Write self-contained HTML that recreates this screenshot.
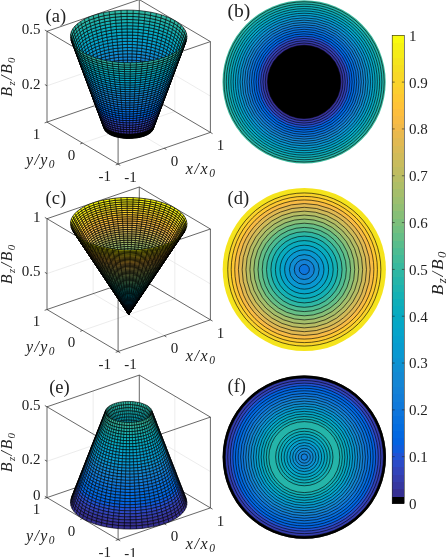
<!DOCTYPE html>
<html><head><meta charset="utf-8"><title>Figure</title>
<style>html,body{margin:0;padding:0;background:#fff}svg{display:block}</style></head>
<body>
<svg width="448" height="557" viewBox="0 0 448 557">
<rect width="448" height="557" fill="#fff"/>
<g>
<line x1="47" y1="85.78" x2="139.3" y2="54.08" stroke="#dfdfdf" stroke-width="0.6" />
<line x1="139.3" y1="54.08" x2="210.4" y2="96.08" stroke="#dfdfdf" stroke-width="0.6" />
<line x1="93.15" y1="106.25" x2="93.15" y2="15.45" stroke="#dfdfdf" stroke-width="0.6" />
<line x1="174.85" y1="111.4" x2="174.85" y2="20.6" stroke="#dfdfdf" stroke-width="0.6" />
<line x1="164.25" y1="148.25" x2="93.15" y2="106.25" stroke="#dfdfdf" stroke-width="0.6" />
<line x1="82.55" y1="143.1" x2="174.85" y2="111.4" stroke="#dfdfdf" stroke-width="0.6" />
<line x1="118.1" y1="164.1" x2="210.4" y2="132.4" stroke="#262626" stroke-width="0.7" />
<line x1="118.1" y1="73.3" x2="210.4" y2="41.6" stroke="#262626" stroke-width="0.7" />
<line x1="118.1" y1="164.1" x2="118.1" y2="73.3" stroke="#262626" stroke-width="0.7" />
<line x1="210.4" y1="132.4" x2="139.3" y2="90.4" stroke="#262626" stroke-width="0.7" />
<line x1="210.4" y1="41.6" x2="139.3" y2="-0.4" stroke="#262626" stroke-width="0.7" />
<line x1="210.4" y1="132.4" x2="210.4" y2="41.6" stroke="#262626" stroke-width="0.7" />
<line x1="139.3" y1="90.4" x2="47" y2="122.1" stroke="#262626" stroke-width="0.7" />
<line x1="139.3" y1="-0.4" x2="47" y2="31.3" stroke="#262626" stroke-width="0.7" />
<line x1="139.3" y1="90.4" x2="139.3" y2="-0.4" stroke="#262626" stroke-width="0.7" />
<line x1="47" y1="122.1" x2="118.1" y2="164.1" stroke="#262626" stroke-width="0.7" />
<line x1="47" y1="31.3" x2="118.1" y2="73.3" stroke="#262626" stroke-width="0.7" />
<line x1="47" y1="122.1" x2="47" y2="31.3" stroke="#262626" stroke-width="0.7" />
<line x1="118.1" y1="164.1" x2="120.25" y2="165.37" stroke="#262626" stroke-width="0.7" />
<line x1="164.25" y1="148.25" x2="166.4" y2="149.52" stroke="#262626" stroke-width="0.7" />
<line x1="210.4" y1="132.4" x2="212.55" y2="133.67" stroke="#262626" stroke-width="0.7" />
<line x1="118.1" y1="164.1" x2="115.74" y2="164.91" stroke="#262626" stroke-width="0.7" />
<line x1="82.55" y1="143.1" x2="80.19" y2="143.91" stroke="#262626" stroke-width="0.7" />
<line x1="47" y1="122.1" x2="44.64" y2="122.91" stroke="#262626" stroke-width="0.7" />
<line x1="47" y1="85.78" x2="44.85" y2="84.51" stroke="#262626" stroke-width="0.7" />
<line x1="47" y1="31.3" x2="44.85" y2="30.03" stroke="#262626" stroke-width="0.7" />
<g stroke="#000" stroke-width="0.65" stroke-opacity="1" stroke-linejoin="round"><path fill="#000000" d="M154 126.8l.4-1.2 0-1.2-.2-1.2-.5-1.2-.7-1.2-1.1-1.1-1.3-1.1-1.5-1-1.8-1-1.9-.8-2.2-.7-2.3-.7-2.4-.5-2.5-.4-2.7-.3-2.6-.2-2.7 0-2.7 0-2.7 .3-2.5 .3-2.5 .4-2.4 .6-2.2 .7-2.1 .8-1.8 .9-1.6 .9-1.4 1.1-1.2 1-.9 1.2-.6 1.2-.4 1.2 0 1.2 .2 1.2 1 2.6-.2-1.1 0-1.2 .3-1.2 .6-1.1 .9-1.1 1.1-1.1 1.4-1 1.5-.9 1.8-.8 2-.8 2.1-.6 2.3-.6 2.4-.4 2.5-.3 2.5-.2 2.6-.1 2.6 0 2.6 .2 2.5 .3 2.4 .4 2.4 .5 2.2 .6 2 .7 1.9 .8 1.7 .9 1.5 1 1.2 1 1 1.1 .8 1.1 .4 1.2 .2 1.1 0 1.2-.3 1.2z"/><path fill="#000000" d="M155 124.2l.4-1.2 0-1.3-.2-1.3-.5-1.2-.8-1.2-1.1-1.2-1.3-1.1-1.6-1.1-1.8-.9-2.1-.9-2.2-.8-2.4-.7-2.5-.5-2.7-.4-2.7-.3-2.8-.2-2.7-.1-2.8 .1-2.8 .2-2.7 .4-2.6 .5-2.4 .6-2.3 .7-2.1 .8-2 .9-1.7 1-1.4 1.1-1.2 1.1-.9 1.2-.7 1.2-.4 1.3 0 1.2 .2 1.3 1 2.6-.2-1.2 0-1.2 .4-1.2 .6-1.2 .9-1.2 1.2-1 1.4-1.1 1.6-.9 1.8-.9 2.1-.8 2.2-.7 2.4-.6 2.5-.4 2.5-.3 2.7-.3 2.7 0 2.7 0 2.6 .2 2.7 .3 2.5 .4 2.4 .5 2.3 .7 2.2 .7 1.9 .8 1.8 1 1.5 1 1.3 1.1 1.1 1.1 .7 1.2 .5 1.2 .2 1.2 0 1.2-.4 1.2z"/><path fill="#363093" d="M156 121.6l.3-1.3 .1-1.3-.2-1.3-.6-1.3-.8-1.2-1.1-1.3-1.4-1.1-1.6-1.1-1.9-1-2.1-.9-2.3-.8-2.5-.7-2.6-.6-2.8-.4-2.8-.4-2.9-.1-2.9-.1-2.9 .1-2.8 .2-2.8 .4-2.7 .5-2.5 .6-2.4 .7-2.2 .9-2 .9-1.8 1.1-1.5 1.1-1.2 1.2-1 1.2-.7 1.3-.3 1.3-.1 1.3 .2 1.3 1 2.6-.2-1.3 0-1.2 .4-1.3 .7-1.2 .9-1.2 1.2-1.1 1.4-1.1 1.7-1 2-.9 2.1-.8 2.3-.7 2.4-.6 2.6-.5 2.7-.4 2.8-.2 2.8-.1 2.7 .1 2.8 .2 2.7 .3 2.7 .4 2.5 .5 2.4 .7 2.2 .8 2.1 .9 1.8 .9 1.6 1.1 1.3 1.1 1.1 1.2 .8 1.2 .5 1.2 .2 1.3 0 1.3-.4 1.2z"/><path fill="#3637a0" d="M156.9 119l.4-1.3 .1-1.4-.3-1.3-.5-1.4-.9-1.3-1.1-1.2-1.5-1.2-1.7-1.1-1.9-1.1-2.2-.9-2.4-.9-2.6-.7-2.7-.6-2.8-.4-2.9-.4-3-.1-3-.1-3 .1-3 .2-2.8 .4-2.8 .5-2.6 .7-2.5 .7-2.3 .9-2.1 1-1.8 1-1.5 1.2-1.3 1.2-1 1.3-.7 1.3-.4 1.3-.1 1.4 .3 1.4 .9 2.6-.2-1.3 .1-1.3 .3-1.3 .7-1.3 1-1.2 1.2-1.2 1.5-1.1 1.8-1.1 2-.9 2.2-.9 2.4-.7 2.5-.6 2.7-.5 2.8-.4 2.8-.2 2.9-.1 2.9 .1 2.9 .1 2.8 .4 2.8 .4 2.6 .6 2.5 .7 2.3 .8 2.1 .9 1.9 1 1.6 1.1 1.4 1.1 1.1 1.3 .8 1.2 .6 1.3 .2 1.3-.1 1.3-.3 1.3z"/><path fill="#353dad" d="M157.9 116.4l.4-1.3 .1-1.4-.3-1.4-.5-1.4-.9-1.4-1.2-1.3-1.5-1.2-1.8-1.2-2-1.1-2.3-.9-2.4-.9-2.7-.7-2.8-.6-2.9-.5-3-.4-3.1-.2-3.1 0-3.1 .1-3.1 .2-3 .4-2.8 .6-2.8 .6-2.5 .8-2.4 .9-2.1 1-1.9 1.1-1.6 1.2-1.3 1.3-1.1 1.3-.7 1.3-.4 1.4-.1 1.4 .3 1.4 1 2.7-.3-1.4 .1-1.4 .4-1.3 .7-1.3 1-1.3 1.3-1.2 1.5-1.2 1.8-1 2.1-1 2.3-.9 2.5-.7 2.6-.7 2.8-.5 2.8-.4 3-.2 3-.1 3 .1 3 .1 2.9 .4 2.8 .4 2.7 .6 2.6 .7 2.4 .9 2.2 .9 1.9 1.1 1.7 1.1 1.5 1.2 1.1 1.2 .9 1.3 .5 1.4 .3 1.3-.1 1.4-.4 1.3z"/><path fill="#3243ba" d="M158.9 113.9l.4-1.5 .1-1.4-.3-1.5-.6-1.4-.9-1.4-1.2-1.3-1.6-1.3-1.8-1.2-2.1-1.1-2.3-1-2.6-.9-2.7-.8-2.9-.6-3-.5-3.2-.4-3.2-.2-3.2 0-3.2 .1-3.1 .2-3.1 .4-3 .6-2.8 .7-2.6 .8-2.5 .9-2.2 1-1.9 1.2-1.7 1.2-1.4 1.3-1 1.4-.8 1.4-.4 1.4-.1 1.5 .3 1.4 1 2.6-.3-1.4 .1-1.4 .4-1.4 .7-1.3 1.1-1.3 1.3-1.3 1.6-1.2 1.9-1.1 2.1-1 2.4-.9 2.5-.8 2.8-.6 2.8-.6 3-.4 3.1-.2 3.1-.1 3.1 0 3.1 .2 3 .4 2.9 .5 2.8 .6 2.7 .7 2.4 .9 2.3 .9 2 1.1 1.8 1.2 1.5 1.2 1.2 1.3 .9 1.4 .5 1.4 .3 1.4-.1 1.4-.4 1.3z"/><path fill="#2c4ac7" d="M159.8 111.3l.5-1.5 0-1.5-.2-1.5-.6-1.5-1-1.4-1.3-1.4-1.5-1.3-1.9-1.3-2.2-1.1-2.4-1-2.6-1-2.8-.8-3-.6-3.2-.5-3.2-.4-3.3-.2-3.3 0-3.3 .1-3.2 .2-3.2 .4-3.1 .6-2.9 .7-2.7 .8-2.5 1-2.3 1.1-2 1.2-1.7 1.2-1.5 1.4-1.1 1.4-.7 1.4-.5 1.5 0 1.5 .2 1.5 1 2.6-.3-1.4 .1-1.5 .4-1.4 .8-1.4 1-1.4 1.4-1.3 1.7-1.2 1.9-1.2 2.2-1 2.5-.9 2.6-.8 2.8-.7 3-.6 3.1-.4 3.1-.2 3.2-.1 3.2 0 3.2 .2 3.2 .4 3 .5 2.9 .6 2.7 .8 2.6 .9 2.3 1 2.1 1.1 1.8 1.2 1.6 1.3 1.2 1.3 .9 1.4 .6 1.4 .3 1.5-.1 1.4-.4 1.5z"/><path fill="#2053d4" d="M160.8 108.7l.4-1.5 .1-1.6-.2-1.5-.7-1.5-1-1.5-1.3-1.5-1.6-1.3-1.9-1.3-2.3-1.2-2.4-1-2.8-1-2.9-.8-3.1-.7-3.2-.5-3.3-.4-3.4-.2-3.4-.1-3.4 .2-3.4 .2-3.3 .5-3.1 .5-3 .8-2.8 .8-2.6 1-2.4 1.1-2 1.2-1.8 1.3-1.5 1.4-1.1 1.5-.8 1.5-.4 1.5-.1 1.6 .2 1.5 1 2.6-.2-1.5 0-1.5 .5-1.5 .7-1.4 1.1-1.4 1.5-1.4 1.7-1.2 2-1.2 2.3-1.1 2.5-1 2.7-.8 2.9-.7 3.1-.6 3.2-.4 3.2-.2 3.3-.1 3.3 0 3.3 .2 3.2 .4 3.2 .5 3 .6 2.8 .8 2.6 1 2.4 1 2.2 1.1 1.9 1.3 1.5 1.3 1.3 1.4 1 1.4 .6 1.5 .2 1.5 0 1.5-.5 1.5z"/><path fill="#0f5cdd" d="M161.8 106.1l.4-1.6 .1-1.6-.3-1.5-.6-1.6-1-1.5-1.4-1.5-1.7-1.4-2-1.3-2.3-1.3-2.5-1.1-2.8-.9-3-.9-3.2-.7-3.3-.5-3.4-.4-3.5-.2-3.5-.1-3.6 .1-3.4 .3-3.4 .5-3.2 .6-3.1 .7-2.9 .9-2.7 1-2.4 1.2-2.1 1.2-1.9 1.4-1.5 1.4-1.2 1.5-.8 1.5-.4 1.6-.1 1.6 .3 1.6 .9 2.6-.2-1.5 .1-1.6 .4-1.5 .8-1.5 1.1-1.5 1.5-1.4 1.8-1.3 2-1.2 2.4-1.1 2.6-1 2.8-.8 3-.8 3.1-.5 3.3-.5 3.4-.2 3.4-.2 3.4 .1 3.4 .2 3.3 .4 3.2 .5 3.1 .7 2.9 .8 2.8 1 2.4 1 2.3 1.2 1.9 1.3 1.6 1.3 1.3 1.5 1 1.5 .7 1.5 .2 1.5-.1 1.6-.4 1.5z"/><path fill="#0363e1" d="M162.7 103.5l.5-1.6 .1-1.6-.3-1.7-.7-1.6-1-1.6-1.4-1.5-1.7-1.4-2.1-1.4-2.3-1.2-2.7-1.2-2.9-1-3-.8-3.3-.7-3.4-.6-3.6-.4-3.5-.2-3.7-.1-3.6 .1-3.5 .3-3.5 .5-3.4 .6-3.1 .8-3 .9-2.8 1-2.5 1.2-2.2 1.3-1.8 1.4-1.6 1.4-1.2 1.6-.8 1.6-.5 1.6-.1 1.6 .3 1.7 1 2.6-.3-1.6 .1-1.6 .4-1.6 .8-1.5 1.2-1.5 1.5-1.4 1.9-1.4 2.1-1.2 2.4-1.2 2.7-1 2.9-.9 3.1-.7 3.2-.6 3.4-.5 3.4-.3 3.6-.1 3.5 .1 3.5 .2 3.4 .4 3.3 .5 3.2 .7 3 .9 2.8 .9 2.5 1.1 2.3 1.3 2 1.3 1.7 1.4 1.4 1.5 1 1.5 .6 1.6 .3 1.5-.1 1.6-.4 1.6z"/><path fill="#0268e1" d="M163.7 100.9l.5-1.6 .1-1.7-.3-1.7-.7-1.7-1.1-1.6-1.4-1.5-1.8-1.5-2.1-1.4-2.4-1.3-2.7-1.2-3-1-3.2-.9-3.3-.7-3.6-.6-3.6-.4-3.7-.2-3.7-.1-3.7 .1-3.7 .3-3.5 .5-3.5 .6-3.3 .8-3 .9-2.9 1.1-2.5 1.2-2.3 1.4-1.9 1.4-1.6 1.5-1.2 1.6-.9 1.6-.5 1.7-.1 1.7 .3 1.6 1 2.7-.3-1.7 .1-1.6 .5-1.6 .8-1.6 1.2-1.6 1.6-1.4 1.8-1.4 2.2-1.3 2.5-1.2 2.8-1 3-.9 3.1-.8 3.4-.6 3.5-.5 3.5-.3 3.6-.1 3.7 .1 3.5 .2 3.6 .4 3.4 .6 3.3 .7 3 .8 2.9 1 2.7 1.2 2.3 1.2 2.1 1.4 1.7 1.4 1.4 1.5 1 1.6 .7 1.6 .3 1.7-.1 1.6-.5 1.6z"/><path fill="#046de0" d="M164.7 98.3l.5-1.7 .1-1.7-.3-1.7-.7-1.7-1.1-1.7-1.5-1.6-1.8-1.5-2.2-1.4-2.5-1.4-2.8-1.2-3-1-3.3-1-3.5-.7-3.6-.6-3.7-.4-3.8-.3-3.8 0-3.8 .1-3.8 .3-3.7 .5-3.5 .6-3.4 .8-3.1 1-2.9 1.1-2.7 1.3-2.3 1.3-2 1.5-1.6 1.6-1.3 1.6-.9 1.7-.5 1.7-.1 1.7 .3 1.7 1 2.6-.3-1.6 .1-1.7 .5-1.7 .9-1.6 1.2-1.6 1.6-1.5 1.9-1.4 2.3-1.4 2.5-1.2 2.9-1.1 3-.9 3.3-.8 3.5-.6 3.5-.5 3.7-.3 3.7-.1 3.7 .1 3.7 .2 3.6 .4 3.6 .6 3.3 .7 3.2 .9 3 1 2.7 1.2 2.4 1.3 2.1 1.4 1.8 1.5 1.4 1.5 1.1 1.6 .7 1.7 .3 1.7-.1 1.7-.5 1.6z"/><path fill="#0871de" d="M165.6 95.8l.6-1.8 .1-1.8-.4-1.7-.7-1.8-1.1-1.7-1.5-1.6-1.9-1.6-2.2-1.5-2.6-1.3-2.9-1.3-3.1-1.1-3.3-.9-3.6-.8-3.7-.6-3.8-.4-3.9-.3-4 0-3.9 .1-3.8 .3-3.8 .5-3.6 .7-3.5 .8-3.2 1-3 1.1-2.7 1.3-2.4 1.4-2 1.5-1.7 1.6-1.3 1.7-.9 1.7-.6 1.8-.1 1.7 .4 1.8 .9 2.6-.3-1.7 .1-1.7 .5-1.7 .9-1.7 1.3-1.6 1.6-1.6 2-1.5 2.3-1.3 2.7-1.3 2.9-1.1 3.1-1 3.4-.8 3.5-.6 3.7-.5 3.8-.3 3.8-.1 3.8 0 3.8 .3 3.7 .4 3.6 .6 3.5 .7 3.3 1 3 1 2.8 1.2 2.5 1.4 2.2 1.4 1.8 1.5 1.5 1.6 1.1 1.7 .7 1.7 .3 1.7-.1 1.7-.5 1.7z"/><path fill="#0d75dc" d="M166.6 93.2l.5-1.8 .1-1.9-.3-1.8-.7-1.8-1.2-1.7-1.5-1.7-2-1.6-2.3-1.5-2.6-1.4-2.9-1.3-3.2-1.1-3.5-1-3.6-.8-3.8-.6-3.9-.4-4-.3-4.1 0-4 .1-4 .3-3.8 .5-3.8 .7-3.5 .8-3.3 1.1-3.1 1.1-2.8 1.3-2.4 1.5-2.1 1.5-1.7 1.7-1.4 1.7-.9 1.8-.5 1.8-.1 1.8 .3 1.8 1 2.6-.4-1.8 .1-1.7 .6-1.8 .9-1.7 1.3-1.7 1.7-1.6 2-1.5 2.4-1.4 2.7-1.3 3-1.1 3.2-1 3.5-.8 3.6-.7 3.8-.5 3.8-.3 3.9-.1 4 0 3.9 .3 3.8 .4 3.7 .6 3.6 .8 3.3 .9 3.1 1.1 2.9 1.3 2.6 1.3 2.2 1.5 1.9 1.6 1.5 1.6 1.1 1.7 .7 1.8 .4 1.7-.1 1.8-.6 1.8z"/><path fill="#1079da" d="M167.6 90.6l.5-1.9 .1-1.8-.3-1.9-.8-1.8-1.2-1.8-1.5-1.8-2-1.6-2.4-1.6-2.7-1.4-3-1.3-3.3-1.1-3.5-1-3.7-.9-3.9-.6-4.1-.4-4.1-.3-4.1-.1-4.1 .2-4.1 .3-4 .5-3.8 .7-3.6 .9-3.4 1-3.2 1.2-2.8 1.4-2.5 1.5-2.2 1.5-1.8 1.7-1.3 1.8-1 1.8-.5 1.8-.1 1.9 .3 1.9 1 2.6-.3-1.8 .1-1.8 .5-1.8 .9-1.8 1.4-1.7 1.7-1.7 2.1-1.5 2.4-1.5 2.8-1.3 3.1-1.1 3.3-1.1 3.5-.8 3.8-.7 3.8-.5 4-.3 4-.1 4.1 0 4 .3 3.9 .4 3.8 .6 3.6 .8 3.5 1 3.2 1.1 2.9 1.3 2.6 1.4 2.3 1.5 2 1.6 1.5 1.7 1.2 1.7 .7 1.8 .3 1.8-.1 1.9-.5 1.8z"/><path fill="#127dd8" d="M168.6 88l.5-1.9 .1-1.9-.3-1.9-.8-1.9-1.2-1.9-1.7-1.7-2-1.7-2.4-1.6-2.8-1.5-3-1.3-3.4-1.2-3.6-1-3.9-.8-4-.7-4.1-.4-4.2-.3-4.2-.1-4.3 .2-4.1 .3-4.1 .5-3.9 .7-3.7 .9-3.5 1.1-3.2 1.2-3 1.4-2.5 1.5-2.2 1.7-1.9 1.7-1.4 1.8-1 1.8-.5 1.9-.1 2 .3 1.9 1 2.6-.3-1.9 .1-1.9 .5-1.8 1-1.8 1.3-1.8 1.8-1.7 2.2-1.5 2.5-1.5 2.8-1.4 3.2-1.2 3.4-1 3.6-.9 3.8-.7 4-.5 4.1-.3 4.1-.2 4.1 .1 4.1 .3 4.1 .4 3.9 .6 3.7 .9 3.5 1 3.3 1.1 3 1.3 2.7 1.4 2.4 1.6 2 1.6 1.5 1.8 1.2 1.8 .8 1.8 .3 1.9-.1 1.8-.5 1.9z"/><path fill="#1481d6" d="M169.5 85.4l.6-1.9 .1-2-.4-1.9-.8-2-1.2-1.9-1.7-1.8-2.1-1.7-2.4-1.6-2.8-1.5-3.2-1.4-3.5-1.2-3.7-1.1-3.9-.8-4.1-.7-4.2-.5-4.3-.2-4.4-.1-4.3 .1-4.3 .4-4.1 .5-4 .8-3.9 .9-3.5 1.1-3.3 1.2-3 1.5-2.7 1.5-2.2 1.7-1.9 1.7-1.4 1.9-1 1.9-.6 1.9-.1 2 .4 1.9 .9 2.7-.3-1.9 .1-2 .5-1.9 1-1.8 1.4-1.8 1.9-1.7 2.2-1.7 2.5-1.5 3-1.4 3.2-1.2 3.5-1.1 3.7-.9 3.9-.7 4.1-.5 4.1-.3 4.3-.2 4.2 .1 4.2 .3 4.1 .4 4 .7 3.9 .8 3.6 1 3.4 1.2 3 1.3 2.8 1.5 2.4 1.6 2 1.7 1.7 1.7 1.2 1.9 .8 1.9 .3 1.9-.1 1.9-.5 1.9z"/><path fill="#1485d4" d="M170.5 82.8l.6-2 .1-2-.4-2-.8-2-1.3-1.9-1.7-1.8-2.1-1.8-2.5-1.7-2.9-1.5-3.3-1.4-3.5-1.2-3.8-1.1-4-.9-4.2-.7-4.3-.5-4.4-.2-4.5-.1-4.4 .1-4.4 .4-4.3 .5-4.1 .8-3.9 .9-3.6 1.2-3.4 1.3-3.1 1.4-2.7 1.6-2.3 1.7-1.9 1.8-1.5 1.9-1 1.9-.6 2-.1 2 .4 2 1 2.6-.4-1.9 .1-2 .6-1.9 1-1.9 1.4-1.9 1.9-1.7 2.2-1.7 2.7-1.5 3-1.5 3.3-1.2 3.5-1.1 3.9-.9 4-.8 4.1-.5 4.3-.4 4.3-.1 4.4 .1 4.3 .2 4.2 .5 4.1 .7 3.9 .8 3.7 1.1 3.5 1.2 3.2 1.4 2.8 1.5 2.4 1.6 2.1 1.7 1.7 1.8 1.2 1.9 .8 2 .4 1.9-.1 2-.6 1.9z"/><path fill="#1485d4" d="M171.5 80.2l.5-2 .2-2-.4-2.1-.8-2-1.3-2-1.8-1.9-2.2-1.8-2.6-1.7-2.9-1.6-3.3-1.4-3.6-1.3-3.9-1.1-4.1-.9-4.3-.7-4.5-.5-4.5-.3-4.5 0-4.6 .1-4.4 .4-4.4 .5-4.2 .8-4 1-3.7 1.1-3.5 1.4-3.1 1.4-2.8 1.7-2.3 1.7-2 1.9-1.5 1.9-1.1 2-.5 2-.2 2.1 .4 2 1 2.6-.4-2 .1-2 .6-2 1-1.9 1.5-1.9 1.9-1.8 2.3-1.7 2.7-1.6 3.1-1.4 3.4-1.3 3.6-1.2 3.9-.9 4.1-.8 4.3-.5 4.4-.4 4.4-.1 4.5 .1 4.4 .2 4.3 .5 4.2 .7 4 .9 3.8 1.1 3.5 1.2 3.3 1.4 2.9 1.5 2.5 1.7 2.1 1.8 1.7 1.8 1.3 1.9 .8 2 .4 2-.1 2-.6 2z"/><path fill="#1389d3" d="M172.4 77.7l.6-2.1 .1-2.1-.3-2.1-.9-2.1-1.3-2-1.8-2-2.2-1.8-2.7-1.8-3-1.6-3.4-1.4-3.7-1.3-4-1.1-4.2-1-4.4-.7-4.5-.5-4.6-.3-4.6 0-4.7 .1-4.6 .4-4.4 .6-4.3 .7-4.1 1-3.8 1.2-3.6 1.4-3.2 1.5-2.8 1.6-2.4 1.8-2 1.9-1.6 2-1 2-.6 2.1-.1 2.1 .3 2.1 1 2.6-.4-2 .2-2.1 .5-2 1.1-2 1.5-1.9 2-1.9 2.3-1.7 2.8-1.7 3.1-1.4 3.5-1.4 3.7-1.1 4-1 4.2-.8 4.4-.5 4.4-.4 4.6-.1 4.5 0 4.5 .3 4.5 .5 4.3 .7 4.1 .9 3.9 1.1 3.6 1.3 3.3 1.4 2.9 1.6 2.6 1.7 2.2 1.8 1.8 1.9 1.3 2 .8 2 .4 2.1-.2 2-.5 2z"/><path fill="#108ed2" d="M173.4 75.1l.6-2.2 .1-2.1-.4-2.1-.8-2.2-1.4-2-1.8-2-2.3-1.9-2.7-1.8-3.1-1.6-3.4-1.5-3.8-1.4-4.1-1.1-4.3-.9-4.5-.8-4.6-.5-4.7-.3-4.8-.1-4.7 .2-4.7 .4-4.6 .6-4.3 .8-4.2 1-3.9 1.2-3.6 1.4-3.3 1.5-2.9 1.7-2.5 1.8-2 2-1.6 2-1.1 2.1-.6 2.1-.1 2.1 .4 2.2 .9 2.6-.3-2.1 .1-2.1 .6-2.1 1-2 1.6-2 2-1.9 2.4-1.8 2.8-1.6 3.2-1.5 3.6-1.4 3.8-1.2 4.1-1 4.3-.7 4.4-.6 4.6-.4 4.7-.1 4.6 0 4.6 .3 4.5 .5 4.4 .7 4.2 1 4 1.1 3.7 1.3 3.4 1.4 3 1.6 2.7 1.8 2.2 1.8 1.8 2 1.3 2 .9 2.1 .3 2.1-.1 2.1-.6 2.1z"/><path fill="#0c93d2" d="M174.4 72.5l.6-2.2 .1-2.2-.4-2.2-.9-2.1-1.4-2.1-1.8-2.1-2.4-1.9-2.7-1.8-3.2-1.7-3.5-1.5-3.9-1.4-4.1-1.2-4.4-.9-4.6-.8-4.7-.5-4.8-.3-4.9-.1-4.8 .2-4.8 .4-4.7 .6-4.5 .8-4.2 1-4 1.3-3.7 1.4-3.4 1.6-2.9 1.7-2.5 1.8-2.1 2-1.6 2.1-1.2 2.1-.6 2.2-.1 2.2 .4 2.2 1 2.6-.4-2.2 .1-2.1 .6-2.1 1.1-2.1 1.6-2 2-2 2.5-1.8 2.9-1.7 3.3-1.5 3.6-1.4 3.9-1.2 4.2-1 4.3-.8 4.6-.6 4.7-.4 4.7-.2 4.8 .1 4.7 .3 4.6 .5 4.5 .8 4.3 .9 4.1 1.1 3.8 1.4 3.4 1.5 3.1 1.6 2.7 1.8 2.3 1.9 1.8 2 1.4 2 .8 2.2 .4 2.1-.1 2.1-.6 2.2z"/><path fill="#0998d1" d="M175.3 69.9l.7-2.2 .1-2.3-.4-2.2-.9-2.2-1.4-2.2-1.9-2-2.4-2-2.8-1.9-3.3-1.7-3.6-1.5-3.9-1.4-4.3-1.2-4.4-1-4.7-.8-4.8-.5-5-.3-4.9-.1-5 .2-4.9 .4-4.7 .6-4.6 .8-4.4 1.1-4 1.2-3.8 1.5-3.4 1.6-3 1.8-2.6 1.9-2.1 2-1.7 2.1-1.1 2.2-.7 2.2-.1 2.2 .4 2.3 1 2.6-.4-2.2 .1-2.2 .6-2.2 1.2-2.1 1.6-2.1 2.1-2 2.5-1.8 2.9-1.7 3.4-1.6 3.7-1.4 4-1.3 4.2-1 4.5-.8 4.7-.6 4.8-.4 4.8-.2 4.9 .1 4.8 .3 4.7 .5 4.6 .8 4.4 .9 4.1 1.2 3.9 1.4 3.5 1.5 3.2 1.7 2.7 1.8 2.4 1.9 1.8 2.1 1.4 2.1 .9 2.1 .4 2.2-.1 2.2-.6 2.2z"/><path fill="#079ccf" d="M176.3 67.3l.7-2.3 .1-2.2-.4-2.3-1-2.3-1.4-2.2-2-2.1-2.4-2-2.9-1.9-3.3-1.8-3.6-1.6-4.1-1.4-4.3-1.2-4.6-1-4.7-.8-5-.5-5-.3-5.1-.1-5 .2-5 .4-4.8 .6-4.7 .9-4.5 1-4.1 1.3-3.9 1.5-3.5 1.6-3 1.8-2.7 2-2.2 2-1.6 2.2-1.2 2.2-.7 2.3-.1 2.3 .4 2.2 1 2.7-.4-2.3 .1-2.2 .7-2.2 1.1-2.2 1.7-2.1 2.1-2 2.6-1.9 3-1.8 3.4-1.6 3.8-1.5 4-1.2 4.4-1.1 4.6-.8 4.7-.6 4.9-.4 5-.2 4.9 .1 5 .3 4.8 .5 4.7 .8 4.4 1 4.3 1.2 3.9 1.4 3.6 1.5 3.3 1.7 2.8 1.9 2.4 2 1.9 2 1.4 2.2 .9 2.2 .4 2.2-.1 2.3-.7 2.2z"/><path fill="#06a0cd" d="M177.3 64.7l.6-2.3 .2-2.3-.4-2.4-1-2.2-1.5-2.3-2-2.2-2.4-2-3-2-3.3-1.7-3.8-1.7-4.1-1.4-4.4-1.2-4.7-1.1-4.9-.8-5-.5-5.1-.3-5.2-.1-5.1 .1-5.1 .5-5 .6-4.7 .9-4.6 1.1-4.2 1.3-4 1.5-3.5 1.7-3.2 1.8-2.6 2-2.3 2.1-1.7 2.2-1.2 2.2-.6 2.4-.2 2.3 .4 2.3 1 2.6-.4-2.2 .1-2.3 .7-2.3 1.2-2.2 1.6-2.2 2.2-2 2.7-2 3-1.8 3.5-1.6 3.9-1.5 4.1-1.3 4.5-1 4.7-.9 4.8-.6 5-.4 5-.2 5.1 .1 5 .3 5 .5 4.7 .8 4.6 1 4.3 1.2 4.1 1.4 3.6 1.6 3.3 1.8 2.9 1.9 2.4 2 2 2.1 1.4 2.2 1 2.3 .4 2.3-.1 2.2-.7 2.3z"/><path fill="#06a4ca" d="M178.2 62.1l.7-2.3 .2-2.4-.5-2.4-.9-2.3-1.5-2.3-2.1-2.2-2.5-2.1-3-2-3.4-1.8-3.9-1.7-4.1-1.4-4.5-1.3-4.8-1-5-.8-5.1-.6-5.2-.4-5.3 0-5.3 .1-5.2 .5-5 .6-4.9 .9-4.6 1.1-4.3 1.4-4 1.5-3.7 1.7-3.2 1.9-2.7 2-2.3 2.1-1.7 2.3-1.2 2.3-.7 2.3-.2 2.4 .5 2.4 .9 2.6-.4-2.3 .2-2.3 .6-2.4 1.2-2.2 1.7-2.2 2.3-2.1 2.6-2 3.2-1.8 3.5-1.7 4-1.5 4.2-1.3 4.6-1.1 4.7-.9 5-.6 5.1-.5 5.1-.1 5.2 .1 5.1 .3 5 .5 4.9 .8 4.7 1.1 4.4 1.2 4.1 1.4 3.8 1.7 3.3 1.7 3 2 2.4 2 2 2.2 1.5 2.3 1 2.2 .4 2.4-.2 2.3-.6 2.3z"/><path fill="#06a7c6" d="M179.2 59.6l.7-2.5 .1-2.4-.4-2.4-1-2.4-1.5-2.3-2.1-2.3-2.6-2.1-3-2-3.5-1.9-3.9-1.7-4.3-1.5-4.6-1.3-4.8-1-5.1-.8-5.2-.6-5.4-.4-5.3 0-5.4 .1-5.3 .4-5.1 .7-5 .9-4.7 1.2-4.4 1.3-4.1 1.6-3.7 1.7-3.3 2-2.8 2-2.3 2.2-1.8 2.3-1.2 2.3-.7 2.4-.1 2.5 .4 2.4 1 2.6-.5-2.4 .2-2.4 .7-2.3 1.2-2.3 1.7-2.3 2.3-2.1 2.7-2 3.2-1.9 3.7-1.7 4-1.5 4.3-1.4 4.6-1.1 4.9-.9 5-.6 5.2-.5 5.3-.1 5.3 0 5.2 .4 5.1 .6 5 .8 4.8 1 4.5 1.3 4.1 1.4 3.9 1.7 3.4 1.8 3 2 2.5 2.1 2.1 2.2 1.5 2.3 .9 2.3 .5 2.4-.2 2.4-.7 2.3z"/><path fill="#07a9c2" d="M180.2 57l.7-2.5 .1-2.5-.4-2.4-1-2.5-1.6-2.3-2.1-2.3-2.6-2.2-3.1-2.1-3.6-1.9-4-1.7-4.3-1.5-4.7-1.3-5-1.1-5.1-.8-5.4-.6-5.4-.4-5.5-.1-5.4 .2-5.4 .4-5.3 .7-5 1-4.8 1.1-4.5 1.4-4.2 1.6-3.8 1.8-3.3 1.9-2.8 2.1-2.4 2.3-1.8 2.3-1.3 2.4-.7 2.4-.1 2.5 .4 2.5 1 2.6-.4-2.4 .1-2.5 .7-2.4 1.2-2.3 1.8-2.3 2.3-2.2 2.8-2 3.3-2 3.7-1.7 4.1-1.6 4.4-1.3 4.7-1.2 5-.9 5.1-.7 5.3-.4 5.4-.1 5.3 0 5.4 .4 5.2 .6 5.1 .8 4.8 1 4.6 1.3 4.3 1.5 3.9 1.7 3.5 1.9 3 2 2.6 2.1 2.1 2.3 1.5 2.3 1 2.4 .4 2.4-.1 2.4-.7 2.5z"/><path fill="#0aacbe" d="M181.2 54.4l.7-2.5 .1-2.5-.4-2.6-1.1-2.4-1.6-2.5-2.1-2.3-2.7-2.2-3.2-2.1-3.6-1.9-4-1.8-4.5-1.5-4.7-1.4-5.1-1.1-5.2-.8-5.5-.6-5.5-.4-5.6-.1-5.6 .2-5.4 .4-5.4 .7-5.1 1-4.9 1.2-4.6 1.4-4.3 1.6-3.8 1.8-3.4 2-2.9 2.1-2.4 2.3-1.9 2.4-1.3 2.4-.7 2.5-.1 2.5 .4 2.6 1 2.6-.4-2.5 .1-2.5 .7-2.4 1.3-2.4 1.8-2.3 2.4-2.3 2.8-2.1 3.3-1.9 3.8-1.8 4.2-1.6 4.5-1.4 4.8-1.1 5-1 5.3-.7 5.4-.4 5.4-.2 5.5 .1 5.4 .4 5.4 .6 5.1 .8 5 1.1 4.7 1.3 4.3 1.5 4 1.7 3.6 1.9 3.1 2.1 2.6 2.2 2.1 2.3 1.6 2.3 1 2.5 .4 2.4-.1 2.5-.7 2.5z"/><path fill="#0faeb9" d="M182.1 51.8l.8-2.5 .1-2.6-.5-2.6-1-2.5-1.6-2.5-2.2-2.4-2.7-2.2-3.3-2.1-3.7-2-4.1-1.8-4.5-1.6-4.9-1.3-5.1-1.2-5.4-.8-5.5-.7-5.6-.3-5.7-.1-5.7 .2-5.6 .4-5.4 .7-5.3 1-5 1.2-4.6 1.5-4.4 1.6-3.9 1.9-3.4 2-3 2.2-2.4 2.3-1.9 2.4-1.3 2.5-.8 2.5-.1 2.6 .5 2.5 .9 2.7-.4-2.6 .1-2.5 .7-2.5 1.3-2.4 1.9-2.4 2.4-2.3 2.9-2.1 3.4-2 3.8-1.8 4.3-1.6 4.6-1.4 4.9-1.2 5.1-1 5.4-.7 5.4-.4 5.6-.2 5.6 .1 5.5 .4 5.5 .6 5.2 .8 5.1 1.1 4.7 1.4 4.5 1.5 4 1.8 3.6 1.9 3.2 2.1 2.7 2.2 2.1 2.3 1.6 2.5 1.1 2.4 .4 2.6-.1 2.5-.7 2.5z"/><path fill="#15b1b4" d="M183.1 49.2l.7-2.6 .2-2.6-.5-2.6-1.1-2.6-1.6-2.5-2.2-2.4-2.8-2.3-3.3-2.2-3.8-2-4.2-1.8-4.6-1.6-4.9-1.4-5.2-1.1-5.5-.9-5.6-.7-5.8-.3-5.8-.1-5.7 .2-5.7 .4-5.6 .8-5.3 .9-5.1 1.3-4.7 1.4-4.4 1.7-4 1.9-3.5 2.1-3 2.2-2.5 2.3-2 2.5-1.3 2.5-.7 2.6-.2 2.6 .5 2.6 1 2.6-.5-2.5 .1-2.6 .8-2.5 1.3-2.5 1.9-2.4 2.4-2.3 3-2.2 3.4-2 3.9-1.9 4.4-1.6 4.6-1.5 5-1.2 5.3-1 5.4-.7 5.6-.4 5.7-.2 5.7 .1 5.6 .3 5.5 .7 5.4 .8 5.1 1.2 4.9 1.3 4.5 1.6 4.1 1.8 3.7 2 3.3 2.1 2.7 2.2 2.2 2.4 1.6 2.5 1 2.5 .5 2.6-.1 2.6-.8 2.5z"/><path fill="#1db3af" d="M184.1 46.6l.7-2.6 .2-2.7-.5-2.6-1.1-2.6-1.7-2.6-2.2-2.5-2.9-2.3-3.3-2.2-3.8-2.1-4.3-1.8-4.7-1.6-5-1.5-5.4-1.1-5.5-.9-5.7-.7-5.9-.3-5.9-.1-5.9 .2-5.7 .4-5.7 .8-5.4 1-5.2 1.2-4.8 1.5-4.5 1.7-4.1 1.9-3.5 2.1-3.1 2.3-2.5 2.4-2 2.5-1.4 2.6-.7 2.6-.2 2.7 .5 2.6 1 2.6-.5-2.6 .2-2.6 .7-2.6 1.3-2.5 2-2.5 2.5-2.3 3-2.2 3.5-2.1 4-1.9 4.4-1.7 4.7-1.4 5.1-1.3 5.3-.9 5.6-.8 5.7-.4 5.7-.2 5.8 .1 5.8 .3 5.6 .7 5.5 .9 5.2 1.1 4.9 1.4 4.6 1.6 4.2 1.8 3.8 2 3.3 2.2 2.8 2.3 2.2 2.4 1.6 2.5 1.1 2.6 .5 2.6-.2 2.6-.7 2.6z"/><path fill="#25b5a9" d="M185 44l.8-2.6 .1-2.8-.4-2.7-1.1-2.6-1.8-2.6-2.3-2.5-2.8-2.4-3.4-2.3-3.9-2-4.4-1.9-4.8-1.7-5.1-1.4-5.4-1.2-5.6-.9-5.9-.7-5.9-.3-6-.1-6 .2-5.9 .4-5.7 .8-5.6 1-5.2 1.3-4.9 1.5-4.6 1.7-4.1 2-3.7 2.1-3.1 2.3-2.6 2.4-1.9 2.6-1.4 2.6-.8 2.7-.1 2.7 .4 2.7 1 2.6-.5-2.6 .2-2.7 .7-2.6 1.4-2.6 2-2.5 2.5-2.4 3.1-2.3 3.5-2.1 4.1-1.9 4.5-1.7 4.8-1.5 5.2-1.2 5.4-1 5.7-.8 5.7-.4 5.9-.2 5.9 .1 5.9 .3 5.7 .7 5.5 .9 5.4 1.1 5 1.5 4.7 1.6 4.3 1.8 3.8 2.1 3.3 2.2 2.9 2.3 2.2 2.5 1.7 2.6 1.1 2.6 .5 2.6-.2 2.7-.7 2.6z"/><path fill="#2eb7a4" d="M186 41.5l.8-2.8 .1-2.7-.5-2.8-1.1-2.7-1.7-2.6-2.4-2.6-2.9-2.4-3.5-2.3-3.9-2.1-4.4-1.9-4.9-1.7-5.2-1.5-5.5-1.2-5.8-.9-5.9-.7-6-.4-6.1-.1-6.1 .2-6 .5-5.8 .8-5.7 1-5.3 1.3-5 1.6-4.7 1.7-4.2 2-3.7 2.2-3.1 2.3-2.7 2.5-2 2.6-1.4 2.6-.8 2.8-.1 2.7 .5 2.8 .9 2.6-.4-2.7 .1-2.7 .8-2.7 1.4-2.6 1.9-2.6 2.6-2.4 3.1-2.3 3.7-2.1 4.1-2 4.6-1.7 4.9-1.5 5.2-1.3 5.6-1 5.7-.8 5.9-.4 6-.2 6 .1 5.9 .3 5.9 .7 5.6 .9 5.4 1.2 5.1 1.4 4.8 1.7 4.4 1.9 3.9 2 3.4 2.3 2.8 2.4 2.3 2.5 1.8 2.6 1.1 2.6 .4 2.7-.1 2.8-.8 2.6z"/>
<path fill="none" d="M148.3 120.5l.8-2.9 .8-3 .8-2.9 .7-2.9 .8-3 .8-2.9 .8-3 .8-2.9 .7-2.9 .8-3 .8-2.9 .8-2.9 .8-3 .7-2.9 .8-3 .8-2.9 .8-2.9 .8-3 .7-2.9 .8-3 .8-2.9 .8-2.9 .8-3 .7-2.9 .8-3 .8-2.9 .8-2.9 .8-3 .7-2.9 .8-2.9 .8-3 .8-2.9 .8-3 .7-2.9M146.6 119.6l.7-3 .8-2.9 .7-3 .7-3 .7-3 .7-2.9 .7-3 .7-3 .7-3 .8-2.9 .7-3 .7-3 .7-2.9 .7-3 .7-3 .7-3 .8-2.9 .7-3 .7-3 .7-3 .7-2.9 .7-3 .7-3 .7-3 .8-2.9 .7-3 .7-3 .7-3 .7-2.9 .7-3 .7-3 .8-3 .7-2.9 .7-3M144.7 118.8l.7-3 .6-3 .7-3 .6-3 .6-3 .7-3 .6-3 .7-3 .6-3.1 .6-3 .7-3 .6-3 .6-3 .7-3 .6-3 .7-3 .6-3 .6-3 .7-3 .6-3 .7-3 .6-3 .6-3 .7-3.1 .6-3 .6-3 .7-3 .6-3 .7-3 .6-3 .6-3 .7-3 .6-3 .7-3M142.7 118.1l.5-3 .6-3.1 .6-3 .5-3.1 .6-3 .5-3 .6-3.1 .5-3 .6-3 .5-3.1 .6-3 .6-3 .5-3.1 .6-3 .5-3 .6-3.1 .5-3 .6-3 .6-3.1 .5-3 .6-3.1 .5-3 .6-3 .5-3.1 .6-3 .6-3 .5-3.1 .6-3 .5-3 .6-3.1 .5-3 .6-3 .5-3.1 .6-3M140.5 117.5l.4-3.1 .5-3.1 .5-3 .4-3.1 .5-3 .5-3.1 .5-3.1 .4-3 .5-3.1 .5-3 .4-3.1 .5-3.1 .5-3 .4-3.1 .5-3 .5-3.1 .4-3.1 .5-3 .5-3.1 .4-3 .5-3.1 .5-3.1 .4-3 .5-3.1 .5-3 .5-3.1 .4-3.1 .5-3 .5-3.1 .4-3 .5-3.1 .5-3.1 .4-3 .5-3.1M138.1 117l.4-3.1 .4-3.1 .4-3.1 .3-3.1 .4-3 .4-3.1 .4-3.1 .3-3.1 .4-3.1 .4-3 .4-3.1 .3-3.1 .4-3.1 .4-3.1 .4-3.1 .3-3 .4-3.1 .4-3.1 .4-3.1 .3-3.1 .4-3 .4-3.1 .4-3.1 .3-3.1 .4-3.1 .4-3 .4-3.1 .3-3.1 .4-3.1 .4-3.1 .4-3 .3-3.1 .4-3.1 .4-3.1M135.7 116.6l.3-3.1 .2-3.1 .3-3.1 .3-3.1 .3-3.1 .3-3.1 .2-3.1 .3-3.1 .3-3.1 .3-3.1 .2-3.1 .3-3.1 .3-3.1 .3-3.1 .3-3.1 .2-3.1 .3-3.1 .3-3.1 .3-3.1 .2-3.1 .3-3.1 .3-3.1 .3-3.1 .3-3.1 .2-3.1 .3-3 .3-3.1 .3-3.1 .3-3.1 .2-3.1 .3-3.1 .3-3.1 .3-3.1 .2-3.1M133.2 116.3l.1-3.1 .2-3.1 .2-3.2 .2-3.1 .2-3.1 .1-3.1 .2-3.1 .2-3.1 .2-3.1 .1-3.1 .2-3.1 .2-3.1 .2-3.1 .2-3.1 .1-3.1 .2-3.1 .2-3.2 .2-3.1 .1-3.1 .2-3.1 .2-3.1 .2-3.1 .2-3.1 .1-3.1 .2-3.1 .2-3.1 .2-3.1 .1-3.1 .2-3.1 .2-3.2 .2-3.1 .2-3.1 .1-3.1 .2-3.1M130.6 116.1l.1-3.1 0-3.1 .1-3.1 .1-3.1 .1-3.2 0-3.1 .1-3.1 .1-3.1 .1-3.1 .1-3.1 0-3.1 .1-3.2 .1-3.1 .1-3.1 0-3.1 .1-3.1 .1-3.1 .1-3.1 0-3.2 .1-3.1 .1-3.1 .1-3.1 0-3.1 .1-3.1 .1-3.1 .1-3.2 0-3.1 .1-3.1 .1-3.1 .1-3.1 0-3.1 .1-3.1 .1-3.1 .1-3.2M128 116.1l0-3.1 0-3.2-.1-3.1 0-3.1 0-3.1-.1-3.1 0-3.1 0-3.2 0-3.1-.1-3.1 0-3.1 0-3.1-.1-3.1 0-3.1 0-3.2 0-3.1-.1-3.1 0-3.1 0-3.1 0-3.1-.1-3.2 0-3.1 0-3.1-.1-3.1 0-3.1 0-3.1 0-3.1-.1-3.2 0-3.1 0-3.1-.1-3.1 0-3.1 0-3.1 0-3.2M125.4 116.2l-.1-3.2-.1-3.1-.2-3.1-.1-3.1-.1-3.1-.2-3.1-.1-3.1-.1-3.1-.2-3.2-.1-3.1-.1-3.1-.1-3.1-.2-3.1-.1-3.1-.1-3.1-.2-3.1-.1-3.2-.1-3.1-.2-3.1-.1-3.1-.1-3.1-.1-3.1-.2-3.1-.1-3.1-.1-3.2-.2-3.1-.1-3.1-.1-3.1-.2-3.1-.1-3.1-.1-3.1-.2-3.1-.1-3.1-.1-3.2M122.9 116.4l-.3-3.1-.2-3.2-.2-3.1-.3-3.1-.2-3.1-.2-3.1-.2-3.1-.3-3.1-.2-3.1-.2-3.1-.3-3.1-.2-3.1-.2-3.1-.3-3.1-.2-3.1-.2-3.1-.3-3.1-.2-3.1-.2-3.1-.3-3.1-.2-3.1-.2-3.1-.3-3.1-.2-3.1-.2-3.1-.3-3.1-.2-3.2-.2-3.1-.2-3.1-.3-3.1-.2-3.1-.2-3.1-.3-3.1-.2-3.1M120.4 116.7l-.3-3.1-.4-3.1-.3-3.1-.3-3.1-.4-3.1-.3-3.1-.3-3.1-.4-3-.3-3.1-.3-3.1-.3-3.1-.4-3.1-.3-3.1-.3-3.1-.4-3.1-.3-3.1-.3-3.1-.4-3.1-.3-3.1-.3-3-.4-3.1-.3-3.1-.3-3.1-.3-3.1-.4-3.1-.3-3.1-.3-3.1-.4-3.1-.3-3.1-.3-3.1-.4-3-.3-3.1-.3-3.1-.3-3.1M118 117.1l-.4-3.1-.5-3-.4-3.1-.4-3.1-.4-3-.5-3.1-.4-3.1-.4-3.1-.4-3-.5-3.1-.4-3.1-.4-3.1-.4-3-.5-3.1-.4-3.1-.4-3.1-.4-3-.5-3.1-.4-3.1-.4-3.1-.4-3-.5-3.1-.4-3.1-.4-3-.4-3.1-.5-3.1-.4-3.1-.4-3-.4-3.1-.5-3.1-.4-3.1-.4-3-.5-3.1-.4-3.1M115.7 117.7l-.5-3.1-.5-3-.5-3.1-.5-3-.6-3.1-.5-3-.5-3.1-.5-3-.5-3.1-.5-3-.6-3.1-.5-3.1-.5-3-.5-3.1-.5-3-.5-3.1-.6-3-.5-3.1-.5-3-.5-3.1-.5-3-.5-3.1-.6-3-.5-3.1-.5-3-.5-3.1-.5-3-.5-3.1-.5-3-.6-3.1-.5-3-.5-3.1-.5-3-.5-3.1M113.6 118.3l-.6-3-.6-3-.6-3.1-.6-3-.6-3-.6-3-.6-3.1-.6-3-.6-3-.6-3-.6-3.1-.6-3-.6-3-.6-3-.6-3.1-.6-3-.6-3-.6-3-.6-3.1-.6-3-.6-3-.6-3-.6-3.1-.6-3-.6-3-.6-3-.6-3.1-.6-3-.6-3-.6-3-.6-3.1-.6-3-.6-3-.6-3M111.6 119.1l-.7-3-.6-3-.7-3-.7-3-.7-3-.7-3-.6-3-.7-3-.7-3-.7-3-.7-3-.6-3-.7-3-.7-3-.7-3-.6-3-.7-3-.7-2.9-.7-3-.7-3-.6-3-.7-3-.7-3-.7-3-.7-3-.6-3-.7-3-.7-3-.7-3-.7-3-.6-3-.7-3-.7-3-.7-3M109.8 119.9l-.7-2.9-.8-3-.7-3-.8-2.9-.7-3-.8-3-.7-2.9-.8-3-.7-2.9-.8-3-.7-3-.8-2.9-.7-3-.8-3-.7-2.9-.8-3-.7-2.9-.8-3-.7-3-.8-2.9-.7-3-.8-2.9-.7-3-.8-3-.7-2.9-.8-3-.7-3-.8-2.9-.7-3-.8-2.9-.7-3-.8-3-.7-2.9-.8-3M108.3 120.8l-.8-2.9-.9-2.9-.8-2.9-.8-3-.8-2.9-.8-2.9-.8-2.9-.8-3-.8-2.9-.9-2.9-.8-2.9-.8-3-.8-2.9-.8-2.9-.8-2.9-.8-3-.9-2.9-.8-2.9-.8-2.9-.8-3-.8-2.9-.8-2.9-.8-2.9-.8-3-.9-2.9-.8-2.9-.8-2.9-.8-3-.8-2.9-.8-2.9-.8-2.9-.8-3-.9-2.9-.8-2.9M106.9 121.8l-.8-2.8-.9-2.9-.9-2.9-.8-2.9-.9-2.9-.9-2.9-.8-2.9-.9-2.9-.9-2.8-.8-2.9-.9-2.9-.9-2.9-.8-2.9-.9-2.9-.9-2.9-.8-2.8-.9-2.9-.9-2.9-.8-2.9-.9-2.9-.9-2.9-.8-2.9-.9-2.8-.9-2.9-.8-2.9-.9-2.9-.9-2.9-.8-2.9-.9-2.9-.9-2.8-.8-2.9-.9-2.9-.9-2.9-.8-2.9M105.8 122.9l-.9-2.9-.9-2.8-.9-2.8-.9-2.9-.9-2.8-1-2.9-.9-2.8-.9-2.9-.9-2.8-.9-2.9-.9-2.8-.9-2.8-.9-2.9-.9-2.8-1-2.9-.9-2.8-.9-2.9-.9-2.8-.9-2.8-.9-2.9-.9-2.8-.9-2.9-.9-2.8-1-2.9-.9-2.8-.9-2.9-.9-2.8-.9-2.8-.9-2.9-.9-2.8-.9-2.9-.9-2.8-1-2.9-.9-2.8M104.9 124l-.9-2.8-.9-2.8-1-2.8-.9-2.8-1-2.8-.9-2.8-1-2.8-.9-2.8-1-2.8-.9-2.8-.9-2.8-1-2.8-.9-2.8-1-2.8-.9-2.8-1-2.8-.9-2.8-1-2.8-.9-2.8-1-2.8-.9-2.8-.9-2.8-1-2.8-.9-2.8-1-2.8-.9-2.8-1-2.8-.9-2.8-1-2.8-.9-2.8-1-2.8-.9-2.8-.9-2.8-1-2.8M104.3 125.1l-.9-2.7-1-2.8-1-2.7-.9-2.8-1-2.8-1-2.7-.9-2.8-1-2.7-1-2.8-.9-2.7-1-2.8-1-2.7-.9-2.8-1-2.7-1-2.8-1-2.8-.9-2.7-1-2.8-1-2.7-.9-2.8-1-2.7-1-2.8-.9-2.7-1-2.8-1-2.8-.9-2.7-1-2.8-1-2.7-1-2.8-.9-2.7-1-2.8-1-2.7-.9-2.8-1-2.8M104 126.3l-1-2.7-1-2.7-.9-2.7-1-2.8-1-2.7-1-2.7-1-2.7-.9-2.7-1-2.7-1-2.7-1-2.7-1-2.7-1-2.7-.9-2.7-1-2.8-1-2.7-1-2.7-1-2.7-.9-2.7-1-2.7-1-2.7-1-2.7-1-2.7-1-2.7-.9-2.7-1-2.8-1-2.7-1-2.7-1-2.7-1-2.7-.9-2.7-1-2.7-1-2.7-1-2.7M104 127.5l-1-2.7-1-2.7-1-2.6-1-2.7-1-2.7-1-2.6-.9-2.7-1-2.6-1-2.7-1-2.7-1-2.6-1-2.7-1-2.7-.9-2.6-1-2.7-1-2.6-1-2.7-1-2.7-1-2.6-.9-2.7-1-2.7-1-2.6-1-2.7-1-2.6-1-2.7-1-2.7-.9-2.6-1-2.7-1-2.7-1-2.6-1-2.7-1-2.6-.9-2.7-1-2.7M104.2 128.6l-1-2.6-1-2.6-1-2.6-.9-2.6-1-2.7-1-2.6-1-2.6-1-2.6-.9-2.6-1-2.6-1-2.7-1-2.6-.9-2.6-1-2.6-1-2.6-1-2.6-.9-2.7-1-2.6-1-2.6-1-2.6-.9-2.6-1-2.6-1-2.6-1-2.7-1-2.6-.9-2.6-1-2.6-1-2.6-1-2.6-.9-2.7-1-2.6-1-2.6-1-2.6-.9-2.6M153.1 129.4l.9-2.6 1-2.6 1-2.6 .9-2.6 1-2.6 1-2.5 .9-2.6 1-2.6 1-2.6 .9-2.6 1-2.6 1-2.6 .9-2.5 1-2.6 1-2.6 1-2.6 .9-2.6 1-2.6 1-2.6 .9-2.5 1-2.6 1-2.6 .9-2.6 1-2.6 1-2.6 .9-2.6 1-2.5 1-2.6 1-2.6 .9-2.6 1-2.6 1-2.6 .9-2.6 1-2.5M153.4 128.2l1-2.6 1-2.6 .9-2.7 1-2.6 1-2.6 1-2.7 1-2.6 .9-2.6 1-2.7 1-2.6 1-2.6 1-2.7 1-2.6 .9-2.6 1-2.7 1-2.6 1-2.6 1-2.7 .9-2.6 1-2.6 1-2.7 1-2.6 1-2.6 1-2.7 .9-2.6 1-2.6 1-2.7 1-2.6 1-2.6 1-2.6 .9-2.7 1-2.6 1-2.6 1-2.7M153.4 127l1-2.6 1-2.7 1-2.7 1-2.7 1-2.6 1-2.7 .9-2.7 1-2.7 1-2.7 1-2.6 1-2.7 1-2.7 1-2.7 .9-2.7 1-2.6 1-2.7 1-2.7 1-2.7 1-2.6 .9-2.7 1-2.7 1-2.7 1-2.7 1-2.6 1-2.7 1-2.7 .9-2.7 1-2.7 1-2.6 1-2.7 1-2.7 1-2.7 .9-2.7 1-2.6M153.2 125.9l1-2.7 1-2.8 1-2.7 .9-2.7 1-2.7 1-2.8 1-2.7 1-2.7 .9-2.7 1-2.8 1-2.7 1-2.7 .9-2.7 1-2.8 1-2.7 1-2.7 .9-2.7 1-2.8 1-2.7 1-2.7 .9-2.7 1-2.8 1-2.7 1-2.7 1-2.8 .9-2.7 1-2.7 1-2.7 1-2.8 .9-2.7 1-2.7 1-2.7 1-2.8 .9-2.7M152.8 124.7l.9-2.7 1-2.8 .9-2.8 1-2.8 1-2.7 .9-2.8 1-2.8 .9-2.7 1-2.8 .9-2.8 1-2.8 1-2.7 .9-2.8 1-2.8 .9-2.7 1-2.8 .9-2.8 1-2.8 1-2.7 .9-2.8 1-2.8 .9-2.7 1-2.8 .9-2.8 1-2.7 1-2.8 .9-2.8 1-2.8 .9-2.7 1-2.8 .9-2.8 1-2.7 1-2.8 .9-2.8M152 123.6l1-2.8 .9-2.8 .9-2.8 .9-2.9 1-2.8 .9-2.8 .9-2.8 .9-2.8 1-2.8 .9-2.9 .9-2.8 1-2.8 .9-2.8 .9-2.8 .9-2.8 1-2.9 .9-2.8 .9-2.8 1-2.8 .9-2.8 .9-2.8 .9-2.8 1-2.9 .9-2.8 .9-2.8 1-2.8 .9-2.8 .9-2.8 .9-2.9 1-2.8 .9-2.8 .9-2.8 .9-2.8 1-2.8M151 122.5l.9-2.8 .9-2.9 .9-2.9 .9-2.8 .9-2.9 .9-2.8 .8-2.9 .9-2.9 .9-2.8 .9-2.9 .9-2.8 .9-2.9 .9-2.8 .9-2.9 .9-2.9 .8-2.8 .9-2.9 .9-2.8 .9-2.9 .9-2.9 .9-2.8 .9-2.9 .9-2.8 .8-2.9 .9-2.9 .9-2.8 .9-2.9 .9-2.8 .9-2.9 .9-2.9 .9-2.8 .9-2.9 .8-2.8 .9-2.9M149.8 121.5l.8-2.9 .9-2.9 .8-2.9 .8-2.9 .9-2.9 .8-2.9 .9-2.9 .8-2.9 .8-2.9 .9-2.9 .8-2.9 .9-2.9 .8-2.9 .8-2.9 .9-2.9 .8-2.9 .8-2.9 .9-2.9 .8-2.9 .9-2.9 .8-2.9 .8-2.9 .9-2.9 .8-2.9 .9-2.9 .8-2.9 .8-2.9 .9-2.9 .8-2.9 .9-2.9 .8-2.9 .8-2.9 .9-2.9 .8-2.9"/></g>
<g stroke="#000" stroke-width="0.65" stroke-opacity="1" stroke-linejoin="round"><path fill="#000000" d="M131.5 126.3l-.2-.1-.3-.2-.3-.1-.3 0-.4-.1-.3-.1-.4 0-.3 0-.4 0-.4 0-.3 0-.4 0-.3 .1-.4 .1-.3 .1-.2 .1-.3 .1-.2 .1-.2 .2-.2 .1-.1 .2-.1 .1 0 .2 0 .2 0 .1 .1 .2 .1 .2 .1 .1 .2 .2 .2 .1 .2 .1 .3 .2 .3 .1 .3 0 .4 .1 .3 .1 .4 0 .3 0 .4 0 .4 0 .3 0 .4 0 .3-.1 .4-.1 .3-.1 .2-.1 .3-.1 .2-.1 .2-.2 .2-.1 .1-.2 .1-.1 0-.2 0-.2 0-.1-.1-.2-.1-.2-.1-.1-.2-.2-.2-.1-2.8 .9 0 0 0 0 0 0 0 0 0 0 0 0 0 0 0 0 0 0 0 0 0 0 0 0 0 0 0 0 0 0 0 0 0 0 0 0 0 0 0 0 0 0 0 0 0 0 0 0 0 0 0 0 0 0 0 0 0 0 0 0 0 0 0 0 0 0 0 0 0 0 0 0 0 0 0 0 0 0 0 0 0 0 0 0 0 0 0 0 0 0 0 0 0 0 0 0 0 0 0 0 0 0 0 0 0 0 0 0 0 0 0 0 0 0 0 0 0 0 0 0z"/><path fill="#000000" d="M134.3 125.3l-.5-.2-.5-.3-.6-.2-.6-.1-.7-.2-.7-.1-.7-.1-.8 0-.7 0-.7 0-.8 0-.7 .1-.7 .2-.6 .1-.6 .2-.6 .2-.5 .3-.4 .2-.4 .3-.3 .3-.3 .3-.2 .3-.1 .4 0 .3 .1 .3 .1 .4 .2 .3 .3 .3 .4 .3 .4 .3 .5 .2 .5 .3 .6 .2 .6 .1 .7 .2 .7 .1 .7 .1 .8 0 .7 0 .7 0 .8 0 .7-.1 .7-.2 .6-.1 .6-.2 .6-.2 .5-.3 .4-.2 .4-.3 .3-.3 .3-.3 .2-.3 .1-.4 0-.3-.1-.3-.1-.4-.2-.3-.3-.3-.4-.3-.4-.3-2.8 1 .2 .1 .2 .2 .1 .1 .1 .2 .1 .2 0 .1 0 .2 0 .2-.1 .1-.1 .2-.2 .1-.2 .2-.2 .1-.3 .1-.2 .1-.3 .1-.4 .1-.3 .1-.4 0-.3 0-.4 0-.4 0-.3 0-.4 0-.3-.1-.4-.1-.3 0-.3-.1-.3-.2-.2-.1-.2-.1-.2-.2-.1-.1-.1-.2-.1-.2 0-.1 0-.2 0-.2 .1-.1 .1-.2 .2-.1 .2-.2 .2-.1 .3-.1 .2-.1 .3-.1 .4-.1 .3-.1 .4 0 .3 0 .4 0 .4 0 .3 0 .4 0 .3 .1 .4 .1 .3 0 .3 .1 .3 .2 .2 .1z"/><path fill="#000000" d="M137.1 124.4l-.7-.4-.8-.4-.9-.3-1-.2-1-.3-1-.1-1.1-.2-1.1 0-1.1 0-1.1 0-1.1 .1-1.1 .1-1 .2-1 .2-.9 .3-.8 .3-.8 .4-.7 .4-.5 .4-.5 .5-.4 .5-.2 .4-.2 .5 0 .5 .1 .5 .2 .5 .3 .5 .4 .5 .6 .4 .6 .4 .7 .4 .8 .4 .9 .3 1 .2 1 .3 1 .1 1.1 .2 1.1 0 1.1 0 1.1 0 1.1-.1 1.1-.1 1-.2 1-.2 .9-.3 .8-.3 .8-.4 .7-.4 .5-.4 .5-.5 .4-.5 .2-.4 .2-.5 0-.5-.1-.5-.2-.5-.3-.5-.4-.5-.6-.4-.6-.4-2.8 .9 .4 .3 .4 .3 .3 .3 .2 .3 .1 .4 .1 .3 0 .3-.1 .4-.2 .3-.3 .3-.3 .3-.4 .3-.4 .2-.5 .3-.6 .2-.6 .2-.6 .1-.7 .2-.7 .1-.8 0-.7 0-.7 0-.8 0-.7-.1-.7-.1-.7-.2-.6-.1-.6-.2-.5-.3-.5-.2-.4-.3-.4-.3-.3-.3-.2-.3-.1-.4-.1-.3 0-.3 .1-.4 .2-.3 .3-.3 .3-.3 .4-.3 .4-.2 .5-.3 .6-.2 .6-.2 .6-.1 .7-.2 .7-.1 .8 0 .7 0 .7 0 .8 0 .7 .1 .7 .1 .7 .2 .6 .1 .6 .2 .5 .3 .5 .2z"/><path fill="#000000" d="M139.9 123.4l-1-.5-1-.5-1.2-.4-1.3-.3-1.3-.3-1.4-.3-1.4-.1-1.5-.1-1.5 0-1.5 0-1.4 .1-1.4 .2-1.4 .3-1.3 .3-1.2 .4-1.2 .4-1 .5-.9 .5-.7 .6-.7 .6-.5 .6-.3 .6-.2 .7 0 .7 .1 .6 .2 .7 .5 .6 .5 .7 .8 .5 .8 .6 1 .5 1 .5 1.2 .4 1.3 .3 1.3 .3 1.4 .3 1.4 .1 1.5 .1 1.5 0 1.5 0 1.4-.1 1.4-.2 1.4-.3 1.3-.3 1.2-.3 1.2-.5 1-.5 .9-.5 .7-.6 .7-.6 .5-.6 .3-.6 .2-.7 0-.7-.1-.6-.2-.7-.5-.6-.5-.7-.8-.5-.8-.6-2.8 1 .6 .4 .6 .4 .4 .5 .3 .5 .2 .5 .1 .5 0 .5-.2 .5-.2 .4-.4 .5-.5 .5-.5 .4-.7 .4-.8 .4-.8 .3-.9 .3-1 .2-1 .2-1.1 .1-1.1 .1-1.1 0-1.1 0-1.1 0-1.1-.2-1-.1-1-.3-1-.2-.9-.3-.8-.4-.7-.4-.6-.4-.6-.4-.4-.5-.3-.5-.2-.5-.1-.5 0-.5 .2-.5 .2-.4 .4-.5 .5-.5 .5-.4 .7-.4 .8-.4 .8-.3 .9-.3 1-.2 1-.2 1.1-.1 1.1-.1 1.1 0 1.1 0 1.1 0 1.1 .2 1 .1 1 .3 1 .2 .9 .3 .8 .4 .7 .4z"/><path fill="#000000" d="M142.7 122.4l-1.2-.6-1.3-.6-1.5-.5-1.6-.4-1.7-.4-1.7-.3-1.8-.2-1.8-.1-1.9 0-1.8 0-1.9 .2-1.7 .2-1.7 .3-1.7 .4-1.5 .5-1.4 .5-1.3 .6-1.1 .7-1 .7-.8 .7-.6 .8-.4 .8-.2 .9-.1 .8 .2 .8 .3 .9 .5 .8 .8 .7 .8 .8 1.1 .7 1.2 .6 1.3 .6 1.5 .5 1.6 .4 1.7 .4 1.7 .3 1.8 .2 1.8 .1 1.9 0 1.8 0 1.9-.2 1.7-.2 1.7-.3 1.7-.4 1.5-.5 1.4-.5 1.3-.6 1.1-.7 1-.7 .8-.7 .6-.8 .4-.8 .2-.9 .1-.8-.2-.8-.3-.9-.5-.8-.8-.7-.8-.8-1.1-.7-2.8 1 .8 .6 .8 .5 .5 .7 .5 .6 .2 .7 .1 .6 0 .7-.2 .7-.3 .6-.5 .6-.7 .6-.7 .6-.9 .5-1 .5-1.2 .5-1.2 .3-1.3 .3-1.4 .3-1.4 .2-1.4 .1-1.5 0-1.5 0-1.5-.1-1.4-.1-1.4-.3-1.3-.3-1.3-.3-1.2-.4-1-.5-1-.5-.8-.6-.8-.5-.5-.7-.5-.6-.2-.7-.1-.6 0-.7 .2-.7 .3-.6 .5-.6 .7-.6 .7-.6 .9-.5 1-.5 1.2-.4 1.2-.4 1.3-.3 1.4-.3 1.4-.2 1.4-.1 1.5 0 1.5 0 1.5 .1 1.4 .1 1.4 .3 1.3 .3 1.3 .3 1.2 .4 1 .5 1 .5z"/><path fill="#000000" d="M145.5 121.5l-1.4-.8-1.6-.7-1.8-.6-1.9-.5-2-.5-2.1-.3-2.2-.3-2.2-.1-2.2 0-2.2 0-2.2 .2-2.1 .3-2.1 .4-1.9 .4-1.9 .6-1.6 .6-1.6 .8-1.3 .8-1.2 .8-.9 .9-.8 1-.5 .9-.3 1 0 1 .2 1 .4 1 .6 1 .9 .9 1 .9 1.3 .8 1.4 .8 1.6 .7 1.8 .6 1.9 .5 2 .5 2.1 .3 2.2 .3 2.2 .1 2.2 0 2.2 0 2.2-.2 2.1-.3 2.1-.4 1.9-.4 1.9-.6 1.6-.6 1.6-.8 1.3-.8 1.2-.8 .9-.9 .8-1 .5-.9 .3-1 0-1-.2-1-.4-1-.6-1-.9-.9-1-.9-1.3-.8-2.8 .9 1.1 .7 .8 .8 .8 .7 .5 .8 .3 .9 .2 .8-.1 .8-.2 .9-.4 .8-.6 .8-.8 .7-1 .7-1.1 .7-1.3 .6-1.4 .5-1.5 .5-1.7 .4-1.7 .3-1.7 .2-1.9 .2-1.8 0-1.9 0-1.8-.1-1.8-.2-1.7-.3-1.7-.4-1.6-.4-1.5-.5-1.3-.6-1.2-.6-1.1-.7-.8-.8-.8-.7-.5-.8-.3-.9-.2-.8 .1-.8 .2-.9 .4-.8 .6-.8 .8-.7 1-.7 1.1-.7 1.3-.6 1.4-.5 1.5-.5 1.7-.4 1.7-.3 1.7-.2 1.9-.2 1.8 0 1.9 0 1.8 .1 1.8 .2 1.7 .3 1.7 .4 1.6 .4 1.5 .5 1.3 .6 1.2 .6z"/><path fill="#000000" d="M148.3 120.5l-1.7-.9-1.9-.8-2-.7-2.2-.6-2.4-.5-2.4-.4-2.5-.3-2.6-.2-2.6 0-2.6 .1-2.5 .2-2.5 .3-2.4 .4-2.3 .6-2.1 .6-2 .8-1.8 .8-1.5 .9-1.4 1-1.1 1.1-.9 1.1-.6 1.1-.3 1.2 0 1.2 .2 1.1 .4 1.2 .8 1.1 1 1.1 1.2 1 1.5 1 1.7 .9 1.9 .8 2 .7 2.2 .6 2.4 .5 2.4 .4 2.5 .3 2.6 .2 2.6 0 2.6-.1 2.5-.2 2.5-.3 2.4-.4 2.3-.6 2.1-.6 2-.8 1.8-.8 1.5-.9 1.4-1 1.1-1.1 .9-1.1 .6-1.1 .3-1.2 0-1.2-.2-1.1-.4-1.2-.8-1.1-1-1.1-1.2-1-1.5-1-2.8 1 1.3 .8 1 .9 .9 .9 .6 1 .4 1 .2 1 0 1-.3 1-.5 .9-.8 1-.9 .9-1.2 .8-1.3 .8-1.6 .8-1.6 .6-1.9 .6-1.9 .4-2.1 .4-2.1 .3-2.2 .2-2.2 0-2.2 0-2.2-.1-2.2-.3-2.1-.3-2-.5-1.9-.5-1.8-.6-1.6-.7-1.4-.8-1.3-.8-1-.9-.9-.9-.6-1-.4-1-.2-1 0-1 .3-1 .5-.9 .8-1 .9-.9 1.2-.8 1.3-.8 1.6-.8 1.6-.6 1.9-.6 1.9-.4 2.1-.4 2.1-.3 2.2-.2 2.2 0 2.2 0 2.2 .1 2.2 .3 2.1 .3 2 .5 1.9 .5 1.8 .6 1.6 .7 1.4 .8z"/>
<path fill="none" d="M128.7 127.2l2.8-.9 2.8-1 2.8-.9 2.8-1 2.8-1 2.8-.9 2.8-1M128.7 127.2l2.6-1 2.5-1.1 2.6-1.1 2.5-1.1 2.6-1.1 2.6-1.1 2.5-1.1M128.7 127.2l2.3-1.2 2.3-1.2 2.3-1.2 2.3-1.2 2.3-1.2 2.3-1.2 2.2-1.2M128.7 127.2l2-1.3 2-1.3 2-1.3 2-1.3 2-1.3 2-1.3 2-1.3M128.7 127.2l1.7-1.3 1.7-1.4 1.6-1.4 1.7-1.4 1.7-1.4 1.7-1.4 1.7-1.4M128.7 127.2l1.3-1.4 1.4-1.5 1.3-1.5 1.4-1.4 1.3-1.5 1.4-1.5 1.3-1.4M128.7 127.2l1-1.5 1-1.5 1-1.5 1-1.6 1-1.5 1-1.5 1-1.5M128.7 127.2l.6-1.5 .7-1.6 .6-1.6 .7-1.5 .6-1.6 .6-1.6 .7-1.5M128.7 127.2l.3-1.5 .2-1.6 .3-1.6 .3-1.6 .3-1.6 .2-1.6 .3-1.6M128.7 127.2l-.1-1.5-.1-1.6-.1-1.6-.1-1.6-.1-1.6-.1-1.6-.1-1.6M128.7 127.2l-.5-1.5-.4-1.6-.5-1.6-.5-1.6-.4-1.6-.5-1.6-.5-1.5M128.7 127.2l-.8-1.5-.9-1.6-.8-1.5-.8-1.6-.9-1.5-.8-1.6-.8-1.5M128.7 127.2l-1.2-1.5-1.2-1.5-1.2-1.5-1.1-1.5-1.2-1.5-1.2-1.5-1.2-1.5M128.7 127.2l-1.5-1.4-1.6-1.4-1.5-1.5-1.5-1.4-1.5-1.5-1.6-1.4-1.5-1.5M128.7 127.2l-1.9-1.3-1.8-1.4-1.9-1.4-1.8-1.3-1.9-1.4-1.8-1.4-1.9-1.3M128.7 127.2l-2.2-1.2-2.1-1.3-2.2-1.3-2.1-1.2-2.2-1.3-2.2-1.3-2.1-1.3M128.7 127.2l-2.4-1.1-2.5-1.2-2.4-1.2-2.5-1.1-2.4-1.2-2.4-1.2-2.5-1.1M128.7 127.2l-2.7-1-2.7-1-2.7-1.1-2.7-1-2.7-1.1-2.7-1-2.7-1.1M128.7 127.2l-2.9-.9-2.9-.9-3-.9-2.9-.9-2.9-.9-2.9-.9-2.9-1M128.7 127.2l-3.1-.7-3.1-.8-3.1-.8-3.1-.7-3.2-.8-3.1-.8-3.1-.8M128.7 127.2l-3.3-.6-3.2-.6-3.3-.6-3.3-.6-3.3-.7-3.2-.6-3.3-.6M128.7 127.2l-3.4-.4-3.4-.5-3.4-.4-3.4-.5-3.4-.5-3.4-.4-3.4-.5M128.7 127.2l-3.5-.3-3.5-.3-3.4-.3-3.5-.3-3.5-.3-3.5-.3-3.5-.3M128.7 127.2l-3.5-.1-3.6-.1-3.5-.2-3.5-.1-3.5-.1-3.6-.2-3.5-.1M128.7 127.2l-3.5 .1-3.6 0-3.5 0-3.5 .1-3.6 0-3.5 0-3.5 .1M128.7 127.2l-3.5 .2-3.5 .2-3.5 .2-3.5 .2-3.5 .2-3.5 .2-3.5 .2M128.7 127.2l-3.4 .4-3.5 .4-3.4 .3-3.5 .4-3.4 .4-3.4 .3-3.5 .4M128.7 127.2l-3.3 .6-3.4 .5-3.3 .5-3.3 .5-3.4 .6-3.3 .5-3.3 .5M128.7 127.2l-3.2 .7-3.2 .7-3.2 .7-3.2 .7-3.1 .6-3.2 .7-3.2 .7M128.7 127.2l-3 .9-3 .8-3 .8-3 .8-3.1 .9-3 .8-3 .8M128.7 127.2l-2.8 1-2.8 1-2.8 .9-2.8 1-2.8 1-2.8 .9-2.8 1M128.7 127.2l-2.6 1.1-2.5 1.1-2.6 1.1-2.5 1.1-2.6 1.1-2.6 1.1-2.5 1.1M128.7 127.2l-2.3 1.3-2.3 1.2-2.3 1.2-2.3 1.2-2.3 1.2-2.3 1.2-2.2 1.2M128.7 127.2l-2 1.4-2 1.3-2 1.3-2 1.3-2 1.3-2 1.3-2 1.3M128.7 127.2l-1.7 1.4-1.7 1.4-1.6 1.4-1.7 1.4-1.7 1.4-1.7 1.4-1.7 1.4M128.7 127.2l-1.3 1.5-1.4 1.5-1.3 1.5-1.4 1.4-1.3 1.5-1.4 1.5-1.3 1.4M128.7 127.2l-1 1.6-1 1.5-1 1.5-1 1.6-1 1.5-1 1.5-1 1.5M128.7 127.2l-.6 1.6-.7 1.6-.6 1.6-.7 1.5-.6 1.6-.6 1.6-.7 1.5M128.7 127.2l-.3 1.6-.2 1.6-.3 1.6-.3 1.6-.3 1.6-.2 1.6-.3 1.6M128.7 127.2l.1 1.6 .1 1.6 .1 1.6 .1 1.6 .1 1.6 .1 1.6 .1 1.6M128.7 127.2l.5 1.6 .4 1.6 .5 1.6 .5 1.6 .4 1.6 .5 1.6 .5 1.5M128.7 127.2l.8 1.6 .9 1.6 .8 1.5 .8 1.6 .9 1.5 .8 1.6 .8 1.5M128.7 127.2l1.2 1.6 1.2 1.5 1.2 1.5 1.1 1.5 1.2 1.5 1.2 1.5 1.2 1.5M128.7 127.2l1.5 1.5 1.6 1.4 1.5 1.5 1.5 1.4 1.5 1.5 1.6 1.4 1.5 1.5M128.7 127.2l1.9 1.4 1.8 1.4 1.9 1.4 1.8 1.3 1.9 1.4 1.8 1.4 1.9 1.3M128.7 127.2l2.2 1.3 2.1 1.3 2.2 1.3 2.1 1.3 2.2 1.2 2.2 1.3 2.1 1.3M128.7 127.2l2.4 1.2 2.5 1.2 2.4 1.2 2.5 1.1 2.4 1.2 2.4 1.2 2.5 1.1M128.7 127.2l2.7 1.1 2.7 1 2.7 1.1 2.7 1 2.7 1.1 2.7 1 2.7 1.1M128.7 127.2l2.9 1 2.9 .9 3 .9 2.9 .9 2.9 .9 2.9 .9 2.9 1M128.7 127.2l3.1 .8 3.1 .8 3.1 .8 3.1 .7 3.2 .8 3.1 .8 3.1 .8M128.7 127.2l3.3 .7 3.2 .6 3.3 .6 3.3 .6 3.3 .7 3.2 .6 3.3 .6M128.7 127.2l3.4 .5 3.4 .5 3.4 .4 3.4 .5 3.4 .5 3.4 .4 3.4 .5M128.7 127.2l3.5 .4 3.5 .3 3.4 .3 3.5 .3 3.5 .3 3.5 .3 3.5 .3M128.7 127.2l3.5 .2 3.6 .1 3.5 .2 3.5 .1 3.5 .1 3.6 .2 3.5 .1M128.7 127.2l3.5 0 3.6 0 3.5 0 3.5-.1 3.6 0 3.5 0 3.5-.1M128.7 127.2l3.5-.1 3.5-.2 3.5-.2 3.5-.2 3.5-.2 3.5-.2 3.5-.2M128.7 127.2l3.4-.3 3.5-.4 3.4-.3 3.5-.4 3.4-.4 3.4-.3 3.5-.4M128.7 127.2l3.3-.5 3.4-.5 3.3-.5 3.3-.5 3.4-.6 3.3-.5 3.3-.5M128.7 127.2l3.2-.6 3.2-.7 3.2-.7 3.2-.7 3.1-.6 3.2-.7 3.2-.7M128.7 127.2l3-.8 3-.8 3-.8 3-.8 3.1-.9 3-.8 3-.8"/></g>
<g stroke="#000" stroke-width="0.65" stroke-opacity="1" stroke-linejoin="round"><path fill="#000000" d="M103.2 126l.5 1.2 .7 1.2 1.1 1.1 1.3 1.1 1.5 1 1.8 .9 1.9 .9 2.2 .7 2.3 .7 2.4 .5 2.5 .4 2.7 .3 2.6 .2 2.7 0 2.7-.1 2.7-.2 2.5-.3 2.5-.5 2.4-.6 2.2-.6 2.1-.8 1.8-.9 1.6-1 1.4-1 1.2-1.1 .9-1.1 .6-1.2-.9 2.6-.6 1.1-.9 1.1-1.1 1.1-1.4 1-1.5 .9-1.8 .8-2 .8-2.1 .6-2.3 .6-2.4 .4-2.5 .3-2.5 .2-2.6 .1-2.6 0-2.6-.2-2.5-.3-2.4-.4-2.4-.5-2.2-.6-2-.7-1.9-.8-1.7-.9-1.5-1-1.2-1-1-1.1-.8-1.1-.4-1.2z"/><path fill="#000000" d="M102.2 123.4l.5 1.2 .8 1.2 1.1 1.2 1.3 1.1 1.6 1.1 1.8 .9 2.1 .9 2.2 .8 2.4 .7 2.5 .5 2.7 .5 2.7 .3 2.8 .1 2.7 .1 2.8-.1 2.8-.2 2.7-.4 2.6-.5 2.4-.5 2.3-.8 2.1-.8 2-.9 1.7-1 1.4-1 1.2-1.2 .9-1.2 .7-1.2-1 2.6-.6 1.2-.9 1.1-1.2 1.1-1.4 1-1.6 1-1.8 .9-2.1 .8-2.2 .6-2.4 .6-2.5 .5-2.5 .3-2.7 .2-2.7 .1-2.7 0-2.6-.2-2.7-.3-2.5-.4-2.4-.5-2.3-.7-2.2-.7-1.9-.9-1.8-.9-1.5-1-1.3-1.1-1.1-1.1-.7-1.2-.5-1.2z"/><path fill="#363093" d="M101.2 120.8l.6 1.3 .8 1.2 1.1 1.2 1.4 1.2 1.6 1.1 1.9 1 2.1 .9 2.3 .8 2.5 .7 2.6 .6 2.8 .4 2.8 .3 2.9 .2 2.9 .1 2.9-.1 2.8-.3 2.8-.3 2.7-.5 2.5-.6 2.4-.8 2.2-.8 2-1 1.8-1 1.5-1.1 1.2-1.2 1-1.2 .7-1.3-1 2.6-.7 1.2-.9 1.2-1.2 1.2-1.4 1-1.7 1-2 .9-2.1 .8-2.3 .8-2.4 .5-2.6 .5-2.7 .4-2.8 .2-2.8 .1-2.7-.1-2.8-.1-2.7-.3-2.7-.5-2.5-.5-2.4-.7-2.2-.8-2.1-.9-1.8-.9-1.6-1.1-1.3-1.1-1.1-1.2-.8-1.2-.5-1.2z"/><path fill="#3637a0" d="M100.3 118.2l.5 1.3 .9 1.3 1.1 1.3 1.5 1.2 1.7 1.1 1.9 1 2.2 1 2.4 .8 2.6 .7 2.7 .6 2.8 .5 2.9 .3 3 .2 3 0 3-.1 3-.2 2.8-.4 2.8-.5 2.6-.6 2.5-.8 2.3-.9 2.1-.9 1.8-1.1 1.5-1.2 1.3-1.2 1-1.3 .7-1.3-.9 2.6-.7 1.3-1 1.2-1.2 1.2-1.5 1.1-1.8 1-2 1-2.2 .8-2.4 .8-2.5 .6-2.7 .5-2.8 .3-2.8 .3-2.9 .1-2.9-.1-2.9-.2-2.8-.3-2.8-.4-2.6-.6-2.5-.7-2.3-.8-2.1-.9-1.9-1-1.6-1.1-1.4-1.2-1.1-1.2-.8-1.2-.6-1.3z"/><path fill="#353dad" d="M99.3 115.5l.5 1.4 .9 1.4 1.2 1.3 1.5 1.2 1.8 1.2 2 1 2.3 1 2.4 .9 2.7 .7 2.8 .6 2.9 .5 3 .4 3.1 .2 3.1 0 3.1-.1 3.1-.2 3-.4 2.8-.6 2.8-.6 2.5-.8 2.4-.9 2.1-1 1.9-1.1 1.6-1.2 1.3-1.3 1.1-1.3 .7-1.4-1 2.6-.7 1.3-1 1.3-1.3 1.2-1.5 1.2-1.8 1.1-2.1 .9-2.3 .9-2.5 .8-2.6 .6-2.8 .5-2.8 .4-3 .2-3 .1-3 0-3-.2-2.9-.3-2.8-.5-2.7-.6-2.6-.7-2.4-.8-2.2-1-1.9-1-1.7-1.1-1.5-1.2-1.1-1.3-.9-1.3-.5-1.3z"/><path fill="#3243ba" d="M98.3 112.9l.6 1.5 .9 1.3 1.2 1.4 1.6 1.3 1.8 1.2 2.1 1.1 2.3 1 2.6 .9 2.7 .7 2.9 .7 3 .5 3.2 .3 3.2 .2 3.2 .1 3.2-.1 3.1-.3 3.1-.4 3-.5 2.8-.7 2.6-.8 2.5-1 2.2-1 1.9-1.1 1.7-1.3 1.4-1.3 1-1.3 .8-1.4-1 2.5-.7 1.4-1.1 1.3-1.3 1.3-1.6 1.2-1.9 1.1-2.1 1-2.4 .9-2.5 .8-2.8 .6-2.8 .6-3 .4-3.1 .2-3.1 .1-3.1 0-3.1-.2-3-.4-2.9-.5-2.8-.6-2.7-.7-2.4-.9-2.3-1-2-1-1.8-1.2-1.5-1.2-1.2-1.3-.9-1.4-.5-1.4z"/><path fill="#2c4ac7" d="M97.3 110.3l.6 1.5 1 1.4 1.3 1.4 1.5 1.3 1.9 1.3 2.2 1.1 2.4 1.1 2.6 .9 2.8 .8 3 .6 3.2 .5 3.2 .4 3.3 .2 3.3 0 3.3-.1 3.2-.2 3.2-.4 3.1-.6 2.9-.7 2.7-.8 2.5-1 2.3-1.1 2-1.2 1.7-1.2 1.5-1.4 1.1-1.4 .7-1.4-.9 2.6-.8 1.4-1 1.3-1.4 1.3-1.7 1.3-1.9 1.1-2.2 1-2.5 1-2.6 .8-2.8 .7-3 .5-3.1 .4-3.1 .3-3.2 .1-3.2-.1-3.2-.2-3.2-.3-3-.5-2.9-.7-2.7-.7-2.6-.9-2.3-1-2.1-1.1-1.8-1.2-1.6-1.3-1.2-1.4-.9-1.3-.6-1.5z"/><path fill="#2053d4" d="M96.3 107.7l.7 1.5 1 1.5 1.3 1.4 1.6 1.4 1.9 1.3 2.3 1.1 2.4 1.1 2.8 1 2.9 .8 3.1 .7 3.2 .5 3.3 .4 3.4 .2 3.4 0 3.4-.1 3.4-.3 3.3-.4 3.1-.6 3-.7 2.8-.8 2.6-1 2.4-1.2 2-1.2 1.8-1.3 1.5-1.4 1.1-1.4 .8-1.5-1 2.6-.7 1.4-1.1 1.4-1.5 1.4-1.7 1.2-2 1.2-2.3 1.1-2.5 1-2.7 .8-2.9 .7-3.1 .6-3.2 .4-3.2 .2-3.3 .1-3.3 0-3.3-.2-3.2-.4-3.2-.5-3-.6-2.8-.8-2.6-.9-2.4-1.1-2.2-1.1-1.9-1.3-1.5-1.3-1.3-1.4-1-1.4-.6-1.5z"/><path fill="#0f5cdd" d="M95.4 105.1l.6 1.5 1 1.6 1.4 1.4 1.7 1.4 2 1.4 2.3 1.2 2.5 1.1 2.8 1 3 .8 3.2 .7 3.3 .5 3.4 .4 3.5 .2 3.5 .1 3.6-.1 3.4-.3 3.4-.4 3.2-.6 3.1-.8 2.9-.9 2.7-1 2.4-1.1 2.1-1.3 1.9-1.3 1.5-1.5 1.2-1.5 .8-1.5-1 2.6-.8 1.5-1.1 1.4-1.5 1.4-1.8 1.3-2 1.2-2.4 1.2-2.6 1-2.8 .8-3 .7-3.1 .6-3.3 .4-3.4 .3-3.4 .1-3.4 0-3.4-.2-3.3-.4-3.2-.5-3.1-.7-2.9-.8-2.8-1-2.4-1.1-2.3-1.1-1.9-1.3-1.6-1.4-1.3-1.4-1-1.5-.7-1.5z"/><path fill="#0363e1" d="M94.4 102.5l.7 1.6 1 1.5 1.4 1.6 1.7 1.4 2.1 1.4 2.3 1.2 2.7 1.1 2.9 1.1 3 .8 3.3 .7 3.4 .6 3.6 .4 3.5 .2 3.7 .1 3.6-.1 3.5-.3 3.5-.5 3.4-.6 3.1-.8 3-.9 2.8-1 2.5-1.2 2.2-1.3 1.8-1.4 1.6-1.5 1.2-1.5 .8-1.6-.9 2.6-.8 1.5-1.2 1.5-1.5 1.5-1.9 1.3-2.1 1.3-2.4 1.1-2.7 1-2.9 .9-3.1 .8-3.2 .6-3.4 .4-3.4 .3-3.6 .1-3.5-.1-3.5-.2-3.4-.4-3.3-.5-3.2-.7-3-.8-2.8-1-2.5-1.1-2.3-1.2-2-1.4-1.7-1.4-1.4-1.4-1-1.6-.6-1.5z"/><path fill="#0268e1" d="M93.4 99.8l.7 1.7 1.1 1.6 1.4 1.6 1.8 1.5 2.1 1.4 2.4 1.2 2.7 1.2 3 1 3.2 .9 3.3 .8 3.6 .6 3.6 .4 3.7 .2 3.7 0 3.7-.1 3.7-.3 3.5-.4 3.5-.7 3.3-.8 3-.9 2.9-1.1 2.5-1.2 2.3-1.3 1.9-1.4 1.6-1.6 1.2-1.5 .9-1.7-1 2.6-.8 1.6-1.2 1.5-1.6 1.5-1.8 1.4-2.2 1.3-2.5 1.2-2.8 1-3 .9-3.1 .8-3.4 .6-3.5 .5-3.5 .3-3.6 .1-3.7-.1-3.5-.2-3.6-.4-3.4-.6-3.3-.7-3-.8-2.9-1.1-2.7-1.1-2.3-1.2-2.1-1.4-1.7-1.4-1.4-1.6-1-1.5-.7-1.6z"/><path fill="#046de0" d="M92.4 97.2l.7 1.7 1.1 1.7 1.5 1.6 1.8 1.5 2.2 1.5 2.5 1.3 2.8 1.2 3 1 3.3 1 3.5 .7 3.6 .6 3.7 .4 3.8 .3 3.8 0 3.8-.1 3.8-.3 3.7-.5 3.5-.6 3.4-.8 3.1-1 2.9-1.1 2.7-1.3 2.3-1.3 2-1.5 1.6-1.6 1.3-1.6 .9-1.7-1 2.6-.9 1.7-1.2 1.5-1.6 1.6-1.9 1.4-2.3 1.3-2.5 1.2-2.9 1.1-3 .9-3.3 .8-3.5 .7-3.5 .4-3.7 .3-3.7 .1-3.7 0-3.7-.2-3.6-.4-3.6-.6-3.3-.8-3.2-.9-3-1-2.7-1.2-2.4-1.2-2.1-1.4-1.8-1.5-1.4-1.6-1.1-1.6-.7-1.7z"/><path fill="#0871de" d="M91.5 94.6l.7 1.8 1.1 1.7 1.5 1.6 1.9 1.6 2.2 1.5 2.6 1.3 2.9 1.2 3.1 1.1 3.3 1 3.6 .8 3.7 .6 3.8 .4 3.9 .2 4 .1 3.9-.1 3.8-.3 3.8-.5 3.6-.7 3.5-.8 3.2-1 3-1.2 2.7-1.2 2.4-1.4 2-1.6 1.7-1.6 1.3-1.6 .9-1.7-.9 2.5-.9 1.7-1.3 1.6-1.6 1.6-2 1.5-2.3 1.3-2.7 1.3-2.9 1.1-3.1 1-3.4 .8-3.5 .6-3.7 .5-3.8 .3-3.8 .1-3.8 0-3.8-.3-3.7-.4-3.6-.6-3.5-.7-3.3-1-3-1-2.8-1.2-2.5-1.3-2.2-1.5-1.8-1.5-1.5-1.6-1.1-1.7-.7-1.7z"/><path fill="#0d75dc" d="M90.5 92l.7 1.8 1.2 1.7 1.5 1.7 2 1.6 2.3 1.6 2.6 1.3 2.9 1.3 3.2 1.1 3.5 1 3.6 .8 3.8 .6 3.9 .5 4 .2 4.1 .1 4-.2 4-.3 3.8-.5 3.8-.7 3.5-.8 3.3-1 3.1-1.2 2.8-1.3 2.4-1.5 2.1-1.5 1.7-1.6 1.4-1.8 .9-1.7-1 2.6-.9 1.7-1.3 1.6-1.7 1.6-2 1.6-2.4 1.4-2.7 1.2-3 1.2-3.2 1-3.5 .8-3.6 .7-3.8 .5-3.8 .3-3.9 .1-4-.1-3.9-.2-3.8-.4-3.7-.6-3.6-.8-3.3-1-3.1-1.1-2.9-1.2-2.6-1.3-2.2-1.5-1.9-1.6-1.5-1.6-1.1-1.7-.7-1.8z"/><path fill="#1079da" d="M89.5 89.4l.8 1.8 1.2 1.8 1.5 1.7 2 1.7 2.4 1.5 2.7 1.5 3 1.3 3.3 1.1 3.5 1 3.7 .8 3.9 .7 4.1 .4 4.1 .3 4.1 0 4.1-.1 4.1-.3 4-.5 3.8-.7 3.6-.9 3.4-1.1 3.2-1.2 2.8-1.3 2.5-1.5 2.2-1.6 1.8-1.6 1.3-1.8 1-1.8-1 2.6-.9 1.7-1.4 1.8-1.7 1.6-2.1 1.5-2.4 1.5-2.8 1.3-3.1 1.2-3.3 1-3.5 .8-3.8 .7-3.8 .5-4 .3-4 .2-4.1-.1-4-.2-3.9-.5-3.8-.6-3.6-.8-3.5-1-3.2-1.1-2.9-1.3-2.6-1.3-2.3-1.6-2-1.6-1.5-1.7-1.2-1.7-.7-1.8z"/><path fill="#127dd8" d="M88.5 86.8l.8 1.9 1.2 1.8 1.7 1.8 2 1.7 2.4 1.5 2.8 1.5 3 1.3 3.4 1.2 3.6 1 3.9 .9 4 .6 4.1 .5 4.2 .3 4.2 0 4.3-.1 4.1-.4 4.1-.5 3.9-.7 3.7-.9 3.5-1.1 3.2-1.2 3-1.4 2.5-1.5 2.2-1.6 1.9-1.7 1.4-1.8 1-1.9-1 2.6-1 1.8-1.3 1.8-1.8 1.6-2.2 1.6-2.5 1.5-2.8 1.3-3.2 1.2-3.4 1.1-3.6 .9-3.8 .7-4 .5-4.1 .3-4.1 .1-4.1 0-4.1-.3-4.1-.4-3.9-.7-3.7-.8-3.5-1-3.3-1.1-3-1.3-2.7-1.5-2.4-1.5-2-1.7-1.5-1.7-1.2-1.8-.8-1.8z"/><path fill="#1481d6" d="M87.6 84.1l.8 2 1.2 1.9 1.7 1.8 2.1 1.7 2.4 1.6 2.8 1.5 3.2 1.4 3.5 1.2 3.7 1.1 3.9 .8 4.1 .7 4.2 .5 4.3 .2 4.4 .1 4.3-.1 4.3-.4 4.1-.5 4-.8 3.9-.9 3.5-1.1 3.3-1.2 3-1.5 2.7-1.5 2.2-1.7 1.9-1.7 1.4-1.9 1-1.9-.9 2.6-1 1.9-1.4 1.8-1.9 1.7-2.2 1.6-2.5 1.5-3 1.4-3.2 1.2-3.5 1.1-3.7 .9-3.9 .7-4.1 .5-4.1 .4-4.3 .1-4.2 0-4.2-.3-4.1-.5-4-.6-3.9-.9-3.6-1-3.4-1.2-3-1.3-2.8-1.5-2.4-1.5-2-1.7-1.7-1.8-1.2-1.8-.8-1.9z"/><path fill="#1485d4" d="M86.6 81.5l.8 2 1.3 1.9 1.7 1.9 2.1 1.8 2.5 1.6 2.9 1.6 3.3 1.4 3.5 1.2 3.8 1.1 4 .9 4.2 .6 4.3 .5 4.4 .3 4.5 .1 4.4-.2 4.4-.3 4.3-.6 4.1-.7 3.9-1 3.6-1.1 3.4-1.3 3.1-1.4 2.7-1.6 2.3-1.7 1.9-1.8 1.5-1.9 1-2-1 2.6-1 1.9-1.4 1.9-1.9 1.7-2.2 1.7-2.7 1.5-3 1.5-3.3 1.2-3.5 1.1-3.9 .9-4 .8-4.1 .5-4.3 .4-4.3 .1-4.4-.1-4.3-.2-4.2-.5-4.1-.7-3.9-.8-3.7-1.1-3.5-1.2-3.2-1.4-2.8-1.5-2.4-1.6-2.1-1.7-1.7-1.8-1.2-1.9-.8-2z"/><path fill="#1485d4" d="M85.6 78.9l.8 2 1.3 2 1.8 1.9 2.2 1.8 2.6 1.7 2.9 1.6 3.3 1.4 3.6 1.3 3.9 1.1 4.1 .9 4.3 .7 4.5 .5 4.5 .3 4.5 0 4.6-.1 4.4-.4 4.4-.5 4.2-.8 4-1 3.7-1.1 3.5-1.3 3.1-1.5 2.8-1.6 2.3-1.8 2-1.8 1.5-2 1.1-2-1 2.6-1 2-1.5 1.9-1.9 1.8-2.3 1.7-2.7 1.6-3.1 1.4-3.4 1.3-3.6 1.1-3.9 1-4.1 .7-4.3 .6-4.4 .3-4.4 .2-4.5-.1-4.4-.3-4.3-.5-4.2-.6-4-.9-3.8-1.1-3.5-1.2-3.3-1.4-2.9-1.6-2.5-1.6-2.1-1.8-1.7-1.9-1.3-1.9-.8-2z"/><path fill="#1389d3" d="M84.6 76.3l.9 2.1 1.3 2 1.8 1.9 2.2 1.9 2.7 1.7 3 1.6 3.4 1.5 3.7 1.3 4 1.1 4.2 .9 4.4 .7 4.5 .6 4.6 .2 4.6 .1 4.7-.1 4.6-.4 4.4-.6 4.3-.8 4.1-1 3.8-1.1 3.6-1.4 3.2-1.5 2.8-1.7 2.4-1.7 2-1.9 1.6-2 1-2-.9 2.5-1.1 2-1.5 2-2 1.8-2.3 1.8-2.8 1.6-3.1 1.5-3.5 1.3-3.7 1.1-4 1-4.2 .8-4.4 .5-4.4 .4-4.6 .1-4.5 0-4.5-.3-4.5-.5-4.3-.7-4.1-.9-3.9-1.1-3.6-1.3-3.3-1.4-2.9-1.6-2.6-1.7-2.2-1.8-1.8-1.9-1.3-2-.8-2z"/><path fill="#108ed2" d="M83.7 73.7l.8 2.1 1.4 2.1 1.8 2 2.3 1.9 2.7 1.7 3.1 1.7 3.4 1.5 3.8 1.3 4.1 1.1 4.3 1 4.5 .7 4.6 .5 4.7 .3 4.8 .1 4.7-.2 4.7-.3 4.6-.6 4.3-.8 4.2-1 3.9-1.2 3.6-1.4 3.3-1.6 2.9-1.7 2.5-1.8 2-1.9 1.6-2 1.1-2.1-1 2.6-1 2-1.6 2-2 1.9-2.4 1.7-2.8 1.7-3.2 1.5-3.6 1.4-3.8 1.1-4.1 1-4.3 .8-4.4 .6-4.6 .4-4.7 .1-4.6-.1-4.6-.2-4.5-.6-4.4-.7-4.2-.9-4-1.1-3.7-1.3-3.4-1.5-3-1.6-2.7-1.7-2.2-1.9-1.8-1.9-1.3-2-.9-2.1z"/><path fill="#0c93d2" d="M82.7 71.1l.9 2.1 1.4 2.1 1.8 2.1 2.4 1.9 2.7 1.8 3.2 1.7 3.5 1.5 3.9 1.4 4.1 1.1 4.4 1 4.6 .8 4.7 .5 4.8 .3 4.9 .1 4.8-.2 4.8-.4 4.7-.6 4.5-.8 4.2-1 4-1.3 3.7-1.4 3.4-1.6 2.9-1.7 2.5-1.9 2.1-1.9 1.6-2.1 1.2-2.1-1 2.6-1.1 2.1-1.6 2-2 1.9-2.5 1.8-2.9 1.7-3.3 1.6-3.6 1.4-3.9 1.2-4.2 1-4.3 .8-4.6 .6-4.7 .3-4.7 .2-4.8-.1-4.7-.3-4.6-.5-4.5-.7-4.3-1-4.1-1.1-3.8-1.3-3.4-1.5-3.1-1.7-2.7-1.7-2.3-1.9-1.8-2-1.4-2.1-.8-2.1z"/><path fill="#0998d1" d="M81.7 68.5l.9 2.2 1.4 2.1 1.9 2.1 2.4 2 2.8 1.8 3.3 1.7 3.6 1.6 3.9 1.4 4.3 1.2 4.4 .9 4.7 .8 4.8 .6 5 .3 4.9 0 5-.1 4.9-.4 4.7-.6 4.6-.9 4.4-1 4-1.3 3.8-1.4 3.4-1.6 3-1.8 2.6-1.9 2.1-2 1.7-2.1 1.1-2.2-.9 2.6-1.2 2.1-1.6 2.1-2.1 1.9-2.5 1.9-2.9 1.7-3.4 1.6-3.7 1.4-4 1.3-4.2 1-4.5 .8-4.7 .6-4.8 .4-4.8 .2-4.9-.1-4.8-.3-4.7-.5-4.6-.8-4.4-1-4.1-1.1-3.9-1.4-3.5-1.5-3.2-1.7-2.7-1.8-2.4-1.9-1.8-2.1-1.4-2.1-.9-2.1z"/><path fill="#079ccf" d="M80.7 65.8l1 2.3 1.4 2.2 2 2.1 2.4 2 2.9 1.9 3.3 1.8 3.6 1.6 4.1 1.4 4.3 1.2 4.6 1 4.7 .8 5 .5 5 .3 5.1 .1 5-.1 5-.4 4.8-.7 4.7-.8 4.5-1.1 4.1-1.3 3.9-1.5 3.5-1.6 3-1.8 2.7-2 2.2-2 1.6-2.2 1.2-2.2-1 2.6-1.1 2.2-1.7 2.1-2.1 2-2.6 1.9-3 1.8-3.4 1.6-3.8 1.4-4 1.3-4.4 1-4.6 .9-4.7 .6-4.9 .4-5 .1-4.9 0-5-.3-4.8-.6-4.7-.8-4.4-.9-4.3-1.2-3.9-1.4-3.6-1.6-3.3-1.7-2.8-1.8-2.4-2-1.9-2.1-1.4-2.1-.9-2.2z"/><path fill="#06a0cd" d="M79.7 63.2l1 2.3 1.5 2.3 2 2.1 2.4 2.1 3 1.9 3.3 1.8 3.8 1.6 4.1 1.5 4.4 1.2 4.7 1 4.9 .8 5 .6 5.1 .3 5.2 .1 5.1-.2 5.1-.4 5-.6 4.7-.9 4.6-1.1 4.2-1.3 4-1.5 3.5-1.7 3.2-1.8 2.6-2 2.3-2.1 1.7-2.2 1.2-2.3-1 2.6-1.2 2.2-1.6 2.2-2.2 2-2.7 2-3 1.8-3.5 1.6-3.9 1.5-4.1 1.3-4.5 1.1-4.7 .8-4.8 .7-5 .4-5 .1-5.1-.1-5-.3-5-.5-4.7-.8-4.6-1-4.3-1.2-4.1-1.4-3.6-1.6-3.3-1.8-2.9-1.9-2.4-2-2-2.1-1.4-2.2-1-2.3z"/><path fill="#06a4ca" d="M78.8 60.6l.9 2.3 1.5 2.3 2.1 2.2 2.5 2.1 3 2 3.4 1.8 3.9 1.7 4.1 1.5 4.5 1.2 4.8 1.1 5 .8 5.1 .6 5.2 .3 5.3 .1 5.3-.2 5.2-.4 5-.7 4.9-.9 4.6-1.1 4.3-1.3 4-1.6 3.7-1.7 3.2-1.9 2.7-2 2.3-2.1 1.7-2.3 1.2-2.3-.9 2.6-1.2 2.3-1.7 2.2-2.3 2.1-2.6 2-3.2 1.8-3.5 1.7-4 1.5-4.2 1.3-4.6 1.1-4.7 .9-5 .6-5.1 .4-5.1 .2-5.2-.1-5.1-.3-5-.6-4.9-.8-4.7-1-4.4-1.2-4.1-1.5-3.8-1.6-3.3-1.8-3-1.9-2.4-2.1-2-2.1-1.5-2.3-1-2.3z"/><path fill="#06a7c6" d="M77.8 58l1 2.4 1.5 2.3 2.1 2.3 2.6 2.1 3 2 3.5 1.9 3.9 1.7 4.3 1.5 4.6 1.2 4.8 1.1 5.1 .8 5.2 .6 5.4 .4 5.3 0 5.4-.1 5.3-.5 5.1-.6 5-.9 4.7-1.2 4.4-1.3 4.1-1.6 3.7-1.8 3.3-1.9 2.8-2 2.3-2.2 1.8-2.3 1.2-2.3-1 2.5-1.2 2.3-1.7 2.3-2.3 2.1-2.7 2-3.2 1.9-3.7 1.7-4 1.6-4.3 1.3-4.6 1.1-4.9 .9-5 .7-5.2 .4-5.3 .2-5.3-.1-5.2-.3-5.1-.6-5-.8-4.8-1.1-4.5-1.2-4.1-1.5-3.9-1.7-3.4-1.8-3-2-2.5-2.1-2.1-2.2-1.5-2.3-.9-2.3z"/><path fill="#07a9c2" d="M76.8 55.4l1 2.4 1.6 2.4 2.1 2.3 2.6 2.2 3.1 2 3.6 1.9 4 1.7 4.3 1.5 4.7 1.4 5 1 5.1 .9 5.4 .6 5.4 .3 5.5 .1 5.4-.2 5.4-.4 5.3-.7 5-.9 4.8-1.2 4.5-1.4 4.2-1.5 3.8-1.8 3.3-2 2.8-2.1 2.4-2.2 1.8-2.3 1.3-2.4-1 2.6-1.2 2.3-1.8 2.3-2.3 2.2-2.8 2-3.3 1.9-3.7 1.8-4.1 1.6-4.4 1.3-4.7 1.2-5 .9-5.1 .6-5.3 .5-5.4 .1-5.3 0-5.4-.4-5.2-.6-5.1-.8-4.8-1.1-4.6-1.2-4.3-1.5-3.9-1.7-3.5-1.9-3-2-2.6-2.1-2.1-2.3-1.5-2.3-1-2.4z"/><path fill="#0aacbe" d="M75.8 52.8l1.1 2.4 1.6 2.5 2.1 2.3 2.7 2.2 3.2 2.1 3.6 1.9 4 1.8 4.5 1.5 4.7 1.4 5.1 1.1 5.2 .8 5.5 .6 5.5 .4 5.6 .1 5.6-.2 5.4-.4 5.4-.7 5.1-1 4.9-1.2 4.6-1.4 4.3-1.6 3.8-1.8 3.4-2 2.9-2.1 2.4-2.3 1.9-2.4 1.3-2.4-1 2.6-1.3 2.4-1.8 2.3-2.4 2.2-2.8 2.1-3.3 2-3.8 1.8-4.2 1.5-4.5 1.4-4.8 1.2-5 .9-5.3 .7-5.4 .4-5.4 .2-5.5-.1-5.4-.3-5.4-.6-5.1-.9-5-1-4.7-1.4-4.3-1.5-4-1.7-3.6-1.9-3.1-2-2.6-2.2-2.1-2.3-1.6-2.4-1-2.4z"/><path fill="#0faeb9" d="M74.9 50.1l1 2.6 1.6 2.4 2.2 2.4 2.7 2.3 3.3 2.1 3.7 2 4.1 1.8 4.5 1.5 4.9 1.4 5.1 1.1 5.4 .9 5.5 .6 5.6 .4 5.7 .1 5.7-.2 5.6-.5 5.4-.7 5.3-.9 5-1.3 4.6-1.4 4.4-1.6 3.9-1.9 3.4-2 3-2.2 2.4-2.3 1.9-2.4 1.3-2.5-.9 2.6-1.3 2.4-1.9 2.4-2.4 2.3-2.9 2.1-3.4 2-3.8 1.8-4.3 1.6-4.6 1.4-4.9 1.2-5.1 1-5.4 .7-5.4 .4-5.6 .2-5.6-.1-5.5-.4-5.5-.6-5.2-.8-5.1-1.1-4.7-1.4-4.5-1.5-4-1.8-3.6-1.9-3.2-2.1-2.7-2.2-2.1-2.3-1.6-2.5-1.1-2.4z"/><path fill="#15b1b4" d="M73.9 47.5l1.1 2.6 1.6 2.5 2.2 2.4 2.8 2.3 3.3 2.2 3.8 2 4.2 1.8 4.6 1.6 4.9 1.4 5.2 1.2 5.5 .9 5.6 .6 5.8 .3 5.8 .1 5.7-.2 5.7-.4 5.6-.7 5.3-1 5.1-1.2 4.7-1.5 4.4-1.7 4-1.9 3.5-2 3-2.2 2.5-2.4 2-2.5 1.3-2.5-1 2.6-1.3 2.5-1.9 2.4-2.4 2.3-3 2.2-3.4 2-3.9 1.9-4.4 1.6-4.6 1.4-5 1.3-5.3 .9-5.4 .7-5.6 .5-5.7 .2-5.7-.1-5.6-.4-5.5-.6-5.4-.9-5.1-1.1-4.9-1.4-4.5-1.5-4.1-1.8-3.7-2-3.3-2.1-2.7-2.3-2.2-2.4-1.6-2.4-1-2.6z"/><path fill="#1db3af" d="M72.9 44.9l1.1 2.6 1.7 2.6 2.2 2.5 2.9 2.3 3.3 2.2 3.8 2 4.3 1.9 4.7 1.6 5 1.4 5.4 1.2 5.5 .9 5.7 .6 5.9 .4 5.9 .1 5.9-.2 5.7-.4 5.7-.8 5.4-1 5.2-1.2 4.8-1.5 4.5-1.7 4.1-1.9 3.5-2.1 3.1-2.3 2.5-2.4 2-2.5 1.4-2.6-1 2.6-1.3 2.5-2 2.5-2.5 2.4-3 2.2-3.5 2-4 1.9-4.4 1.7-4.7 1.5-5.1 1.2-5.3 1-5.6 .7-5.7 .4-5.7 .2-5.8-.1-5.8-.3-5.6-.6-5.5-.9-5.2-1.2-4.9-1.4-4.6-1.6-4.2-1.8-3.8-2-3.3-2.2-2.8-2.3-2.2-2.4-1.6-2.5-1.1-2.6z"/><path fill="#25b5a9" d="M71.9 42.3l1.1 2.7 1.8 2.6 2.3 2.5 2.8 2.4 3.4 2.2 3.9 2.1 4.4 1.9 4.8 1.6 5.1 1.5 5.4 1.1 5.6 1 5.9 .6 5.9 .4 6 .1 6-.2 5.9-.5 5.7-.7 5.6-1 5.2-1.3 4.9-1.5 4.6-1.8 4.1-1.9 3.7-2.2 3.1-2.3 2.6-2.4 1.9-2.5 1.4-2.7-.9 2.6-1.4 2.6-2 2.5-2.5 2.4-3.1 2.3-3.5 2.1-4.1 1.9-4.5 1.7-4.8 1.5-5.2 1.2-5.4 1-5.7 .8-5.7 .4-5.9 .2-5.9-.1-5.9-.4-5.7-.6-5.5-.9-5.4-1.2-5-1.4-4.7-1.6-4.3-1.9-3.8-2-3.3-2.2-2.9-2.3-2.2-2.5-1.7-2.6-1.1-2.6z"/><path fill="#2eb7a4" d="M71 39.7l1.1 2.7 1.7 2.6 2.4 2.6 2.9 2.4 3.4 2.3 4 2.1 4.4 1.9 4.9 1.7 5.2 1.5 5.5 1.2 5.8 .9 5.9 .7 6 .4 6.1 .1 6.1-.2 6-.5 5.8-.8 5.7-1 5.3-1.3 5-1.6 4.7-1.7 4.2-2 3.7-2.2 3.1-2.3 2.7-2.5 2-2.6 1.4-2.6-1 2.5-1.4 2.7-1.9 2.5-2.6 2.4-3.1 2.3-3.7 2.2-4.1 1.9-4.6 1.8-4.9 1.5-5.2 1.3-5.6 1-5.7 .7-5.9 .5-6 .2-6-.1-5.9-.4-5.9-.6-5.6-1-5.4-1.1-5.1-1.5-4.8-1.6-4.4-1.9-3.9-2.1-3.4-2.2-2.8-2.4-2.3-2.5-1.8-2.6-1.1-2.7z"/>
<path fill="none" d="M104.2 128.6l-1-2.6-1-2.6-1-2.6-.9-2.6-1-2.7-1-2.6-1-2.6-1-2.6-.9-2.6-1-2.6-1-2.7-1-2.6-.9-2.6-1-2.6-1-2.6-1-2.6-.9-2.7-1-2.6-1-2.6-1-2.6-.9-2.6-1-2.6-1-2.6-1-2.7-1-2.6-.9-2.6-1-2.6-1-2.6-1-2.6-.9-2.7-1-2.6-1-2.6-1-2.6-.9-2.6M104.6 129.8l-.9-2.6-1-2.6-.9-2.5-1-2.6-1-2.6-.9-2.5-1-2.6-.9-2.6-1-2.6-.9-2.5-1-2.6-1-2.6-.9-2.5-1-2.6-.9-2.6-1-2.5-.9-2.6-1-2.6-1-2.6-.9-2.5-1-2.6-.9-2.6-1-2.5-.9-2.6-1-2.6-1-2.6-.9-2.5-1-2.6-.9-2.6-1-2.5-.9-2.6-1-2.6-1-2.5-.9-2.6M105.4 130.9l-1-2.5-.9-2.6-.9-2.5-.9-2.5-1-2.5-.9-2.6-.9-2.5-.9-2.5-1-2.5-.9-2.6-.9-2.5-1-2.5-.9-2.5-.9-2.6-.9-2.5-1-2.5-.9-2.5-.9-2.6-1-2.5-.9-2.5-.9-2.5-.9-2.6-1-2.5-.9-2.5-.9-2.5-1-2.6-.9-2.5-.9-2.5-.9-2.5-1-2.6-.9-2.5-.9-2.5-.9-2.5-1-2.6M106.4 132l-.9-2.5-.9-2.5-.9-2.5-.9-2.4-.9-2.5-.9-2.5-.8-2.5-.9-2.5-.9-2.5-.9-2.4-.9-2.5-.9-2.5-.9-2.5-.9-2.5-.9-2.5-.8-2.4-.9-2.5-.9-2.5-.9-2.5-.9-2.5-.9-2.4-.9-2.5-.9-2.5-.8-2.5-.9-2.5-.9-2.5-.9-2.4-.9-2.5-.9-2.5-.9-2.5-.9-2.5-.9-2.4-.8-2.5-.9-2.5M107.6 133l-.8-2.4-.9-2.5-.8-2.4-.8-2.4-.9-2.5-.8-2.4-.9-2.5-.8-2.4-.8-2.5-.9-2.4-.8-2.4-.9-2.5-.8-2.4-.8-2.5-.9-2.4-.8-2.4-.8-2.5-.9-2.4-.8-2.5-.9-2.4-.8-2.4-.8-2.5-.9-2.4-.8-2.5-.9-2.4-.8-2.5-.8-2.4-.9-2.4-.8-2.5-.9-2.4-.8-2.5-.8-2.4-.9-2.4-.8-2.5M109.1 134l-.8-2.4-.8-2.4-.8-2.4-.7-2.4-.8-2.4-.8-2.4-.8-2.4-.8-2.4-.7-2.4-.8-2.4-.8-2.4-.8-2.4-.8-2.4-.7-2.4-.8-2.5-.8-2.4-.8-2.4-.8-2.4-.7-2.4-.8-2.4-.8-2.4-.8-2.4-.8-2.4-.7-2.4-.8-2.4-.8-2.4-.8-2.4-.8-2.4-.7-2.4-.8-2.4-.8-2.4-.8-2.4-.8-2.4-.8-2.4M110.8 134.9l-.7-2.4-.8-2.4-.7-2.3-.7-2.4-.7-2.4-.7-2.3-.7-2.4-.7-2.4-.7-2.3-.8-2.4-.7-2.4-.7-2.3-.7-2.4-.7-2.4-.7-2.3-.7-2.4-.8-2.4-.7-2.3-.7-2.4-.7-2.4-.7-2.3-.7-2.4-.7-2.4-.7-2.3-.8-2.4-.7-2.4-.7-2.3-.7-2.4-.7-2.4-.7-2.3-.7-2.4-.8-2.4-.7-2.3-.7-2.4M112.7 135.7l-.7-2.3-.6-2.4-.7-2.3-.6-2.3-.6-2.4-.7-2.3-.6-2.3-.7-2.4-.6-2.3-.6-2.4-.7-2.3-.6-2.3-.6-2.4-.7-2.3-.6-2.3-.7-2.4-.6-2.3-.6-2.3-.7-2.4-.6-2.3-.7-2.3-.6-2.4-.6-2.3-.7-2.3-.6-2.4-.6-2.3-.7-2.3-.6-2.4-.7-2.3-.6-2.3-.6-2.4-.7-2.3-.6-2.3-.7-2.4M114.7 136.4l-.5-2.3-.6-2.3-.6-2.3-.5-2.3-.6-2.3-.5-2.3-.6-2.3-.5-2.3-.6-2.3-.5-2.3-.6-2.4-.6-2.3-.5-2.3-.6-2.3-.5-2.3-.6-2.3-.5-2.3-.6-2.3-.6-2.3-.5-2.3-.6-2.3-.5-2.3-.6-2.3-.5-2.3-.6-2.3-.6-2.3-.5-2.3-.6-2.4-.5-2.3-.6-2.3-.5-2.3-.6-2.3-.5-2.3-.6-2.3M116.9 137l-.4-2.2-.5-2.3-.5-2.3-.4-2.3-.5-2.3-.5-2.3-.5-2.2-.4-2.3-.5-2.3-.5-2.3-.4-2.3-.5-2.2-.5-2.3-.4-2.3-.5-2.3-.5-2.3-.4-2.2-.5-2.3-.5-2.3-.4-2.3-.5-2.3-.5-2.3-.4-2.2-.5-2.3-.5-2.3-.5-2.3-.4-2.3-.5-2.2-.5-2.3-.4-2.3-.5-2.3-.5-2.3-.4-2.2-.5-2.3M119.3 137.5l-.4-2.2-.4-2.3-.4-2.2-.3-2.3-.4-2.3-.4-2.2-.4-2.3-.3-2.2-.4-2.3-.4-2.3-.4-2.2-.3-2.3-.4-2.2-.4-2.3-.4-2.3-.3-2.2-.4-2.3-.4-2.2-.4-2.3-.3-2.3-.4-2.2-.4-2.3-.4-2.3-.3-2.2-.4-2.3-.4-2.2-.4-2.3-.3-2.3-.4-2.2-.4-2.3-.4-2.2-.3-2.3-.4-2.3-.4-2.2M121.7 137.9l-.3-2.2-.2-2.2-.3-2.3-.3-2.2-.3-2.3-.3-2.2-.2-2.3-.3-2.2-.3-2.3-.3-2.2-.2-2.2-.3-2.3-.3-2.2-.3-2.3-.3-2.2-.2-2.3-.3-2.2-.3-2.3-.3-2.2-.2-2.3-.3-2.2-.3-2.2-.3-2.3-.3-2.2-.2-2.3-.3-2.2-.3-2.3-.3-2.2-.3-2.3-.2-2.2-.3-2.2-.3-2.3-.3-2.2-.2-2.3M124.2 138.2l-.1-2.2-.2-2.2-.2-2.3-.2-2.2-.2-2.2-.1-2.3-.2-2.2-.2-2.2-.2-2.3-.1-2.2-.2-2.2-.2-2.3-.2-2.2-.2-2.2-.1-2.3-.2-2.2-.2-2.2-.2-2.3-.1-2.2-.2-2.2-.2-2.3-.2-2.2-.2-2.2-.1-2.3-.2-2.2-.2-2.2-.2-2.3-.1-2.2-.2-2.3-.2-2.2-.2-2.2-.2-2.3-.1-2.2-.2-2.2M126.8 138.4l-.1-2.2 0-2.3-.1-2.2-.1-2.2-.1-2.2 0-2.3-.1-2.2-.1-2.2-.1-2.3-.1-2.2 0-2.2-.1-2.2-.1-2.3-.1-2.2 0-2.2-.1-2.2-.1-2.3-.1-2.2 0-2.2-.1-2.3-.1-2.2-.1-2.2 0-2.2-.1-2.3-.1-2.2-.1-2.2 0-2.2-.1-2.3-.1-2.2-.1-2.2 0-2.3-.1-2.2-.1-2.2-.1-2.2M129.4 138.4l0-2.2 0-2.2 .1-2.2 0-2.3 0-2.2 .1-2.2 0-2.3 0-2.2 0-2.2 .1-2.2 0-2.3 0-2.2 .1-2.2 0-2.2 0-2.3 0-2.2 .1-2.2 0-2.2 0-2.3 0-2.2 .1-2.2 0-2.2 0-2.3 .1-2.2 0-2.2 0-2.2 0-2.3 .1-2.2 0-2.2 0-2.2 .1-2.3 0-2.2 0-2.2 0-2.2M132 138.3l.1-2.2 .1-2.2 .2-2.2 .1-2.3 .1-2.2 .2-2.2 .1-2.3 .1-2.2 .2-2.2 .1-2.2 .1-2.3 .1-2.2 .2-2.2 .1-2.3 .1-2.2 .2-2.2 .1-2.2 .1-2.3 .2-2.2 .1-2.2 .1-2.3 .1-2.2 .2-2.2 .1-2.2 .1-2.3 .2-2.2 .1-2.2 .1-2.3 .2-2.2 .1-2.2 .1-2.3 .2-2.2 .1-2.2 .1-2.2M134.5 138.1l.3-2.2 .2-2.2 .2-2.3 .3-2.2 .2-2.2 .2-2.3 .2-2.2 .3-2.3 .2-2.2 .2-2.2 .3-2.3 .2-2.2 .2-2.2 .3-2.3 .2-2.2 .2-2.3 .3-2.2 .2-2.2 .2-2.3 .3-2.2 .2-2.2 .2-2.3 .3-2.2 .2-2.2 .2-2.3 .3-2.2 .2-2.3 .2-2.2 .2-2.2 .3-2.3 .2-2.2 .2-2.2 .3-2.3 .2-2.2M137 137.8l.3-2.2 .4-2.3 .3-2.2 .3-2.3 .4-2.2 .3-2.3 .3-2.2 .4-2.3 .3-2.2 .3-2.3 .3-2.2 .4-2.3 .3-2.2 .3-2.3 .4-2.2 .3-2.3 .3-2.2 .4-2.3 .3-2.2 .3-2.3 .4-2.2 .3-2.3 .3-2.2 .3-2.3 .4-2.2 .3-2.3 .3-2.2 .4-2.3 .3-2.2 .3-2.3 .4-2.2 .3-2.3 .3-2.2 .3-2.3M139.4 137.4l.4-2.3 .5-2.3 .4-2.2 .4-2.3 .4-2.3 .5-2.2 .4-2.3 .4-2.3 .4-2.2 .5-2.3 .4-2.3 .4-2.2 .4-2.3 .5-2.3 .4-2.2 .4-2.3 .4-2.3 .5-2.2 .4-2.3 .4-2.3 .4-2.2 .5-2.3 .4-2.3 .4-2.2 .4-2.3 .5-2.3 .4-2.2 .4-2.3 .4-2.3 .5-2.2 .4-2.3 .4-2.3 .5-2.2 .4-2.3M141.7 136.8l.5-2.3 .5-2.2 .5-2.3 .5-2.3 .6-2.3 .5-2.3 .5-2.3 .5-2.3 .5-2.3 .5-2.3 .6-2.3 .5-2.2 .5-2.3 .5-2.3 .5-2.3 .5-2.3 .6-2.3 .5-2.3 .5-2.3 .5-2.3 .5-2.2 .5-2.3 .6-2.3 .5-2.3 .5-2.3 .5-2.3 .5-2.3 .5-2.3 .5-2.3 .6-2.3 .5-2.2 .5-2.3 .5-2.3 .5-2.3M143.8 136.2l.6-2.3 .6-2.4 .6-2.3 .6-2.3 .6-2.3 .6-2.3 .6-2.3 .6-2.3 .6-2.4 .6-2.3 .6-2.3 .6-2.3 .6-2.3 .6-2.3 .6-2.4 .6-2.3 .6-2.3 .6-2.3 .6-2.3 .6-2.3 .6-2.3 .6-2.4 .6-2.3 .6-2.3 .6-2.3 .6-2.3 .6-2.3 .6-2.4 .6-2.3 .6-2.3 .6-2.3 .6-2.3 .6-2.3 .6-2.4M145.8 135.4l.7-2.3 .6-2.4 .7-2.3 .7-2.4 .7-2.3 .7-2.4 .6-2.3 .7-2.3 .7-2.4 .7-2.3 .7-2.4 .6-2.3 .7-2.4 .7-2.3 .7-2.4 .6-2.3 .7-2.3 .7-2.4 .7-2.3 .7-2.4 .6-2.3 .7-2.4 .7-2.3 .7-2.4 .7-2.3 .6-2.4 .7-2.3 .7-2.3 .7-2.4 .7-2.3 .6-2.4 .7-2.3 .7-2.4 .7-2.3M147.6 134.6l.7-2.4 .8-2.4 .7-2.4 .8-2.3 .7-2.4 .8-2.4 .7-2.4 .8-2.4 .7-2.3 .8-2.4 .7-2.4 .8-2.4 .7-2.3 .8-2.4 .7-2.4 .8-2.4 .7-2.4 .8-2.3 .7-2.4 .8-2.4 .7-2.4 .8-2.4 .7-2.3 .8-2.4 .7-2.4 .8-2.4 .7-2.4 .8-2.3 .7-2.4 .8-2.4 .7-2.4 .8-2.3 .7-2.4 .8-2.4M149.1 133.7l.8-2.5 .9-2.4 .8-2.4 .8-2.4 .8-2.4 .8-2.4 .8-2.5 .8-2.4 .8-2.4 .9-2.4 .8-2.4 .8-2.4 .8-2.4 .8-2.5 .8-2.4 .8-2.4 .9-2.4 .8-2.4 .8-2.4 .8-2.5 .8-2.4 .8-2.4 .8-2.4 .8-2.4 .9-2.4 .8-2.5 .8-2.4 .8-2.4 .8-2.4 .8-2.4 .8-2.4 .8-2.4 .9-2.5 .8-2.4M150.5 132.7l.8-2.5 .9-2.4 .9-2.5 .8-2.5 .9-2.4 .9-2.5 .8-2.4 .9-2.5 .9-2.4 .8-2.5 .9-2.4 .9-2.5 .8-2.5 .9-2.4 .9-2.5 .8-2.4 .9-2.5 .9-2.4 .8-2.5 .9-2.4 .9-2.5 .8-2.5 .9-2.4 .9-2.5 .8-2.4 .9-2.5 .9-2.4 .8-2.5 .9-2.4 .9-2.5 .8-2.4 .9-2.5 .9-2.5 .8-2.4M151.6 131.6l.9-2.5 .9-2.5 .9-2.5 .9-2.5 .9-2.5 1-2.5 .9-2.5 .9-2.5 .9-2.5 .9-2.5 .9-2.5 .9-2.5 .9-2.5 .9-2.4 1-2.5 .9-2.5 .9-2.5 .9-2.5 .9-2.5 .9-2.5 .9-2.5 .9-2.5 .9-2.5 1-2.5 .9-2.5 .9-2.5 .9-2.5 .9-2.5 .9-2.5 .9-2.5 .9-2.5 .9-2.5 1-2.5 .9-2.5M152.5 130.5l.9-2.5 .9-2.6 1-2.5 .9-2.6 1-2.5 .9-2.5 1-2.6 .9-2.5 1-2.6 .9-2.5 .9-2.5 1-2.6 .9-2.5 1-2.6 .9-2.5 1-2.5 .9-2.6 1-2.5 .9-2.6 1-2.5 .9-2.5 .9-2.6 1-2.5 .9-2.6 1-2.5 .9-2.6 1-2.5 .9-2.5 1-2.6 .9-2.5 1-2.6 .9-2.5 .9-2.5 1-2.6M153.1 129.4l.9-2.6 1-2.6 1-2.6 .9-2.6 1-2.6 1-2.5 .9-2.6 1-2.6 1-2.6 .9-2.6 1-2.6 1-2.6 .9-2.5 1-2.6 1-2.6 1-2.6 .9-2.6 1-2.6 1-2.6 .9-2.5 1-2.6 1-2.6 .9-2.6 1-2.6 1-2.6 .9-2.6 1-2.5 1-2.6 1-2.6 .9-2.6 1-2.6 1-2.6 .9-2.6 1-2.5"/></g>
</g>
<g font-family="Liberation Serif, serif" fill="#222">
<text x="40.4" y="88.58" font-size="15" text-anchor="end" >0.2</text>
<text x="40.4" y="34.1" font-size="15" text-anchor="end" >0.5</text>
<text x="130.5" y="182" font-size="15" text-anchor="middle" >-1</text>
<text x="174.5" y="165.75" font-size="15" text-anchor="middle" >0</text>
<text x="220.5" y="150.2" font-size="15" text-anchor="middle" >1</text>
<text x="104.7" y="181.2" font-size="15" text-anchor="middle" >-1</text>
<text x="71.55" y="160" font-size="15" text-anchor="middle" >0</text>
<text x="36.4" y="138.8" font-size="15" text-anchor="middle" >1</text>
</g>
<g font-family="Liberation Serif, serif" fill="#222" font-style="italic" letter-spacing="1.3">
<text x="185.8" y="173.6" font-size="16" letter-spacing="1.6">x/x<tspan font-size="11.5" dy="3">0</tspan></text>
<text x="26" y="165" font-size="16" letter-spacing="1.4">y/y<tspan font-size="11.5" dy="3">0</tspan></text>
<text transform="translate(12.4,96.8) rotate(-90)" font-size="16" letter-spacing="1.4">B<tspan font-size="11" dy="3">z</tspan><tspan dy="-3">/B</tspan><tspan font-size="11" dy="3">0</tspan></text>
</g>
<text x="45.6" y="21.5" font-family="Liberation Serif, serif" font-size="18.5" fill="#222">(a)</text>
<g>
<line x1="47" y1="273.6" x2="139.3" y2="241.9" stroke="#dfdfdf" stroke-width="0.6" />
<line x1="139.3" y1="241.9" x2="210.4" y2="283.9" stroke="#dfdfdf" stroke-width="0.6" />
<line x1="93.15" y1="293.65" x2="93.15" y2="202.85" stroke="#dfdfdf" stroke-width="0.6" />
<line x1="174.85" y1="298.8" x2="174.85" y2="208" stroke="#dfdfdf" stroke-width="0.6" />
<line x1="164.25" y1="335.65" x2="93.15" y2="293.65" stroke="#dfdfdf" stroke-width="0.6" />
<line x1="82.55" y1="330.5" x2="174.85" y2="298.8" stroke="#dfdfdf" stroke-width="0.6" />
<line x1="118.1" y1="351.5" x2="210.4" y2="319.8" stroke="#262626" stroke-width="0.7" />
<line x1="118.1" y1="260.7" x2="210.4" y2="229" stroke="#262626" stroke-width="0.7" />
<line x1="118.1" y1="351.5" x2="118.1" y2="260.7" stroke="#262626" stroke-width="0.7" />
<line x1="210.4" y1="319.8" x2="139.3" y2="277.8" stroke="#262626" stroke-width="0.7" />
<line x1="210.4" y1="229" x2="139.3" y2="187" stroke="#262626" stroke-width="0.7" />
<line x1="210.4" y1="319.8" x2="210.4" y2="229" stroke="#262626" stroke-width="0.7" />
<line x1="139.3" y1="277.8" x2="47" y2="309.5" stroke="#262626" stroke-width="0.7" />
<line x1="139.3" y1="187" x2="47" y2="218.7" stroke="#262626" stroke-width="0.7" />
<line x1="139.3" y1="277.8" x2="139.3" y2="187" stroke="#262626" stroke-width="0.7" />
<line x1="47" y1="309.5" x2="118.1" y2="351.5" stroke="#262626" stroke-width="0.7" />
<line x1="47" y1="218.7" x2="118.1" y2="260.7" stroke="#262626" stroke-width="0.7" />
<line x1="47" y1="309.5" x2="47" y2="218.7" stroke="#262626" stroke-width="0.7" />
<line x1="118.1" y1="351.5" x2="120.25" y2="352.77" stroke="#262626" stroke-width="0.7" />
<line x1="164.25" y1="335.65" x2="166.4" y2="336.92" stroke="#262626" stroke-width="0.7" />
<line x1="210.4" y1="319.8" x2="212.55" y2="321.07" stroke="#262626" stroke-width="0.7" />
<line x1="118.1" y1="351.5" x2="115.74" y2="352.31" stroke="#262626" stroke-width="0.7" />
<line x1="82.55" y1="330.5" x2="80.19" y2="331.31" stroke="#262626" stroke-width="0.7" />
<line x1="47" y1="309.5" x2="44.64" y2="310.31" stroke="#262626" stroke-width="0.7" />
<line x1="47" y1="273.6" x2="44.85" y2="272.33" stroke="#262626" stroke-width="0.7" />
<line x1="47" y1="218.7" x2="44.85" y2="217.43" stroke="#262626" stroke-width="0.7" />
<g stroke="#000" stroke-width="0.72" stroke-opacity="1" stroke-linejoin="round"><path fill="#0871de" d="M129.7 313.1l0 0 .1-.1 0 0-.1-.1 0 0 0-.1 0 0-.1 0-.1-.1 0 0-.1-.1-.1 0-.1 0-.1 0-.1-.1-.1 0-.1 0-.1 0-.1 0-.1 0-.2 0-.1 .1-.1 0 0 0-.1 0-.1 .1-.1 0 0 .1-.1 0 0 .1 0 0-.1 .1 0 0 .1 .1 0 0 0 .1 1 1.4 0 0 0 0 0 0 0 0 0 0 0 0 0 0 0 0 0 0 0 0 0 0 0 0 0 0 0 0 0 0 0 0 0 0 0 0 0 0 0 0 0 0 0 0 0 0 0 0 0 0 0 0 0 0 0 0 0 0 0 0 0 0 0 0 0 0 0 0 0 0 0 0z"/><path fill="#0d75dc" d="M130.7 311.6l.1-.1 0-.1 0-.1 0-.1 0-.1-.1-.1-.1-.1-.1 0-.1-.1-.2-.1-.1-.1-.2 0-.2-.1-.2 0-.2-.1-.2 0-.2 0-.3 0-.2 0-.2 0-.2 0-.2 .1-.2 0-.2 .1-.2 0-.1 .1-.1 .1-.2 .1-.1 .1 0 .1-.1 .1 0 .1 0 .1 0 .1 0 .1 .1 .1 1 1.5 0-.1 0 0-.1-.1 0 0 .1-.1 0 0 0-.1 .1 0 0-.1 .1 0 .1-.1 .1 0 0 0 .1 0 .1-.1 .2 0 .1 0 .1 0 .1 0 .1 0 .1 0 .1 .1 .1 0 .1 0 .1 0 .1 .1 0 0 .1 .1 .1 0 0 0 0 .1 0 0 .1 .1 0 0-.1 .1 0 0z"/><path fill="#0d75dc" d="M131.7 310.1l.1-.1 .1-.2 0-.1-.1-.2 0-.1-.1-.2-.1-.1-.2-.1-.2-.2-.2-.1-.2-.1-.3-.1-.3-.1-.3 0-.3-.1-.3 0-.4 0-.3 0-.3 0-.3 0-.4 0-.3 .1-.3 .1-.2 .1-.3 0-.2 .2-.2 .1-.2 .1-.1 .1-.1 .2-.1 .1-.1 .2 0 .1 .1 .2 0 .1 .1 .2 1 1.5-.1-.1 0-.1 0-.1 0-.1 0-.1 .1-.1 0-.1 .1-.1 .2-.1 .1-.1 .1-.1 .2 0 .2-.1 .2 0 .2-.1 .2 0 .2 0 .2 0 .3 0 .2 0 .2 0 .2 .1 .2 0 .2 .1 .2 0 .1 .1 .2 .1 .1 .1 .1 0 .1 .1 .1 .1 0 .1 0 .1 0 .1 0 .1-.1 .1z"/><path fill="#1079da" d="M132.8 308.6l.1-.2 0-.2 0-.2 0-.2-.1-.2-.1-.2-.2-.2-.2-.1-.2-.2-.3-.2-.4-.1-.3-.1-.4-.1-.4-.1-.4-.1-.4 0-.5-.1-.4 0-.5 0-.4 .1-.4 0-.4 .1-.4 .1-.4 .1-.3 .1-.3 .2-.3 .2-.2 .1-.2 .2-.2 .2-.1 .2 0 .2 0 .2 0 .2 .1 .2 .1 .2 1 1.5-.1-.2 0-.1-.1-.2 0-.1 .1-.2 .1-.1 .1-.2 .1-.1 .2-.1 .2-.1 .2-.2 .3 0 .2-.1 .3-.1 .3-.1 .4 0 .3 0 .3 0 .3 0 .4 0 .3 0 .3 .1 .3 0 .3 .1 .3 .1 .2 .1 .2 .1 .2 .2 .2 .1 .1 .1 .1 .2 0 .1 .1 .2 0 .1-.1 .2-.1 .1z"/><path fill="#127dd8" d="M133.8 307.1l.1-.2 .1-.3 0-.2-.1-.3-.1-.2-.1-.3-.2-.2-.3-.2-.3-.2-.4-.2-.4-.2-.4-.2-.5-.1-.5-.1-.5-.1-.5-.1-.6 0-.5 0-.6 0-.5 .1-.6 0-.5 .1-.5 .1-.4 .2-.5 .1-.3 .2-.4 .2-.3 .2-.2 .3-.2 .2-.1 .2-.1 .3 0 .2 .1 .3 .1 .2 .1 .3 1 1.5-.1-.2-.1-.2 0-.2 0-.2 0-.2 .1-.2 .2-.2 .2-.2 .2-.1 .3-.2 .3-.2 .3-.1 .4-.1 .4-.1 .4-.1 .4 0 .4-.1 .5 0 .4 0 .5 .1 .4 0 .4 .1 .4 .1 .4 .1 .3 .1 .4 .1 .3 .2 .2 .2 .2 .1 .2 .2 .1 .2 .1 .2 0 .2 0 .2 0 .2-.1 .2z"/><path fill="#1481d6" d="M134.8 305.6l.2-.3 0-.3 .1-.3-.1-.3-.1-.3-.2-.3-.3-.3-.3-.2-.4-.3-.4-.2-.5-.2-.5-.2-.6-.2-.6-.1-.6-.1-.7-.1-.6 0-.7 0-.6 0-.7 0-.6 .1-.6 .1-.6 .2-.6 .2-.5 .1-.4 .3-.4 .2-.4 .3-.3 .2-.2 .3-.2 .3 0 .3-.1 .3 .1 .3 .1 .3 .2 .3 1 1.5-.1-.3-.1-.2-.1-.3 0-.2 .1-.3 .1-.2 .2-.2 .2-.3 .3-.2 .4-.2 .3-.2 .5-.1 .4-.2 .5-.1 .5-.1 .6 0 .5-.1 .6 0 .5 0 .6 0 .5 .1 .5 .1 .5 .1 .5 .1 .4 .2 .4 .2 .4 .2 .3 .2 .3 .2 .2 .2 .1 .3 .1 .2 .1 .3 0 .2-.1 .3-.1 .2z"/><path fill="#1485d4" d="M135.8 304.1l.2-.4 .1-.3 0-.4-.1-.3-.1-.4-.2-.3-.3-.3-.4-.3-.4-.3-.5-.3-.6-.2-.6-.3-.7-.1-.7-.2-.7-.1-.8-.1-.7 0-.8-.1-.8 .1-.7 0-.8 .1-.7 .2-.7 .1-.6 .2-.6 .2-.5 .3-.5 .3-.4 .3-.4 .3-.2 .3-.2 .4-.1 .3 0 .4 .1 .3 .1 .3 .2 .4 1 1.5-.2-.3-.1-.3-.1-.3 .1-.3 0-.3 .2-.3 .2-.3 .3-.2 .4-.3 .4-.2 .4-.3 .5-.1 .6-.2 .6-.2 .6-.1 .6-.1 .7 0 .6 0 .7 0 .6 0 .7 .1 .6 .1 .6 .1 .6 .2 .5 .2 .5 .2 .4 .2 .4 .3 .3 .2 .3 .3 .2 .3 .1 .3 .1 .3-.1 .3 0 .3-.2 .3z"/><path fill="#1389d3" d="M136.8 302.6l.2-.4 .1-.4 .1-.4-.1-.4-.2-.4-.2-.4-.4-.4-.4-.3-.5-.4-.6-.3-.6-.2-.7-.3-.8-.2-.8-.2-.8-.1-.9-.1-.9-.1-.8 0-.9 0-.9 .1-.8 .1-.9 .2-.7 .2-.8 .2-.6 .2-.7 .3-.5 .4-.5 .3-.3 .4-.3 .3-.2 .4-.1 .4-.1 .4 .1 .4 .2 .4 .2 .4 1 1.5-.2-.4-.1-.3-.1-.3 0-.4 .1-.3 .2-.4 .2-.3 .4-.3 .4-.3 .5-.3 .5-.3 .6-.2 .6-.2 .7-.1 .7-.2 .8-.1 .7 0 .8-.1 .8 .1 .7 0 .8 .1 .7 .1 .7 .2 .7 .1 .6 .3 .6 .2 .5 .3 .4 .3 .4 .3 .3 .3 .2 .3 .1 .4 .1 .3 0 .4-.1 .3-.2 .4z"/><path fill="#108ed2" d="M137.8 301l.3-.4 .1-.4 0-.5-.1-.4-.1-.5-.3-.4-.4-.4-.5-.4-.5-.4-.7-.3-.7-.4-.8-.2-.9-.3-.9-.2-.9-.1-1-.1-1-.1-1 0-1 0-.9 .1-1 .1-.9 .2-.9 .2-.8 .3-.8 .2-.7 .4-.6 .3-.5 .4-.4 .4-.3 .4-.3 .5-.1 .4 0 .5 .1 .4 .1 .5 .3 .4 1 1.5-.2-.4-.2-.4-.1-.4 .1-.4 .1-.4 .2-.4 .3-.3 .3-.4 .5-.3 .5-.4 .7-.3 .6-.2 .8-.2 .7-.2 .9-.2 .8-.1 .9-.1 .9 0 .8 0 .9 .1 .9 .1 .8 .1 .8 .2 .8 .2 .7 .3 .6 .2 .6 .3 .5 .4 .4 .3 .4 .4 .2 .4 .2 .4 .1 .4-.1 .4-.1 .4-.2 .4z"/><path fill="#0c93d2" d="M138.9 299.5l.2-.4 .2-.5 0-.5-.1-.5-.2-.5-.3-.5-.4-.5-.6-.4-.6-.4-.7-.4-.8-.4-.9-.3-1-.2-1-.3-1-.1-1.1-.2-1.1 0-1.1 0-1.1 0-1.1 .1-1.1 .1-1 .2-1 .2-.9 .3-.8 .3-.8 .4-.6 .4-.6 .4-.5 .5-.4 .4-.2 .5-.2 .5 0 .5 .1 .5 .2 .5 .3 .5 1 1.5-.3-.4-.1-.5-.1-.4 0-.5 .1-.4 .3-.5 .3-.4 .4-.4 .5-.4 .6-.3 .7-.4 .8-.2 .8-.3 .9-.2 .9-.2 1-.1 .9-.1 1 0 1 0 1 .1 1 .1 .9 .1 .9 .2 .9 .3 .8 .2 .7 .4 .7 .3 .5 .4 .5 .4 .4 .4 .3 .4 .1 .5 .1 .4 0 .5-.1 .4-.3 .4z"/><path fill="#0998d1" d="M139.9 298l.3-.5 .1-.6 0-.5-.1-.6-.2-.5-.3-.5-.5-.5-.6-.5-.7-.5-.8-.4-.8-.4-1-.3-1.1-.3-1.1-.3-1.1-.1-1.2-.2-1.2-.1-1.2 0-1.2 .1-1.2 .1-1.2 .1-1.1 .2-1.1 .3-1 .3-.9 .3-.9 .4-.7 .5-.6 .4-.6 .5-.4 .6-.3 .5-.1 .5 0 .6 .1 .5 .2 .6 .3 .5 1 1.5-.3-.5-.2-.5-.1-.5 0-.5 .2-.5 .2-.5 .4-.4 .5-.5 .6-.4 .6-.4 .8-.4 .8-.3 .9-.3 1-.2 1-.2 1.1-.1 1.1-.1 1.1 0 1.1 0 1.1 0 1.1 .2 1 .1 1 .3 1 .2 .9 .3 .8 .4 .7 .4 .6 .4 .6 .4 .4 .5 .3 .5 .2 .5 .1 .5 0 .5-.2 .5-.2 .4z"/><path fill="#079ccf" d="M140.9 296.5l.3-.6 .2-.6 0-.6-.1-.6-.2-.6-.4-.5-.5-.6-.7-.5-.7-.5-.9-.5-1-.4-1-.4-1.2-.3-1.2-.2-1.2-.3-1.3-.1-1.3-.1-1.4 0-1.3 0-1.3 .1-1.3 .2-1.2 .2-1.2 .3-1.1 .4-1 .3-.9 .5-.8 .5-.7 .5-.6 .5-.4 .6-.3 .5-.2 .6 0 .6 .1 .6 .2 .6 .4 .6 1 1.5-.3-.5-.2-.6-.1-.5 0-.6 .1-.5 .3-.5 .4-.6 .6-.5 .6-.4 .7-.5 .9-.4 .9-.3 1-.3 1.1-.3 1.1-.2 1.2-.1 1.2-.1 1.2-.1 1.2 0 1.2 .1 1.2 .2 1.1 .1 1.1 .3 1.1 .3 1 .3 .8 .4 .8 .4 .7 .5 .6 .5 .5 .5 .3 .5 .2 .5 .1 .6 0 .5-.1 .6-.3 .5z"/><path fill="#06a0cd" d="M141.9 295l.3-.6 .2-.7 .1-.6-.2-.7-.2-.6-.4-.6-.6-.6-.7-.6-.8-.6-.9-.5-1.1-.4-1.1-.4-1.3-.4-1.3-.2-1.3-.3-1.4-.1-1.4-.1-1.5 0-1.4 0-1.4 .1-1.4 .2-1.4 .3-1.2 .3-1.2 .3-1.1 .4-1 .5-.9 .5-.7 .6-.6 .6-.5 .6-.3 .6-.2 .7-.1 .6 .2 .7 .2 .6 .4 .6 1 1.5-.4-.6-.2-.6-.1-.6 0-.6 .2-.6 .3-.5 .4-.6 .6-.5 .7-.5 .8-.5 .9-.5 1-.3 1.1-.4 1.2-.3 1.2-.2 1.3-.2 1.3-.1 1.3 0 1.4 0 1.3 .1 1.3 .1 1.2 .3 1.2 .2 1.2 .3 1 .4 1 .4 .9 .5 .7 .5 .7 .5 .5 .6 .4 .5 .2 .6 .1 .6 0 .6-.2 .6-.3 .6z"/><path fill="#06a4ca" d="M142.9 293.5l.4-.7 .2-.7 0-.7-.1-.7-.3-.7-.4-.6-.6-.7-.8-.6-.9-.6-1-.5-1.1-.5-1.2-.5-1.3-.3-1.5-.3-1.4-.3-1.5-.1-1.6-.1-1.5-.1-1.6 .1-1.5 .1-1.5 .2-1.4 .3-1.4 .3-1.2 .4-1.2 .4-1.1 .5-.9 .6-.8 .6-.7 .6-.5 .7-.4 .7-.2 .7 0 .7 .1 .7 .3 .6 .4 .7 1 1.5-.4-.6-.2-.6-.2-.7 .1-.6 .2-.7 .3-.6 .5-.6 .6-.6 .7-.6 .9-.5 1-.5 1.1-.4 1.2-.3 1.2-.3 1.4-.3 1.4-.2 1.4-.1 1.4 0 1.5 0 1.4 .1 1.4 .1 1.3 .3 1.3 .2 1.3 .4 1.1 .4 1.1 .4 .9 .5 .8 .6 .7 .6 .6 .6 .4 .6 .2 .6 .2 .7-.1 .6-.2 .7-.3 .6z"/><path fill="#06a7c6" d="M143.9 292l.4-.7 .2-.8 .1-.7-.2-.8-.3-.7-.4-.8-.7-.7-.8-.6-.9-.6-1.1-.6-1.2-.5-1.3-.5-1.4-.4-1.5-.3-1.6-.3-1.6-.2-1.7-.1-1.6 0-1.7 .1-1.6 .1-1.6 .2-1.6 .3-1.4 .3-1.4 .5-1.3 .4-1.1 .6-1 .6-.9 .6-.7 .7-.5 .7-.4 .7-.2 .8-.1 .7 .2 .8 .3 .7 .4 .7 1 1.5-.4-.7-.3-.6-.1-.7 0-.7 .2-.7 .4-.7 .5-.7 .7-.6 .8-.6 .9-.6 1.1-.5 1.2-.4 1.2-.4 1.4-.3 1.4-.3 1.5-.2 1.5-.1 1.6-.1 1.5 .1 1.6 .1 1.5 .1 1.4 .3 1.5 .3 1.3 .3 1.2 .5 1.1 .5 1 .5 .9 .6 .8 .6 .6 .7 .4 .6 .3 .7 .1 .7 0 .7-.2 .7-.4 .7z"/><path fill="#07a9c2" d="M145 290.5l.4-.8 .2-.8 0-.8-.1-.8-.3-.8-.5-.8-.7-.7-.9-.7-1-.7-1.1-.6-1.3-.5-1.4-.5-1.5-.5-1.6-.3-1.7-.3-1.7-.2-1.8-.1-1.8 0-1.7 0-1.8 .2-1.7 .2-1.6 .3-1.6 .4-1.4 .4-1.4 .5-1.2 .6-1.1 .7-.9 .6-.8 .8-.6 .7-.4 .8-.2 .8 0 .8 .1 .8 .3 .8 .5 .7 1 1.5-.4-.7-.3-.7-.2-.8 .1-.7 .2-.8 .4-.7 .5-.7 .7-.7 .9-.6 1-.6 1.1-.6 1.3-.4 1.4-.5 1.4-.3 1.6-.3 1.6-.2 1.6-.1 1.7-.1 1.6 0 1.7 .1 1.6 .2 1.6 .3 1.5 .3 1.4 .4 1.3 .5 1.2 .5 1.1 .6 .9 .6 .8 .6 .7 .7 .4 .8 .3 .7 .2 .8-.1 .7-.2 .8-.4 .7z"/><path fill="#0aacbe" d="M146 289l.4-.9 .3-.8 0-.9-.2-.8-.3-.9-.5-.8-.8-.8-.9-.7-1-.7-1.3-.7-1.3-.6-1.5-.5-1.6-.4-1.7-.4-1.8-.3-1.9-.2-1.8-.1-1.9 0-1.9 0-1.8 .2-1.8 .2-1.8 .3-1.6 .4-1.6 .5-1.4 .5-1.3 .7-1.2 .6-.9 .7-.8 .8-.7 .8-.4 .8-.3 .9 0 .8 .2 .9 .3 .8 .5 .8 1 1.5-.5-.7-.3-.8-.1-.8 0-.8 .2-.8 .4-.8 .6-.7 .8-.8 .9-.6 1.1-.7 1.2-.6 1.4-.5 1.4-.4 1.6-.4 1.6-.3 1.7-.2 1.8-.2 1.7 0 1.8 0 1.8 .1 1.7 .2 1.7 .3 1.6 .3 1.5 .5 1.4 .5 1.3 .5 1.1 .6 1 .7 .9 .7 .7 .7 .5 .8 .3 .8 .1 .8 0 .8-.2 .8-.4 .8z"/><path fill="#0faeb9" d="M147 287.4l.5-.8 .2-.9 .1-.9-.2-.9-.4-.9-.5-.9-.8-.8-1-.8-1.1-.8-1.3-.6-1.4-.7-1.6-.5-1.7-.5-1.8-.4-1.9-.3-2-.2-1.9-.1-2-.1-2 .1-2 .1-1.9 .3-1.8 .3-1.8 .5-1.6 .5-1.5 .5-1.4 .7-1.2 .7-1.1 .8-.8 .8-.7 .8-.5 .9-.2 .9-.1 .9 .2 .9 .4 .9 .5 .8 1 1.5-.5-.8-.3-.8-.2-.9 0-.8 .3-.9 .4-.8 .7-.8 .8-.8 .9-.7 1.2-.6 1.3-.7 1.4-.5 1.6-.5 1.6-.4 1.8-.3 1.8-.2 1.8-.2 1.9 0 1.9 0 1.8 .1 1.9 .2 1.8 .3 1.7 .4 1.6 .4 1.5 .5 1.3 .6 1.3 .7 1 .7 .9 .7 .8 .8 .5 .8 .3 .9 .2 .8 0 .9-.3 .8-.4 .9z"/><path fill="#15b1b4" d="M148 285.9l.5-.9 .3-.9 0-1-.2-.9-.3-1-.6-.9-.9-.9-1-.8-1.2-.8-1.3-.7-1.6-.7-1.6-.6-1.8-.5-1.9-.4-2-.3-2.1-.2-2.1-.2-2.1 0-2.1 .1-2 .1-2.1 .3-1.9 .3-1.8 .5-1.8 .5-1.6 .6-1.4 .7-1.3 .8-1.1 .8-.9 .8-.7 .9-.5 1-.3 .9 0 .9 .2 1 .3 .9 .6 .9 1 1.5-.5-.8-.4-.9-.2-.9 .1-.9 .2-.9 .5-.9 .7-.8 .8-.8 1.1-.8 1.2-.7 1.4-.7 1.5-.5 1.6-.5 1.8-.5 1.8-.3 1.9-.3 2-.1 2-.1 2 .1 1.9 .1 2 .2 1.9 .3 1.8 .4 1.7 .5 1.6 .5 1.4 .7 1.3 .6 1.1 .8 1 .8 .8 .8 .5 .9 .4 .9 .2 .9-.1 .9-.2 .9-.5 .8z"/><path fill="#1db3af" d="M149 284.4l.5-.9 .3-1 .1-1-.2-1-.4-1-.6-1-.9-.9-1.1-.9-1.2-.8-1.5-.8-1.6-.7-1.7-.6-1.9-.5-2-.5-2.1-.3-2.2-.3-2.2-.1-2.2 0-2.2 0-2.2 .2-2.1 .3-2.1 .4-1.9 .4-1.8 .6-1.7 .6-1.5 .8-1.4 .8-1.1 .8-1 .9-.7 .9-.5 1-.3 1-.1 1 .2 1 .4 1 .6 1 1 1.4-.6-.9-.3-.9-.2-1 0-.9 .3-.9 .5-1 .7-.9 .9-.8 1.1-.8 1.3-.8 1.4-.7 1.6-.6 1.8-.5 1.8-.5 1.9-.3 2.1-.3 2-.1 2.1-.1 2.1 0 2.1 .2 2.1 .2 2 .3 1.9 .4 1.8 .5 1.6 .6 1.6 .7 1.3 .7 1.2 .8 1 .8 .9 .9 .6 .9 .3 1 .2 .9 0 1-.3 .9-.5 .9z"/><path fill="#25b5a9" d="M150 282.9l.6-1 .3-1.1 0-1-.2-1.1-.4-1-.6-1-.9-1-1.2-.9-1.3-.9-1.5-.8-1.7-.7-1.8-.7-2-.5-2.1-.5-2.2-.3-2.3-.3-2.3-.1-2.3-.1-2.3 .1-2.3 .2-2.3 .3-2.1 .4-2.1 .5-1.9 .6-1.7 .6-1.6 .8-1.5 .8-1.2 .9-1 1-.7 1-.6 1-.3 1 0 1.1 .2 1 .4 1 .6 1.1 1 1.5-.6-1-.4-1-.2-1 .1-1 .3-1 .5-1 .7-.9 1-.9 1.1-.8 1.4-.8 1.5-.8 1.7-.6 1.8-.6 1.9-.4 2.1-.4 2.1-.3 2.2-.2 2.2 0 2.2 0 2.2 .1 2.2 .3 2.1 .3 2 .5 1.9 .5 1.7 .6 1.6 .7 1.5 .8 1.2 .8 1.1 .9 .9 .9 .6 1 .4 1 .2 1-.1 1-.3 1-.5 .9z"/><path fill="#2eb7a4" d="M151.1 281.4l.5-1.1 .3-1.1 .1-1.1-.2-1.1-.5-1-.6-1.1-1-1-1.2-1-1.3-.9-1.6-.9-1.8-.7-1.9-.7-2.1-.6-2.2-.5-2.3-.3-2.4-.3-2.4-.2-2.5 0-2.4 .1-2.4 .2-2.3 .3-2.3 .4-2.1 .5-2 .6-1.9 .7-1.6 .8-1.5 .9-1.3 .9-1 1-.9 1.1-.5 1-.3 1.1-.1 1.1 .2 1.1 .5 1.1 .6 1.1 1 1.5-.6-1.1-.4-1-.2-1 0-1.1 .3-1 .6-1 .7-1 1-1 1.2-.9 1.5-.8 1.6-.8 1.7-.6 1.9-.6 2.1-.5 2.1-.4 2.3-.3 2.3-.2 2.3-.1 2.3 .1 2.3 .1 2.3 .3 2.2 .3 2.1 .5 2 .5 1.8 .7 1.7 .7 1.5 .8 1.3 .9 1.2 .9 .9 1 .6 1 .4 1 .2 1.1 0 1-.3 1.1-.6 1z"/><path fill="#38b99e" d="M152.1 279.9l.6-1.1 .3-1.2 .1-1.1-.3-1.2-.4-1.1-.8-1.1-.9-1.1-1.3-1-1.4-.9-1.7-.9-1.8-.8-2-.7-2.2-.6-2.3-.6-2.4-.3-2.5-.3-2.5-.2-2.6 0-2.5 .1-2.5 .2-2.5 .3-2.3 .4-2.3 .6-2.1 .6-1.9 .7-1.8 .9-1.5 .9-1.3 1-1.1 1-.9 1.1-.6 1.1-.3 1.1-.1 1.2 .3 1.1 .4 1.2 .8 1.1 .9 1.5-.6-1.1-.5-1.1-.2-1.1 .1-1.1 .3-1.1 .5-1 .9-1.1 1-1 1.3-.9 1.5-.9 1.6-.8 1.9-.7 2-.6 2.1-.5 2.3-.4 2.3-.3 2.4-.2 2.4-.1 2.5 0 2.4 .2 2.4 .3 2.3 .3 2.2 .5 2.1 .6 1.9 .7 1.8 .7 1.6 .9 1.3 .9 1.2 1 1 1 .6 1.1 .5 1 .2 1.1-.1 1.1-.3 1.1-.5 1.1z"/><path fill="#42bb98" d="M153.1 278.4l.6-1.2 .3-1.2 .1-1.2-.2-1.2-.5-1.2-.8-1.1-1-1.1-1.3-1.1-1.5-1-1.7-.9-1.9-.8-2.1-.8-2.3-.6-2.4-.5-2.5-.5-2.6-.2-2.7-.2-2.6-.1-2.7 .1-2.6 .2-2.5 .4-2.5 .4-2.3 .6-2.2 .7-2 .7-1.9 .9-1.6 1-1.4 1-1.1 1.1-.9 1.1-.6 1.1-.3 1.2-.1 1.2 .2 1.2 .5 1.2 .8 1.2 1 1.5-.8-1.1-.4-1.2-.3-1.1 .1-1.2 .3-1.1 .6-1.1 .9-1.1 1.1-1 1.3-1 1.5-.9 1.8-.9 1.9-.7 2.1-.6 2.3-.6 2.3-.4 2.5-.3 2.5-.2 2.5-.1 2.6 0 2.5 .2 2.5 .3 2.4 .3 2.3 .6 2.2 .6 2 .7 1.8 .8 1.7 .9 1.4 .9 1.3 1 .9 1.1 .8 1.1 .4 1.1 .3 1.2-.1 1.1-.3 1.2-.6 1.1z"/><path fill="#4dbc92" d="M154.1 276.9l.6-1.2 .4-1.3 .1-1.2-.3-1.3-.5-1.2-.8-1.2-1-1.2-1.3-1.1-1.6-1-1.8-1-2-.9-2.2-.7-2.4-.7-2.5-.5-2.6-.5-2.7-.3-2.8-.1-2.7-.1-2.8 .1-2.7 .2-2.7 .4-2.5 .4-2.5 .6-2.3 .7-2.1 .8-1.9 .9-1.7 1-1.4 1.1-1.2 1.1-.9 1.2-.6 1.2-.4 1.2-.1 1.3 .3 1.2 .5 1.3 .8 1.2 1 1.5-.8-1.2-.5-1.2-.2-1.2 .1-1.2 .3-1.2 .6-1.1 .9-1.1 1.1-1.1 1.4-1 1.6-1 1.9-.9 2-.7 2.2-.7 2.3-.6 2.5-.4 2.5-.4 2.6-.2 2.7-.1 2.6 .1 2.7 .2 2.6 .2 2.5 .5 2.4 .5 2.3 .6 2.1 .8 1.9 .8 1.7 .9 1.5 1 1.3 1.1 1 1.1 .8 1.1 .5 1.2 .2 1.2-.1 1.2-.3 1.2-.6 1.2z"/><path fill="#59bd8c" d="M155.1 275.4l.7-1.3 .4-1.3 0-1.3-.2-1.3-.5-1.3-.9-1.2-1.1-1.2-1.3-1.2-1.7-1.1-1.9-1-2.1-.9-2.2-.8-2.5-.7-2.6-.5-2.7-.5-2.8-.3-2.9-.2-2.9 0-2.8 .1-2.9 .2-2.7 .4-2.7 .5-2.5 .6-2.4 .7-2.2 .8-2 1-1.7 1-1.5 1.1-1.3 1.2-.9 1.2-.7 1.3-.4 1.3 0 1.3 .2 1.3 .5 1.2 .9 1.3 1 1.5-.8-1.2-.5-1.3-.3-1.2 .1-1.3 .4-1.2 .6-1.2 .9-1.2 1.2-1.1 1.4-1.1 1.7-1 1.9-.9 2.1-.8 2.3-.7 2.5-.6 2.5-.4 2.7-.4 2.7-.2 2.8-.1 2.7 .1 2.8 .1 2.7 .3 2.6 .5 2.5 .5 2.4 .7 2.2 .7 2 .9 1.8 1 1.6 1 1.3 1.1 1 1.2 .8 1.2 .5 1.2 .3 1.3-.1 1.2-.4 1.3-.6 1.2z"/><path fill="#65be86" d="M156.1 273.8l.7-1.3 .4-1.3 .1-1.4-.3-1.3-.5-1.3-.9-1.3-1.1-1.3-1.4-1.2-1.7-1.1-2-1-2.2-1-2.3-.8-2.6-.7-2.7-.6-2.8-.5-2.9-.3-3-.2-3 0-3 .1-2.9 .2-2.9 .4-2.8 .5-2.6 .6-2.5 .8-2.2 .8-2.1 1-1.8 1.1-1.6 1.1-1.2 1.2-1 1.3-.7 1.3-.4 1.4-.1 1.3 .3 1.4 .5 1.3 .9 1.3 1 1.5-.9-1.3-.5-1.2-.2-1.3 0-1.3 .4-1.3 .7-1.3 .9-1.2 1.3-1.2 1.5-1.1 1.7-1 2-1 2.2-.8 2.4-.7 2.5-.6 2.7-.5 2.7-.4 2.9-.2 2.8-.1 2.9 0 2.9 .2 2.8 .3 2.7 .5 2.6 .5 2.5 .7 2.2 .8 2.1 .9 1.9 1 1.7 1.1 1.3 1.2 1.1 1.2 .9 1.2 .5 1.3 .2 1.3 0 1.3-.4 1.3-.7 1.3z"/><path fill="#71bf80" d="M157.2 272.3l.7-1.3 .4-1.4 0-1.4-.2-1.4-.6-1.4-.9-1.3-1.2-1.3-1.4-1.3-1.8-1.1-2-1.1-2.3-1-2.4-.9-2.7-.7-2.8-.6-2.9-.5-3.1-.3-3-.2-3.1-.1-3.1 .1-3.1 .3-3 .4-2.8 .5-2.7 .6-2.6 .8-2.4 .9-2.1 1-1.9 1.2-1.6 1.1-1.3 1.3-1.1 1.3-.7 1.4-.4 1.4 0 1.4 .2 1.4 .6 1.3 .9 1.4 1 1.5-.9-1.3-.5-1.3-.3-1.4 .1-1.3 .4-1.4 .7-1.3 1-1.3 1.2-1.2 1.6-1.1 1.8-1.1 2.1-1 2.2-.8 2.5-.8 2.6-.6 2.8-.5 2.9-.4 2.9-.2 3-.1 3 0 3 .2 2.9 .3 2.8 .5 2.7 .6 2.6 .7 2.3 .8 2.2 1 2 1 1.7 1.1 1.4 1.2 1.1 1.3 .9 1.3 .5 1.3 .3 1.3-.1 1.4-.4 1.3-.7 1.3z"/><path fill="#7cbf7b" d="M158.2 270.8l.7-1.4 .4-1.4 .1-1.5-.3-1.4-.5-1.5-1-1.4-1.2-1.3-1.5-1.3-1.9-1.2-2.1-1.1-2.3-1-2.5-.9-2.8-.8-2.9-.6-3-.5-3.2-.3-3.1-.2-3.3-.1-3.2 .1-3.1 .3-3.1 .4-3 .5-2.8 .7-2.6 .8-2.5 .9-2.2 1.1-1.9 1.1-1.7 1.3-1.4 1.3-1.1 1.3-.7 1.4-.4 1.5-.1 1.4 .3 1.5 .5 1.4 1 1.4 1 1.5-.9-1.4-.6-1.3-.2-1.4 0-1.4 .4-1.4 .7-1.4 1.1-1.3 1.3-1.3 1.6-1.1 1.9-1.2 2.1-1 2.4-.9 2.6-.8 2.7-.6 2.8-.5 3-.4 3.1-.3 3.1-.1 3.1 .1 3 .2 3.1 .3 2.9 .5 2.8 .6 2.7 .7 2.4 .9 2.3 1 2 1.1 1.8 1.1 1.4 1.3 1.2 1.3 .9 1.3 .6 1.4 .2 1.4 0 1.4-.4 1.4-.7 1.3z"/><path fill="#7cbf7b" d="M159.2 269.3l.8-1.4 .4-1.5 .1-1.5-.3-1.5-.6-1.5-1-1.5-1.2-1.4-1.6-1.3-1.9-1.2-2.2-1.2-2.4-1-2.7-.9-2.8-.8-3-.7-3.1-.5-3.3-.4-3.3-.2-3.3 0-3.3 .1-3.3 .2-3.2 .5-3 .5-3 .7-2.7 .9-2.5 .9-2.3 1.1-2 1.2-1.8 1.3-1.4 1.3-1.1 1.4-.8 1.5-.4 1.5-.1 1.5 .3 1.5 .6 1.5 1 1.4 1 1.5-1-1.4-.5-1.4-.3-1.5 .1-1.4 .4-1.5 .7-1.4 1.1-1.3 1.4-1.3 1.7-1.3 1.9-1.1 2.2-1.1 2.5-.9 2.6-.8 2.8-.7 3-.5 3.1-.4 3.1-.3 3.2-.1 3.3 .1 3.1 .2 3.2 .3 3 .5 2.9 .6 2.8 .8 2.5 .9 2.3 1 2.1 1.1 1.9 1.2 1.5 1.3 1.2 1.3 1 1.4 .5 1.5 .3 1.4-.1 1.5-.4 1.4-.7 1.4z"/><path fill="#87bf77" d="M160.2 267.8l.8-1.5 .4-1.5 .1-1.6-.3-1.5-.6-1.6-1-1.5-1.3-1.4-1.6-1.4-2-1.3-2.2-1.2-2.5-1-2.8-1-2.9-.8-3.1-.7-3.2-.5-3.4-.4-3.4-.2-3.4-.1-3.4 .2-3.4 .2-3.3 .5-3.2 .5-3 .8-2.8 .8-2.6 1-2.4 1.2-2.1 1.2-1.8 1.3-1.5 1.4-1.1 1.4-.8 1.6-.4 1.5-.1 1.5 .3 1.6 .6 1.5 1 1.5 1 1.5-1-1.4-.6-1.5-.3-1.5 .1-1.5 .4-1.5 .8-1.5 1.1-1.4 1.4-1.3 1.8-1.3 2-1.2 2.3-1.1 2.5-.9 2.7-.9 3-.7 3-.5 3.2-.5 3.3-.2 3.3-.1 3.3 0 3.3 .2 3.3 .4 3.1 .5 3 .7 2.8 .8 2.7 .9 2.4 1 2.2 1.2 1.9 1.2 1.6 1.3 1.2 1.4 1 1.5 .6 1.5 .3 1.5-.1 1.5-.4 1.5-.8 1.4z"/><path fill="#92bf73" d="M161.2 266.3l.8-1.6 .5-1.6 .1-1.6-.3-1.6-.7-1.5-1-1.6-1.3-1.5-1.7-1.4-2-1.3-2.4-1.2-2.5-1.1-2.9-1-3-.9-3.2-.7-3.3-.5-3.5-.4-3.5-.2-3.6-.1-3.5 .1-3.5 .3-3.4 .5-3.2 .6-3.2 .7-2.9 .9-2.7 1-2.4 1.2-2.2 1.3-1.8 1.3-1.5 1.5-1.2 1.5-.8 1.5-.5 1.6-.1 1.6 .3 1.6 .7 1.6 1 1.5 1 1.5-1-1.5-.6-1.5-.3-1.6 .1-1.5 .4-1.5 .8-1.6 1.1-1.4 1.5-1.4 1.8-1.3 2.1-1.2 2.4-1.2 2.6-1 2.8-.8 3-.8 3.2-.5 3.3-.5 3.4-.2 3.4-.2 3.4 .1 3.4 .2 3.4 .4 3.2 .5 3.1 .7 2.9 .8 2.8 1 2.5 1 2.2 1.2 2 1.3 1.6 1.4 1.3 1.4 1 1.5 .6 1.6 .3 1.5-.1 1.6-.4 1.5-.8 1.5z"/><path fill="#9cbf6f" d="M162.2 264.8l.9-1.6 .5-1.7 0-1.6-.3-1.7-.6-1.6-1.1-1.6-1.4-1.5-1.7-1.5-2.1-1.3-2.4-1.3-2.6-1.2-3-1-3.1-.8-3.3-.8-3.4-.5-3.6-.4-3.6-.3-3.7 0-3.6 .1-3.6 .3-3.5 .4-3.4 .7-3.2 .7-3 1-2.8 1-2.5 1.2-2.2 1.3-1.9 1.4-1.6 1.5-1.2 1.6-.9 1.6-.5 1.6 0 1.7 .3 1.6 .6 1.6 1.1 1.6 1 1.5-1-1.5-.7-1.6-.3-1.6 .1-1.6 .5-1.6 .8-1.5 1.2-1.5 1.5-1.5 1.8-1.3 2.2-1.3 2.4-1.2 2.7-1 2.9-.9 3.2-.7 3.2-.6 3.4-.5 3.5-.3 3.5-.1 3.6 .1 3.5 .2 3.5 .4 3.3 .5 3.2 .7 3 .9 2.9 1 2.5 1.1 2.4 1.2 2 1.3 1.7 1.4 1.3 1.5 1 1.6 .7 1.5 .3 1.6-.1 1.6-.5 1.6-.8 1.6z"/><path fill="#a5be6b" d="M163.2 263.3l.9-1.7 .5-1.7 .1-1.7-.3-1.7-.7-1.7-1.1-1.6-1.4-1.6-1.8-1.5-2.2-1.4-2.4-1.3-2.8-1.2-3-1-3.2-.9-3.4-.8-3.5-.5-3.7-.4-3.7-.3-3.8 0-3.8 .1-3.7 .3-3.6 .4-3.5 .7-3.3 .8-3.1 .9-2.8 1.1-2.6 1.3-2.3 1.3-2 1.4-1.6 1.6-1.2 1.6-.9 1.6-.5 1.7-.1 1.7 .3 1.7 .7 1.7 1.1 1.6 1 1.5-1.1-1.6-.6-1.6-.3-1.6 0-1.7 .5-1.6 .9-1.6 1.2-1.6 1.6-1.5 1.9-1.4 2.2-1.3 2.5-1.2 2.8-1 3-1 3.2-.7 3.4-.7 3.5-.4 3.6-.3 3.6-.1 3.7 0 3.6 .3 3.6 .4 3.4 .5 3.3 .8 3.1 .8 3 1 2.6 1.2 2.4 1.3 2.1 1.3 1.7 1.5 1.4 1.5 1.1 1.6 .6 1.6 .3 1.7 0 1.6-.5 1.7-.9 1.6z"/><path fill="#aebe67" d="M164.3 261.8l.9-1.7 .5-1.8 .1-1.7-.4-1.8-.7-1.7-1.1-1.7-1.5-1.6-1.8-1.6-2.2-1.4-2.6-1.4-2.8-1.2-3.1-1.1-3.3-.9-3.5-.7-3.6-.6-3.8-.5-3.9-.2-3.8-.1-3.9 .2-3.8 .3-3.7 .4-3.6 .7-3.4 .8-3.2 1-3 1.1-2.6 1.3-2.4 1.4-2 1.5-1.7 1.5-1.3 1.7-.9 1.7-.5 1.7-.1 1.8 .4 1.7 .7 1.7 1.1 1.7 1 1.5-1.1-1.6-.7-1.7-.3-1.7 .1-1.7 .5-1.7 .9-1.6 1.2-1.6 1.6-1.6 2-1.4 2.3-1.3 2.6-1.3 2.8-1.1 3.1-.9 3.3-.8 3.5-.7 3.6-.4 3.7-.3 3.8-.1 3.8 0 3.7 .3 3.7 .4 3.5 .5 3.4 .8 3.2 .9 3 1 2.8 1.2 2.4 1.3 2.2 1.4 1.8 1.5 1.4 1.6 1.1 1.6 .7 1.7 .3 1.7-.1 1.7-.5 1.7-.9 1.7z"/><path fill="#b7bd64" d="M165.3 260.2l.9-1.7 .5-1.8 .1-1.8-.3-1.8-.7-1.8-1.2-1.7-1.5-1.7-1.9-1.6-2.3-1.5-2.6-1.3-2.9-1.3-3.2-1.1-3.4-1-3.6-.7-3.7-.7-3.9-.4-4-.2-4-.1-3.9 .1-4 .3-3.8 .5-3.7 .7-3.5 .9-3.3 1-3 1.1-2.7 1.3-2.5 1.5-2 1.5-1.8 1.6-1.3 1.7-.9 1.7-.5 1.8-.1 1.8 .3 1.8 .7 1.8 1.2 1.7 1 1.5-1.1-1.7-.7-1.7-.4-1.7 .1-1.8 .5-1.7 .9-1.7 1.3-1.7 1.7-1.5 2-1.5 2.4-1.4 2.6-1.3 3-1.1 3.2-1 3.4-.8 3.6-.7 3.7-.4 3.8-.3 3.9-.2 3.8 .1 3.9 .2 3.8 .5 3.6 .6 3.5 .7 3.3 .9 3.1 1.1 2.8 1.2 2.6 1.4 2.2 1.4 1.8 1.6 1.5 1.6 1.1 1.7 .7 1.7 .4 1.8-.1 1.7-.5 1.8-.9 1.7z"/><path fill="#c0bc60" d="M166.3 258.7l.9-1.8 .6-1.8 .1-1.9-.4-1.8-.7-1.8-1.2-1.8-1.6-1.7-1.9-1.7-2.4-1.5-2.6-1.4-3-1.3-3.3-1.1-3.5-1-3.7-.8-3.8-.7-4-.4-4.1-.3-4.1 0-4.1 .1-4 .3-4 .5-3.7 .7-3.6 .9-3.4 1-3.1 1.2-2.8 1.4-2.5 1.4-2.2 1.6-1.7 1.7-1.4 1.7-.9 1.8-.6 1.8-.1 1.9 .4 1.8 .7 1.9 1.2 1.7 1 1.5-1.2-1.7-.7-1.8-.3-1.8 .1-1.8 .5-1.8 .9-1.7 1.3-1.7 1.8-1.6 2-1.5 2.5-1.5 2.7-1.3 3-1.1 3.3-1 3.5-.9 3.7-.7 3.8-.5 4-.3 3.9-.1 4 .1 4 .2 3.9 .4 3.7 .7 3.6 .7 3.4 1 3.2 1.1 2.9 1.3 2.6 1.3 2.3 1.5 1.9 1.6 1.5 1.7 1.2 1.7 .7 1.8 .3 1.8-.1 1.8-.5 1.8-.9 1.7z"/><path fill="#c8bc5d" d="M167.3 257.2l1-1.8 .5-1.9 .1-1.9-.3-1.9-.8-1.9-1.2-1.8-1.6-1.8-2-1.7-2.4-1.5-2.8-1.5-3-1.3-3.4-1.2-3.6-1-3.8-.8-3.9-.7-4.1-.4-4.2-.3-4.2-.1-4.2 .2-4.2 .3-4 .5-3.9 .7-3.7 .9-3.5 1.1-3.2 1.2-2.9 1.4-2.5 1.5-2.2 1.6-1.8 1.7-1.4 1.8-1 1.9-.5 1.8-.1 1.9 .3 1.9 .8 1.9 1.2 1.8 1 1.5-1.2-1.7-.7-1.9-.4-1.8 .1-1.9 .6-1.8 .9-1.8 1.4-1.7 1.7-1.7 2.2-1.6 2.5-1.4 2.8-1.4 3.1-1.2 3.4-1 3.6-.9 3.7-.7 4-.5 4-.3 4.1-.1 4.1 0 4.1 .3 4 .4 3.8 .7 3.7 .8 3.5 1 3.3 1.1 3 1.3 2.6 1.4 2.4 1.5 1.9 1.7 1.6 1.7 1.2 1.8 .7 1.8 .4 1.8-.1 1.9-.6 1.8-.9 1.8z"/><path fill="#d1bb59" d="M168.3 255.7l1-1.9 .6-1.9 .1-2-.4-1.9-.8-1.9-1.2-1.9-1.6-1.8-2.1-1.8-2.5-1.6-2.8-1.5-3.1-1.3-3.5-1.2-3.7-1.1-3.9-.8-4-.7-4.2-.5-4.3-.2-4.4-.1-4.3 .1-4.2 .4-4.2 .5-4 .8-3.7 .9-3.6 1.1-3.3 1.2-3 1.4-2.6 1.6-2.2 1.6-1.9 1.8-1.4 1.8-1 1.9-.6 2-.1 1.9 .4 2 .8 1.9 1.2 1.9 1 1.4-1.2-1.8-.8-1.9-.3-1.9 .1-1.9 .5-1.8 1-1.9 1.4-1.8 1.8-1.7 2.2-1.6 2.5-1.5 2.9-1.4 3.2-1.2 3.5-1.1 3.7-.9 3.9-.7 4-.5 4.2-.3 4.2-.2 4.2 .1 4.2 .3 4.1 .4 3.9 .7 3.8 .8 3.6 1 3.4 1.2 3 1.3 2.8 1.5 2.4 1.5 2 1.7 1.6 1.8 1.2 1.8 .8 1.9 .3 1.9-.1 1.9-.5 1.9-1 1.8z"/><path fill="#d9ba56" d="M169.3 254.2l1.1-1.9 .5-2 .2-2-.4-2-.8-2-1.3-1.9-1.7-1.9-2.1-1.8-2.5-1.6-2.9-1.5-3.2-1.4-3.6-1.3-3.8-1-4-.9-4.1-.7-4.4-.5-4.4-.2-4.4-.1-4.4 .1-4.4 .4-4.2 .5-4.1 .8-3.9 .9-3.7 1.1-3.3 1.3-3.1 1.5-2.7 1.6-2.3 1.6-1.9 1.9-1.4 1.8-1.1 2-.5 2-.2 2 .4 2 .8 1.9 1.3 2 1 1.5-1.2-1.9-.8-1.9-.4-2 .1-1.9 .6-2 1-1.9 1.4-1.8 1.9-1.8 2.2-1.6 2.6-1.6 3-1.4 3.3-1.2 3.6-1.1 3.7-.9 4-.8 4.2-.5 4.2-.4 4.3-.1 4.4 .1 4.3 .2 4.2 .5 4 .7 3.9 .8 3.7 1.1 3.5 1.2 3.1 1.3 2.8 1.5 2.5 1.6 2.1 1.8 1.6 1.8 1.2 1.9 .8 1.9 .4 1.9-.1 2-.6 1.9-1 1.9z"/><path fill="#e1b952" d="M170.4 252.7l1-2 .6-2 .1-2.1-.4-2-.8-2.1-1.3-1.9-1.7-1.9-2.2-1.9-2.6-1.7-3-1.5-3.3-1.4-3.6-1.3-3.9-1.1-4.1-.9-4.2-.7-4.5-.5-4.5-.3-4.5 0-4.5 .1-4.5 .4-4.4 .5-4.2 .8-4 1-3.7 1.1-3.5 1.3-3.1 1.5-2.7 1.6-2.4 1.8-2 1.8-1.5 1.9-1 2-.6 2.1-.1 2 .4 2.1 .8 2 1.3 2 1 1.5-1.3-2-.8-1.9-.4-2 .2-2 .5-2 1.1-2 1.4-1.8 1.9-1.9 2.3-1.6 2.7-1.6 3.1-1.5 3.3-1.3 3.7-1.1 3.9-.9 4.1-.8 4.2-.5 4.4-.4 4.4-.1 4.4 .1 4.4 .2 4.4 .5 4.1 .7 4 .9 3.8 1 3.6 1.3 3.2 1.4 2.9 1.5 2.5 1.6 2.1 1.8 1.7 1.9 1.3 1.9 .8 2 .4 2-.2 2-.5 2-1.1 1.9z"/><path fill="#e9b94e" d="M171.4 251.2l1.1-2.1 .6-2.1 .1-2.1-.4-2.1-.9-2-1.3-2-1.8-2-2.2-1.8-2.7-1.8-3-1.6-3.4-1.5-3.7-1.3-3.9-1.1-4.3-.9-4.3-.7-4.6-.5-4.6-.3-4.6-.1-4.7 .2-4.6 .3-4.4 .6-4.3 .8-4.1 1-3.8 1.2-3.6 1.3-3.2 1.5-2.8 1.7-2.4 1.8-2 1.9-1.6 2-1.1 2-.6 2.1-.1 2.1 .4 2.1 .9 2 1.3 2.1 1 1.5-1.3-2-.8-2-.4-2.1 .1-2 .6-2.1 1-2 1.5-1.9 2-1.8 2.4-1.8 2.7-1.6 3.1-1.5 3.5-1.3 3.7-1.1 4-1 4.2-.8 4.4-.5 4.5-.4 4.5-.1 4.5 0 4.5 .3 4.5 .5 4.2 .7 4.1 .9 3.9 1.1 3.6 1.3 3.3 1.4 3 1.5 2.6 1.7 2.2 1.9 1.7 1.9 1.3 1.9 .8 2.1 .4 2-.1 2.1-.6 2-1 2z"/><path fill="#f1b94a" d="M172.4 249.7l1.1-2.1 .6-2.2 .1-2.1-.4-2.2-.8-2.1-1.4-2.1-1.8-1.9-2.3-1.9-2.7-1.8-3.1-1.7-3.5-1.5-3.8-1.3-4-1.1-4.3-1-4.5-.7-4.7-.5-4.7-.3-4.8-.1-4.7 .1-4.7 .4-4.6 .6-4.4 .8-4.2 1-3.9 1.2-3.6 1.4-3.3 1.6-2.9 1.7-2.5 1.8-2 1.9-1.6 2.1-1.1 2.1-.6 2.1-.1 2.1 .4 2.2 .8 2.1 1.4 2.1 1 1.5-1.3-2.1-.9-2-.4-2.1 .1-2.1 .6-2.1 1.1-2 1.6-2 2-1.9 2.4-1.8 2.8-1.7 3.2-1.5 3.6-1.3 3.8-1.2 4.1-1 4.3-.8 4.4-.6 4.6-.3 4.7-.2 4.6 .1 4.6 .3 4.6 .5 4.3 .7 4.3 .9 3.9 1.1 3.7 1.3 3.4 1.5 3 1.6 2.7 1.8 2.2 1.8 1.8 2 1.3 2 .9 2 .4 2.1-.1 2.1-.6 2.1-1.1 2.1z"/><path fill="#f8bb44" d="M173.4 248.1l1.1-2.1 .7-2.2 .1-2.2-.4-2.2-.9-2.1-1.4-2.2-1.9-2-2.3-1.9-2.8-1.9-3.2-1.7-3.5-1.5-3.9-1.3-4.1-1.2-4.4-1-4.6-.7-4.8-.6-4.8-.3-4.9 0-4.9 .1-4.8 .4-4.6 .6-4.5 .8-4.3 1.1-4 1.2-3.7 1.4-3.4 1.6-3 1.8-2.5 1.8-2.1 2-1.6 2.1-1.1 2.1-.7 2.2-.1 2.2 .4 2.2 .9 2.2 1.4 2.1 1 1.5-1.4-2.1-.8-2.1-.4-2.2 .1-2.1 .6-2.1 1.1-2.1 1.6-2.1 2-1.9 2.5-1.8 2.9-1.7 3.3-1.6 3.6-1.4 3.9-1.2 4.2-1 4.4-.8 4.6-.6 4.7-.4 4.7-.1 4.8 .1 4.7 .3 4.7 .5 4.5 .7 4.3 1 4 1.1 3.8 1.3 3.5 1.5 3.1 1.7 2.7 1.8 2.3 1.9 1.8 1.9 1.4 2.1 .8 2.1 .4 2.2-.1 2.1-.6 2.2-1.1 2.1z"/><path fill="#fdbe3d" d="M174.4 246.6l1.2-2.1 .6-2.3 .1-2.2-.4-2.3-.9-2.2-1.4-2.2-1.9-2.1-2.4-1.9-2.8-1.9-3.3-1.7-3.6-1.6-4-1.4-4.2-1.2-4.5-1-4.7-.7-4.9-.6-4.9-.3-5-.1-5 .2-4.9 .4-4.8 .6-4.6 .9-4.4 1-4.1 1.3-3.8 1.4-3.4 1.6-3 1.8-2.6 1.9-2.2 2.1-1.6 2.1-1.2 2.2-.6 2.2-.1 2.3 .4 2.2 .9 2.2 1.4 2.2 1 1.5-1.4-2.1-.9-2.2-.4-2.2 .1-2.2 .7-2.2 1.1-2.1 1.6-2.1 2.1-2 2.5-1.8 3-1.8 3.4-1.6 3.7-1.4 4-1.2 4.3-1.1 4.5-.8 4.6-.6 4.8-.4 4.9-.1 4.9 0 4.8 .3 4.8 .6 4.6 .7 4.4 1 4.1 1.2 3.9 1.3 3.5 1.5 3.2 1.7 2.8 1.9 2.3 1.9 1.9 2 1.4 2.2 .9 2.1 .4 2.2-.1 2.2-.7 2.2-1.1 2.1z"/><path fill="#ffc337" d="M175.4 245.1l1.2-2.2 .7-2.3 .1-2.3-.4-2.3-.9-2.3-1.5-2.2-2-2.1-2.4-2-2.9-1.9-3.3-1.8-3.7-1.6-4.1-1.4-4.3-1.2-4.6-1.1-4.8-.7-5-.6-5.1-.3-5.1-.1-5.1 .2-5 .4-4.9 .6-4.7 .9-4.4 1.1-4.2 1.2-3.9 1.5-3.5 1.7-3.1 1.8-2.7 2-2.1 2-1.7 2.2-1.2 2.2-.7 2.3-.1 2.3 .4 2.3 .9 2.3 1.5 2.2 1 1.5-1.4-2.2-.9-2.2-.4-2.2 .1-2.3 .6-2.2 1.2-2.2 1.6-2.1 2.2-2.1 2.6-1.9 3-1.8 3.4-1.6 3.8-1.4 4.1-1.3 4.4-1 4.6-.9 4.8-.6 4.9-.4 5-.2 5 .1 4.9 .3 4.9 .6 4.7 .7 4.5 1 4.2 1.2 4 1.4 3.6 1.6 3.3 1.7 2.8 1.9 2.4 1.9 1.9 2.1 1.4 2.2 .9 2.2 .4 2.3-.1 2.2-.6 2.3-1.2 2.1z"/><path fill="#fec832" d="M176.5 243.6l1.2-2.3 .6-2.3 .2-2.4-.5-2.3-.9-2.3-1.5-2.3-2-2.2-2.5-2-3-2-3.4-1.8-3.7-1.6-4.2-1.5-4.4-1.2-4.7-1-5-.8-5-.6-5.2-.3-5.2-.1-5.2 .1-5.1 .5-5 .6-4.8 .9-4.6 1.1-4.3 1.3-3.9 1.5-3.6 1.7-3.2 1.9-2.7 2-2.2 2.1-1.8 2.2-1.2 2.3-.6 2.3-.2 2.4 .5 2.3 .9 2.3 1.5 2.3 1 1.5-1.5-2.2-.9-2.3-.4-2.3 .1-2.3 .7-2.3 1.2-2.2 1.7-2.2 2.1-2 2.7-2 3.1-1.8 3.5-1.7 3.9-1.5 4.2-1.2 4.4-1.1 4.7-.9 4.9-.6 5-.4 5.1-.2 5.1 .1 5.1 .3 5 .6 4.8 .7 4.6 1.1 4.3 1.2 4.1 1.4 3.7 1.6 3.3 1.8 2.9 1.9 2.4 2 2 2.1 1.5 2.2 .9 2.3 .4 2.3-.1 2.3-.7 2.3-1.2 2.2z"/><path fill="#fcce2e" d="M177.5 242.1l1.2-2.3 .7-2.4 .1-2.4-.4-2.4-1-2.4-1.5-2.3-2.1-2.2-2.5-2.1-3-2-3.5-1.9-3.9-1.6-4.2-1.5-4.5-1.3-4.8-1-5.1-.9-5.1-.5-5.3-.4-5.3-.1-5.3 .2-5.3 .4-5.1 .7-4.9 .9-4.6 1.1-4.4 1.4-4.1 1.5-3.6 1.8-3.3 1.9-2.7 2-2.3 2.2-1.8 2.2-1.2 2.3-.7 2.4-.1 2.4 .4 2.4 1 2.4 1.5 2.3 1 1.5-1.5-2.3-.9-2.3-.5-2.3 .2-2.4 .6-2.3 1.2-2.3 1.8-2.2 2.2-2.1 2.7-2 3.2-1.9 3.6-1.7 3.9-1.5 4.3-1.3 4.6-1.1 4.8-.9 5-.6 5.1-.5 5.2-.1 5.2 .1 5.2 .3 5 .6 5 .8 4.7 1 4.4 1.2 4.2 1.5 3.7 1.6 3.4 1.8 3 2 2.5 2 2 2.2 1.5 2.3 .9 2.3 .5 2.3-.2 2.4-.6 2.3-1.2 2.3z"/><path fill="#fad32a" d="M178.5 240.6l1.2-2.4 .7-2.4 .2-2.5-.5-2.4-1-2.4-1.5-2.4-2.1-2.3-2.6-2.1-3.1-2.1-3.5-1.8-4-1.7-4.3-1.6-4.6-1.3-4.9-1-5.2-.9-5.2-.6-5.4-.3-5.5-.1-5.4 .2-5.3 .4-5.2 .7-5 .9-4.8 1.2-4.5 1.3-4.1 1.6-3.7 1.8-3.3 1.9-2.9 2.1-2.3 2.2-1.8 2.3-1.2 2.4-.7 2.4-.2 2.5 .5 2.4 1 2.4 1.5 2.4 1 1.5-1.5-2.3-1-2.4-.4-2.4 .1-2.4 .7-2.4 1.2-2.3 1.8-2.2 2.3-2.2 2.7-2 3.3-1.9 3.6-1.8 4.1-1.5 4.4-1.4 4.6-1.1 4.9-.9 5.1-.7 5.3-.4 5.3-.2 5.3 .1 5.3 .4 5.1 .5 5.1 .9 4.8 1 4.5 1.3 4.2 1.5 3.9 1.6 3.5 1.9 3 2 2.5 2.1 2.1 2.2 1.5 2.3 1 2.4 .4 2.4-.1 2.4-.7 2.4-1.2 2.3z"/><path fill="#f7d826" d="M179.5 239.1l1.3-2.4 .7-2.5 .1-2.5-.4-2.5-1-2.5-1.6-2.4-2.1-2.3-2.7-2.2-3.1-2.1-3.7-1.9-4-1.8-4.4-1.5-4.7-1.3-5-1.1-5.3-.9-5.3-.6-5.5-.3-5.6-.1-5.5 .2-5.5 .4-5.3 .7-5.1 .9-4.9 1.2-4.5 1.4-4.2 1.6-3.8 1.8-3.4 2-2.9 2.1-2.4 2.3-1.8 2.3-1.3 2.5-.7 2.4-.1 2.5 .4 2.5 1 2.5 1.6 2.4 1 1.5-1.5-2.4-1-2.4-.5-2.4 .2-2.5 .7-2.4 1.2-2.4 1.8-2.3 2.3-2.2 2.9-2.1 3.3-1.9 3.7-1.8 4.1-1.6 4.5-1.3 4.8-1.2 5-.9 5.2-.7 5.3-.4 5.4-.2 5.5 .1 5.4 .3 5.2 .6 5.2 .9 4.9 1 4.6 1.3 4.3 1.6 4 1.7 3.5 1.8 3.1 2.1 2.6 2.1 2.1 2.3 1.5 2.4 1 2.4 .5 2.4-.2 2.5-.7 2.4-1.2 2.4z"/><path fill="#f5de21" d="M180.5 237.6l1.3-2.5 .8-2.5 .1-2.6-.5-2.5-1-2.6-1.6-2.4-2.2-2.4-2.7-2.2-3.2-2.1-3.7-2-4.1-1.8-4.5-1.5-4.8-1.4-5.1-1.1-5.4-.9-5.5-.6-5.6-.4-5.6 0-5.7 .1-5.5 .5-5.4 .7-5.2 1-5 1.2-4.7 1.4-4.3 1.6-3.8 1.9-3.5 2-2.9 2.1-2.4 2.3-1.9 2.4-1.3 2.5-.8 2.5-.1 2.6 .5 2.5 1 2.6 1.6 2.4 1 1.5-1.6-2.4-1-2.5-.4-2.5 .1-2.5 .7-2.4 1.3-2.5 1.8-2.3 2.4-2.3 2.9-2.1 3.4-2 3.8-1.8 4.2-1.6 4.5-1.4 4.9-1.2 5.1-.9 5.3-.7 5.5-.4 5.5-.2 5.6 .1 5.5 .3 5.3 .6 5.3 .9 5 1.1 4.7 1.3 4.4 1.5 4 1.8 3.7 1.9 3.1 2.1 2.7 2.2 2.1 2.3 1.6 2.4 1 2.5 .4 2.5-.1 2.5-.7 2.5-1.3 2.4z"/><path fill="#f5e41d" d="M181.5 236.1l1.4-2.6 .7-2.5 .2-2.7-.5-2.5-1.1-2.6-1.6-2.5-2.2-2.4-2.8-2.3-3.3-2.2-3.7-2-4.2-1.8-4.6-1.6-4.9-1.4-5.2-1.1-5.5-.9-5.6-.6-5.7-.4-5.7-.1-5.8 .2-5.7 .5-5.5 .7-5.3 1-5.1 1.2-4.7 1.4-4.4 1.7-3.9 1.9-3.5 2.1-3.1 2.2-2.4 2.3-1.9 2.4-1.4 2.6-.7 2.6-.2 2.6 .5 2.6 1.1 2.5 1.6 2.5 1 1.5-1.6-2.4-1-2.6-.5-2.5 .1-2.6 .8-2.5 1.3-2.5 1.9-2.4 2.4-2.3 2.9-2.1 3.5-2 3.8-1.9 4.3-1.6 4.7-1.4 5-1.2 5.2-1 5.4-.7 5.5-.5 5.7-.1 5.6 0 5.6 .4 5.5 .6 5.4 .9 5.1 1.1 4.8 1.4 4.5 1.5 4.1 1.8 3.7 2 3.2 2.1 2.7 2.2 2.2 2.4 1.6 2.4 1 2.6 .5 2.5-.1 2.6-.8 2.5-1.3 2.5z"/><path fill="#f5eb18" d="M182.6 234.5l1.3-2.5 .8-2.7 .1-2.6-.5-2.7-1-2.6-1.7-2.5-2.3-2.5-2.8-2.3-3.3-2.2-3.9-2.1-4.2-1.8-4.7-1.6-5-1.4-5.3-1.2-5.6-.9-5.7-.6-5.8-.4-5.9-.1-5.8 .2-5.8 .5-5.6 .7-5.5 1-5.1 1.2-4.9 1.5-4.4 1.7-4.1 1.9-3.5 2.1-3.1 2.3-2.5 2.4-2 2.5-1.3 2.5-.8 2.7-.1 2.6 .5 2.7 1 2.6 1.7 2.5 1 1.5-1.6-2.5-1.1-2.5-.5-2.6 .2-2.6 .7-2.6 1.4-2.6 1.9-2.4 2.4-2.3 3.1-2.2 3.5-2.1 3.9-1.9 4.4-1.7 4.7-1.4 5.1-1.2 5.3-1 5.5-.7 5.7-.5 5.8-.2 5.7 .1 5.7 .4 5.6 .6 5.5 .9 5.2 1.1 4.9 1.4 4.6 1.6 4.2 1.8 3.7 2 3.3 2.2 2.8 2.3 2.2 2.4 1.6 2.5 1.1 2.6 .5 2.5-.2 2.7-.7 2.5-1.4 2.6z"/><path fill="#f6f313" d="M183.6 233l1.4-2.6 .7-2.7 .2-2.7-.5-2.7-1.1-2.6-1.7-2.6-2.3-2.5-2.9-2.4-3.4-2.3-3.9-2-4.3-1.9-4.8-1.7-5.1-1.4-5.4-1.2-5.7-.9-5.8-.7-5.9-.3-6-.1-6 .2-5.9 .4-5.7 .8-5.5 1-5.3 1.3-4.9 1.5-4.5 1.7-4.2 2-3.6 2.1-3.1 2.3-2.6 2.4-2 2.6-1.4 2.6-.7 2.7-.2 2.7 .5 2.7 1.1 2.6 1.7 2.6 1 1.5-1.7-2.5-1-2.6-.5-2.7 .1-2.6 .8-2.7 1.3-2.5 2-2.5 2.5-2.4 3.1-2.3 3.5-2.1 4.1-1.9 4.4-1.7 4.9-1.5 5.1-1.2 5.5-1 5.6-.7 5.8-.5 5.8-.2 5.9 .1 5.8 .4 5.7 .6 5.6 .9 5.3 1.2 5 1.4 4.7 1.6 4.2 1.8 3.9 2.1 3.3 2.2 2.8 2.3 2.3 2.5 1.7 2.5 1 2.6 .5 2.7-.1 2.6-.8 2.7-1.3 2.5z"/><path fill="#f9fb0e" d="M184.6 231.5l1.4-2.6 .8-2.8 .1-2.7-.5-2.8-1.1-2.7-1.7-2.6-2.4-2.6-2.9-2.4-3.5-2.3-3.9-2.1-4.4-1.9-4.9-1.7-5.2-1.5-5.5-1.2-5.8-.9-5.9-.7-6-.4-6.1-.1-6.1 .2-6 .5-5.8 .8-5.7 1-5.3 1.3-5 1.5-4.7 1.8-4.2 2-3.7 2.2-3.1 2.3-2.7 2.5-2 2.6-1.4 2.6-.8 2.8-.1 2.7 .5 2.8 1.1 2.7 1.7 2.6 1 1.5-1.7-2.6-1.1-2.6-.5-2.7 .2-2.7 .7-2.7 1.4-2.6 2-2.6 2.6-2.4 3.1-2.3 3.6-2.1 4.2-2 4.5-1.7 4.9-1.5 5.3-1.3 5.5-1 5.7-.8 5.9-.4 6-.2 6 .1 5.9 .3 5.8 .7 5.7 .9 5.4 1.2 5.1 1.4 4.8 1.7 4.3 1.9 3.9 2 3.4 2.3 2.9 2.4 2.3 2.5 1.7 2.6 1.1 2.6 .5 2.7-.2 2.7-.7 2.7-1.4 2.6z"/>
<path fill="none" d="M128.7 314.6l.8-1.9 .9-1.9 .8-2 .9-1.9 .8-1.9 .8-2 .9-1.9 .8-2 .9-1.9 .8-1.9 .8-2 .9-1.9 .8-2 .8-1.9 .9-1.9 .8-2 .9-1.9 .8-2 .8-1.9 .9-1.9 .8-2 .9-1.9 .8-1.9 .8-2 .9-1.9 .8-2 .9-1.9 .8-1.9 .8-2 .9-1.9 .8-2 .9-1.9 .8-1.9 .8-2 .9-1.9 .8-2 .8-1.9 .9-1.9 .8-2 .9-1.9 .8-2 .8-1.9 .9-1.9 .8-2 .9-1.9 .8-1.9 .8-2 .9-1.9 .8-2 .9-1.9 .8-1.9 .8-2 .9-1.9 .8-2 .8-1.9M128.7 314.6l.8-1.9 .7-2 .8-2 .8-2 .7-1.9 .8-2 .8-2 .7-2 .8-1.9 .8-2 .7-2 .8-2 .8-2 .7-1.9 .8-2 .8-2 .7-2 .8-1.9 .8-2 .7-2 .8-2 .8-2 .7-1.9 .8-2 .8-2 .7-2 .8-1.9 .8-2 .7-2 .8-2 .8-2 .7-1.9 .8-2 .8-2 .7-2 .8-1.9 .8-2 .7-2 .8-2 .8-1.9 .7-2 .8-2 .8-2 .7-2 .8-1.9 .8-2 .7-2 .8-2 .8-1.9 .7-2 .8-2 .8-2 .7-2 .8-1.9 .8-2M128.7 314.6l.7-2 .7-2 .7-2 .6-2 .7-2 .7-2 .7-2 .7-2 .7-2.1 .7-2 .7-2 .6-2 .7-2 .7-2 .7-2 .7-2 .7-2.1 .7-2 .6-2 .7-2 .7-2 .7-2 .7-2 .7-2 .7-2.1 .6-2 .7-2 .7-2 .7-2 .7-2 .7-2 .7-2 .7-2.1 .6-2 .7-2 .7-2 .7-2 .7-2 .7-2 .7-2 .6-2 .7-2.1 .7-2 .7-2 .7-2 .7-2 .7-2 .6-2 .7-2 .7-2.1 .7-2 .7-2 .7-2 .7-2 .7-2M128.7 314.6l.6-2 .6-2 .6-2.1 .6-2 .6-2.1 .6-2 .6-2.1 .6-2 .6-2 .6-2.1 .6-2 .6-2.1 .6-2 .6-2.1 .6-2 .6-2 .6-2.1 .6-2 .6-2.1 .6-2 .6-2.1 .6-2 .6-2 .6-2.1 .6-2 .6-2.1 .6-2 .6-2.1 .6-2 .5-2 .6-2.1 .6-2 .6-2.1 .6-2 .6-2.1 .6-2 .6-2 .6-2.1 .6-2 .6-2.1 .6-2 .6-2.1 .6-2 .6-2 .6-2.1 .6-2 .6-2.1 .6-2 .6-2.1 .6-2 .6-2 .6-2.1 .6-2 .6-2.1 .6-2M128.7 314.6l.5-2 .5-2.1 .5-2.1 .5-2 .5-2.1 .5-2.1 .5-2 .5-2.1 .5-2.1 .5-2 .5-2.1 .5-2.1 .5-2.1 .6-2 .5-2.1 .5-2.1 .5-2 .5-2.1 .5-2.1 .5-2 .5-2.1 .5-2.1 .5-2 .5-2.1 .5-2.1 .5-2.1 .5-2 .5-2.1 .5-2.1 .5-2 .5-2.1 .5-2.1 .5-2 .5-2.1 .5-2.1 .5-2.1 .5-2 .5-2.1 .5-2.1 .5-2 .5-2.1 .6-2.1 .5-2 .5-2.1 .5-2.1 .5-2 .5-2.1 .5-2.1 .5-2.1 .5-2 .5-2.1 .5-2.1 .5-2 .5-2.1 .5-2.1M128.7 314.6l.4-2 .4-2.1 .4-2.1 .4-2.1 .4-2.1 .4-2.1 .4-2.1 .4-2.1 .4-2.1 .4-2.1 .4-2.1 .4-2 .4-2.1 .4-2.1 .5-2.1 .4-2.1 .4-2.1 .4-2.1 .4-2.1 .4-2.1 .4-2.1 .4-2.1 .4-2.1 .4-2 .4-2.1 .4-2.1 .4-2.1 .4-2.1 .4-2.1 .4-2.1 .4-2.1 .4-2.1 .4-2.1 .4-2.1 .4-2 .4-2.1 .4-2.1 .4-2.1 .4-2.1 .4-2.1 .4-2.1 .4-2.1 .5-2.1 .4-2.1 .4-2.1 .4-2.1 .4-2 .4-2.1 .4-2.1 .4-2.1 .4-2.1 .4-2.1 .4-2.1 .4-2.1 .4-2.1M128.7 314.6l.3-2.1 .3-2.1 .3-2.1 .3-2.1 .3-2.1 .3-2.1 .3-2.1 .3-2.1 .3-2.1 .3-2.1 .3-2.1 .3-2.2 .3-2.1 .3-2.1 .3-2.1 .3-2.1 .3-2.1 .3-2.1 .3-2.1 .3-2.1 .3-2.1 .3-2.1 .3-2.1 .3-2.2 .3-2.1 .3-2.1 .3-2.1 .3-2.1 .3-2.1 .3-2.1 .3-2.1 .3-2.1 .3-2.1 .3-2.1 .3-2.1 .3-2.2 .3-2.1 .3-2.1 .3-2.1 .3-2.1 .3-2.1 .3-2.1 .3-2.1 .3-2.1 .3-2.1 .3-2.1 .2-2.1 .3-2.2 .3-2.1 .3-2.1 .3-2.1 .3-2.1 .3-2.1 .3-2.1 .3-2.1M128.7 314.6l.2-2.1 .2-2.1 .2-2.1 .2-2.1 .2-2.2 .1-2.1 .2-2.1 .2-2.1 .2-2.1 .2-2.2 .2-2.1 .2-2.1 .2-2.1 .2-2.1 .2-2.2 .2-2.1 .1-2.1 .2-2.1 .2-2.1 .2-2.2 .2-2.1 .2-2.1 .2-2.1 .2-2.1 .2-2.2 .2-2.1 .2-2.1 .1-2.1 .2-2.1 .2-2.2 .2-2.1 .2-2.1 .2-2.1 .2-2.1 .2-2.2 .2-2.1 .2-2.1 .2-2.1 .2-2.2 .1-2.1 .2-2.1 .2-2.1 .2-2.1 .2-2.2 .2-2.1 .2-2.1 .2-2.1 .2-2.1 .2-2.2 .2-2.1 .1-2.1 .2-2.1 .2-2.1 .2-2.2 .2-2.1M128.7 314.6l.1-2.1 .1-2.1 0-2.1 .1-2.2 .1-2.1 .1-2.1 .1-2.1 0-2.2 .1-2.1 .1-2.1 .1-2.2 .1-2.1 .1-2.1 0-2.1 .1-2.2 .1-2.1 .1-2.1 .1-2.1 0-2.2 .1-2.1 .1-2.1 .1-2.2 .1-2.1 0-2.1 .1-2.1 .1-2.2 .1-2.1 .1-2.1 .1-2.1 0-2.2 .1-2.1 .1-2.1 .1-2.2 .1-2.1 0-2.1 .1-2.1 .1-2.2 .1-2.1 .1-2.1 0-2.1 .1-2.2 .1-2.1 .1-2.1 .1-2.2 .1-2.1 0-2.1 .1-2.1 .1-2.2 .1-2.1 .1-2.1 0-2.2 .1-2.1 .1-2.1 .1-2.1 .1-2.2M128.7 314.6l0-2.1-.1-2.1 0-2.1 0-2.2 0-2.1-.1-2.1 0-2.2 0-2.1-.1-2.1 0-2.1 0-2.2-.1-2.1 0-2.1 0-2.2 0-2.1-.1-2.1 0-2.1 0-2.2-.1-2.1 0-2.1 0-2.2-.1-2.1 0-2.1 0-2.2 0-2.1-.1-2.1 0-2.1 0-2.2-.1-2.1 0-2.1 0-2.2-.1-2.1 0-2.1 0-2.1 0-2.2-.1-2.1 0-2.1 0-2.2-.1-2.1 0-2.1 0-2.1 0-2.2-.1-2.1 0-2.1 0-2.2-.1-2.1 0-2.1 0-2.2-.1-2.1 0-2.1 0-2.1 0-2.2-.1-2.1 0-2.1 0-2.2M128.7 314.6l-.1-2.1-.2-2.1-.1-2.1-.2-2.2-.1-2.1-.1-2.1-.2-2.1-.1-2.2-.2-2.1-.1-2.1-.1-2.1-.2-2.2-.1-2.1-.2-2.1-.1-2.1-.1-2.2-.2-2.1-.1-2.1-.2-2.1-.1-2.2-.1-2.1-.2-2.1-.1-2.1-.2-2.2-.1-2.1-.1-2.1-.2-2.1-.1-2.2-.2-2.1-.1-2.1-.1-2.1-.2-2.2-.1-2.1-.2-2.1-.1-2.1-.1-2.2-.2-2.1-.1-2.1-.2-2.2-.1-2.1-.1-2.1-.2-2.1-.1-2.2-.2-2.1-.1-2.1-.2-2.1-.1-2.2-.1-2.1-.2-2.1-.1-2.1-.2-2.2-.1-2.1-.1-2.1-.2-2.1-.1-2.2M128.7 314.6l-.2-2.1-.3-2.1-.2-2.1-.3-2.1-.2-2.1-.3-2.2-.2-2.1-.3-2.1-.2-2.1-.3-2.1-.2-2.1-.3-2.2-.2-2.1-.3-2.1-.2-2.1-.3-2.1-.2-2.1-.3-2.2-.2-2.1-.3-2.1-.2-2.1-.3-2.1-.2-2.1-.3-2.2-.2-2.1-.3-2.1-.2-2.1-.3-2.1-.2-2.1-.3-2.2-.2-2.1-.3-2.1-.2-2.1-.3-2.1-.2-2.1-.3-2.2-.2-2.1-.3-2.1-.2-2.1-.3-2.1-.2-2.1-.3-2.2-.2-2.1-.3-2.1-.2-2.1-.3-2.1-.2-2.1-.3-2.2-.2-2.1-.3-2.1-.2-2.1-.3-2.1-.2-2.1-.3-2.2-.2-2.1M128.7 314.6l-.4-2.1-.3-2.1-.4-2.1-.3-2.1-.4-2.1-.3-2.1-.4-2.1-.3-2.1-.4-2.1-.4-2.1-.3-2.1-.4-2.1-.3-2.1-.4-2.1-.3-2.1-.4-2.1-.3-2.1-.4-2.1-.4-2.1-.3-2.1-.4-2.1-.3-2.1-.4-2.1-.3-2.1-.4-2.1-.3-2.1-.4-2.1-.4-2.1-.3-2.1-.4-2.1-.3-2.1-.4-2.1-.3-2.2-.4-2.1-.3-2.1-.4-2.1-.4-2.1-.3-2.1-.4-2.1-.3-2.1-.4-2.1-.3-2.1-.4-2.1-.3-2.1-.4-2.1-.4-2.1-.3-2.1-.4-2.1-.3-2.1-.4-2.1-.3-2.1-.4-2.1-.3-2.1-.4-2.1-.3-2.1M128.7 314.6l-.5-2-.4-2.1-.5-2.1-.4-2.1-.5-2.1-.4-2.1-.5-2-.5-2.1-.4-2.1-.5-2.1-.4-2.1-.5-2.1-.5-2-.4-2.1-.5-2.1-.4-2.1-.5-2.1-.4-2.1-.5-2.1-.5-2-.4-2.1-.5-2.1-.4-2.1-.5-2.1-.4-2.1-.5-2-.5-2.1-.4-2.1-.5-2.1-.4-2.1-.5-2.1-.4-2-.5-2.1-.5-2.1-.4-2.1-.5-2.1-.4-2.1-.5-2.1-.5-2-.4-2.1-.5-2.1-.4-2.1-.5-2.1-.4-2.1-.5-2-.5-2.1-.4-2.1-.5-2.1-.4-2.1-.5-2.1-.4-2-.5-2.1-.5-2.1-.4-2.1-.5-2.1M128.7 314.6l-.6-2-.5-2.1-.6-2-.5-2.1-.6-2.1-.5-2-.6-2.1-.5-2-.6-2.1-.6-2.1-.5-2-.6-2.1-.5-2-.6-2.1-.5-2.1-.6-2-.5-2.1-.6-2-.5-2.1-.6-2.1-.6-2-.5-2.1-.6-2-.5-2.1-.6-2.1-.5-2-.6-2.1-.5-2.1-.6-2-.6-2.1-.5-2-.6-2.1-.5-2.1-.6-2-.5-2.1-.6-2-.5-2.1-.6-2.1-.5-2-.6-2.1-.6-2-.5-2.1-.6-2.1-.5-2-.6-2.1-.5-2-.6-2.1-.5-2.1-.6-2-.6-2.1-.5-2-.6-2.1-.5-2.1-.6-2-.5-2.1M128.7 314.6l-.6-2-.7-2-.6-2-.7-2.1-.6-2-.7-2-.6-2.1-.7-2-.6-2-.7-2.1-.6-2-.7-2-.6-2.1-.6-2-.7-2-.6-2.1-.7-2-.6-2-.7-2.1-.6-2-.7-2-.6-2.1-.7-2-.6-2-.7-2.1-.6-2-.7-2-.6-2.1-.6-2-.7-2-.6-2.1-.7-2-.6-2-.7-2.1-.6-2-.7-2-.6-2.1-.7-2-.6-2-.7-2.1-.6-2-.6-2-.7-2.1-.6-2-.7-2-.6-2.1-.7-2-.6-2-.7-2.1-.6-2-.7-2-.6-2.1-.7-2-.6-2-.6-2.1M128.7 314.6l-.7-2-.8-2-.7-2-.7-2-.8-2-.7-2-.7-2-.7-2-.8-2-.7-2-.7-2-.8-2-.7-2-.7-2-.8-2-.7-2-.7-2-.7-2-.8-2-.7-2-.7-2-.8-2-.7-2-.7-2-.8-2-.7-2-.7-2-.8-2-.7-2-.7-2-.7-2-.8-2-.7-2-.7-2-.8-2-.7-2-.7-2-.8-2-.7-2-.7-2-.8-2-.7-2-.7-2-.7-2-.8-2-.7-2-.7-2-.8-2-.7-2-.7-2-.8-2-.7-2-.7-2-.7-2-.8-2M128.7 314.6l-.8-1.9-.8-2-.8-1.9-.8-2-.8-2-.8-1.9-.8-2-.9-2-.8-1.9-.8-2-.8-2-.8-1.9-.8-2-.8-2-.8-1.9-.8-2-.8-1.9-.8-2-.8-2-.8-1.9-.8-2-.8-2-.9-1.9-.8-2-.8-2-.8-1.9-.8-2-.8-2-.8-1.9-.8-2-.8-1.9-.8-2-.8-2-.8-1.9-.8-2-.8-2-.8-1.9-.9-2-.8-2-.8-1.9-.8-2-.8-2-.8-1.9-.8-2-.8-2-.8-1.9-.8-2-.8-1.9-.8-2-.8-2-.8-1.9-.8-2-.9-2-.8-1.9-.8-2M128.7 314.6l-.9-1.9-.8-1.9-.9-1.9-.9-1.9-.9-2-.8-1.9-.9-1.9-.9-1.9-.9-2-.8-1.9-.9-1.9-.9-1.9-.9-2-.8-1.9-.9-1.9-.9-1.9-.9-2-.8-1.9-.9-1.9-.9-1.9-.9-2-.8-1.9-.9-1.9-.9-1.9-.9-2-.8-1.9-.9-1.9-.9-1.9-.8-2-.9-1.9-.9-1.9-.9-1.9-.8-2-.9-1.9-.9-1.9-.9-1.9-.8-2-.9-1.9-.9-1.9-.9-1.9-.8-2-.9-1.9-.9-1.9-.9-1.9-.8-2-.9-1.9-.9-1.9-.9-1.9-.8-2-.9-1.9-.9-1.9-.8-1.9-.9-2-.9-1.9-.9-1.9M128.7 314.6l-.9-1.8-1-1.9-.9-1.9-.9-1.9-1-1.9-.9-1.8-.9-1.9-1-1.9-.9-1.9-.9-1.9-.9-1.9-1-1.8-.9-1.9-.9-1.9-1-1.9-.9-1.9-.9-1.9-1-1.8-.9-1.9-.9-1.9-1-1.9-.9-1.9-.9-1.8-1-1.9-.9-1.9-.9-1.9-1-1.9-.9-1.9-.9-1.8-1-1.9-.9-1.9-.9-1.9-.9-1.9-1-1.9-.9-1.8-.9-1.9-1-1.9-.9-1.9-.9-1.9-1-1.9-.9-1.8-.9-1.9-1-1.9-.9-1.9-.9-1.9-1-1.8-.9-1.9-.9-1.9-1-1.9-.9-1.9-.9-1.9-1-1.8-.9-1.9-.9-1.9-.9-1.9M128.7 314.6l-1-1.8-1-1.8-.9-1.9-1-1.8-1-1.8-1-1.9-1-1.8-.9-1.8-1-1.9-1-1.8-1-1.9-1-1.8-.9-1.8-1-1.9-1-1.8-1-1.8-.9-1.9-1-1.8-1-1.9-1-1.8-1-1.8-.9-1.9-1-1.8-1-1.8-1-1.9-1-1.8-.9-1.9-1-1.8-1-1.8-1-1.9-1-1.8-.9-1.8-1-1.9-1-1.8-1-1.9-1-1.8-.9-1.8-1-1.9-1-1.8-1-1.8-1-1.9-.9-1.8-1-1.9-1-1.8-1-1.8-.9-1.9-1-1.8-1-1.8-1-1.9-1-1.8-.9-1.9-1-1.8-1-1.8-1-1.9-1-1.8M128.7 314.6l-1-1.7-1-1.8-1-1.8-1.1-1.8-1-1.8-1-1.8-1-1.8-1-1.8-1-1.8-1.1-1.8-1-1.7-1-1.8-1-1.8-1-1.8-1-1.8-1.1-1.8-1-1.8-1-1.8-1-1.8-1-1.8-1-1.7-1.1-1.8-1-1.8-1-1.8-1-1.8-1-1.8-1-1.8-1.1-1.8-1-1.8-1-1.8-1-1.8-1-1.7-1-1.8-1-1.8-1.1-1.8-1-1.8-1-1.8-1-1.8-1-1.8-1-1.8-1.1-1.8-1-1.7-1-1.8-1-1.8-1-1.8-1-1.8-1.1-1.8-1-1.8-1-1.8-1-1.8-1-1.8-1-1.8-1.1-1.7-1-1.8-1-1.8M128.7 314.6l-1-1.7-1.1-1.7-1-1.8-1.1-1.7-1-1.8-1.1-1.7-1-1.7-1-1.8-1.1-1.7-1-1.8-1.1-1.7-1-1.8-1-1.7-1.1-1.7-1-1.8-1.1-1.7-1-1.8-1.1-1.7-1-1.7-1-1.8-1.1-1.7-1-1.8-1.1-1.7-1-1.8-1-1.7-1.1-1.7-1-1.8-1.1-1.7-1-1.8-1.1-1.7-1-1.7-1-1.8-1.1-1.7-1-1.8-1.1-1.7-1-1.8-1-1.7-1.1-1.7-1-1.8-1.1-1.7-1-1.8-1.1-1.7-1-1.7-1-1.8-1.1-1.7-1-1.8-1.1-1.7-1-1.8-1-1.7-1.1-1.7-1-1.8-1.1-1.7-1-1.8-1.1-1.7-1-1.8M128.7 314.6l-1.1-1.6-1-1.7-1.1-1.7-1-1.7-1.1-1.7-1-1.7-1.1-1.7-1-1.7-1.1-1.7-1.1-1.7-1-1.7-1.1-1.7-1-1.6-1.1-1.7-1-1.7-1.1-1.7-1.1-1.7-1-1.7-1.1-1.7-1-1.7-1.1-1.7-1-1.7-1.1-1.7-1-1.7-1.1-1.7-1.1-1.6-1-1.7-1.1-1.7-1-1.7-1.1-1.7-1-1.7-1.1-1.7-1.1-1.7-1-1.7-1.1-1.7-1-1.7-1.1-1.7-1-1.7-1.1-1.6-1-1.7-1.1-1.7-1.1-1.7-1-1.7-1.1-1.7-1-1.7-1.1-1.7-1-1.7-1.1-1.7-1-1.7-1.1-1.7-1.1-1.7-1-1.6-1.1-1.7-1-1.7-1.1-1.7M128.7 314.6l-1.1-1.6-1-1.6-1.1-1.7-1-1.6-1.1-1.7-1.1-1.6-1-1.6-1.1-1.7-1-1.6-1.1-1.7-1-1.6-1.1-1.7-1.1-1.6-1-1.6-1.1-1.7-1-1.6-1.1-1.7-1.1-1.6-1-1.7-1.1-1.6-1-1.6-1.1-1.7-1.1-1.6-1-1.7-1.1-1.6-1-1.6-1.1-1.7-1-1.6-1.1-1.7-1.1-1.6-1-1.7-1.1-1.6-1-1.6-1.1-1.7-1.1-1.6-1-1.7-1.1-1.6-1-1.7-1.1-1.6-1.1-1.6-1-1.7-1.1-1.6-1-1.7-1.1-1.6-1-1.6-1.1-1.7-1.1-1.6-1-1.7-1.1-1.6-1-1.7-1.1-1.6-1.1-1.6-1-1.7-1.1-1.6-1-1.7M128.7 314.6l-1-1.5-1.1-1.6-1-1.6-1.1-1.6-1-1.6-1.1-1.6-1-1.6-1.1-1.6-1-1.6-1.1-1.6-1-1.6-1.1-1.6-1-1.5-1.1-1.6-1-1.6-1.1-1.6-1-1.6-1.1-1.6-1-1.6-1.1-1.6-1-1.6-1.1-1.6-1-1.6-1.1-1.6-1-1.6-1.1-1.5-1-1.6-1.1-1.6-1-1.6-1.1-1.6-1-1.6-1.1-1.6-1-1.6-1.1-1.6-1-1.6-1.1-1.6-1-1.6-1.1-1.6-1-1.5-1.1-1.6-1-1.6-1.1-1.6-1-1.6-1.1-1.6-1-1.6-1.1-1.6-1-1.6-1.1-1.6-1-1.6-1.1-1.6-1-1.6-1.1-1.5-1-1.6-1.1-1.6-1-1.6M128.7 314.6l-1-1.5-1.1-1.5-1-1.6-1-1.5-1-1.6-1.1-1.5-1-1.6-1-1.5-1.1-1.5-1-1.6-1-1.5-1.1-1.6-1-1.5-1-1.6-1-1.5-1.1-1.5-1-1.6-1-1.5-1.1-1.6-1-1.5-1-1.6-1-1.5-1.1-1.5-1-1.6-1-1.5-1.1-1.6-1-1.5-1-1.6-1.1-1.5-1-1.5-1-1.6-1-1.5-1.1-1.6-1-1.5-1-1.6-1.1-1.5-1-1.5-1-1.6-1-1.5-1.1-1.6-1-1.5-1-1.6-1.1-1.5-1-1.5-1-1.6-1.1-1.5-1-1.6-1-1.5-1-1.6-1.1-1.5-1-1.5-1-1.6-1.1-1.5-1-1.6-1-1.5M128.7 314.6l-1-1.4-1-1.5-1-1.5-1-1.5-1-1.5-1-1.5-1-1.5-1-1.5-1-1.5-1-1.5-1-1.5-1-1.5-1-1.5-1-1.5-1-1.5-1-1.5-1-1.5-1-1.5-1-1.5-1-1.4-1-1.5-1-1.5-.9-1.5-1-1.5-1-1.5-1-1.5-1-1.5-1-1.5-1-1.5-1-1.5-1-1.5-1-1.5-1-1.5-1-1.5-1-1.5-1-1.5-1-1.5-1-1.5-1-1.4-1-1.5-1-1.5-1-1.5-1-1.5-1-1.5-1-1.5-1-1.5-1-1.5-1-1.5-1-1.5-1-1.5-1-1.5-1-1.5-1-1.5-1-1.5-1-1.5M128.7 314.6l1-1.5 1-1.5 1-1.5 1.1-1.5 1-1.5 1-1.5 1-1.5 1-1.5 1-1.6 1.1-1.5 1-1.5 1-1.5 1-1.5 1-1.5 1-1.5 1.1-1.5 1-1.5 1-1.6 1-1.5 1-1.5 1-1.5 1.1-1.5 1-1.5 1-1.5 1-1.5 1-1.5 1-1.6 1.1-1.5 1-1.5 1-1.5 1-1.5 1-1.5 1-1.5 1-1.5 1.1-1.5 1-1.6 1-1.5 1-1.5 1-1.5 1-1.5 1.1-1.5 1-1.5 1-1.5 1-1.6 1-1.5 1-1.5 1.1-1.5 1-1.5 1-1.5 1-1.5 1-1.5 1-1.5 1.1-1.6 1-1.5 1-1.5M128.7 314.6l1-1.5 1.1-1.6 1-1.5 1.1-1.6 1-1.5 1.1-1.6 1-1.6 1-1.5 1.1-1.6 1-1.5 1.1-1.6 1-1.6 1-1.5 1.1-1.6 1-1.5 1.1-1.6 1-1.6 1.1-1.5 1-1.6 1-1.5 1.1-1.6 1-1.6 1.1-1.5 1-1.6 1-1.5 1.1-1.6 1-1.6 1.1-1.5 1-1.6 1.1-1.5 1-1.6 1-1.6 1.1-1.5 1-1.6 1.1-1.5 1-1.6 1-1.6 1.1-1.5 1-1.6 1.1-1.5 1-1.6 1.1-1.6 1-1.5 1-1.6 1.1-1.5 1-1.6 1.1-1.6 1-1.5 1-1.6 1.1-1.5 1-1.6 1.1-1.6 1-1.5 1.1-1.6 1-1.5M128.7 314.6l1.1-1.6 1-1.6 1.1-1.6 1-1.6 1.1-1.6 1-1.6 1.1-1.6 1-1.6 1.1-1.6 1.1-1.6 1-1.7 1.1-1.6 1-1.6 1.1-1.6 1-1.6 1.1-1.6 1.1-1.6 1-1.6 1.1-1.6 1-1.6 1.1-1.7 1-1.6 1.1-1.6 1-1.6 1.1-1.6 1.1-1.6 1-1.6 1.1-1.6 1-1.6 1.1-1.6 1-1.6 1.1-1.7 1.1-1.6 1-1.6 1.1-1.6 1-1.6 1.1-1.6 1-1.6 1.1-1.6 1-1.6 1.1-1.6 1.1-1.7 1-1.6 1.1-1.6 1-1.6 1.1-1.6 1-1.6 1.1-1.6 1-1.6 1.1-1.6 1.1-1.6 1-1.6 1.1-1.7 1-1.6 1.1-1.6M128.7 314.6l1.1-1.6 1-1.7 1.1-1.6 1-1.7 1.1-1.6 1.1-1.7 1-1.7 1.1-1.6 1-1.7 1.1-1.6 1-1.7 1.1-1.7 1.1-1.6 1-1.7 1.1-1.6 1-1.7 1.1-1.7 1.1-1.6 1-1.7 1.1-1.6 1-1.7 1.1-1.7 1.1-1.6 1-1.7 1.1-1.6 1-1.7 1.1-1.7 1-1.6 1.1-1.7 1.1-1.6 1-1.7 1.1-1.7 1-1.6 1.1-1.7 1.1-1.6 1-1.7 1.1-1.7 1-1.6 1.1-1.7 1.1-1.6 1-1.7 1.1-1.7 1-1.6 1.1-1.7 1-1.6 1.1-1.7 1.1-1.7 1-1.6 1.1-1.7 1-1.6 1.1-1.7 1.1-1.7 1-1.6 1.1-1.7 1-1.6M128.7 314.6l1-1.7 1.1-1.7 1-1.7 1.1-1.7 1-1.7 1.1-1.7 1-1.7 1.1-1.7 1-1.7 1.1-1.7 1-1.8 1.1-1.7 1-1.7 1.1-1.7 1-1.7 1.1-1.7 1-1.7 1.1-1.7 1-1.7 1.1-1.7 1-1.8 1.1-1.7 1-1.7 1.1-1.7 1-1.7 1.1-1.7 1-1.7 1.1-1.7 1-1.7 1.1-1.7 1-1.7 1.1-1.8 1-1.7 1.1-1.7 1-1.7 1.1-1.7 1-1.7 1.1-1.7 1-1.7 1.1-1.7 1-1.7 1.1-1.8 1-1.7 1.1-1.7 1-1.7 1.1-1.7 1-1.7 1.1-1.7 1-1.7 1.1-1.7 1-1.7 1.1-1.7 1-1.8 1.1-1.7 1-1.7M128.7 314.6l1-1.7 1.1-1.8 1-1.7 1-1.8 1-1.7 1.1-1.8 1-1.8 1-1.7 1.1-1.8 1-1.7 1-1.8 1.1-1.8 1-1.7 1-1.8 1-1.7 1.1-1.8 1-1.8 1-1.7 1.1-1.8 1-1.7 1-1.8 1-1.7 1.1-1.8 1-1.8 1-1.7 1.1-1.8 1-1.7 1-1.8 1.1-1.8 1-1.7 1-1.8 1-1.7 1.1-1.8 1-1.8 1-1.7 1.1-1.8 1-1.7 1-1.8 1-1.7 1.1-1.8 1-1.8 1-1.7 1.1-1.8 1-1.7 1-1.8 1.1-1.8 1-1.7 1-1.8 1-1.7 1.1-1.8 1-1.8 1-1.7 1.1-1.8 1-1.7 1-1.8M128.7 314.6l1-1.8 1-1.8 1-1.8 1-1.8 1-1.8 1-1.8 1-1.8 1-1.8 1-1.8 1-1.8 1-1.8 1-1.8 1-1.8 1-1.8 1-1.9 1-1.8 1-1.8 1-1.8 1-1.8 1-1.8 1-1.8 1-1.8 .9-1.8 1-1.8 1-1.8 1-1.8 1-1.8 1-1.8 1-1.9 1-1.8 1-1.8 1-1.8 1-1.8 1-1.8 1-1.8 1-1.8 1-1.8 1-1.8 1-1.8 1-1.8 1-1.8 1-1.8 1-1.9 1-1.8 1-1.8 1-1.8 1-1.8 1-1.8 1-1.8 1-1.8 1-1.8 1-1.8 1-1.8 1-1.8 1-1.8M128.7 314.6l1-1.8 .9-1.9 1-1.8 .9-1.9 1-1.8 .9-1.9 1-1.8 .9-1.9 1-1.8 1-1.9 .9-1.8 1-1.9 .9-1.8 1-1.9 .9-1.9 1-1.8 .9-1.9 1-1.8 .9-1.9 1-1.8 1-1.9 .9-1.8 1-1.9 .9-1.8 1-1.9 .9-1.8 1-1.9 .9-1.8 1-1.9 1-1.9 .9-1.8 1-1.9 .9-1.8 1-1.9 .9-1.8 1-1.9 .9-1.8 1-1.9 1-1.8 .9-1.9 1-1.8 .9-1.9 1-1.8 .9-1.9 1-1.9 .9-1.8 1-1.9 .9-1.8 1-1.9 1-1.8 .9-1.9 1-1.8 .9-1.9 1-1.8 .9-1.9M128.7 314.6l.9-1.8 .9-1.9 .9-1.9 .9-1.9 .9-1.9 .9-1.9 .9-1.9 .9-1.9 .9-1.9 .9-1.9 .9-1.9 .9-1.9 .9-1.9 .9-1.9 .9-1.9 .9-1.9 .9-1.9 .9-1.9 .9-1.9 .9-1.9 .9-1.9 .9-1.9 .9-1.9 .9-1.9 1-1.9 .9-1.9 .9-1.9 .9-1.9 .9-1.9 .9-1.9 .9-1.9 .9-1.9 .9-1.9 .9-1.9 .9-1.9 .9-1.9 .9-1.9 .9-1.9 .9-1.9 .9-1.9 .9-1.9 .9-1.8 .9-1.9 .9-1.9 .9-1.9 .9-1.9 .9-1.9 .9-1.9 .9-1.9 .9-1.9 .9-1.9 .9-1.9 .9-1.9 .9-1.9 .9-1.9"/></g>
<g stroke="#000" stroke-width="0.72" stroke-opacity="1" stroke-linejoin="round"><path fill="#0871de" d="M127.7 313.2l0 0 .1 0 .1 .1 0 0 .1 .1 .1 0 .1 0 .1 0 .1 .1 .1 0 .1 0 .1 0 .1 0 .1 0 .2 0 .1-.1 .1 0 0 0 .1-.1 .1 0 .1 0 0-.1 .1 0 0-.1-1 1.5 0 0 0 0 0 0 0 0 0 0 0 0 0 0 0 0 0 0 0 0 0 0 0 0 0 0 0 0 0 0 0 0 0 0 0 0 0 0 0 0 0 0 0 0 0 0 0 0z"/><path fill="#0d75dc" d="M126.7 311.7l.1 .1 .1 0 .1 .1 .2 .1 .1 .1 .2 0 .2 .1 .2 0 .2 .1 .2 0 .2 0 .3 0 .2 0 .2 0 .2 0 .2-.1 .2 0 .2-.1 .2-.1 .1 0 .1-.1 .2-.1 .1-.1 0-.1-1 1.5 0 .1-.1 0 0 .1-.1 0-.1 0-.1 .1 0 0-.1 0-.1 .1-.2 0-.1 0-.1 0-.1 0-.1 0-.1 0-.1-.1-.1 0-.1 0-.1 0-.1-.1 0 0-.1-.1-.1 0 0 0z"/><path fill="#0d75dc" d="M125.7 310.2l.1 .1 .2 .1 .2 .2 .2 .1 .2 .1 .3 .1 .3 .1 .3 0 .3 .1 .3 0 .4 0 .3 0 .3 0 .3 0 .4 0 .3-.1 .3-.1 .2-.1 .3-.1 .2-.1 .2-.1 .2-.1 .1-.1 .1-.2-1 1.5 0 .1-.1 .1-.2 .1-.1 .1-.1 0-.2 .1-.2 .1-.2 0-.2 .1-.2 0-.2 0-.2 0-.3 0-.2 0-.2 0-.2-.1-.2 0-.2-.1-.2 0-.1-.1-.2-.1-.1-.1-.1 0-.1-.1z"/><path fill="#1079da" d="M124.7 308.7l.2 .2 .2 .1 .2 .2 .3 .2 .4 .1 .3 .1 .4 .1 .4 .1 .4 .1 .4 0 .5 .1 .4 0 .5-.1 .4 0 .4 0 .4-.1 .4-.1 .4-.1 .3-.2 .3-.1 .3-.2 .2-.1 .2-.2 .2-.2-1.1 1.5-.1 .2-.1 .1-.2 .1-.2 .1-.2 .1-.3 .1-.2 .1-.3 .1-.3 .1-.4 0-.3 0-.3 0-.3 0-.4 0-.3 0-.3-.1-.3 0-.3-.1-.3-.1-.2-.1-.2-.1-.2-.2-.2-.1-.1-.1z"/><path fill="#127dd8" d="M123.7 307.2l.2 .2 .3 .2 .3 .2 .4 .2 .4 .2 .4 .2 .5 .1 .5 .1 .5 .1 .5 0 .6 .1 .5 0 .6 0 .5-.1 .6 0 .5-.1 .5-.2 .4-.1 .5-.2 .3-.1 .4-.2 .3-.2 .2-.3 .2-.2-1 1.5-.2 .2-.2 .2-.2 .1-.3 .2-.3 .1-.3 .2-.4 .1-.4 .1-.4 .1-.4 0-.4 0-.5 .1-.4 0-.5-.1-.4 0-.4-.1-.4-.1-.4-.1-.3-.1-.4-.1-.3-.2-.2-.2-.2-.1-.2-.2z"/><path fill="#1481d6" d="M122.7 305.7l.3 .3 .3 .2 .4 .3 .4 .2 .5 .2 .5 .2 .6 .2 .6 .1 .6 .1 .7 .1 .6 0 .7 0 .6 0 .7-.1 .6 0 .6-.2 .6-.1 .6-.2 .5-.2 .4-.2 .4-.2 .4-.3 .3-.2 .2-.3-1 1.5-.2 .2-.2 .3-.3 .2-.4 .2-.3 .1-.5 .2-.4 .1-.5 .2-.5 .1-.6 0-.5 .1-.6 0-.5 0-.6-.1-.5 0-.5-.1-.5-.1-.5-.1-.4-.2-.4-.2-.4-.2-.3-.2-.3-.2-.2-.2z"/><path fill="#1485d4" d="M121.7 304.2l.3 .3 .4 .3 .4 .3 .5 .3 .6 .2 .6 .2 .7 .2 .7 .2 .7 .1 .8 .1 .7 0 .8 0 .8 0 .7 0 .8-.1 .7-.2 .7-.1 .6-.2 .6-.3 .5-.2 .5-.3 .4-.3 .4-.3 .2-.3-1 1.5-.2 .3-.3 .2-.4 .3-.4 .2-.4 .2-.5 .2-.6 .2-.6 .1-.6 .2-.6 0-.7 .1-.6 0-.7 0-.6 0-.7-.1-.6-.1-.6-.1-.6-.2-.5-.2-.5-.2-.4-.2-.4-.3-.3-.2-.3-.3z"/><path fill="#1389d3" d="M120.7 302.7l.4 .4 .4 .3 .5 .3 .6 .4 .6 .2 .7 .3 .8 .2 .8 .2 .8 .1 .9 .1 .9 .1 .8 0 .9-.1 .9 0 .8-.1 .9-.2 .7-.2 .8-.2 .6-.3 .7-.2 .5-.4 .5-.3 .3-.4 .3-.3-1 1.5-.2 .3-.4 .3-.4 .3-.5 .3-.5 .2-.6 .3-.6 .2-.7 .1-.7 .2-.8 .1-.7 0-.8 0-.8 0-.7 0-.8-.1-.7-.1-.7-.2-.7-.2-.6-.2-.6-.2-.5-.3-.4-.3-.4-.3-.3-.3z"/><path fill="#108ed2" d="M119.7 301.2l.4 .4 .5 .4 .5 .4 .7 .3 .7 .3 .8 .3 .9 .3 .9 .2 .9 .1 1 .1 1 .1 1 0 1 0 .9-.1 1-.1 .9-.2 .9-.2 .8-.3 .8-.3 .7-.3 .6-.3 .5-.4 .4-.4 .3-.5-1 1.6-.3 .3-.3 .4-.5 .3-.5 .4-.7 .2-.6 .3-.8 .2-.7 .2-.9 .2-.8 .1-.9 0-.9 .1-.8 0-.9-.1-.9-.1-.8-.1-.8-.2-.8-.2-.7-.3-.6-.2-.6-.4-.5-.3-.4-.3-.4-.4z"/><path fill="#0c93d2" d="M118.7 299.7l.4 .5 .6 .4 .6 .4 .7 .4 .8 .4 .9 .3 1 .2 1 .2 1 .2 1.1 .1 1.1 .1 1.1 0 1.1 0 1.1-.1 1.1-.1 1-.2 1-.3 .9-.2 .8-.4 .8-.3 .6-.4 .6-.4 .5-.5 .4-.5-1.1 1.5-.3 .5-.4 .4-.5 .4-.6 .3-.7 .3-.8 .3-.8 .3-.9 .2-.9 .2-1 .1-.9 .1-1 0-1 0-1-.1-1-.1-.9-.1-.9-.2-.9-.3-.8-.3-.7-.3-.7-.3-.5-.4-.5-.4-.4-.4z"/><path fill="#0998d1" d="M117.7 298.2l.5 .5 .6 .5 .7 .5 .8 .4 .8 .4 1 .3 1.1 .3 1.1 .2 1.1 .2 1.2 .2 1.2 0 1.2 .1 1.2-.1 1.2-.1 1.2-.1 1.1-.2 1.1-.3 1-.3 .9-.4 .9-.4 .7-.4 .6-.5 .6-.5 .4-.5-1 1.5-.4 .5-.5 .5-.6 .4-.6 .4-.8 .3-.8 .4-.9 .2-1 .3-1 .2-1.1 .1-1.1 .1-1.1 0-1.1 0-1.1-.1-1.1-.1-1-.2-1-.2-1-.2-.9-.3-.8-.4-.7-.4-.6-.4-.6-.4-.4-.5z"/><path fill="#079ccf" d="M116.7 296.7l.5 .6 .7 .5 .7 .5 .9 .5 1 .4 1 .3 1.2 .4 1.2 .2 1.2 .2 1.3 .2 1.3 .1 1.4 0 1.3-.1 1.3-.1 1.3-.1 1.2-.3 1.2-.2 1.1-.4 1-.4 .9-.4 .8-.5 .7-.5 .6-.5 .4-.6-1 1.5-.4 .5-.6 .5-.6 .5-.7 .4-.9 .4-.9 .4-1 .3-1.1 .3-1.1 .2-1.2 .1-1.2 .1-1.2 .1-1.2-.1-1.2 0-1.2-.2-1.1-.2-1.1-.2-1.1-.3-1-.3-.8-.4-.8-.4-.7-.5-.6-.5-.5-.5z"/><path fill="#06a0cd" d="M115.7 295.2l.6 .6 .7 .6 .8 .5 .9 .5 1.1 .5 1.1 .4 1.3 .3 1.3 .3 1.3 .2 1.4 .2 1.4 .1 1.5 0 1.4 0 1.4-.2 1.4-.1 1.4-.3 1.2-.3 1.2-.3 1.1-.5 1-.4 .9-.5 .7-.6 .6-.6 .5-.6-1 1.5-.4 .6-.6 .5-.7 .5-.8 .5-.9 .4-1 .4-1.1 .4-1.2 .2-1.2 .3-1.3 .1-1.3 .1-1.3 .1-1.4 0-1.3-.1-1.3-.2-1.2-.2-1.2-.2-1.2-.4-1-.3-1-.4-.9-.5-.7-.5-.7-.5-.5-.6z"/><path fill="#06a4ca" d="M114.7 293.7l.6 .7 .8 .6 .9 .6 1 .5 1.1 .5 1.2 .4 1.3 .4 1.5 .3 1.4 .2 1.5 .2 1.6 .1 1.5 0 1.6 0 1.5-.1 1.5-.2 1.4-.3 1.4-.3 1.2-.4 1.2-.5 1.1-.5 .9-.5 .8-.6 .7-.7 .5-.6-1 1.5-.5 .6-.6 .6-.7 .6-.9 .5-1 .4-1.1 .5-1.2 .3-1.2 .3-1.4 .3-1.4 .1-1.4 .2-1.4 0-1.5 0-1.4-.1-1.4-.2-1.3-.2-1.3-.3-1.3-.3-1.1-.4-1.1-.5-.9-.5-.8-.5-.7-.6-.6-.6z"/><path fill="#06a7c6" d="M113.7 292.2l.7 .7 .8 .7 .9 .6 1.1 .6 1.2 .5 1.3 .5 1.4 .4 1.5 .3 1.6 .2 1.6 .2 1.7 .1 1.6 .1 1.7-.1 1.6-.1 1.6-.2 1.6-.3 1.4-.4 1.4-.4 1.3-.5 1.1-.5 1-.6 .9-.6 .7-.7 .5-.7-1 1.5-.5 .6-.7 .7-.8 .6-.9 .5-1.1 .5-1.2 .5-1.2 .4-1.4 .3-1.4 .3-1.5 .2-1.5 .1-1.6 0-1.5 0-1.6-.1-1.5-.2-1.4-.2-1.5-.3-1.3-.4-1.2-.4-1.1-.5-1-.5-.9-.6-.8-.6-.6-.7z"/><path fill="#07a9c2" d="M112.7 290.7l.7 .8 .9 .7 1 .6 1.1 .7 1.3 .5 1.4 .5 1.5 .4 1.6 .4 1.7 .3 1.7 .1 1.8 .2 1.8 0 1.7-.1 1.8-.1 1.7-.2 1.6-.3 1.6-.4 1.4-.5 1.4-.5 1.2-.5 1.1-.7 .9-.7 .8-.7 .6-.7-1.1 1.5-.5 .7-.7 .7-.9 .6-1 .6-1.1 .5-1.3 .5-1.4 .4-1.4 .4-1.6 .3-1.6 .2-1.6 .1-1.7 .1-1.6-.1-1.7-.1-1.6-.2-1.6-.2-1.5-.3-1.4-.4-1.3-.5-1.2-.5-1.1-.6-.9-.6-.8-.7-.7-.7z"/><path fill="#0aacbe" d="M111.7 289.2l.8 .8 .9 .8 1 .7 1.3 .6 1.3 .6 1.5 .5 1.6 .5 1.7 .4 1.8 .3 1.9 .2 1.8 .1 1.9 0 1.9 0 1.8-.2 1.8-.2 1.8-.3 1.6-.4 1.6-.5 1.4-.6 1.3-.6 1.2-.7 .9-.7 .8-.7 .7-.8-1 1.5-.6 .7-.8 .7-.9 .7-1.1 .7-1.2 .5-1.4 .5-1.4 .5-1.6 .4-1.6 .3-1.7 .2-1.8 .1-1.7 .1-1.8 0-1.8-.2-1.7-.1-1.7-.3-1.6-.4-1.5-.4-1.4-.5-1.3-.5-1.1-.7-1-.6-.9-.7-.7-.8z"/><path fill="#0faeb9" d="M110.7 287.7l.8 .9 1 .8 1.1 .7 1.3 .7 1.4 .6 1.6 .6 1.7 .5 1.8 .4 1.9 .3 2 .2 1.9 .1 2 0 2 0 2-.2 1.9-.2 1.8-.4 1.8-.4 1.6-.5 1.5-.6 1.4-.6 1.2-.7 1.1-.8 .8-.8 .7-.9-1 1.6-.7 .8-.8 .7-.9 .7-1.2 .7-1.3 .6-1.4 .6-1.6 .5-1.6 .4-1.8 .3-1.8 .2-1.8 .2-1.9 0-1.9 0-1.8-.1-1.9-.2-1.8-.3-1.7-.4-1.6-.5-1.5-.5-1.3-.6-1.3-.6-1-.7-.9-.8-.8-.8z"/><path fill="#15b1b4" d="M109.7 286.2l.9 .9 1 .9 1.2 .8 1.3 .7 1.6 .6 1.6 .6 1.8 .5 1.9 .5 2 .3 2.1 .2 2.1 .1 2.1 .1 2.1-.1 2-.2 2.1-.2 1.9-.4 1.8-.4 1.8-.6 1.6-.6 1.4-.7 1.3-.7 1.1-.8 .9-.9 .7-.9-1 1.5-.7 .9-.8 .8-1.1 .8-1.2 .7-1.4 .6-1.5 .6-1.6 .5-1.8 .4-1.8 .4-1.9 .2-2 .2-2 0-2 0-1.9-.1-2-.2-1.9-.3-1.8-.4-1.7-.5-1.6-.6-1.4-.6-1.3-.7-1.1-.7-1-.8-.8-.9z"/><path fill="#1db3af" d="M108.7 284.8l.9 .9 1.1 .9 1.2 .8 1.5 .8 1.6 .7 1.7 .6 1.9 .5 2 .4 2.1 .4 2.2 .2 2.2 .2 2.2 0 2.2-.1 2.2-.1 2.1-.3 2.1-.4 1.9-.5 1.8-.5 1.7-.7 1.5-.7 1.4-.8 1.1-.8 1-.9 .7-1-1 1.5-.7 .9-.9 .9-1.1 .8-1.3 .7-1.4 .7-1.6 .6-1.8 .6-1.8 .4-1.9 .4-2.1 .2-2 .2-2.1 .1-2.1-.1-2.1-.1-2.1-.2-2-.3-1.9-.5-1.8-.5-1.6-.6-1.6-.6-1.3-.7-1.2-.8-1-.9-.9-.9z"/><path fill="#25b5a9" d="M107.7 283.3l.9 .9 1.2 1 1.3 .8 1.5 .8 1.7 .8 1.8 .6 2 .6 2.1 .4 2.2 .4 2.3 .2 2.3 .2 2.3 0 2.3 0 2.3-.2 2.3-.3 2.1-.4 2.1-.5 1.9-.6 1.7-.7 1.6-.7 1.5-.9 1.2-.9 1-.9 .7-1-1 1.5-.7 1-1 .9-1.1 .8-1.4 .8-1.5 .7-1.7 .7-1.8 .5-1.9 .5-2.1 .4-2.1 .3-2.2 .1-2.2 .1-2.2 0-2.2-.2-2.2-.2-2.1-.4-2-.4-1.9-.5-1.7-.6-1.6-.7-1.5-.8-1.2-.8-1.1-.9-.9-.9z"/><path fill="#2eb7a4" d="M106.7 281.8l1 1 1.2 1 1.3 .9 1.6 .8 1.8 .8 1.9 .7 2.1 .5 2.2 .5 2.3 .4 2.4 .3 2.4 .1 2.5 .1 2.4-.1 2.4-.2 2.3-.3 2.3-.4 2.1-.6 2-.6 1.9-.7 1.6-.8 1.5-.8 1.3-1 1-1 .9-1-1.1 1.5-.7 1-1 .9-1.2 .9-1.5 .9-1.6 .7-1.7 .7-1.9 .6-2.1 .5-2.1 .4-2.3 .3-2.3 .2-2.3 0-2.3 0-2.3-.2-2.3-.2-2.2-.4-2.1-.4-2-.6-1.8-.6-1.7-.8-1.5-.8-1.3-.8-1.2-1-.9-.9z"/><path fill="#38b99e" d="M105.8 280.3l.9 1 1.3 1.1 1.4 .9 1.7 .9 1.8 .8 2 .7 2.2 .6 2.3 .5 2.4 .4 2.5 .3 2.5 .1 2.6 .1 2.5-.1 2.5-.2 2.5-.3 2.3-.5 2.3-.5 2.1-.6 1.9-.8 1.8-.8 1.5-.9 1.3-1 1.1-1 .9-1.1-1 1.5-.9 1-1 1-1.3 1-1.5 .8-1.6 .8-1.9 .7-2 .6-2.1 .6-2.3 .4-2.3 .3-2.4 .2-2.4 .1-2.5-.1-2.4-.1-2.4-.3-2.3-.4-2.2-.5-2.1-.5-1.9-.7-1.8-.8-1.6-.8-1.3-.9-1.2-1-1-1z"/><path fill="#42bb98" d="M104.8 278.8l1 1.1 1.3 1 1.5 1 1.7 1 1.9 .8 2.1 .7 2.3 .7 2.4 .5 2.5 .4 2.6 .3 2.7 .2 2.6 0 2.7-.1 2.6-.2 2.5-.3 2.5-.5 2.3-.5 2.2-.7 2-.8 1.9-.8 1.6-1 1.4-1 1.1-1.1 .9-1.1-1 1.5-.9 1.1-1.1 1-1.3 1-1.5 .9-1.8 .8-1.9 .8-2.1 .6-2.3 .5-2.3 .5-2.5 .3-2.5 .2-2.5 .1-2.6-.1-2.5-.1-2.5-.3-2.4-.4-2.3-.5-2.2-.6-2-.7-1.8-.8-1.7-.9-1.4-.9-1.3-1.1-.9-1z"/><path fill="#4dbc92" d="M103.8 277.3l1 1.1 1.3 1.1 1.6 1.1 1.8 .9 2 .9 2.2 .8 2.4 .6 2.5 .6 2.6 .4 2.7 .3 2.8 .2 2.7 0 2.8-.1 2.7-.2 2.7-.3 2.5-.5 2.5-.6 2.3-.7 2.1-.8 1.9-.9 1.7-1 1.4-1 1.2-1.2 .9-1.1-1 1.5-.9 1.1-1.1 1.1-1.4 1-1.6 1-1.9 .8-2 .8-2.2 .7-2.3 .5-2.5 .5-2.5 .3-2.6 .2-2.7 .1-2.6 0-2.7-.2-2.6-.3-2.5-.4-2.4-.5-2.3-.7-2.1-.7-1.9-.8-1.7-1-1.5-1-1.3-1-1-1.1z"/><path fill="#59bd8c" d="M102.8 275.8l1.1 1.2 1.3 1.1 1.7 1.1 1.9 1 2.1 .9 2.2 .8 2.5 .7 2.6 .6 2.7 .4 2.8 .3 2.9 .2 2.9 .1 2.8-.1 2.9-.3 2.7-.3 2.7-.5 2.5-.6 2.4-.7 2.2-.9 2-.9 1.7-1 1.5-1.2 1.3-1.1 .9-1.2-1 1.5-.9 1.1-1.2 1.2-1.4 1-1.7 1-1.9 .9-2.1 .8-2.3 .7-2.5 .6-2.5 .5-2.7 .3-2.7 .2-2.8 .1-2.7 0-2.8-.2-2.7-.3-2.6-.4-2.5-.6-2.4-.6-2.2-.8-2-.9-1.8-.9-1.6-1.1-1.3-1.1-1-1.1z"/><path fill="#65be86" d="M101.8 274.3l1.1 1.2 1.4 1.2 1.7 1.2 2 1 2.2 .9 2.3 .9 2.6 .7 2.7 .6 2.8 .4 2.9 .4 3 .1 3 .1 3-.1 2.9-.2 2.9-.4 2.8-.5 2.6-.7 2.5-.7 2.2-.9 2.1-1 1.8-1 1.6-1.2 1.2-1.2 1-1.3-1 1.6-.9 1.2-1.3 1.1-1.5 1.2-1.7 1-2 .9-2.2 .9-2.4 .7-2.5 .6-2.7 .5-2.7 .3-2.9 .3-2.8 .1-2.9-.1-2.9-.2-2.8-.3-2.7-.4-2.6-.6-2.5-.7-2.2-.8-2.1-.9-1.9-1-1.7-1.1-1.3-1.1-1.1-1.2z"/><path fill="#71bf80" d="M100.8 272.8l1.2 1.3 1.4 1.2 1.8 1.2 2 1.1 2.3 .9 2.4 .9 2.7 .7 2.8 .7 2.9 .4 3.1 .4 3 .2 3.1 0 3.1-.1 3.1-.2 3-.4 2.8-.5 2.7-.7 2.6-.8 2.4-.9 2.1-1 1.9-1.1 1.6-1.2 1.3-1.3 1.1-1.3-1.1 1.5-1 1.3-1.2 1.2-1.6 1.2-1.8 1-2.1 1-2.2 .9-2.5 .7-2.6 .7-2.8 .5-2.9 .4-2.9 .2-3 .1-3-.1-3-.1-2.9-.4-2.8-.4-2.7-.6-2.6-.7-2.3-.9-2.2-.9-2-1-1.7-1.2-1.4-1.2-1.1-1.2z"/><path fill="#7cbf7b" d="M99.8 271.3l1.2 1.3 1.5 1.3 1.9 1.2 2.1 1.1 2.3 1.1 2.5 .8 2.8 .8 2.9 .6 3 .5 3.2 .4 3.1 .2 3.3 0 3.2-.1 3.1-.2 3.1-.4 3-.6 2.8-.6 2.6-.9 2.5-.9 2.2-1 1.9-1.2 1.7-1.2 1.4-1.3 1.1-1.4-1 1.5-1.1 1.3-1.3 1.3-1.6 1.2-1.9 1.1-2.1 1-2.4 .9-2.6 .8-2.7 .7-2.8 .5-3 .4-3.1 .2-3.1 .1-3.1 0-3-.2-3.1-.4-2.9-.4-2.8-.7-2.7-.7-2.4-.9-2.3-.9-2-1.1-1.8-1.2-1.4-1.2-1.2-1.3z"/><path fill="#7cbf7b" d="M98.8 269.8l1.2 1.4 1.6 1.3 1.9 1.3 2.2 1.1 2.4 1.1 2.7 .9 2.8 .8 3 .6 3.1 .5 3.3 .4 3.3 .2 3.3 .1 3.3-.1 3.3-.3 3.2-.4 3-.6 3-.7 2.7-.8 2.5-1 2.3-1.1 2-1.2 1.8-1.2 1.4-1.4 1.1-1.4-1 1.5-1.1 1.4-1.4 1.3-1.7 1.2-1.9 1.2-2.2 1-2.5 .9-2.6 .9-2.8 .6-3 .6-3.1 .4-3.1 .2-3.2 .1-3.3 0-3.1-.2-3.2-.4-3-.5-2.9-.6-2.8-.8-2.5-.8-2.3-1.1-2.1-1.1-1.9-1.2-1.5-1.3-1.2-1.3z"/><path fill="#87bf77" d="M97.8 268.3l1.3 1.4 1.6 1.4 2 1.3 2.2 1.2 2.5 1.1 2.8 .9 2.9 .8 3.1 .7 3.2 .6 3.4 .3 3.4 .2 3.4 .1 3.4-.1 3.4-.3 3.3-.4 3.2-.6 3-.7 2.8-.9 2.6-1 2.4-1.1 2.1-1.2 1.8-1.3 1.5-1.4 1.1-1.5-1 1.5-1.1 1.4-1.4 1.4-1.8 1.2-2 1.2-2.3 1.1-2.5 1-2.7 .8-3 .7-3 .6-3.2 .4-3.3 .3-3.3 .1-3.3-.1-3.3-.2-3.3-.4-3.1-.5-3-.6-2.8-.8-2.7-.9-2.4-1.1-2.2-1.1-1.9-1.3-1.6-1.3-1.2-1.4z"/><path fill="#92bf73" d="M96.8 266.8l1.3 1.5 1.7 1.4 2 1.3 2.4 1.3 2.5 1.1 2.9 1 3 .8 3.2 .7 3.3 .6 3.5 .3 3.5 .3 3.6 0 3.5-.1 3.5-.3 3.4-.4 3.2-.6 3.2-.8 2.9-.9 2.7-1 2.4-1.1 2.2-1.3 1.8-1.4 1.5-1.4 1.2-1.5-1 1.5-1.1 1.5-1.5 1.4-1.8 1.3-2.1 1.2-2.4 1.1-2.6 1-2.8 .9-3 .7-3.2 .6-3.3 .4-3.4 .3-3.4 .1-3.4-.1-3.4-.2-3.4-.3-3.2-.6-3.1-.7-2.9-.8-2.8-.9-2.5-1.1-2.2-1.2-2-1.3-1.6-1.4-1.3-1.4z"/><path fill="#9cbf6f" d="M95.8 265.3l1.4 1.6 1.7 1.4 2.1 1.4 2.4 1.2 2.6 1.2 3 1 3.1 .9 3.3 .7 3.4 .6 3.6 .4 3.6 .2 3.7 .1 3.6-.2 3.6-.3 3.5-.4 3.4-.6 3.2-.8 3-.9 2.8-1.1 2.5-1.2 2.2-1.3 1.9-1.4 1.6-1.5 1.2-1.5-1 1.5-1.2 1.5-1.5 1.4-1.8 1.4-2.2 1.3-2.4 1.1-2.7 1-2.9 .9-3.2 .8-3.2 .6-3.4 .4-3.5 .3-3.5 .1-3.6 0-3.5-.3-3.5-.3-3.3-.6-3.2-.7-3-.8-2.9-1-2.5-1.1-2.4-1.3-2-1.3-1.7-1.4-1.3-1.5z"/><path fill="#a5be6b" d="M94.8 263.8l1.4 1.6 1.8 1.5 2.2 1.4 2.4 1.3 2.8 1.2 3 1 3.2 1 3.4 .7 3.5 .6 3.7 .4 3.7 .2 3.8 .1 3.8-.1 3.7-.3 3.6-.5 3.5-.6 3.3-.8 3.1-1 2.8-1.1 2.6-1.2 2.3-1.4 2-1.4 1.6-1.5 1.2-1.6-1 1.5-1.2 1.5-1.6 1.5-1.9 1.4-2.2 1.3-2.5 1.2-2.8 1.1-3 .9-3.2 .8-3.4 .6-3.5 .4-3.6 .3-3.6 .2-3.7-.1-3.6-.2-3.6-.4-3.4-.6-3.3-.7-3.1-.9-3-1-2.6-1.2-2.4-1.2-2.1-1.4-1.7-1.4-1.4-1.6z"/><path fill="#aebe67" d="M93.8 262.3l1.5 1.7 1.8 1.5 2.2 1.5 2.6 1.3 2.8 1.2 3.1 1.1 3.3 .9 3.5 .8 3.6 .6 3.8 .4 3.9 .2 3.8 .1 3.9-.1 3.8-.3 3.7-.5 3.6-.7 3.4-.8 3.2-1 3-1.1 2.6-1.3 2.4-1.3 2-1.5 1.7-1.6 1.3-1.6-1.1 1.5-1.2 1.6-1.6 1.5-2 1.4-2.3 1.4-2.6 1.2-2.8 1.1-3.1 1-3.3 .8-3.5 .6-3.6 .5-3.7 .3-3.8 .1-3.8-.1-3.7-.2-3.7-.4-3.5-.6-3.4-.7-3.2-1-3-1-2.8-1.2-2.4-1.3-2.2-1.4-1.8-1.5-1.4-1.6z"/><path fill="#b7bd64" d="M92.8 260.8l1.5 1.7 1.9 1.6 2.3 1.5 2.6 1.4 2.9 1.2 3.2 1.1 3.4 1 3.6 .8 3.7 .6 3.9 .4 4 .3 4 0 3.9-.1 4-.3 3.8-.5 3.7-.7 3.5-.8 3.3-1 3-1.2 2.7-1.3 2.5-1.4 2-1.5 1.8-1.7 1.3-1.7-1 1.6-1.3 1.6-1.7 1.6-2 1.5-2.4 1.3-2.6 1.3-3 1.1-3.2 1-3.4 .8-3.6 .7-3.7 .5-3.8 .3-3.9 .1-3.8-.1-3.9-.2-3.8-.4-3.6-.6-3.5-.8-3.3-.9-3.1-1.1-2.8-1.2-2.6-1.3-2.2-1.5-1.8-1.5-1.5-1.7z"/><path fill="#c0bc60" d="M91.8 259.3l1.6 1.8 1.9 1.6 2.4 1.5 2.6 1.4 3 1.3 3.3 1.2 3.5 1 3.7 .8 3.8 .6 4 .4 4.1 .3 4.1 .1 4.1-.2 4-.3 4-.5 3.7-.7 3.6-.9 3.4-1 3.1-1.2 2.8-1.3 2.5-1.5 2.2-1.6 1.7-1.6 1.4-1.8-1 1.5-1.3 1.7-1.8 1.7-2 1.5-2.5 1.4-2.7 1.3-3 1.2-3.3 1-3.5 .8-3.7 .7-3.8 .5-4 .3-3.9 .1-4 0-4-.3-3.9-.4-3.7-.6-3.6-.8-3.4-1-3.2-1.1-2.9-1.2-2.6-1.4-2.3-1.5-1.9-1.6-1.5-1.7z"/><path fill="#c8bc5d" d="M90.8 257.8l1.6 1.8 2 1.7 2.4 1.6 2.8 1.4 3 1.3 3.4 1.2 3.6 1 3.8 .9 3.9 .6 4.1 .5 4.2 .2 4.2 .1 4.2-.1 4.2-.4 4-.5 3.9-.7 3.7-.9 3.5-1.1 3.2-1.2 2.9-1.4 2.5-1.5 2.2-1.6 1.8-1.7 1.4-1.8-1 1.5-1.4 1.8-1.7 1.6-2.2 1.6-2.5 1.5-2.8 1.3-3.1 1.2-3.4 1-3.6 .9-3.7 .7-4 .5-4 .3-4.1 .2-4.1-.1-4.1-.3-4-.4-3.8-.6-3.7-.8-3.5-1-3.3-1.2-3-1.3-2.6-1.4-2.4-1.5-1.9-1.6-1.6-1.8z"/><path fill="#d1bb59" d="M89.8 256.4l1.6 1.8 2.1 1.7 2.5 1.6 2.8 1.5 3.1 1.4 3.5 1.2 3.7 1 3.9 .8 4 .7 4.2 .5 4.3 .3 4.4 0 4.3-.1 4.2-.4 4.2-.5 4-.7 3.7-1 3.6-1 3.3-1.3 3-1.4 2.6-1.5 2.2-1.7 1.9-1.8 1.4-1.8-1 1.5-1.4 1.8-1.8 1.7-2.2 1.6-2.5 1.5-2.9 1.4-3.2 1.2-3.5 1.1-3.7 .9-3.9 .7-4 .5-4.2 .4-4.2 .1-4.2-.1-4.2-.2-4.1-.5-3.9-.6-3.8-.9-3.6-1-3.4-1.2-3-1.3-2.8-1.4-2.4-1.6-2-1.7-1.6-1.8z"/><path fill="#d9ba56" d="M88.8 254.9l1.7 1.8 2.1 1.8 2.5 1.6 2.9 1.6 3.2 1.4 3.6 1.2 3.8 1.1 4 .8 4.1 .7 4.4 .5 4.4 .3 4.4 0 4.4-.1 4.4-.3 4.2-.6 4.1-.8 3.9-.9 3.7-1.1 3.3-1.3 3.1-1.4 2.7-1.6 2.3-1.7 1.9-1.8 1.4-1.9-1 1.5-1.4 1.8-1.9 1.8-2.2 1.7-2.6 1.5-3 1.4-3.3 1.3-3.6 1-3.7 1-4 .7-4.2 .5-4.2 .4-4.3 .1-4.4 0-4.3-.3-4.2-.5-4-.7-3.9-.8-3.7-1-3.5-1.2-3.1-1.4-2.8-1.5-2.5-1.6-2.1-1.7-1.6-1.8z"/><path fill="#e1b952" d="M87.8 253.4l1.7 1.9 2.2 1.8 2.6 1.7 3 1.5 3.3 1.5 3.6 1.2 3.9 1.1 4.1 .9 4.2 .7 4.5 .5 4.5 .3 4.5 .1 4.5-.2 4.5-.3 4.4-.6 4.2-.8 4-.9 3.7-1.2 3.5-1.3 3.1-1.5 2.7-1.6 2.4-1.7 2-1.9 1.5-1.9-1.1 1.5-1.4 1.9-1.9 1.8-2.3 1.7-2.7 1.6-3.1 1.4-3.3 1.3-3.7 1.1-3.9 .9-4.1 .8-4.2 .6-4.4 .3-4.4 .1-4.4 0-4.4-.3-4.4-.5-4.1-.7-4-.8-3.8-1.1-3.6-1.2-3.2-1.4-2.9-1.6-2.5-1.6-2.1-1.8-1.7-1.8z"/><path fill="#e9b94e" d="M86.8 251.9l1.8 1.9 2.2 1.9 2.7 1.7 3 1.6 3.4 1.5 3.7 1.3 3.9 1.1 4.3 .9 4.3 .7 4.6 .5 4.6 .3 4.6 .1 4.7-.1 4.6-.4 4.4-.6 4.3-.8 4.1-1 3.8-1.2 3.6-1.3 3.2-1.5 2.8-1.7 2.4-1.8 2-1.9 1.6-1.9-1 1.5-1.5 1.9-2 1.9-2.4 1.7-2.7 1.6-3.1 1.5-3.5 1.3-3.7 1.2-4 .9-4.2 .8-4.4 .6-4.5 .3-4.5 .2-4.5-.1-4.5-.3-4.5-.5-4.2-.7-4.1-.9-3.9-1.1-3.6-1.2-3.3-1.5-3-1.5-2.6-1.7-2.2-1.8-1.7-1.9z"/><path fill="#f1b94a" d="M85.8 250.4l1.8 2 2.3 1.9 2.7 1.8 3.1 1.6 3.5 1.5 3.8 1.3 4 1.2 4.3 .9 4.5 .7 4.7 .6 4.7 .3 4.8 0 4.7-.1 4.7-.4 4.6-.6 4.4-.8 4.2-1 3.9-1.2 3.6-1.4 3.3-1.6 2.9-1.7 2.5-1.8 2-1.9 1.6-2-1 1.5-1.6 1.9-2 1.9-2.4 1.8-2.8 1.7-3.2 1.5-3.6 1.3-3.8 1.2-4.1 1-4.3 .8-4.4 .6-4.6 .4-4.7 .1-4.6-.1-4.6-.3-4.6-.5-4.3-.7-4.3-.9-3.9-1.1-3.7-1.3-3.4-1.5-3-1.6-2.7-1.7-2.2-1.9-1.8-1.9z"/><path fill="#f8bb44" d="M84.8 248.9l1.9 2 2.3 2 2.8 1.8 3.2 1.7 3.5 1.5 3.9 1.4 4.1 1.1 4.4 1 4.6 .7 4.8 .6 4.8 .3 4.9 .1 4.9-.2 4.8-.4 4.6-.6 4.5-.8 4.3-1.1 4-1.2 3.7-1.4 3.4-1.6 3-1.7 2.5-1.9 2.1-2 1.6-2.1-1 1.6-1.6 2-2 1.9-2.5 1.8-2.9 1.7-3.3 1.6-3.6 1.4-3.9 1.2-4.2 1-4.4 .8-4.6 .6-4.7 .4-4.7 .1-4.8 0-4.7-.3-4.7-.6-4.5-.7-4.3-.9-4-1.2-3.8-1.3-3.5-1.5-3.1-1.6-2.7-1.8-2.3-1.9-1.8-2z"/><path fill="#fdbe3d" d="M83.8 247.4l1.9 2.1 2.4 2 2.8 1.8 3.3 1.8 3.6 1.5 4 1.4 4.2 1.2 4.5 1 4.7 .7 4.9 .6 4.9 .3 5 .1 5-.2 4.9-.4 4.8-.6 4.6-.8 4.4-1.1 4.1-1.3 3.8-1.4 3.4-1.6 3-1.8 2.6-1.9 2.2-2 1.6-2.2-1 1.5-1.6 2.1-2.1 2-2.5 1.9-3 1.7-3.4 1.6-3.7 1.4-4 1.2-4.3 1.1-4.5 .8-4.6 .6-4.8 .4-4.9 .2-4.9-.1-4.8-.3-4.8-.6-4.6-.7-4.4-1-4.1-1.1-3.9-1.4-3.5-1.5-3.2-1.7-2.8-1.8-2.3-2-1.9-2z"/><path fill="#ffc337" d="M82.8 245.9l2 2.1 2.4 2.1 2.9 1.9 3.3 1.7 3.7 1.6 4.1 1.4 4.3 1.3 4.6 1 4.8 .8 5 .5 5.1 .3 5.1 .1 5.1-.2 5-.4 4.9-.6 4.7-.9 4.4-1 4.2-1.3 3.9-1.5 3.5-1.7 3.1-1.8 2.7-1.9 2.1-2.1 1.7-2.2-1 1.5-1.6 2.2-2.2 2-2.6 1.9-3 1.8-3.4 1.6-3.8 1.4-4.1 1.3-4.4 1.1-4.6 .8-4.8 .6-4.9 .4-5 .2-5-.1-4.9-.3-4.9-.6-4.7-.7-4.5-1-4.2-1.2-4-1.4-3.6-1.5-3.3-1.8-2.8-1.8-2.4-2-1.9-2.1z"/><path fill="#fec832" d="M81.8 244.4l2 2.2 2.5 2.1 3 1.9 3.4 1.8 3.7 1.6 4.2 1.5 4.4 1.2 4.7 1.1 5 .8 5 .5 5.2 .4 5.2 0 5.2-.1 5.1-.4 5-.7 4.8-.9 4.6-1.1 4.3-1.3 3.9-1.5 3.6-1.7 3.2-1.9 2.7-2 2.2-2.1 1.8-2.2-1.1 1.5-1.7 2.2-2.1 2.1-2.7 1.9-3.1 1.8-3.5 1.7-3.9 1.5-4.2 1.3-4.4 1-4.7 .9-4.9 .6-5 .4-5.1 .2-5.1-.1-5.1-.3-5-.5-4.8-.8-4.6-1-4.3-1.3-4.1-1.4-3.7-1.6-3.3-1.7-2.9-1.9-2.4-2.1-2-2.1z"/><path fill="#fcce2e" d="M80.8 242.9l2.1 2.2 2.5 2.1 3 2 3.5 1.9 3.9 1.6 4.2 1.5 4.5 1.3 4.8 1 5.1 .9 5.1 .5 5.3 .4 5.3 .1 5.3-.2 5.3-.4 5.1-.7 4.9-.9 4.6-1.1 4.4-1.4 4.1-1.5 3.6-1.7 3.3-1.9 2.7-2.1 2.3-2.1 1.8-2.3-1 1.5-1.8 2.2-2.2 2.1-2.7 2-3.2 1.9-3.6 1.7-3.9 1.5-4.3 1.3-4.6 1.1-4.8 .9-5 .7-5.1 .4-5.2 .1-5.2 0-5.2-.4-5-.5-5-.8-4.7-1.1-4.4-1.2-4.2-1.5-3.7-1.6-3.4-1.8-3-1.9-2.5-2.1-2-2.2z"/><path fill="#fad32a" d="M79.8 241.4l2.1 2.3 2.6 2.1 3.1 2.1 3.5 1.9 4 1.7 4.3 1.5 4.6 1.3 4.9 1 5.2 .9 5.2 .6 5.4 .3 5.5 .1 5.4-.2 5.3-.4 5.2-.7 5-.9 4.8-1.2 4.5-1.3 4.1-1.6 3.7-1.8 3.3-1.9 2.9-2.1 2.3-2.2 1.8-2.3-1 1.5-1.8 2.3-2.3 2.1-2.7 2.1-3.3 1.9-3.6 1.7-4.1 1.5-4.4 1.4-4.6 1.1-4.9 .9-5.1 .7-5.3 .4-5.3 .2-5.3-.1-5.3-.4-5.1-.5-5.1-.9-4.8-1-4.5-1.3-4.2-1.5-3.9-1.6-3.5-1.9-3-2-2.5-2.1-2.1-2.2z"/><path fill="#f7d826" d="M78.8 239.9l2.1 2.3 2.7 2.2 3.1 2.1 3.7 1.9 4 1.8 4.4 1.5 4.7 1.3 5 1.1 5.3 .9 5.3 .6 5.5 .3 5.6 .1 5.5-.2 5.5-.4 5.3-.7 5.1-.9 4.9-1.2 4.5-1.4 4.2-1.6 3.8-1.8 3.4-2 2.9-2.1 2.4-2.3 1.8-2.3-1 1.5-1.8 2.3-2.3 2.2-2.9 2.1-3.3 1.9-3.7 1.8-4.1 1.6-4.5 1.3-4.8 1.2-5 .9-5.2 .7-5.3 .4-5.4 .2-5.5-.1-5.4-.3-5.2-.6-5.2-.9-4.9-1-4.6-1.3-4.3-1.5-4-1.7-3.5-1.9-3.1-2.1-2.6-2.1-2.1-2.3z"/><path fill="#f5de21" d="M77.8 238.4l2.2 2.4 2.7 2.2 3.2 2.2 3.7 1.9 4.1 1.8 4.5 1.5 4.8 1.4 5.1 1.1 5.4 .9 5.5 .6 5.6 .4 5.6 0 5.7-.1 5.5-.5 5.4-.7 5.2-.9 5-1.2 4.7-1.5 4.3-1.6 3.8-1.9 3.5-2 2.9-2.1 2.4-2.3 1.9-2.4-1 1.5-1.8 2.3-2.4 2.3-2.9 2.1-3.4 2-3.8 1.8-4.2 1.6-4.5 1.4-4.9 1.2-5.1 .9-5.3 .7-5.5 .4-5.5 .2-5.6-.1-5.5-.3-5.3-.6-5.3-.9-5-1.1-4.7-1.3-4.4-1.5-4-1.8-3.7-1.9-3.1-2.1-2.7-2.2-2.1-2.3z"/><path fill="#f5e41d" d="M76.8 236.9l2.2 2.4 2.8 2.3 3.3 2.2 3.7 2 4.2 1.8 4.6 1.6 4.9 1.4 5.2 1.1 5.5 .9 5.6 .6 5.7 .4 5.7 .1 5.8-.2 5.7-.5 5.5-.7 5.3-1 5.1-1.2 4.7-1.4 4.4-1.7 3.9-1.9 3.5-2 3.1-2.3 2.4-2.3 1.9-2.4-1 1.5-1.9 2.4-2.4 2.3-2.9 2.1-3.5 2-3.8 1.9-4.3 1.6-4.7 1.5-5 1.2-5.2 .9-5.4 .7-5.5 .5-5.7 .1-5.6 0-5.6-.4-5.5-.6-5.4-.9-5.1-1.1-4.8-1.4-4.5-1.5-4.1-1.8-3.7-1.9-3.2-2.2-2.7-2.2-2.2-2.4z"/><path fill="#f5eb18" d="M75.8 235.4l2.3 2.5 2.8 2.3 3.3 2.2 3.9 2.1 4.2 1.8 4.7 1.6 5 1.4 5.3 1.2 5.6 .9 5.7 .6 5.8 .4 5.9 .1 5.8-.2 5.8-.4 5.6-.8 5.5-1 5.1-1.2 4.9-1.5 4.4-1.7 4.1-1.9 3.5-2.1 3.1-2.3 2.5-2.4 2-2.5-1.1 1.6-1.9 2.4-2.4 2.3-3.1 2.3-3.5 2-3.9 1.9-4.4 1.7-4.7 1.4-5.1 1.2-5.3 1-5.5 .7-5.7 .5-5.8 .2-5.7-.1-5.7-.4-5.6-.6-5.5-.9-5.2-1.1-4.9-1.4-4.6-1.6-4.2-1.8-3.7-2-3.3-2.2-2.8-2.3-2.2-2.4z"/><path fill="#f6f313" d="M74.8 233.9l2.3 2.5 2.9 2.4 3.4 2.3 3.9 2 4.3 1.9 4.8 1.7 5.1 1.4 5.4 1.2 5.7 .9 5.8 .7 5.9 .3 6 .1 6-.2 5.9-.4 5.7-.8 5.5-1 5.3-1.3 4.9-1.5 4.5-1.7 4.2-2 3.6-2.1 3.1-2.3 2.6-2.4 2-2.6-1 1.5-2 2.5-2.5 2.4-3.1 2.3-3.5 2.1-4.1 1.9-4.4 1.7-4.9 1.5-5.1 1.2-5.5 1-5.6 .8-5.8 .4-5.8 .2-5.9-.1-5.8-.4-5.7-.6-5.6-.9-5.3-1.2-5-1.4-4.7-1.6-4.2-1.8-3.9-2.1-3.3-2.2-2.8-2.3-2.3-2.5z"/><path fill="#f9fb0e" d="M73.8 232.4l2.4 2.6 2.9 2.4 3.4 2.3 4 2.1 4.4 1.9 4.9 1.7 5.2 1.5 5.5 1.2 5.8 .9 5.9 .7 6 .4 6.1 .1 6.1-.2 6-.5 5.8-.8 5.7-1 5.3-1.3 5-1.6 4.7-1.7 4.2-2 3.7-2.2 3.1-2.3 2.7-2.5 2-2.6-1 1.5-2 2.6-2.6 2.4-3.1 2.3-3.6 2.1-4.2 2-4.5 1.7-4.9 1.5-5.3 1.3-5.5 1-5.7 .8-5.9 .4-6 .2-6-.1-5.9-.3-5.8-.7-5.7-.9-5.4-1.2-5.1-1.4-4.8-1.7-4.3-1.9-3.9-2-3.4-2.3-2.9-2.4-2.3-2.5z"/>
<path fill="none" d="M128.7 314.6l-1-1.4-1-1.5-1-1.5-1-1.5-1-1.5-1-1.5-1-1.5-1-1.5-1-1.5-1-1.5-1-1.5-1-1.5-1-1.5-1-1.5-1-1.5-1-1.5-1-1.5-1-1.5-1-1.5-1-1.4-1-1.5-1-1.5-.9-1.5-1-1.5-1-1.5-1-1.5-1-1.5-1-1.5-1-1.5-1-1.5-1-1.5-1-1.5-1-1.5-1-1.5-1-1.5-1-1.5-1-1.5-1-1.5-1-1.4-1-1.5-1-1.5-1-1.5-1-1.5-1-1.5-1-1.5-1-1.5-1-1.5-1-1.5-1-1.5-1-1.5-1-1.5-1-1.5-1-1.5-1-1.5-1-1.5M128.7 314.6l-1-1.4-.9-1.4-1-1.5-.9-1.4-1-1.5-.9-1.4-1-1.5-.9-1.4-1-1.5-1-1.4-.9-1.5-1-1.4-.9-1.5-1-1.4-.9-1.5-1-1.4-.9-1.5-1-1.4-.9-1.5-1-1.4-1-1.5-.9-1.4-1-1.5-.9-1.4-1-1.5-.9-1.4-1-1.5-.9-1.4-1-1.5-1-1.4-.9-1.5-1-1.4-.9-1.4-1-1.5-.9-1.4-1-1.5-.9-1.4-1-1.5-1-1.4-.9-1.5-1-1.4-.9-1.5-1-1.4-.9-1.5-1-1.4-.9-1.5-1-1.4-.9-1.5-1-1.4-1-1.5-.9-1.4-1-1.5-.9-1.4-1-1.5-.9-1.4M128.7 314.6l-.9-1.4-.9-1.4-.9-1.4-.9-1.4-.9-1.4-.9-1.4-.9-1.4-.9-1.4-.9-1.4-.9-1.4-.9-1.4-.9-1.4-.9-1.4-.9-1.4-.9-1.4-.9-1.4-.9-1.4-.9-1.4-.9-1.4-.9-1.4-.9-1.4-.9-1.4-.9-1.4-.9-1.5-1-1.4-.9-1.4-.9-1.4-.9-1.4-.9-1.4-.9-1.4-.9-1.4-.9-1.4-.9-1.4-.9-1.4-.9-1.4-.9-1.4-.9-1.4-.9-1.4-.9-1.4-.9-1.4-.9-1.4-.9-1.4-.9-1.4-.9-1.4-.9-1.4-.9-1.4-.9-1.4-.9-1.5-.9-1.4-.9-1.4-.9-1.4-.9-1.4-.9-1.4-.9-1.4-.9-1.4M128.7 314.6l-.8-1.3-.9-1.4-.8-1.3-.9-1.4-.8-1.4-.8-1.3-.9-1.4-.8-1.4-.9-1.3-.8-1.4-.8-1.3-.9-1.4-.8-1.4-.8-1.3-.9-1.4-.8-1.4-.9-1.3-.8-1.4-.8-1.3-.9-1.4-.8-1.4-.9-1.3-.8-1.4-.8-1.4-.9-1.3-.8-1.4-.9-1.3-.8-1.4-.8-1.4-.9-1.3-.8-1.4-.9-1.4-.8-1.3-.8-1.4-.9-1.3-.8-1.4-.8-1.4-.9-1.3-.8-1.4-.9-1.4-.8-1.3-.8-1.4-.9-1.3-.8-1.4-.9-1.4-.8-1.3-.8-1.4-.9-1.4-.8-1.3-.9-1.4-.8-1.3-.8-1.4-.9-1.4-.8-1.3-.9-1.4M128.7 314.6l-.8-1.3-.7-1.3-.8-1.3-.8-1.3-.7-1.4-.8-1.3-.8-1.3-.7-1.3-.8-1.4-.8-1.3-.7-1.3-.8-1.3-.8-1.4-.7-1.3-.8-1.3-.8-1.3-.7-1.4-.8-1.3-.8-1.3-.7-1.3-.8-1.4-.8-1.3-.7-1.3-.8-1.3-.8-1.4-.7-1.3-.8-1.3-.8-1.3-.7-1.4-.8-1.3-.8-1.3-.7-1.3-.8-1.4-.8-1.3-.7-1.3-.8-1.3-.8-1.4-.7-1.3-.8-1.3-.8-1.3-.7-1.4-.8-1.3-.8-1.3-.7-1.3-.8-1.3-.8-1.4-.7-1.3-.8-1.3-.8-1.3-.7-1.4-.8-1.3-.8-1.3-.7-1.3-.8-1.4-.8-1.3M128.7 314.6l-.7-1.2-.7-1.3-.7-1.3-.6-1.3-.7-1.3-.7-1.3-.7-1.3-.7-1.3-.7-1.3-.7-1.2-.7-1.3-.6-1.3-.7-1.3-.7-1.3-.7-1.3-.7-1.3-.7-1.3-.7-1.3-.6-1.3-.7-1.2-.7-1.3-.7-1.3-.7-1.3-.7-1.3-.7-1.3-.6-1.3-.7-1.3-.7-1.3-.7-1.2-.7-1.3-.7-1.3-.7-1.3-.7-1.3-.6-1.3-.7-1.3-.7-1.3-.7-1.3-.7-1.3-.7-1.2-.7-1.3-.6-1.3-.7-1.3-.7-1.3-.7-1.3-.7-1.3-.7-1.3-.7-1.3-.6-1.3-.7-1.2-.7-1.3-.7-1.3-.7-1.3-.7-1.3-.7-1.3-.7-1.3M128.7 314.6l-.6-1.2-.6-1.3-.6-1.2-.6-1.3-.6-1.2-.6-1.3-.6-1.3-.6-1.2-.6-1.3-.6-1.2-.6-1.3-.6-1.3-.6-1.2-.6-1.3-.6-1.2-.6-1.3-.6-1.3-.6-1.2-.6-1.3-.6-1.2-.6-1.3-.6-1.2-.6-1.3-.6-1.3-.6-1.2-.6-1.3-.6-1.2-.6-1.3-.6-1.3-.5-1.2-.6-1.3-.6-1.2-.6-1.3-.6-1.3-.6-1.2-.6-1.3-.6-1.2-.6-1.3-.6-1.2-.6-1.3-.6-1.3-.6-1.2-.6-1.3-.6-1.2-.6-1.3-.6-1.3-.6-1.2-.6-1.3-.6-1.2-.6-1.3-.6-1.3-.6-1.2-.6-1.3-.6-1.2-.6-1.3M128.7 314.6l-.5-1.2-.5-1.2-.5-1.2-.5-1.3-.5-1.2-.5-1.2-.5-1.3-.5-1.2-.5-1.2-.5-1.3-.5-1.2-.5-1.2-.5-1.3-.6-1.2-.5-1.2-.5-1.3-.5-1.2-.5-1.2-.5-1.3-.5-1.2-.5-1.2-.5-1.3-.5-1.2-.5-1.2-.5-1.3-.5-1.2-.5-1.2-.5-1.3-.5-1.2-.5-1.2-.5-1.3-.5-1.2-.5-1.2-.5-1.2-.5-1.3-.5-1.2-.5-1.2-.5-1.3-.5-1.2-.5-1.2-.5-1.3-.6-1.2-.5-1.2-.5-1.3-.5-1.2-.5-1.2-.5-1.3-.5-1.2-.5-1.2-.5-1.3-.5-1.2-.5-1.2-.5-1.3-.5-1.2-.5-1.2M128.7 314.6l-.4-1.2-.4-1.2-.4-1.2-.4-1.2-.4-1.2-.4-1.2-.4-1.2-.4-1.2-.4-1.2-.4-1.3-.4-1.2-.4-1.2-.4-1.2-.4-1.2-.5-1.2-.4-1.2-.4-1.2-.4-1.2-.4-1.2-.4-1.3-.4-1.2-.4-1.2-.4-1.2-.4-1.2-.4-1.2-.4-1.2-.4-1.2-.4-1.2-.4-1.3-.4-1.2-.4-1.2-.4-1.2-.4-1.2-.4-1.2-.4-1.2-.4-1.2-.4-1.2-.4-1.2-.4-1.3-.4-1.2-.4-1.2-.4-1.2-.5-1.2-.4-1.2-.4-1.2-.4-1.2-.4-1.2-.4-1.3-.4-1.2-.4-1.2-.4-1.2-.4-1.2-.4-1.2-.4-1.2-.4-1.2M128.7 314.6l-.3-1.1-.3-1.2-.3-1.2-.3-1.2-.3-1.2-.3-1.2-.3-1.2-.3-1.2-.3-1.2-.3-1.2-.3-1.2-.3-1.2-.3-1.2-.3-1.2-.3-1.2-.3-1.1-.3-1.2-.3-1.2-.3-1.2-.3-1.2-.3-1.2-.3-1.2-.3-1.2-.3-1.2-.3-1.2-.3-1.2-.3-1.2-.3-1.2-.3-1.2-.3-1.2-.3-1.1-.3-1.2-.3-1.2-.3-1.2-.3-1.2-.3-1.2-.3-1.2-.3-1.2-.3-1.2-.3-1.2-.3-1.2-.3-1.2-.3-1.2-.3-1.2-.3-1.2-.3-1.1-.2-1.2-.3-1.2-.3-1.2-.3-1.2-.3-1.2-.3-1.2-.3-1.2-.3-1.2-.3-1.2M128.7 314.6l-.2-1.1-.2-1.2-.2-1.2-.2-1.2-.2-1.2-.1-1.1-.2-1.2-.2-1.2-.2-1.2-.2-1.2-.2-1.1-.2-1.2-.2-1.2-.2-1.2-.2-1.2-.2-1.2-.1-1.1-.2-1.2-.2-1.2-.2-1.2-.2-1.2-.2-1.1-.2-1.2-.2-1.2-.2-1.2-.2-1.2-.2-1.1-.1-1.2-.2-1.2-.2-1.2-.2-1.2-.2-1.2-.2-1.1-.2-1.2-.2-1.2-.2-1.2-.2-1.2-.2-1.1-.2-1.2-.1-1.2-.2-1.2-.2-1.2-.2-1.1-.2-1.2-.2-1.2-.2-1.2-.2-1.2-.2-1.2-.2-1.1-.2-1.2-.1-1.2-.2-1.2-.2-1.2-.2-1.1-.2-1.2M128.7 314.6l-.1-1.1-.1-1.2 0-1.2-.1-1.1-.1-1.2-.1-1.2-.1-1.2 0-1.1-.1-1.2-.1-1.2-.1-1.2-.1-1.1-.1-1.2 0-1.2-.1-1.2-.1-1.1-.1-1.2-.1-1.2 0-1.2-.1-1.1-.1-1.2-.1-1.2-.1-1.2 0-1.1-.1-1.2-.1-1.2-.1-1.2-.1-1.1-.1-1.2 0-1.2-.1-1.2-.1-1.1-.1-1.2-.1-1.2 0-1.2-.1-1.1-.1-1.2-.1-1.2-.1-1.1 0-1.2-.1-1.2-.1-1.2-.1-1.1-.1-1.2-.1-1.2 0-1.2-.1-1.1-.1-1.2-.1-1.2-.1-1.2 0-1.1-.1-1.2-.1-1.2-.1-1.2-.1-1.1M128.7 314.6l0-1.1 .1-1.2 0-1.2 0-1.1 0-1.2 .1-1.2 0-1.2 0-1.1 .1-1.2 0-1.2 0-1.1 .1-1.2 0-1.2 0-1.2 0-1.1 .1-1.2 0-1.2 0-1.2 .1-1.1 0-1.2 0-1.2 .1-1.1 0-1.2 0-1.2 0-1.2 .1-1.1 0-1.2 0-1.2 .1-1.2 0-1.1 0-1.2 .1-1.2 0-1.1 0-1.2 0-1.2 .1-1.2 0-1.1 0-1.2 .1-1.2 0-1.2 0-1.1 0-1.2 .1-1.2 0-1.1 0-1.2 .1-1.2 0-1.2 0-1.1 .1-1.2 0-1.2 0-1.2 0-1.1 .1-1.2 0-1.2 0-1.1M128.7 314.6l.1-1.1 .2-1.2 .1-1.2 .2-1.2 .1-1.1 .1-1.2 .2-1.2 .1-1.2 .2-1.1 .1-1.2 .1-1.2 .2-1.2 .1-1.1 .2-1.2 .1-1.2 .1-1.2 .2-1.1 .1-1.2 .2-1.2 .1-1.2 .1-1.1 .2-1.2 .1-1.2 .2-1.2 .1-1.2 .1-1.1 .2-1.2 .1-1.2 .2-1.2 .1-1.1 .1-1.2 .2-1.2 .1-1.2 .2-1.1 .1-1.2 .1-1.2 .2-1.2 .1-1.1 .2-1.2 .1-1.2 .1-1.2 .2-1.1 .1-1.2 .2-1.2 .1-1.2 .2-1.2 .1-1.1 .1-1.2 .2-1.2 .1-1.2 .2-1.1 .1-1.2 .1-1.2 .2-1.2 .1-1.1M128.7 314.6l.2-1.1 .3-1.2 .2-1.2 .3-1.2 .2-1.2 .3-1.2 .2-1.1 .3-1.2 .2-1.2 .3-1.2 .2-1.2 .3-1.2 .2-1.2 .3-1.1 .2-1.2 .3-1.2 .2-1.2 .3-1.2 .2-1.2 .3-1.1 .2-1.2 .3-1.2 .2-1.2 .3-1.2 .2-1.2 .3-1.2 .2-1.1 .3-1.2 .2-1.2 .3-1.2 .2-1.2 .3-1.2 .2-1.2 .3-1.1 .2-1.2 .3-1.2 .2-1.2 .3-1.2 .2-1.2 .3-1.1 .2-1.2 .3-1.2 .2-1.2 .3-1.2 .2-1.2 .3-1.2 .2-1.1 .3-1.2 .2-1.2 .3-1.2 .2-1.2 .3-1.2 .2-1.1 .3-1.2 .2-1.2M128.7 314.6l.4-1.1 .3-1.2 .4-1.2 .3-1.2 .4-1.2 .3-1.2 .4-1.2 .3-1.2 .4-1.2 .4-1.2 .3-1.2 .4-1.2 .3-1.2 .4-1.2 .3-1.2 .4-1.2 .3-1.2 .4-1.2 .4-1.2 .3-1.2 .4-1.2 .3-1.2 .4-1.2 .3-1.2 .4-1.2 .3-1.2 .4-1.2 .4-1.2 .3-1.2 .4-1.2 .3-1.2 .4-1.2 .3-1.2 .4-1.2 .3-1.2 .4-1.2 .4-1.2 .3-1.2 .4-1.2 .3-1.2 .4-1.2 .3-1.2 .4-1.2 .3-1.2 .4-1.2 .4-1.2 .3-1.2 .4-1.2 .3-1.2 .4-1.2 .3-1.2 .4-1.2 .3-1.2 .4-1.2 .3-1.2M128.7 314.6l.5-1.2 .4-1.2 .5-1.2 .4-1.2 .5-1.2 .4-1.3 .5-1.2 .5-1.2 .4-1.2 .5-1.2 .4-1.2 .5-1.3 .5-1.2 .4-1.2 .5-1.2 .4-1.2 .5-1.2 .4-1.3 .5-1.2 .5-1.2 .4-1.2 .5-1.2 .4-1.3 .5-1.2 .4-1.2 .5-1.2 .5-1.2 .4-1.2 .5-1.3 .4-1.2 .5-1.2 .4-1.2 .5-1.2 .5-1.2 .4-1.3 .5-1.2 .4-1.2 .5-1.2 .5-1.2 .4-1.3 .5-1.2 .4-1.2 .5-1.2 .4-1.2 .5-1.2 .5-1.3 .4-1.2 .5-1.2 .4-1.2 .5-1.2 .4-1.2 .5-1.3 .5-1.2 .4-1.2 .5-1.2M128.7 314.6l.6-1.2 .5-1.2 .6-1.3 .5-1.2 .6-1.3 .5-1.2 .6-1.2 .5-1.3 .6-1.2 .6-1.3 .5-1.2 .6-1.2 .5-1.3 .6-1.2 .5-1.3 .6-1.2 .5-1.2 .6-1.3 .5-1.2 .6-1.3 .6-1.2 .5-1.3 .6-1.2 .5-1.2 .6-1.3 .5-1.2 .6-1.3 .5-1.2 .6-1.2 .6-1.3 .5-1.2 .6-1.3 .5-1.2 .6-1.2 .5-1.3 .6-1.2 .5-1.3 .6-1.2 .5-1.3 .6-1.2 .6-1.2 .5-1.3 .6-1.2 .5-1.3 .6-1.2 .5-1.2 .6-1.3 .5-1.2 .6-1.3 .6-1.2 .5-1.2 .6-1.3 .5-1.2 .6-1.3 .5-1.2M128.7 314.6l.6-1.2 .7-1.3 .6-1.3 .7-1.2 .6-1.3 .7-1.3 .6-1.2 .7-1.3 .6-1.3 .7-1.2 .6-1.3 .7-1.3 .6-1.2 .6-1.3 .7-1.3 .6-1.3 .7-1.2 .6-1.3 .7-1.3 .6-1.2 .7-1.3 .6-1.3 .7-1.2 .6-1.3 .7-1.3 .6-1.2 .7-1.3 .6-1.3 .6-1.3 .7-1.2 .6-1.3 .7-1.3 .6-1.2 .7-1.3 .6-1.3 .7-1.2 .6-1.3 .7-1.3 .6-1.2 .7-1.3 .6-1.3 .6-1.3 .7-1.2 .6-1.3 .7-1.3 .6-1.2 .7-1.3 .6-1.3 .7-1.2 .6-1.3 .7-1.3 .6-1.2 .7-1.3 .6-1.3 .6-1.3M128.7 314.6l.7-1.3 .8-1.3 .7-1.3 .7-1.3 .8-1.3 .7-1.3 .7-1.3 .7-1.3 .8-1.3 .7-1.3 .7-1.3 .8-1.3 .7-1.3 .7-1.3 .8-1.3 .7-1.3 .7-1.3 .7-1.3 .8-1.3 .7-1.3 .7-1.3 .8-1.3 .7-1.3 .7-1.3 .8-1.3 .7-1.3 .7-1.3 .8-1.3 .7-1.3 .7-1.3 .7-1.3 .8-1.3 .7-1.3 .7-1.3 .8-1.3 .7-1.3 .7-1.3 .8-1.3 .7-1.3 .7-1.3 .8-1.3 .7-1.3 .7-1.3 .7-1.3 .8-1.3 .7-1.3 .7-1.3 .8-1.3 .7-1.3 .7-1.3 .8-1.3 .7-1.3 .7-1.3 .7-1.3 .8-1.3M128.7 314.6l.8-1.3 .8-1.3 .8-1.4 .8-1.3 .8-1.3 .8-1.4 .8-1.3 .9-1.3 .8-1.4 .8-1.3 .8-1.4 .8-1.3 .8-1.3 .8-1.4 .8-1.3 .8-1.3 .8-1.4 .8-1.3 .8-1.4 .8-1.3 .8-1.3 .8-1.4 .9-1.3 .8-1.3 .8-1.4 .8-1.3 .8-1.4 .8-1.3 .8-1.3 .8-1.4 .8-1.3 .8-1.3 .8-1.4 .8-1.3 .8-1.4 .8-1.3 .8-1.3 .9-1.4 .8-1.3 .8-1.3 .8-1.4 .8-1.3 .8-1.4 .8-1.3 .8-1.3 .8-1.4 .8-1.3 .8-1.3 .8-1.4 .8-1.3 .8-1.4 .8-1.3 .9-1.3 .8-1.4 .8-1.3M128.7 314.6l.9-1.3 .8-1.4 .9-1.4 .9-1.4 .9-1.3 .8-1.4 .9-1.4 .9-1.4 .9-1.3 .8-1.4 .9-1.4 .9-1.4 .9-1.3 .8-1.4 .9-1.4 .9-1.4 .9-1.4 .8-1.3 .9-1.4 .9-1.4 .9-1.4 .8-1.3 .9-1.4 .9-1.4 .9-1.4 .8-1.3 .9-1.4 .9-1.4 .8-1.4 .9-1.4 .9-1.3 .9-1.4 .8-1.4 .9-1.4 .9-1.3 .9-1.4 .8-1.4 .9-1.4 .9-1.3 .9-1.4 .8-1.4 .9-1.4 .9-1.4 .9-1.3 .8-1.4 .9-1.4 .9-1.4 .9-1.3 .8-1.4 .9-1.4 .9-1.4 .8-1.3 .9-1.4 .9-1.4 .9-1.4M128.7 314.6l.9-1.4 1-1.4 .9-1.4 .9-1.4 1-1.4 .9-1.5 .9-1.4 1-1.4 .9-1.4 .9-1.4 .9-1.5 1-1.4 .9-1.4 .9-1.4 1-1.4 .9-1.5 .9-1.4 1-1.4 .9-1.4 .9-1.4 1-1.5 .9-1.4 .9-1.4 1-1.4 .9-1.4 .9-1.5 1-1.4 .9-1.4 .9-1.4 1-1.4 .9-1.4 .9-1.5 .9-1.4 1-1.4 .9-1.4 .9-1.4 1-1.5 .9-1.4 .9-1.4 1-1.4 .9-1.4 .9-1.5 1-1.4 .9-1.4 .9-1.4 1-1.4 .9-1.5 .9-1.4 1-1.4 .9-1.4 .9-1.4 1-1.5 .9-1.4 .9-1.4 .9-1.4M128.7 314.6l1-1.4 1-1.5 .9-1.4 1-1.5 1-1.5 1-1.4 1-1.5 .9-1.5 1-1.4 1-1.5 1-1.5 1-1.4 .9-1.5 1-1.5 1-1.4 1-1.5 .9-1.4 1-1.5 1-1.5 1-1.4 1-1.5 .9-1.5 1-1.4 1-1.5 1-1.5 1-1.4 .9-1.5 1-1.5 1-1.4 1-1.5 1-1.4 .9-1.5 1-1.5 1-1.4 1-1.5 1-1.5 .9-1.4 1-1.5 1-1.5 1-1.4 1-1.5 .9-1.5 1-1.4 1-1.5 1-1.4 .9-1.5 1-1.5 1-1.4 1-1.5 1-1.5 .9-1.4 1-1.5 1-1.5 1-1.4 1-1.5M128.7 314.6l1-1.5 1-1.5 1-1.5 1.1-1.5 1-1.5 1-1.5 1-1.5 1-1.5 1-1.6 1.1-1.5 1-1.5 1-1.5 1-1.5 1-1.5 1-1.5 1.1-1.5 1-1.5 1-1.6 1-1.5 1-1.5 1-1.5 1.1-1.5 1-1.5 1-1.5 1-1.5 1-1.5 1-1.6 1.1-1.5 1-1.5 1-1.5 1-1.5 1-1.5 1-1.5 1-1.5 1.1-1.5 1-1.6 1-1.5 1-1.5 1-1.5 1-1.5 1.1-1.5 1-1.5 1-1.5 1-1.6 1-1.5 1-1.5 1.1-1.5 1-1.5 1-1.5 1-1.5 1-1.5 1-1.5 1.1-1.6 1-1.5 1-1.5"/></g>
</g>
<g font-family="Liberation Serif, serif" fill="#222">
<text x="40.4" y="276.4" font-size="15" text-anchor="end" >0.5</text>
<text x="40.4" y="221.5" font-size="15" text-anchor="end" >1</text>
<text x="130.5" y="369.4" font-size="15" text-anchor="middle" >-1</text>
<text x="174.5" y="353.15" font-size="15" text-anchor="middle" >0</text>
<text x="220.5" y="337.6" font-size="15" text-anchor="middle" >1</text>
<text x="104.7" y="368.6" font-size="15" text-anchor="middle" >-1</text>
<text x="71.55" y="347.4" font-size="15" text-anchor="middle" >0</text>
<text x="36.4" y="326.2" font-size="15" text-anchor="middle" >1</text>
</g>
<g font-family="Liberation Serif, serif" fill="#222" font-style="italic" letter-spacing="1.3">
<text x="185.8" y="361" font-size="16" letter-spacing="1.6">x/x<tspan font-size="11.5" dy="3">0</tspan></text>
<text x="26" y="352.4" font-size="16" letter-spacing="1.4">y/y<tspan font-size="11.5" dy="3">0</tspan></text>
<text transform="translate(12.4,284.2) rotate(-90)" font-size="16" letter-spacing="1.4">B<tspan font-size="11" dy="3">z</tspan><tspan dy="-3">/B</tspan><tspan font-size="11" dy="3">0</tspan></text>
</g>
<text x="45.6" y="204.4" font-family="Liberation Serif, serif" font-size="18.5" fill="#222">(c)</text>
<g>
<line x1="47" y1="461.28" x2="139.3" y2="429.58" stroke="#dfdfdf" stroke-width="0.6" />
<line x1="139.3" y1="429.58" x2="210.4" y2="471.58" stroke="#dfdfdf" stroke-width="0.6" />
<line x1="93.15" y1="481.75" x2="93.15" y2="390.95" stroke="#dfdfdf" stroke-width="0.6" />
<line x1="174.85" y1="486.9" x2="174.85" y2="396.1" stroke="#dfdfdf" stroke-width="0.6" />
<line x1="164.25" y1="523.75" x2="93.15" y2="481.75" stroke="#dfdfdf" stroke-width="0.6" />
<line x1="82.55" y1="518.6" x2="174.85" y2="486.9" stroke="#dfdfdf" stroke-width="0.6" />
<line x1="118.1" y1="539.6" x2="210.4" y2="507.9" stroke="#262626" stroke-width="0.7" />
<line x1="118.1" y1="448.8" x2="210.4" y2="417.1" stroke="#262626" stroke-width="0.7" />
<line x1="118.1" y1="539.6" x2="118.1" y2="448.8" stroke="#262626" stroke-width="0.7" />
<line x1="210.4" y1="507.9" x2="139.3" y2="465.9" stroke="#262626" stroke-width="0.7" />
<line x1="210.4" y1="417.1" x2="139.3" y2="375.1" stroke="#262626" stroke-width="0.7" />
<line x1="210.4" y1="507.9" x2="210.4" y2="417.1" stroke="#262626" stroke-width="0.7" />
<line x1="139.3" y1="465.9" x2="47" y2="497.6" stroke="#262626" stroke-width="0.7" />
<line x1="139.3" y1="375.1" x2="47" y2="406.8" stroke="#262626" stroke-width="0.7" />
<line x1="139.3" y1="465.9" x2="139.3" y2="375.1" stroke="#262626" stroke-width="0.7" />
<line x1="47" y1="497.6" x2="118.1" y2="539.6" stroke="#262626" stroke-width="0.7" />
<line x1="47" y1="406.8" x2="118.1" y2="448.8" stroke="#262626" stroke-width="0.7" />
<line x1="47" y1="497.6" x2="47" y2="406.8" stroke="#262626" stroke-width="0.7" />
<line x1="118.1" y1="539.6" x2="120.25" y2="540.87" stroke="#262626" stroke-width="0.7" />
<line x1="164.25" y1="523.75" x2="166.4" y2="525.02" stroke="#262626" stroke-width="0.7" />
<line x1="210.4" y1="507.9" x2="212.55" y2="509.17" stroke="#262626" stroke-width="0.7" />
<line x1="118.1" y1="539.6" x2="115.74" y2="540.41" stroke="#262626" stroke-width="0.7" />
<line x1="82.55" y1="518.6" x2="80.19" y2="519.41" stroke="#262626" stroke-width="0.7" />
<line x1="47" y1="497.6" x2="44.64" y2="498.41" stroke="#262626" stroke-width="0.7" />
<line x1="47" y1="497.6" x2="44.85" y2="496.33" stroke="#262626" stroke-width="0.7" />
<line x1="47" y1="461.28" x2="44.85" y2="460.01" stroke="#262626" stroke-width="0.7" />
<line x1="47" y1="406.8" x2="44.85" y2="405.53" stroke="#262626" stroke-width="0.7" />
<g stroke="#000" stroke-width="0.62" stroke-opacity="1" stroke-linejoin="round"><path fill="#127dd8" d="M129.8 460.4l.1-.1 0-.1 0 0-.1-.1 0 0 0-.1-.1 0-.1-.1-.1 0 0 0-.1-.1-.1 0-.2 0-.1 0-.1-.1-.1 0-.1 0-.2 0-.1 0-.1 .1-.1 0-.1 0-.1 0-.1 .1-.1 0-.1 .1 0 0-.1 .1 0 0 0 .1-.1 0 0 .1 0 0 .1 .1 1.1 2.4 0 0 0 0 0 0 0 0 0 0 0 0 0 0 0 0 0 0 0 0 0 0 0 0 0 0 0 0 0 0 0 0 0 0 0 0 0 0 0 0 0 0 0 0 0 0 0 0 0 0 0 0 0 0 0 0 0 0 0 0 0 0 0 0 0 0 0 0z"/><path fill="#127dd8" d="M131 457.9l0-.1 0-.1 0-.1 0-.1-.1-.1-.1-.1-.1-.1-.2-.1-.1-.1-.2-.1-.2 0-.2-.1-.2-.1-.2 0-.3 0-.2 0-.3 0-.2 0-.2 0-.3 0-.2 .1-.2 0-.2 .1-.2 0-.2 .1-.1 .1-.1 .1-.2 .1 0 .1-.1 .1 0 .1 0 .1 0 .1 0 .2 1.2 2.4-.1-.1 0 0 0-.1 .1 0 0-.1 0 0 .1-.1 0 0 .1-.1 .1 0 .1-.1 .1 0 .1 0 .1 0 .1-.1 .1 0 .2 0 .1 0 .1 0 .1 .1 .1 0 .2 0 .1 0 .1 .1 0 0 .1 0 .1 .1 .1 0 0 .1 0 0 .1 .1 0 0 0 .1-.1 .1z"/><path fill="#1481d6" d="M132.1 455.5l.1-.2 0-.2 0-.1-.1-.2-.1-.1-.1-.2-.2-.1-.2-.2-.3-.1-.2-.1-.3-.1-.3-.1-.4-.1-.3 0-.4-.1-.3 0-.4 0-.4 0-.3 0-.4 .1-.3 0-.3 .1-.3 .1-.3 .1-.3 .1-.2 .2-.2 .1-.1 .2-.2 .1 0 .2-.1 .1 0 .2 0 .2 .1 .1 1.1 2.5 0-.2 0-.1 0-.1 0-.1 .1-.1 0-.1 .2-.1 .1-.1 .1-.1 .2-.1 .2 0 .2-.1 .2 0 .2-.1 .3 0 .2 0 .2 0 .3 0 .2 0 .3 0 .2 0 .2 .1 .2 .1 .2 0 .2 .1 .1 .1 .2 .1 .1 .1 .1 .1 .1 .1 0 .1 0 .1 0 .1 0 .1z"/><path fill="#1485d4" d="M133.3 453l0-.2 .1-.2-.1-.2-.1-.2-.1-.3-.2-.2-.2-.2-.3-.1-.3-.2-.4-.2-.4-.1-.4-.1-.4-.1-.5-.1-.5 0-.4-.1-.5 0-.5 0-.5 .1-.5 0-.4 .1-.4 .1-.4 .1-.4 .2-.3 .1-.3 .2-.3 .2-.2 .2-.2 .2-.1 .2 0 .2-.1 .3 .1 .2 .1 .2 1.1 2.4-.1-.1 0-.2 0-.2 .1-.1 0-.2 .2-.1 .1-.2 .2-.1 .2-.2 .3-.1 .3-.1 .3-.1 .3-.1 .3 0 .4-.1 .3 0 .4 0 .4 0 .3 0 .4 .1 .3 0 .4 .1 .3 .1 .3 .1 .2 .1 .3 .1 .2 .2 .2 .1 .1 .2 .1 .1 .1 .2 0 .1 0 .2-.1 .2z"/><path fill="#1389d3" d="M134.4 450.6l.1-.3 0-.3 0-.2-.1-.3-.2-.3-.2-.2-.3-.3-.4-.2-.4-.2-.4-.2-.5-.2-.5-.1-.6-.1-.6-.1-.5-.1-.7 0-.6 0-.6 0-.6 0-.6 .1-.5 .1-.6 .1-.5 .2-.4 .2-.4 .2-.4 .2-.3 .2-.3 .3-.2 .2-.1 .3-.1 .3 0 .2 0 .3 .1 .3 1.2 2.4-.1-.2-.1-.2 .1-.3 0-.2 .1-.2 .2-.2 .2-.2 .3-.2 .3-.2 .3-.1 .4-.2 .4-.1 .4-.1 .4-.1 .5 0 .5-.1 .5 0 .5 0 .4 .1 .5 0 .5 .1 .4 .1 .4 .1 .4 .1 .4 .2 .3 .2 .3 .1 .2 .2 .2 .2 .1 .3 .1 .2 .1 .2-.1 .2 0 .2z"/><path fill="#108ed2" d="M135.6 448.1l.1-.3 0-.3-.1-.3-.1-.4-.2-.3-.3-.3-.3-.3-.5-.3-.4-.2-.6-.2-.6-.2-.6-.2-.6-.2-.7-.1-.7-.1-.8 0-.7 0-.7 0-.7 .1-.7 .1-.7 .1-.7 .1-.6 .2-.5 .2-.5 .3-.5 .2-.3 .3-.4 .3-.2 .3-.2 .3-.1 .4 0 .3 .1 .3 .1 .4 1.1 2.4-.1-.3 0-.3 0-.2 .1-.3 .1-.3 .2-.2 .3-.3 .3-.2 .4-.2 .4-.2 .4-.2 .5-.2 .6-.1 .5-.1 .6-.1 .6 0 .6 0 .6 0 .7 0 .5 .1 .6 .1 .6 .1 .5 .1 .5 .2 .4 .2 .4 .2 .4 .2 .3 .3 .2 .2 .2 .3 .1 .3 0 .2 0 .3-.1 .3z"/><path fill="#0c93d2" d="M136.7 445.7l.1-.4 .1-.4-.1-.4-.2-.3-.2-.4-.3-.4-.5-.3-.4-.3-.6-.3-.6-.3-.7-.2-.7-.2-.8-.2-.8-.1-.8-.1-.9-.1-.8 0-.9 0-.8 .1-.8 .1-.8 .2-.8 .1-.7 .3-.6 .2-.6 .3-.5 .3-.5 .3-.3 .4-.3 .3-.2 .4-.1 .4-.1 .4 .1 .4 .2 .3 1.1 2.5-.1-.4-.1-.3 0-.3 .1-.4 .2-.3 .2-.3 .4-.3 .3-.3 .5-.2 .5-.3 .5-.2 .6-.2 .7-.1 .7-.1 .7-.1 .7-.1 .7 0 .7 0 .8 0 .7 .1 .7 .1 .6 .2 .6 .2 .6 .2 .6 .2 .4 .2 .5 .3 .3 .3 .3 .3 .2 .3 .1 .4 .1 .3 0 .3-.1 .3z"/><path fill="#0998d1" d="M137.9 443.3l.1-.5 0-.4-.1-.5-.1-.4-.3-.4-.4-.4-.5-.4-.5-.4-.7-.3-.7-.3-.7-.3-.9-.2-.8-.2-1-.2-.9-.1-1 0-1-.1-.9 .1-1 .1-.9 .1-.9 .1-.9 .3-.8 .2-.7 .3-.7 .3-.6 .3-.5 .4-.4 .4-.3 .4-.3 .5-.1 .4 0 .4 .1 .5 .1 .4 1.2 2.4-.2-.3-.1-.4 .1-.4 .1-.4 .2-.4 .3-.3 .3-.4 .5-.3 .5-.3 .6-.3 .6-.2 .7-.3 .8-.1 .8-.2 .8-.1 .8-.1 .9 0 .8 0 .9 .1 .8 .1 .8 .1 .8 .2 .7 .2 .7 .2 .6 .3 .6 .3 .4 .3 .5 .3 .3 .4 .2 .4 .2 .3 .1 .4-.1 .4-.1 .4z"/><path fill="#079ccf" d="M139 440.8l.2-.5 0-.5-.1-.5-.2-.5-.3-.4-.4-.5-.6-.4-.6-.4-.7-.4-.8-.4-.9-.3-.9-.2-1-.2-1-.2-1.1-.1-1.1-.1-1.1 0-1.1 0-1.1 .1-1 .1-1 .2-1 .3-.9 .2-.8 .4-.8 .3-.7 .4-.5 .4-.5 .5-.4 .4-.2 .5-.2 .5 0 .5 .1 .5 .2 .5 1.1 2.4-.1-.4-.1-.5 0-.4 .1-.4 .3-.5 .3-.4 .4-.4 .5-.4 .6-.3 .7-.3 .7-.3 .8-.2 .9-.3 .9-.1 .9-.1 1-.1 .9-.1 1 .1 1 0 .9 .1 1 .2 .8 .2 .9 .2 .7 .3 .7 .3 .7 .3 .5 .4 .5 .4 .4 .4 .3 .4 .1 .4 .1 .5 0 .4-.1 .5z"/><path fill="#06a0cd" d="M140.2 438.4l.1-.6 0-.5-.1-.6-.2-.5-.3-.5-.5-.6-.6-.4-.7-.5-.8-.4-.8-.4-1-.3-1.1-.3-1.1-.3-1.1-.2-1.2-.1-1.2-.1-1.2 0-1.2 .1-1.2 0-1.2 .2-1.1 .2-1.1 .3-1 .3-.9 .3-.9 .4-.7 .5-.6 .4-.6 .5-.4 .5-.3 .6-.1 .5 0 .6 .1 .5 .2 .6 1.1 2.4-.2-.5-.1-.5 0-.5 .2-.5 .2-.5 .4-.4 .5-.5 .5-.4 .7-.4 .8-.3 .8-.4 .9-.2 1-.3 1-.2 1-.1 1.1-.1 1.1 0 1.1 0 1.1 .1 1.1 .1 1 .2 1 .2 .9 .2 .9 .3 .8 .4 .7 .4 .6 .4 .6 .4 .4 .5 .3 .4 .2 .5 .1 .5 0 .5-.2 .5z"/><path fill="#06a4ca" d="M141.3 435.9l.2-.6 0-.6-.1-.6-.2-.6-.4-.6-.5-.5-.7-.6-.7-.5-.9-.4-1-.4-1.1-.4-1.1-.3-1.2-.3-1.3-.2-1.3-.2-1.3 0-1.4-.1-1.3 .1-1.3 .1-1.3 .2-1.2 .2-1.2 .3-1.1 .3-1 .4-1 .4-.8 .5-.7 .5-.5 .6-.5 .5-.3 .6-.2 .6 0 .6 .1 .6 .2 .6 1.2 2.5-.2-.6-.1-.5 0-.6 .1-.5 .3-.6 .4-.5 .6-.5 .6-.4 .7-.5 .9-.4 .9-.3 1-.3 1.1-.3 1.1-.2 1.2-.2 1.2 0 1.2-.1 1.2 0 1.2 .1 1.2 .1 1.1 .2 1.1 .3 1.1 .3 1 .3 .8 .4 .8 .4 .7 .5 .6 .4 .5 .6 .3 .5 .2 .5 .1 .6 0 .5-.1 .6z"/><path fill="#06a4ca" d="M142.5 433.5l.1-.7 .1-.6-.1-.7-.3-.6-.4-.7-.6-.6-.7-.6-.8-.5-1-.5-1-.5-1.2-.4-1.3-.3-1.3-.3-1.4-.3-1.4-.1-1.4-.1-1.5 0-1.5 0-1.4 .1-1.4 .2-1.3 .3-1.3 .3-1.2 .3-1.1 .5-1 .5-.9 .5-.8 .5-.6 .6-.5 .6-.4 .7-.1 .6-.1 .7 .1 .7 .3 .6 1.1 2.4-.2-.6-.1-.6 0-.6 .2-.6 .3-.6 .5-.5 .5-.6 .7-.5 .8-.5 1-.4 1-.4 1.1-.3 1.2-.3 1.2-.2 1.3-.2 1.3-.1 1.3-.1 1.4 .1 1.3 0 1.3 .2 1.3 .2 1.2 .3 1.1 .3 1.1 .4 1 .4 .9 .4 .7 .5 .7 .6 .5 .5 .4 .6 .2 .6 .1 .6 0 .6-.2 .6z"/><path fill="#06a7c6" d="M143.6 431l.2-.7 0-.7-.1-.7-.3-.7-.4-.7-.6-.6-.8-.7-.9-.6-1-.5-1.2-.5-1.2-.5-1.4-.3-1.4-.4-1.5-.2-1.6-.2-1.5-.1-1.6 0-1.6 .1-1.6 .1-1.5 .2-1.4 .2-1.4 .4-1.3 .4-1.2 .4-1.1 .6-1 .5-.8 .6-.7 .7-.5 .7-.4 .6-.2 .8 0 .7 .1 .7 .3 .7 1.1 2.4-.3-.6-.1-.7 .1-.7 .1-.6 .4-.7 .5-.6 .6-.6 .8-.5 .9-.5 1-.5 1.1-.5 1.2-.3 1.3-.3 1.3-.3 1.4-.2 1.4-.1 1.5 0 1.5 0 1.4 .1 1.4 .1 1.4 .3 1.3 .3 1.3 .3 1.2 .4 1 .5 1 .5 .8 .5 .7 .6 .6 .6 .4 .7 .3 .6 .1 .7-.1 .6-.1 .7z"/><path fill="#07a9c2" d="M144.7 428.6l.3-.8 0-.7-.1-.8-.3-.8-.5-.7-.7-.7-.8-.7-1-.6-1.1-.6-1.2-.6-1.4-.4-1.4-.4-1.6-.4-1.6-.2-1.7-.2-1.7-.1-1.7-.1-1.7 .1-1.6 .1-1.7 .2-1.5 .3-1.5 .4-1.5 .4-1.3 .5-1.1 .6-1.1 .6-.8 .6-.8 .7-.5 .8-.4 .7-.3 .8 0 .7 .1 .8 .3 .8 1.2 2.4-.3-.7-.1-.7 0-.7 .2-.8 .4-.6 .5-.7 .7-.7 .8-.6 1-.5 1.1-.6 1.2-.4 1.3-.4 1.4-.4 1.4-.2 1.5-.2 1.6-.1 1.6-.1 1.6 0 1.5 .1 1.6 .2 1.5 .2 1.4 .4 1.4 .3 1.2 .5 1.2 .5 1 .5 .9 .6 .8 .7 .6 .6 .4 .7 .3 .7 .1 .7 0 .7-.2 .7z"/><path fill="#0aacbe" d="M145.9 426.2l.2-.9 .1-.8-.2-.8-.3-.8-.5-.8-.7-.8-.9-.7-1.1-.7-1.1-.6-1.4-.6-1.4-.5-1.6-.4-1.6-.4-1.8-.3-1.7-.2-1.9-.1-1.8 0-1.8 0-1.8 .2-1.8 .2-1.7 .3-1.6 .4-1.5 .5-1.4 .5-1.2 .6-1.1 .6-1 .7-.8 .8-.6 .8-.4 .8-.2 .8-.1 .8 .2 .8 .3 .8 1.1 2.5-.3-.8-.1-.8 0-.7 .3-.8 .4-.7 .5-.8 .8-.7 .8-.6 1.1-.6 1.1-.6 1.3-.5 1.5-.4 1.5-.4 1.5-.3 1.7-.2 1.6-.1 1.7-.1 1.7 .1 1.7 .1 1.7 .2 1.6 .2 1.6 .4 1.4 .4 1.4 .4 1.2 .6 1.1 .6 1 .6 .8 .7 .7 .7 .5 .7 .3 .8 .1 .8 0 .7-.3 .8z"/><path fill="#0faeb9" d="M147 423.7l.3-.9 0-.8-.1-.9-.4-.9-.5-.8-.8-.8-.9-.8-1.1-.8-1.3-.6-1.4-.6-1.6-.6-1.6-.4-1.8-.4-1.8-.3-1.9-.2-2-.2-1.9 0-2 .1-1.9 .1-1.9 .3-1.8 .3-1.7 .4-1.6 .5-1.5 .6-1.3 .6-1.2 .7-1 .7-.8 .8-.7 .9-.4 .8-.3 .9 0 .9 .1 .9 .4 .8 1.1 2.4-.3-.8-.2-.8 .1-.8 .2-.8 .4-.8 .6-.8 .8-.8 1-.7 1.1-.6 1.2-.6 1.4-.5 1.5-.5 1.6-.4 1.7-.3 1.8-.2 1.8-.2 1.8 0 1.8 0 1.9 .1 1.7 .2 1.8 .3 1.6 .4 1.6 .4 1.4 .5 1.4 .6 1.1 .6 1.1 .7 .9 .7 .7 .8 .5 .8 .3 .8 .2 .8-.1 .8-.2 .9z"/><path fill="#15b1b4" d="M148.2 421.3l.2-1 .1-.9-.2-.9-.3-.9-.6-.9-.8-.9-1-.8-1.2-.8-1.4-.7-1.5-.7-1.6-.6-1.8-.4-1.9-.5-1.9-.3-2-.2-2.1-.1-2.1-.1-2 .1-2.1 .2-1.9 .2-2 .4-1.8 .4-1.7 .5-1.6 .6-1.4 .7-1.2 .8-1.1 .7-.9 .9-.7 .9-.5 .9-.2 .9-.1 .9 .2 1 .3 .9 1.2 2.4-.4-.8-.1-.9 0-.9 .3-.9 .4-.8 .7-.9 .8-.8 1-.7 1.2-.7 1.3-.6 1.5-.6 1.6-.5 1.7-.4 1.8-.3 1.9-.3 1.9-.1 2-.1 1.9 0 2 .2 1.9 .2 1.8 .3 1.8 .4 1.6 .4 1.6 .6 1.4 .6 1.3 .6 1.1 .8 .9 .8 .8 .8 .5 .8 .4 .9 .1 .9 0 .8-.3 .9z"/><path fill="#1db3af" d="M149.3 418.8l.3-.9 .1-1-.2-1-.4-1-.6-1-.9-.9-1-.8-1.3-.9-1.4-.7-1.6-.7-1.8-.6-1.8-.6-2-.4-2.1-.3-2.1-.3-2.2-.1-2.2 0-2.2 0-2.1 .2-2.1 .3-2.1 .4-1.9 .4-1.8 .6-1.7 .6-1.5 .7-1.3 .8-1.1 .8-1 .9-.7 1-.5 .9-.3 1-.1 1 .2 1 .4 1 1.1 2.4-.3-.9-.2-1 .1-.9 .2-.9 .5-.9 .7-.9 .9-.9 1.1-.7 1.2-.8 1.4-.7 1.6-.6 1.7-.5 1.8-.4 2-.4 1.9-.2 2.1-.2 2-.1 2.1 .1 2.1 .1 2 .2 1.9 .3 1.9 .5 1.8 .4 1.6 .6 1.5 .7 1.4 .7 1.2 .8 1 .8 .8 .9 .6 .9 .3 .9 .2 .9-.1 .9-.2 1z"/><path fill="#25b5a9" d="M150.5 416.4l.3-1 0-1.1-.2-1-.4-1.1-.6-1-.9-.9-1.1-1-1.4-.8-1.5-.8-1.7-.8-1.8-.6-2-.6-2.1-.4-2.2-.4-2.2-.2-2.3-.2-2.3 0-2.3 .1-2.3 .2-2.2 .2-2.2 .4-2 .5-1.9 .6-1.8 .7-1.6 .7-1.4 .9-1.2 .9-1 .9-.7 1-.6 1-.3 1 0 1.1 .2 1 .4 1 1.1 2.5-.4-1-.2-1 .1-1 .3-1 .5-.9 .7-1 1-.9 1.1-.8 1.3-.8 1.5-.7 1.7-.6 1.8-.6 1.9-.4 2.1-.4 2.1-.3 2.1-.2 2.2 0 2.2 0 2.2 .1 2.1 .3 2.1 .3 2 .4 1.8 .6 1.8 .6 1.6 .7 1.4 .7 1.3 .9 1 .8 .9 .9 .6 1 .4 1 .2 1-.1 1-.3 .9z"/><path fill="#2eb7a4" d="M151.6 414l.3-1.1 .1-1.1-.2-1.1-.5-1.1-.6-1.1-1-1-1.2-1-1.3-.9-1.6-.8-1.8-.8-1.9-.7-2.1-.6-2.2-.4-2.3-.4-2.4-.3-2.4-.1-2.5-.1-2.4 .1-2.4 .2-2.3 .3-2.3 .4-2.1 .5-2 .7-1.9 .7-1.6 .8-1.5 .8-1.3 1-1 .9-.9 1.1-.5 1-.3 1.1-.1 1.1 .2 1.1 .5 1.1 1.1 2.4-.4-1-.2-1 0-1.1 .3-1 .6-1 .7-1 1-.9 1.2-.9 1.4-.9 1.6-.7 1.8-.7 1.9-.6 2-.5 2.2-.4 2.2-.2 2.3-.2 2.3-.1 2.3 0 2.3 .2 2.2 .2 2.2 .4 2.1 .4 2 .6 1.8 .6 1.7 .8 1.5 .8 1.4 .8 1.1 1 .9 .9 .6 1 .4 1.1 .2 1 0 1.1-.3 1z"/>
<path fill="none" d="M128.7 462.8l.9-2.9 .9-2.8 1-2.9 .9-2.8 .9-2.9 .9-2.9 1-2.8 .9-2.9 .9-2.8 .9-2.9 1-2.9 .9-2.8 .9-2.9 .9-2.8 .9-2.9 1-2.9 .9-2.8 .9-2.9 .9-2.8 1-2.9M128.7 462.8l.8-2.9 .9-2.9 .8-2.9 .9-2.9 .8-2.9 .9-2.9 .8-2.9 .8-2.9 .9-2.9 .8-2.9 .9-2.9 .8-2.9 .9-2.9 .8-2.9 .9-2.9 .8-2.9 .8-2.9 .9-2.9 .8-2.9 .9-2.9M128.7 462.8l.8-2.9 .7-3 .8-2.9 .7-3 .8-2.9 .7-2.9 .8-3 .7-2.9 .8-3 .8-2.9 .7-2.9 .8-3 .7-2.9 .8-3 .7-2.9 .8-2.9 .7-3 .8-2.9 .7-3 .8-2.9M128.7 462.8l.7-3 .6-2.9 .7-3 .6-3 .7-3 .6-2.9 .7-3 .7-3 .6-3 .7-2.9 .6-3 .7-3 .7-3 .6-2.9 .7-3 .6-3 .7-3 .6-2.9 .7-3 .7-3M128.7 462.8l.6-3 .5-3 .6-3 .5-3 .6-3 .5-3 .6-3 .5-3 .6-3 .5-3 .6-3 .5-3 .6-3 .6-3 .5-3 .6-3 .5-3 .6-3.1 .5-3 .6-3M128.7 462.8l.4-3 .5-3.1 .4-3 .5-3 .4-3 .5-3.1 .4-3 .5-3 .4-3 .4-3.1 .5-3 .4-3 .5-3.1 .4-3 .5-3 .4-3 .4-3.1 .5-3 .4-3 .5-3M128.7 462.8l.3-3 .4-3.1 .3-3 .3-3.1 .3-3 .4-3.1 .3-3 .3-3.1 .4-3 .3-3.1 .3-3 .3-3.1 .4-3 .3-3 .3-3.1 .4-3 .3-3.1 .3-3 .3-3.1 .4-3M128.7 462.8l.2-3.1 .2-3 .2-3.1 .2-3 .3-3.1 .2-3.1 .2-3 .2-3.1 .2-3 .2-3.1 .2-3.1 .2-3 .2-3.1 .2-3 .3-3.1 .2-3 .2-3.1 .2-3.1 .2-3 .2-3.1M128.7 462.8l.1-3.1 .1-3 .1-3.1 .1-3.1 0-3 .1-3.1 .1-3.1 .1-3 .1-3.1 .1-3.1 .1-3 .1-3.1 .1-3.1 0-3 .1-3.1 .1-3.1 .1-3 .1-3.1 .1-3.1 .1-3M128.7 462.8l0-3.1-.1-3 0-3.1 0-3.1-.1-3 0-3.1 0-3.1-.1-3.1 0-3 0-3.1-.1-3.1 0-3 0-3.1-.1-3.1 0-3 0-3.1-.1-3.1 0-3 0-3.1-.1-3.1M128.7 462.8l-.2-3.1-.1-3-.2-3.1-.1-3.1-.2-3-.1-3.1-.2-3.1-.1-3-.2-3.1-.1-3-.2-3.1-.2-3.1-.1-3-.2-3.1-.1-3.1-.2-3-.1-3.1-.2-3.1-.1-3-.2-3.1M128.7 462.8l-.3-3.1-.2-3-.3-3.1-.3-3-.3-3.1-.2-3-.3-3.1-.3-3-.3-3.1-.2-3.1-.3-3-.3-3.1-.3-3-.2-3.1-.3-3-.3-3.1-.3-3-.2-3.1-.3-3-.3-3.1M128.7 462.8l-.4-3-.4-3.1-.4-3-.4-3.1-.4-3-.3-3-.4-3.1-.4-3-.4-3.1-.4-3-.4-3-.4-3.1-.4-3-.4-3.1-.4-3-.4-3-.3-3.1-.4-3-.4-3.1-.4-3M128.7 462.8l-.5-3-.5-3-.5-3.1-.5-3-.5-3-.5-3-.5-3-.5-3.1-.5-3-.5-3-.5-3-.5-3-.5-3.1-.5-3-.6-3-.5-3-.5-3-.5-3-.5-3.1-.5-3M128.7 462.8l-.6-3-.6-3-.6-3-.6-3-.7-3-.6-3-.6-3-.6-2.9-.6-3-.6-3-.6-3-.6-3-.6-3-.6-3-.7-3-.6-3-.6-3-.6-3-.6-3-.6-3M128.7 462.8l-.7-3-.7-2.9-.7-3-.7-3-.8-2.9-.7-3-.7-2.9-.7-3-.7-3-.7-2.9-.7-3-.7-3-.7-2.9-.8-3-.7-2.9-.7-3-.7-3-.7-2.9-.7-3-.7-2.9M128.7 462.8l-.8-2.9-.8-3-.8-2.9-.8-2.9-.8-2.9-.8-3-.8-2.9-.8-2.9-.8-2.9-.8-3-.8-2.9-.8-2.9-.8-3-.9-2.9-.8-2.9-.8-2.9-.8-3-.8-2.9-.8-2.9-.8-2.9M128.7 462.8l-.9-2.9-.9-2.9-.9-2.9-.8-2.9-.9-2.8-.9-2.9-.9-2.9-.9-2.9-.9-2.9-.9-2.9-.9-2.9-.8-2.8-.9-2.9-.9-2.9-.9-2.9-.9-2.9-.9-2.9-.9-2.9-.9-2.9-.8-2.8M128.7 462.8l-1-2.8-.9-2.9-1-2.8-.9-2.9-1-2.8-1-2.9-.9-2.8-1-2.9-1-2.8-.9-2.8-1-2.9-.9-2.8-1-2.9-1-2.8-.9-2.9-1-2.8-.9-2.8-1-2.9-1-2.8-.9-2.9M128.7 462.8l-1-2.8-1-2.8-1.1-2.8-1-2.8-1-2.8-1-2.8-1.1-2.8-1-2.8-1-2.8-1-2.8-1.1-2.8-1-2.8-1-2.8-1-2.8-1.1-2.8-1-2.8-1-2.8-1-2.8-1.1-2.7-1-2.8M128.7 462.8l-1.1-2.7-1.1-2.8-1-2.7-1.1-2.8-1.1-2.7-1.1-2.8-1-2.7-1.1-2.8-1.1-2.7-1.1-2.8-1-2.7-1.1-2.8-1.1-2.7-1.1-2.8-1.1-2.7-1-2.8-1.1-2.7-1.1-2.8-1.1-2.7-1-2.8M128.7 462.8l-1.1-2.7-1.1-2.7-1.2-2.7-1.1-2.7-1.1-2.7-1.1-2.7-1.1-2.7-1.1-2.7-1.2-2.7-1.1-2.7-1.1-2.7-1.1-2.7-1.1-2.6-1.1-2.7-1.2-2.7-1.1-2.7-1.1-2.7-1.1-2.7-1.1-2.7-1.2-2.7M128.7 462.8l-1.1-2.6-1.2-2.7-1.1-2.6-1.2-2.7-1.1-2.6-1.2-2.7-1.1-2.6-1.2-2.6-1.1-2.7-1.2-2.6-1.1-2.7-1.2-2.6-1.1-2.7-1.1-2.6-1.2-2.6-1.1-2.7-1.2-2.6-1.1-2.7-1.2-2.6-1.1-2.7M128.7 462.8l-1.2-2.6-1.1-2.6-1.2-2.6-1.1-2.6-1.2-2.5-1.2-2.6-1.1-2.6-1.2-2.6-1.2-2.6-1.1-2.6-1.2-2.6-1.1-2.6-1.2-2.5-1.2-2.6-1.1-2.6-1.2-2.6-1.1-2.6-1.2-2.6-1.2-2.6-1.1-2.6M128.7 462.8l-1.2-2.5-1.1-2.6-1.2-2.5-1.2-2.5-1.1-2.6-1.2-2.5-1.2-2.5-1.1-2.6-1.2-2.5-1.1-2.5-1.2-2.6-1.2-2.5-1.1-2.5-1.2-2.6-1.2-2.5-1.1-2.5-1.2-2.6-1.2-2.5-1.1-2.5-1.2-2.6M128.7 462.8l-1.2-2.5-1.1-2.5-1.2-2.4-1.1-2.5-1.2-2.5-1.1-2.5-1.2-2.4-1.1-2.5-1.2-2.5-1.1-2.5-1.2-2.5-1.2-2.4-1.1-2.5-1.2-2.5-1.1-2.5-1.2-2.4-1.1-2.5-1.2-2.5-1.1-2.5-1.2-2.5M128.7 462.8l-1.1-2.4-1.2-2.4-1.1-2.5-1.1-2.4-1.2-2.4-1.1-2.4-1.1-2.5-1.2-2.4-1.1-2.4-1.1-2.4-1.2-2.5-1.1-2.4-1.1-2.4-1.2-2.4-1.1-2.5-1.1-2.4-1.2-2.4-1.1-2.4-1.1-2.5-1.1-2.4M128.7 462.8l1.1-2.4 1.2-2.5 1.1-2.4 1.2-2.5 1.1-2.4 1.2-2.5 1.1-2.4 1.2-2.4 1.1-2.5 1.2-2.4 1.1-2.5 1.2-2.4 1.1-2.5 1.1-2.4 1.2-2.4 1.1-2.5 1.2-2.4 1.1-2.5 1.2-2.4 1.1-2.4M128.7 462.8l1.2-2.5 1.1-2.5 1.2-2.5 1.1-2.5 1.2-2.5 1.2-2.5 1.1-2.5 1.2-2.5 1.2-2.5 1.1-2.5 1.2-2.5 1.1-2.5 1.2-2.5 1.2-2.5 1.1-2.5 1.2-2.5 1.1-2.5 1.2-2.4 1.2-2.5 1.1-2.5M128.7 462.8l1.2-2.6 1.1-2.5 1.2-2.6 1.2-2.5 1.1-2.6 1.2-2.5 1.2-2.6 1.1-2.5 1.2-2.6 1.1-2.5 1.2-2.6 1.2-2.5 1.1-2.6 1.2-2.5 1.2-2.6 1.1-2.5 1.2-2.6 1.2-2.5 1.1-2.6 1.2-2.5M128.7 462.8l1.2-2.6 1.1-2.6 1.2-2.6 1.1-2.6 1.2-2.6 1.1-2.6 1.2-2.7 1.1-2.6 1.2-2.6 1.1-2.6 1.2-2.6 1.2-2.6 1.1-2.6 1.2-2.6 1.1-2.6 1.2-2.6 1.1-2.6 1.2-2.6 1.1-2.6 1.2-2.6M128.7 462.8l1.1-2.7 1.2-2.6 1.1-2.7 1.1-2.6 1.2-2.7 1.1-2.7 1.1-2.6 1.2-2.7 1.1-2.7 1.1-2.6 1.2-2.7 1.1-2.6 1.1-2.7 1.2-2.7 1.1-2.6 1.1-2.7 1.2-2.6 1.1-2.7 1.1-2.7 1.1-2.6M128.7 462.8l1.1-2.7 1.1-2.7 1.1-2.7 1.1-2.8 1.1-2.7 1.1-2.7 1.1-2.7 1.1-2.7 1.1-2.7 1.1-2.7 1.1-2.8 1.1-2.7 1.1-2.7 1.1-2.7 1.1-2.7 1.1-2.7 1.1-2.7 1.1-2.8 1.1-2.7 1.1-2.7M128.7 462.8l1.1-2.8 1-2.7 1.1-2.8 1-2.8 1.1-2.7 1-2.8 1.1-2.8 1-2.7 1.1-2.8 1-2.8 1.1-2.7 1-2.8 1.1-2.7 1-2.8 1.1-2.8 1-2.7 1.1-2.8 1-2.8 1.1-2.7 1-2.8M128.7 462.8l1-2.8 1-2.8 1-2.8 1-2.9 1-2.8 1-2.8 .9-2.8 1-2.8 1-2.8 1-2.8 1-2.9 1-2.8 1-2.8 1-2.8 1-2.8 1-2.8 1-2.8 1-2.8 1-2.9 .9-2.8"/></g>
<g stroke="#000" stroke-width="0.62" stroke-opacity="1" stroke-linejoin="round"><path fill="#38b99e" d="M104.8 412.5l-.3 1.1-.1 1.1 .2 1.2 .5 1.1 .7 1.1 1 1.1 1.2 1 1.4 1 1.7 .8 1.9 .8 2 .7 2.1 .6 2.3 .6 2.4 .3 2.5 .3 2.5 .2 2.6 0 2.5-.1 2.5-.2 2.5-.3 2.3-.4 2.2-.6 2.1-.6 2-.7 1.7-.9 1.6-.9 1.3-.9 1.1-1.1 .8-1.1 .6-1.1 .3-1.1 .1-1.2-.2-1.1-1-2.5 .2 1.1-.1 1.1-.3 1.1-.5 1-.9 1.1-1 .9-1.3 1-1.5 .8-1.6 .8-1.9 .8-2 .6-2.1 .5-2.3 .4-2.3 .3-2.4 .2-2.4 .1-2.5-.1-2.4-.1-2.4-.3-2.3-.4-2.2-.4-2.1-.6-1.9-.7-1.8-.8-1.6-.8-1.3-.9-1.2-1-1-1-.6-1.1-.5-1.1-.2-1.1 .1-1.1 .3-1.1z"/><path fill="#2eb7a4" d="M103.8 415l-.3 1.2-.1 1.1 .2 1.2 .5 1.2 .8 1.2 1 1.1 1.3 1 1.5 1 1.7 .9 1.9 .9 2.1 .7 2.3 .6 2.4 .6 2.5 .4 2.5 .3 2.7 .1 2.6 .1 2.6-.1 2.7-.2 2.5-.4 2.4-.4 2.4-.6 2.1-.6 2-.8 1.9-.9 1.6-.9 1.4-1 1.1-1.1 .9-1.1 .6-1.2 .3-1.2 .1-1.2-.2-1.2-1-2.5 .2 1.1-.1 1.2-.3 1.1-.6 1.1-.8 1.1-1.1 1.1-1.3 .9-1.6 .9-1.7 .9-2 .7-2.1 .6-2.2 .6-2.3 .4-2.5 .3-2.5 .2-2.5 .1-2.6 0-2.5-.2-2.5-.3-2.4-.3-2.3-.6-2.1-.6-2-.7-1.9-.8-1.7-.8-1.4-1-1.2-1-1-1.1-.7-1.1-.5-1.1-.2-1.2 .1-1.1 .3-1.1z"/><path fill="#25b5a9" d="M102.8 417.5l-.3 1.2-.1 1.2 .2 1.3 .5 1.2 .8 1.2 1.1 1.2 1.3 1.1 1.6 1 1.8 .9 2 .9 2.1 .8 2.4 .6 2.5 .6 2.6 .4 2.7 .3 2.7 .2 2.7 0 2.8-.1 2.7-.2 2.6-.3 2.6-.5 2.4-.6 2.2-.7 2.1-.8 1.9-.9 1.7-1 1.4-1 1.2-1.1 .9-1.2 .7-1.2 .3-1.2 .1-1.3-.2-1.2-1-2.6 .2 1.2-.1 1.2-.3 1.2-.6 1.2-.9 1.1-1.1 1.1-1.4 1-1.6 .9-1.9 .9-2 .8-2.1 .6-2.4 .6-2.4 .4-2.5 .4-2.7 .2-2.6 .1-2.6-.1-2.7-.1-2.5-.3-2.5-.4-2.4-.6-2.3-.6-2.1-.7-1.9-.9-1.7-.9-1.5-1-1.3-1-1-1.1-.8-1.2-.5-1.2-.2-1.2 .1-1.1 .3-1.2z"/><path fill="#1db3af" d="M101.9 420l-.4 1.3-.1 1.3 .2 1.2 .6 1.3 .8 1.2 1.1 1.2 1.4 1.2 1.6 1.1 1.8 .9 2.1 .9 2.3 .8 2.4 .7 2.6 .6 2.7 .4 2.8 .3 2.8 .2 2.9 .1 2.8-.1 2.8-.3 2.8-.3 2.6-.5 2.5-.6 2.4-.7 2.1-.9 2-.9 1.7-1 1.5-1.1 1.2-1.2 1-1.2 .6-1.2 .4-1.3 .1-1.3-.2-1.3-1-2.5 .2 1.2-.1 1.3-.3 1.2-.7 1.2-.9 1.2-1.2 1.1-1.4 1-1.7 1-1.9 .9-2.1 .8-2.2 .7-2.4 .6-2.6 .5-2.6 .3-2.7 .2-2.8 .1-2.7 0-2.7-.2-2.7-.3-2.6-.4-2.5-.6-2.4-.6-2.1-.8-2-.9-1.8-.9-1.6-1-1.3-1.1-1.1-1.2-.8-1.2-.5-1.2-.2-1.3 .1-1.2 .3-1.2z"/><path fill="#15b1b4" d="M100.9 422.5l-.4 1.3-.1 1.4 .3 1.3 .5 1.3 .8 1.3 1.2 1.2 1.4 1.2 1.7 1.1 1.9 1 2.2 1 2.3 .8 2.5 .7 2.7 .6 2.8 .4 2.9 .4 2.9 .2 3 0 2.9-.1 3-.2 2.8-.4 2.7-.5 2.6-.6 2.5-.8 2.2-.8 2.1-1 1.7-1.1 1.6-1.1 1.3-1.2 .9-1.3 .7-1.2 .4-1.4 .1-1.3-.3-1.3-.9-2.6 .2 1.3-.1 1.3-.4 1.3-.6 1.2-1 1.2-1.2 1.2-1.5 1.1-1.7 1-2 .9-2.1 .9-2.4 .7-2.5 .6-2.6 .5-2.8 .3-2.8 .3-2.8 .1-2.9-.1-2.8-.2-2.8-.3-2.7-.4-2.6-.6-2.4-.7-2.3-.8-2.1-.9-1.8-.9-1.6-1.1-1.4-1.2-1.1-1.2-.8-1.2-.6-1.3-.2-1.2 .1-1.3 .4-1.3z"/><path fill="#0faeb9" d="M99.9 425l-.4 1.4-.1 1.4 .3 1.3 .5 1.4 .9 1.3 1.2 1.3 1.5 1.2 1.7 1.2 2 1 2.2 1 2.5 .9 2.6 .7 2.7 .6 2.9 .5 3 .3 3.1 .2 3 0 3.1-.1 3-.2 2.9-.4 2.9-.5 2.7-.6 2.5-.8 2.3-.9 2.1-1 1.9-1.1 1.6-1.2 1.3-1.2 1-1.3 .7-1.4 .4-1.3 .1-1.4-.3-1.4-1-2.5 .3 1.3-.1 1.3-.4 1.4-.7 1.2-.9 1.3-1.3 1.2-1.6 1.1-1.7 1.1-2.1 1-2.2 .8-2.5 .8-2.6 .6-2.7 .5-2.8 .4-3 .2-2.9 .1-3 0-2.9-.2-2.9-.4-2.8-.4-2.7-.6-2.5-.7-2.3-.8-2.2-1-1.9-1-1.7-1.1-1.4-1.2-1.2-1.2-.8-1.3-.5-1.3-.3-1.3 .1-1.4 .4-1.3z"/><path fill="#0aacbe" d="M98.9 427.5l-.4 1.4-.1 1.5 .3 1.4 .6 1.4 .9 1.4 1.2 1.3 1.5 1.3 1.8 1.2 2.1 1 2.3 1 2.5 .9 2.7 .8 2.9 .6 3 .5 3 .3 3.2 .2 3.1 .1 3.2-.1 3.1-.3 3.1-.4 2.9-.5 2.8-.7 2.6-.8 2.4-.9 2.2-1 1.9-1.2 1.6-1.2 1.4-1.3 1.1-1.3 .7-1.4 .4-1.4 .1-1.4-.3-1.5-1-2.5 .3 1.4-.1 1.4-.4 1.3-.7 1.4-1 1.3-1.3 1.2-1.6 1.2-1.9 1.1-2.1 1-2.3 .9-2.5 .8-2.7 .6-2.9 .5-2.9 .4-3 .2-3.1 .1-3 0-3.1-.2-3-.3-2.9-.5-2.7-.6-2.6-.7-2.5-.9-2.2-1-2-1-1.7-1.2-1.5-1.2-1.2-1.3-.9-1.3-.5-1.4-.3-1.3 .1-1.4 .4-1.4z"/><path fill="#07a9c2" d="M97.9 430l-.4 1.5-.1 1.5 .3 1.4 .6 1.5 .9 1.4 1.3 1.4 1.6 1.3 1.8 1.2 2.1 1.2 2.4 1 2.6 .9 2.8 .8 3 .6 3.1 .5 3.2 .4 3.2 .2 3.3 0 3.2-.1 3.3-.2 3.1-.4 3-.6 2.9-.7 2.7-.8 2.5-1 2.2-1 2-1.2 1.7-1.3 1.4-1.3 1.1-1.4 .8-1.4 .4-1.5 .1-1.5-.3-1.4-1-2.6 .3 1.5-.1 1.4-.4 1.4-.7 1.4-1.1 1.3-1.4 1.3-1.6 1.2-1.9 1.2-2.2 1-2.4 .9-2.6 .8-2.8 .7-2.9 .5-3.1 .4-3.1 .3-3.2 .1-3.1-.1-3.2-.2-3-.3-3-.5-2.9-.6-2.7-.8-2.5-.9-2.3-1-2.1-1-1.8-1.2-1.5-1.3-1.2-1.3-.9-1.4-.6-1.4-.3-1.4 .1-1.5 .4-1.4z"/><path fill="#06a7c6" d="M96.9 432.5l-.4 1.5-.1 1.6 .3 1.5 .6 1.5 1 1.5 1.3 1.4 1.6 1.3 1.9 1.3 2.2 1.2 2.5 1 2.7 1 2.8 .8 3.1 .6 3.2 .5 3.3 .4 3.3 .2 3.4 .1 3.4-.1 3.3-.3 3.2-.4 3.2-.6 2.9-.7 2.8-.9 2.6-.9 2.3-1.1 2-1.2 1.8-1.3 1.5-1.4 1.1-1.4 .8-1.5 .4-1.5 .1-1.6-.3-1.5-1-2.5 .3 1.4-.1 1.5-.4 1.5-.8 1.4-1.1 1.4-1.4 1.3-1.7 1.3-2 1.2-2.2 1-2.5 1-2.7 .8-2.9 .7-3 .6-3.1 .4-3.3 .2-3.2 .1-3.3 0-3.2-.2-3.2-.4-3.1-.5-3-.6-2.8-.8-2.6-.9-2.4-1-2.1-1.2-1.8-1.2-1.6-1.3-1.3-1.4-.9-1.4-.6-1.5-.3-1.4 .1-1.5 .4-1.5z"/><path fill="#06a4ca" d="M96 435l-.5 1.6-.1 1.6 .3 1.5 .6 1.6 1 1.5 1.4 1.5 1.6 1.3 2 1.4 2.3 1.2 2.5 1 2.8 1 3 .8 3.1 .7 3.3 .6 3.4 .4 3.5 .2 3.4 0 3.5-.1 3.4-.3 3.4-.4 3.2-.6 3-.7 2.9-.9 2.7-1 2.4-1.2 2.1-1.2 1.8-1.3 1.5-1.4 1.1-1.5 .8-1.5 .5-1.6 .1-1.6-.3-1.6-1-2.5 .3 1.5-.1 1.6-.4 1.5-.8 1.5-1.1 1.4-1.5 1.4-1.8 1.3-2 1.2-2.3 1.1-2.6 .9-2.8 .9-2.9 .7-3.2 .6-3.2 .4-3.3 .3-3.4 .1-3.4-.1-3.3-.2-3.3-.4-3.2-.5-3.1-.6-2.8-.8-2.7-1-2.5-1-2.2-1.2-1.9-1.3-1.6-1.3-1.3-1.4-1-1.5-.6-1.5-.3-1.5 .1-1.6 .4-1.5z"/><path fill="#06a0cd" d="M95 437.5l-.5 1.6-.1 1.7 .3 1.6 .7 1.6 1 1.5 1.4 1.5 1.7 1.5 2 1.3 2.4 1.3 2.6 1.1 2.8 1 3.1 .8 3.2 .7 3.4 .6 3.5 .4 3.6 .2 3.6 .1 3.5-.1 3.6-.3 3.4-.5 3.3-.6 3.2-.7 2.9-1 2.7-1 2.5-1.2 2.2-1.2 1.9-1.4 1.5-1.5 1.2-1.5 .8-1.6 .5-1.6 .1-1.6-.3-1.6-1-2.6 .3 1.6-.1 1.6-.5 1.6-.8 1.5-1.1 1.5-1.5 1.4-1.8 1.3-2.1 1.2-2.4 1.2-2.7 1-2.9 .9-3 .7-3.2 .6-3.4 .4-3.4 .3-3.5 .1-3.4 0-3.5-.2-3.4-.4-3.3-.6-3.1-.7-3-.8-2.8-1-2.5-1-2.3-1.2-2-1.4-1.6-1.3-1.4-1.5-1-1.5-.6-1.6-.3-1.5 .1-1.6 .5-1.6z"/><path fill="#079ccf" d="M94 440.1l-.5 1.6-.1 1.7 .3 1.6 .7 1.7 1.1 1.6 1.4 1.5 1.7 1.5 2.1 1.4 2.5 1.3 2.6 1.1 3 1 3.1 .9 3.4 .8 3.4 .5 3.6 .4 3.7 .3 3.7 0 3.7-.1 3.6-.3 3.5-.5 3.5-.6 3.2-.8 3-.9 2.8-1.1 2.6-1.2 2.2-1.3 1.9-1.4 1.6-1.5 1.3-1.6 .8-1.6 .5-1.6 .1-1.7-.3-1.7-1-2.5 .3 1.6-.1 1.6-.5 1.6-.8 1.6-1.2 1.5-1.5 1.5-1.9 1.4-2.2 1.2-2.5 1.2-2.7 1-2.9 1-3.2 .7-3.3 .6-3.4 .5-3.6 .3-3.5 .1-3.6-.1-3.6-.2-3.5-.4-3.4-.6-3.2-.7-3.1-.8-2.8-1-2.6-1.1-2.4-1.3-2-1.3-1.7-1.5-1.4-1.5-1-1.5-.7-1.6-.3-1.6 .1-1.7 .5-1.6z"/><path fill="#079ccf" d="M93 442.6l-.5 1.7-.1 1.7 .3 1.7 .7 1.7 1.1 1.6 1.5 1.6 1.8 1.5 2.2 1.4 2.4 1.4 2.8 1.2 3 1 3.2 .9 3.5 .8 3.6 .6 3.7 .4 3.7 .2 3.8 .1 3.8-.2 3.7-.3 3.7-.4 3.5-.7 3.3-.8 3.1-.9 2.9-1.1 2.6-1.3 2.3-1.3 2-1.5 1.6-1.5 1.3-1.6 .9-1.7 .5-1.7 .1-1.7-.3-1.7-1-2.6 .3 1.7-.1 1.7-.5 1.6-.8 1.6-1.3 1.6-1.6 1.5-1.9 1.4-2.2 1.3-2.6 1.2-2.8 1.1-3 .9-3.2 .8-3.5 .6-3.5 .5-3.6 .3-3.7 .1-3.7 0-3.7-.3-3.6-.4-3.4-.5-3.4-.8-3.1-.9-3-1-2.6-1.1-2.5-1.3-2.1-1.4-1.7-1.5-1.4-1.5-1.1-1.6-.7-1.7-.3-1.6 .1-1.7 .5-1.6z"/><path fill="#0998d1" d="M92 445.1l-.5 1.7-.1 1.8 .3 1.7 .8 1.8 1.1 1.7 1.5 1.6 1.8 1.6 2.3 1.4 2.5 1.4 2.8 1.2 3.1 1.1 3.4 .9 3.5 .8 3.7 .6 3.8 .4 3.8 .2 3.9 .1 3.9-.1 3.9-.3 3.7-.5 3.6-.7 3.4-.8 3.3-1 2.9-1.1 2.7-1.3 2.4-1.4 2-1.5 1.7-1.6 1.3-1.6 .9-1.7 .5-1.8 .1-1.7-.3-1.8-1-2.5 .3 1.7-.1 1.7-.5 1.7-.9 1.7-1.3 1.6-1.6 1.5-2 1.5-2.3 1.3-2.6 1.3-2.9 1.1-3.1 .9-3.3 .8-3.5 .7-3.7 .4-3.7 .3-3.8 .2-3.8-.1-3.7-.2-3.7-.4-3.6-.6-3.5-.8-3.2-.9-3-1-2.8-1.2-2.4-1.4-2.2-1.4-1.8-1.5-1.5-1.6-1.1-1.6-.7-1.7-.3-1.7 .1-1.7 .5-1.7z"/><path fill="#0c93d2" d="M91 447.6l-.5 1.8-.1 1.8 .4 1.8 .7 1.8 1.1 1.7 1.6 1.7 1.9 1.6 2.3 1.5 2.6 1.4 2.9 1.2 3.2 1.1 3.4 1 3.6 .8 3.8 .6 3.9 .4 4 .3 4 .1 4-.2 3.9-.3 3.8-.5 3.7-.7 3.6-.8 3.3-1 3-1.2 2.8-1.3 2.4-1.4 2.1-1.6 1.7-1.6 1.3-1.7 1-1.7 .5-1.8 .1-1.9-.4-1.8-.9-2.5 .3 1.8-.1 1.7-.5 1.8-.9 1.7-1.3 1.6-1.7 1.6-2 1.5-2.4 1.4-2.7 1.3-2.9 1.1-3.3 1-3.4 .8-3.6 .7-3.7 .5-3.9 .3-3.9 .1-3.9-.1-3.8-.2-3.8-.4-3.7-.6-3.5-.8-3.4-.9-3.1-1.1-2.8-1.2-2.5-1.4-2.3-1.4-1.8-1.6-1.5-1.6-1.1-1.7-.8-1.8-.3-1.7 .1-1.8 .5-1.7z"/><path fill="#108ed2" d="M90.1 450.1l-.6 1.8-.1 1.9 .4 1.8 .7 1.9 1.2 1.7 1.6 1.8 1.9 1.6 2.4 1.5 2.7 1.5 2.9 1.3 3.3 1.1 3.5 1 3.7 .8 3.9 .6 4 .5 4.1 .2 4.1 .1 4.1-.1 4-.4 4-.5 3.8-.7 3.6-.8 3.4-1.1 3.1-1.2 2.8-1.3 2.5-1.5 2.2-1.6 1.7-1.6 1.4-1.8 .9-1.8 .6-1.8 .1-1.9-.4-1.8-1-2.6 .4 1.8-.1 1.9-.5 1.8-1 1.7-1.3 1.7-1.7 1.6-2.1 1.6-2.4 1.4-2.8 1.3-3 1.2-3.3 1-3.6 .8-3.7 .7-3.8 .5-3.9 .3-4 .2-4-.1-4-.3-3.9-.4-3.8-.6-3.6-.8-3.4-1-3.2-1.1-2.9-1.2-2.6-1.4-2.3-1.5-1.9-1.6-1.6-1.7-1.1-1.7-.7-1.8-.4-1.8 .1-1.8 .5-1.8z"/><path fill="#1389d3" d="M89.1 452.6l-.6 1.9-.1 1.9 .4 1.9 .8 1.9 1.2 1.8 1.6 1.8 2 1.6 2.4 1.6 2.7 1.5 3.1 1.3 3.3 1.2 3.6 1 3.9 .8 3.9 .7 4.1 .4 4.2 .3 4.2 0 4.2-.1 4.2-.3 4-.6 3.9-.7 3.7-.9 3.5-1 3.2-1.3 2.9-1.3 2.5-1.5 2.2-1.6 1.8-1.8 1.4-1.7 1-1.9 .6-1.9 .1-1.9-.4-1.9-1-2.5 .4 1.8-.1 1.9-.6 1.8-.9 1.8-1.4 1.8-1.7 1.6-2.2 1.6-2.5 1.5-2.8 1.3-3.1 1.2-3.4 1.1-3.6 .8-3.8 .7-4 .5-4 .4-4.1 .1-4.1-.1-4.1-.2-4-.5-3.9-.6-3.7-.8-3.5-1-3.3-1.1-2.9-1.3-2.7-1.5-2.4-1.5-1.9-1.6-1.6-1.8-1.2-1.7-.7-1.9-.4-1.8 .1-1.9 .6-1.8z"/><path fill="#1485d4" d="M88.1 455.1l-.6 1.9-.1 2 .4 1.9 .8 2 1.2 1.8 1.7 1.8 2 1.8 2.5 1.6 2.8 1.5 3.2 1.3 3.4 1.2 3.7 1.1 3.9 .8 4.1 .7 4.2 .4 4.2 .3 4.4 .1 4.3-.2 4.2-.3 4.2-.5 3.9-.8 3.8-.9 3.6-1.1 3.3-1.2 2.9-1.4 2.7-1.6 2.2-1.6 1.9-1.8 1.4-1.8 1-1.9 .6-1.9 .1-2-.4-1.9-1-2.6 .4 1.9-.1 1.9-.6 1.9-1 1.9-1.4 1.7-1.8 1.8-2.2 1.6-2.5 1.5-2.9 1.3-3.2 1.3-3.5 1-3.7 .9-3.9 .7-4 .6-4.2 .3-4.2 .1-4.2 0-4.2-.3-4.1-.4-3.9-.7-3.9-.8-3.6-1-3.3-1.2-3.1-1.3-2.7-1.5-2.4-1.6-2-1.6-1.6-1.8-1.2-1.8-.8-1.9-.4-1.9 .1-1.9 .6-1.9z"/><path fill="#1481d6" d="M87.1 457.6l-.6 2-.1 2 .4 2 .8 2 1.3 1.9 1.7 1.8 2.1 1.8 2.5 1.6 2.9 1.6 3.2 1.4 3.5 1.2 3.8 1 4 .9 4.2 .7 4.3 .5 4.4 .3 4.4 0 4.4-.1 4.3-.4 4.3-.5 4.1-.8 3.9-.9 3.6-1.1 3.4-1.3 3-1.4 2.7-1.6 2.3-1.7 1.9-1.8 1.5-1.9 1-1.9 .6-2 .1-2-.4-2-1-2.5 .4 1.9-.1 2-.6 1.9-1 1.9-1.4 1.8-1.9 1.8-2.2 1.6-2.7 1.6-2.9 1.4-3.3 1.2-3.6 1.1-3.8 .9-3.9 .8-4.2 .5-4.2 .3-4.3 .2-4.4-.1-4.2-.3-4.2-.4-4.1-.7-3.9-.8-3.7-1.1-3.4-1.2-3.2-1.3-2.8-1.5-2.5-1.6-2-1.8-1.7-1.8-1.2-1.8-.8-2-.4-1.9 .1-2 .6-1.9z"/><path fill="#127dd8" d="M86.1 460.1l-.5 2-.2 2.1 .4 2 .8 2 1.3 2 1.8 1.9 2.1 1.8 2.6 1.7 3 1.6 3.3 1.4 3.6 1.3 3.8 1 4.1 .9 4.3 .7 4.4 .5 4.5 .3 4.5 .1 4.5-.2 4.5-.3 4.3-.6 4.2-.8 4-.9 3.7-1.2 3.4-1.3 3.2-1.5 2.7-1.6 2.4-1.7 1.9-1.8 1.5-2 1.1-1.9 .5-2.1 .2-2-.4-2.1-1-2.5 .4 2-.1 2-.6 2-1 1.9-1.5 1.9-1.9 1.8-2.3 1.7-2.7 1.6-3 1.4-3.4 1.3-3.6 1.1-3.9 .9-4.1 .8-4.3 .5-4.3 .4-4.4 .1-4.4 0-4.4-.3-4.3-.5-4.2-.7-4-.9-3.8-1-3.5-1.2-3.2-1.4-2.9-1.6-2.5-1.6-2.1-1.8-1.7-1.8-1.3-1.9-.8-2-.4-2 .1-2 .6-2z"/><path fill="#1079da" d="M85.2 462.6l-.6 2.1-.2 2.1 .4 2.1 .9 2 1.3 2.1 1.8 1.9 2.2 1.8 2.6 1.8 3 1.6 3.4 1.4 3.7 1.3 3.9 1.1 4.2 .9 4.4 .8 4.5 .5 4.6 .3 4.6 0 4.7-.1 4.5-.4 4.5-.6 4.2-.8 4.1-.9 3.8-1.2 3.5-1.4 3.2-1.5 2.8-1.6 2.4-1.8 2-1.9 1.6-1.9 1-2.1 .6-2 .2-2.1-.4-2.1-1-2.6 .4 2.1-.2 2-.5 2.1-1.1 1.9-1.5 2-1.9 1.8-2.4 1.7-2.7 1.6-3.2 1.5-3.4 1.3-3.7 1.2-4 .9-4.2 .8-4.3 .6-4.5 .3-4.5 .2-4.5-.1-4.5-.3-4.4-.5-4.3-.7-4.1-.9-3.8-1-3.6-1.3-3.3-1.4-3-1.6-2.6-1.7-2.1-1.8-1.8-1.9-1.3-2-.8-2-.4-2 .2-2.1 .5-2z"/><path fill="#0d75dc" d="M84.2 465.1l-.6 2.2-.2 2.1 .4 2.1 .9 2.1 1.4 2.1 1.8 2 2.2 1.9 2.7 1.7 3.1 1.7 3.5 1.5 3.7 1.3 4.1 1.1 4.3 1 4.4 .7 4.6 .5 4.7 .3 4.8 .1 4.7-.2 4.7-.4 4.5-.5 4.4-.9 4.1-1 3.9-1.2 3.6-1.3 3.3-1.6 2.9-1.7 2.4-1.8 2.1-1.9 1.5-2 1.1-2.1 .6-2.1 .2-2.1-.4-2.2-1-2.5 .4 2.1-.2 2.1-.6 2-1 2.1-1.6 1.9-2 1.9-2.4 1.8-2.8 1.6-3.2 1.5-3.5 1.4-3.8 1.2-4.1 .9-4.2 .8-4.5 .6-4.5 .4-4.7 .1-4.6 0-4.6-.3-4.5-.5-4.4-.8-4.2-.9-3.9-1.1-3.7-1.3-3.4-1.4-3-1.6-2.6-1.8-2.2-1.8-1.8-1.9-1.3-2.1-.9-2-.4-2.1 .2-2.1 .6-2.1z"/><path fill="#0871de" d="M83.2 467.6l-.6 2.2-.2 2.2 .4 2.2 .9 2.1 1.4 2.1 1.9 2.1 2.3 1.9 2.7 1.8 3.2 1.7 3.5 1.5 3.9 1.3 4.1 1.2 4.4 1 4.5 .7 4.8 .5 4.8 .3 4.8 .1 4.8-.1 4.8-.4 4.6-.6 4.5-.8 4.3-1.1 3.9-1.2 3.7-1.4 3.3-1.6 3-1.7 2.5-1.9 2.1-1.9 1.6-2.1 1.1-2.1 .6-2.2 .2-2.2-.4-2.1-1-2.6 .4 2.2-.2 2.1-.6 2.1-1.1 2.1-1.5 2-2.1 1.9-2.4 1.8-2.9 1.7-3.3 1.6-3.6 1.3-3.9 1.2-4.1 1-4.4 .9-4.5 .5-4.7 .4-4.7 .2-4.8-.1-4.7-.3-4.6-.5-4.4-.7-4.3-1-4.1-1.1-3.7-1.3-3.5-1.5-3.1-1.7-2.7-1.7-2.2-1.9-1.8-2-1.4-2.1-.9-2.1-.4-2.1 .2-2.1 .6-2.2z"/><path fill="#046de0" d="M82.2 470.2l-.6 2.2-.2 2.2 .4 2.2 1 2.2 1.4 2.2 1.9 2.1 2.3 1.9 2.9 1.9 3.2 1.7 3.6 1.5 3.9 1.4 4.2 1.2 4.5 1 4.7 .7 4.8 .6 4.9 .3 4.9 .1 5-.2 4.8-.4 4.8-.6 4.5-.8 4.4-1.1 4-1.2 3.8-1.5 3.4-1.6 3-1.8 2.6-1.9 2.1-2 1.6-2.1 1.2-2.1 .6-2.2 .2-2.3-.4-2.2-1-2.5 .4 2.1-.2 2.2-.6 2.2-1.1 2.1-1.6 2.1-2.1 1.9-2.5 1.9-3 1.7-3.3 1.6-3.7 1.4-3.9 1.2-4.3 1.1-4.5 .8-4.6 .6-4.8 .4-4.8 .1-4.8-.1-4.8-.3-4.8-.5-4.5-.7-4.4-1-4.1-1.2-3.9-1.3-3.5-1.5-3.2-1.7-2.7-1.8-2.3-1.9-1.9-2.1-1.4-2.1-.9-2.1-.4-2.2 .2-2.2 .6-2.2z"/><path fill="#046de0" d="M81.2 472.7l-.6 2.2-.1 2.3 .4 2.3 .9 2.2 1.4 2.2 2 2.1 2.4 2 2.9 1.9 3.2 1.8 3.7 1.6 4 1.4 4.3 1.2 4.6 1 4.8 .8 4.9 .5 5 .3 5.1 .1 5-.2 5-.4 4.8-.6 4.7-.8 4.4-1.1 4.2-1.3 3.8-1.5 3.5-1.6 3-1.8 2.7-1.9 2.1-2.1 1.7-2.1 1.2-2.2 .6-2.3 .1-2.3-.4-2.3-.9-2.5 .4 2.2-.2 2.3-.6 2.2-1.2 2.1-1.6 2.1-2.1 2-2.6 1.9-3 1.8-3.4 1.6-3.8 1.5-4 1.2-4.4 1.1-4.5 .8-4.8 .6-4.8 .4-5 .2-4.9-.1-4.9-.3-4.8-.6-4.7-.7-4.5-1-4.2-1.2-3.9-1.4-3.6-1.5-3.2-1.7-2.9-1.9-2.3-1.9-1.9-2.1-1.4-2.2-1-2.2-.4-2.2 .2-2.2 .6-2.2z"/><path fill="#0268e1" d="M80.2 475.2l-.6 2.3-.1 2.3 .4 2.3 .9 2.3 1.5 2.3 2 2.1 2.4 2.1 3 1.9 3.3 1.8 3.8 1.6 4.1 1.4 4.4 1.3 4.6 1 4.9 .8 5 .5 5.1 .4 5.2 0 5.1-.1 5.1-.4 4.9-.7 4.8-.8 4.5-1.1 4.3-1.3 3.9-1.5 3.5-1.7 3.2-1.9 2.6-1.9 2.3-2.1 1.7-2.2 1.2-2.3 .6-2.3 .1-2.3-.4-2.3-1-2.6 .4 2.3-.1 2.3-.6 2.3-1.2 2.2-1.7 2.1-2.1 2.1-2.7 1.9-3 1.8-3.5 1.6-3.8 1.5-4.2 1.3-4.4 1.1-4.7 .8-4.8 .6-5 .4-5 .2-5.1-.1-5-.3-4.9-.5-4.8-.8-4.6-1-4.3-1.2-4-1.4-3.7-1.6-3.2-1.8-2.9-1.9-2.4-2-2-2.1-1.4-2.2-.9-2.2-.4-2.3 .1-2.3 .6-2.2z"/><path fill="#0363e1" d="M79.3 477.7l-.7 2.3-.1 2.4 .4 2.4 .9 2.3 1.5 2.3 2.1 2.2 2.5 2.1 3 2 3.4 1.8 3.8 1.6 4.2 1.5 4.5 1.3 4.8 1 4.9 .8 5.1 .6 5.3 .3 5.2 .1 5.3-.2 5.1-.4 5.1-.6 4.8-.9 4.6-1.2 4.4-1.3 4-1.5 3.6-1.7 3.2-1.9 2.7-2 2.3-2.2 1.7-2.2 1.2-2.3 .7-2.3 .1-2.4-.4-2.4-1-2.5 .4 2.3-.1 2.3-.6 2.3-1.2 2.3-1.7 2.2-2.3 2.1-2.6 1.9-3.2 1.9-3.5 1.7-3.9 1.5-4.3 1.3-4.5 1.1-4.8 .8-4.9 .7-5.1 .4-5.1 .1-5.2 0-5.1-.4-5-.5-4.9-.8-4.6-1-4.4-1.3-4.1-1.4-3.8-1.6-3.3-1.8-3-1.9-2.4-2.1-2-2.1-1.5-2.3-.9-2.3-.4-2.3 .1-2.3 .6-2.3z"/><path fill="#0f5cdd" d="M78.3 480.2l-.7 2.4-.1 2.4 .4 2.4 1 2.4 1.5 2.3 2.1 2.3 2.5 2.1 3.1 2 3.5 1.9 3.9 1.7 4.2 1.5 4.6 1.2 4.9 1.1 5 .8 5.3 .6 5.3 .4 5.3 0 5.4-.1 5.3-.5 5.1-.6 5-.9 4.7-1.2 4.4-1.3 4.1-1.6 3.6-1.7 3.3-1.9 2.8-2.1 2.3-2.2 1.8-2.3 1.2-2.3 .7-2.4 .1-2.4-.4-2.4-1-2.6 .4 2.4-.1 2.4-.7 2.3-1.2 2.3-1.7 2.2-2.3 2.2-2.7 2-3.2 1.9-3.6 1.7-4 1.5-4.4 1.3-4.6 1.2-4.8 .9-5.1 .6-5.1 .4-5.3 .2-5.2-.1-5.3-.3-5.1-.6-4.9-.8-4.8-1-4.5-1.3-4.2-1.5-3.8-1.6-3.4-1.8-3-2-2.5-2.1-2.1-2.2-1.5-2.3-.9-2.3-.4-2.4 .1-2.4 .7-2.3z"/><path fill="#2053d4" d="M77.3 482.7l-.7 2.4-.1 2.5 .4 2.5 1 2.4 1.6 2.4 2.1 2.3 2.6 2.2 3.1 2 3.6 1.9 3.9 1.7 4.4 1.5 4.6 1.3 5 1.1 5.2 .9 5.3 .6 5.4 .3 5.5 .1 5.4-.2 5.4-.4 5.2-.7 5.1-.9 4.8-1.2 4.5-1.4 4.1-1.6 3.8-1.7 3.3-2 2.9-2.1 2.3-2.2 1.8-2.3 1.3-2.4 .7-2.5 .1-2.4-.4-2.5-1-2.5 .4 2.4-.1 2.4-.7 2.4-1.2 2.3-1.8 2.3-2.3 2.2-2.8 2.1-3.3 1.9-3.6 1.7-4.1 1.6-4.4 1.3-4.7 1.2-5 .9-5.1 .6-5.3 .5-5.4 .1-5.3 0-5.3-.4-5.3-.6-5-.8-4.9-1.1-4.6-1.2-4.2-1.5-3.9-1.7-3.5-1.9-3.1-2-2.5-2.1-2.1-2.3-1.5-2.3-1-2.4-.4-2.4 .1-2.4 .7-2.4z"/><path fill="#2c4ac7" d="M76.3 485.2l-.7 2.5-.1 2.5 .4 2.5 1 2.5 1.6 2.4 2.2 2.4 2.6 2.2 3.2 2.1 3.6 1.9 4.1 1.7 4.4 1.6 4.8 1.3 5 1.1 5.3 .9 5.4 .6 5.5 .3 5.6 .1 5.6-.1 5.4-.5 5.4-.7 5.1-.9 4.9-1.2 4.6-1.4 4.2-1.6 3.9-1.9 3.4-1.9 2.9-2.2 2.3-2.2 1.9-2.4 1.3-2.4 .7-2.5 .1-2.6-.4-2.5-1-2.5 .4 2.5-.1 2.4-.7 2.5-1.3 2.4-1.8 2.3-2.3 2.2-2.9 2.1-3.3 2-3.8 1.7-4.1 1.6-4.5 1.4-4.8 1.2-5.1 .9-5.2 .7-5.4 .4-5.4 .2-5.5-.1-5.4-.3-5.3-.6-5.2-.9-5-1.1-4.6-1.3-4.4-1.5-3.9-1.7-3.6-1.9-3.1-2-2.6-2.2-2.1-2.3-1.6-2.4-1-2.4-.4-2.5 .1-2.5 .7-2.4z"/><path fill="#3243ba" d="M75.3 487.7l-.7 2.6-.1 2.5 .4 2.6 1.1 2.5 1.6 2.5 2.2 2.3 2.7 2.3 3.2 2.1 3.7 2 4.1 1.8 4.6 1.6 4.8 1.3 5.1 1.1 5.4 .9 5.5 .6 5.6 .4 5.7 .1 5.7-.2 5.6-.5 5.4-.7 5.3-.9 4.9-1.2 4.7-1.5 4.3-1.6 3.9-1.9 3.5-2 2.9-2.2 2.5-2.3 1.9-2.4 1.3-2.5 .7-2.5 .1-2.6-.4-2.5-1-2.6 .4 2.5-.1 2.6-.7 2.5-1.3 2.4-1.9 2.4-2.3 2.2-2.9 2.2-3.4 1.9-3.9 1.9-4.2 1.6-4.6 1.4-4.9 1.2-5.1 .9-5.4 .7-5.4 .5-5.6 .1-5.6-.1-5.5-.3-5.4-.6-5.3-.9-5-1.1-4.8-1.3-4.4-1.6-4.1-1.7-3.6-1.9-3.2-2.1-2.6-2.2-2.2-2.4-1.6-2.4-1-2.5-.4-2.5 .1-2.5 .7-2.5z"/><path fill="#353dad" d="M74.3 490.2l-.7 2.6-.1 2.6 .4 2.6 1.1 2.6 1.6 2.5 2.3 2.4 2.7 2.3 3.3 2.2 3.8 2 4.2 1.8 4.6 1.6 4.9 1.4 5.2 1.1 5.5 .9 5.6 .7 5.8 .3 5.8 .1 5.7-.2 5.7-.4 5.5-.7 5.4-1 5.1-1.3 4.7-1.4 4.4-1.7 4-1.9 3.5-2 3-2.3 2.5-2.3 1.9-2.5 1.4-2.5 .7-2.6 .1-2.6-.4-2.6-1-2.5 .4 2.5-.1 2.6-.7 2.5-1.3 2.5-1.9 2.4-2.5 2.3-2.9 2.2-3.5 2-3.9 1.9-4.3 1.6-4.7 1.5-4.9 1.2-5.3 .9-5.4 .7-5.6 .5-5.7 .2-5.7-.1-5.6-.4-5.5-.6-5.4-.9-5.1-1.1-4.8-1.3-4.6-1.6-4.1-1.8-3.7-2-3.2-2.1-2.7-2.3-2.2-2.3-1.6-2.5-1.1-2.5-.4-2.6 .1-2.5 .7-2.6z"/><path fill="#3637a0" d="M73.4 492.7l-.8 2.7-.1 2.6 .4 2.7 1.1 2.6 1.7 2.6 2.3 2.4 2.8 2.4 3.3 2.2 3.9 2 4.2 1.8 4.7 1.7 5 1.4 5.4 1.2 5.5 .9 5.8 .6 5.8 .4 5.9 .1 5.8-.2 5.8-.5 5.7-.7 5.4-1 5.2-1.3 4.8-1.5 4.5-1.7 4-1.9 3.6-2.1 3.1-2.2 2.5-2.4 2-2.5 1.3-2.6 .8-2.6 .1-2.7-.4-2.7-1-2.5 .4 2.6-.1 2.6-.7 2.6-1.4 2.5-1.9 2.5-2.5 2.3-3 2.3-3.5 2-4 1.9-4.4 1.7-4.7 1.4-5.1 1.3-5.4 1-5.5 .7-5.7 .4-5.7 .2-5.8-.1-5.8-.3-5.6-.7-5.5-.9-5.2-1.1-4.9-1.4-4.6-1.6-4.2-1.8-3.8-2-3.3-2.2-2.7-2.3-2.3-2.4-1.6-2.5-1.1-2.6-.4-2.6 .1-2.6 .7-2.6z"/><path fill="#363093" d="M72.4 495.2l-.8 2.7-.1 2.7 .4 2.7 1.2 2.7 1.7 2.6 2.3 2.5 2.8 2.4 3.4 2.2 3.9 2.1 4.4 1.9 4.8 1.6 5.1 1.5 5.4 1.2 5.6 .9 5.9 .6 5.9 .4 6 .1 6-.2 5.9-.5 5.7-.7 5.5-1 5.3-1.3 4.9-1.5 4.6-1.7 4.1-2 3.6-2.1 3.2-2.3 2.5-2.5 2-2.5 1.4-2.6 .8-2.7 .1-2.7-.4-2.7-1-2.6 .4 2.7-.1 2.7-.8 2.6-1.3 2.6-2 2.5-2.5 2.4-3.1 2.2-3.6 2.1-4 1.9-4.5 1.7-4.8 1.5-5.2 1.3-5.4 1-5.7 .7-5.8 .5-5.8 .2-5.9-.1-5.8-.4-5.8-.6-5.5-.9-5.4-1.2-5-1.4-4.7-1.7-4.2-1.8-3.9-2-3.3-2.2-2.8-2.4-2.3-2.4-1.7-2.6-1.1-2.6-.4-2.7 .1-2.6 .8-2.7z"/><path fill="#363093" d="M71.4 497.7l-.8 2.8-.1 2.7 .5 2.8 1.1 2.7 1.7 2.6 2.4 2.6 2.9 2.4 3.4 2.3 4 2.1 4.4 1.9 4.9 1.7 5.2 1.5 5.5 1.2 5.8 .9 5.9 .7 6 .4 6.1 .1 6.1-.2 6-.5 5.8-.8 5.7-1 5.3-1.3 5-1.5 4.7-1.8 4.2-2 3.7-2.2 3.1-2.3 2.7-2.5 2-2.6 1.4-2.6 .8-2.8 .1-2.7-.5-2.8-.9-2.5 .4 2.7-.1 2.7-.8 2.7-1.4 2.6-2 2.5-2.5 2.5-3.2 2.3-3.6 2.1-4.1 2-4.6 1.7-4.9 1.5-5.3 1.3-5.5 1-5.7 .7-5.9 .5-6 .2-6-.1-5.9-.4-5.9-.6-5.6-.9-5.4-1.2-5.1-1.5-4.8-1.6-4.4-1.9-3.9-2.1-3.4-2.2-2.8-2.4-2.3-2.5-1.7-2.6-1.2-2.7-.4-2.7 .1-2.7 .8-2.7z"/>
<path fill="none" d="M105.8 409.9l-1 2.6-1 2.5-1 2.5-.9 2.5-1 2.5-1 2.5-1 2.5-1 2.5-1 2.5-.9 2.5-1 2.5-1 2.6-1 2.5-1 2.5-1 2.5-.9 2.5-1 2.5-1 2.5-1 2.5-1 2.5-.9 2.5-1 2.5-1 2.5-1 2.6-1 2.5-1 2.5-.9 2.5-1 2.5-1 2.5-1 2.5-1 2.5-1 2.5-.9 2.5-1 2.5-1 2.5M105.5 411l-1 2.6-1 2.6-1 2.5-1 2.6-1 2.5-1 2.6-1 2.5-1 2.6-1 2.5-1 2.6-1 2.5-1 2.6-1 2.6-1 2.5-1 2.6-1 2.5-1 2.6-1 2.5-1 2.6-.9 2.5-1 2.6-1 2.6-1 2.5-1 2.6-1 2.5-1 2.6-1 2.5-1 2.6-1 2.5-1 2.6-1 2.6-1 2.5-1 2.6-1 2.5-1 2.6M105.4 412.1l-1 2.6-1 2.6-1 2.6-1 2.7-1 2.6-1 2.6-1 2.6-1 2.6-1 2.6-1 2.6-1 2.6-1 2.6-1 2.6-1 2.6-1 2.6-1 2.6-1 2.6-1 2.6-1 2.6-1 2.6-1 2.6-1 2.6-1 2.6-1 2.6-.9 2.6-1 2.6-1 2.6-1 2.6-1 2.6-1 2.6-1 2.6-1 2.6-1 2.6-1 2.6-1 2.6M105.6 413.2l-1 2.7-1 2.6-1 2.7-1 2.6-.9 2.7-1 2.6-1 2.7-1 2.6-1 2.7-1 2.6-1 2.7-1 2.6-1 2.7-1 2.6-.9 2.7-1 2.6-1 2.7-1 2.6-1 2.7-1 2.6-1 2.7-1 2.6-1 2.7-1 2.6-.9 2.7-1 2.6-1 2.7-1 2.6-1 2.7-1 2.6-1 2.7-1 2.6-1 2.7-1 2.6-.9 2.7M106.1 414.3l-1 2.7-1 2.7-1 2.7-.9 2.7-1 2.7-1 2.7-.9 2.7-1 2.7-1 2.7-1 2.7-.9 2.7-1 2.7-1 2.7-.9 2.7-1 2.7-1 2.7-.9 2.7-1 2.7-1 2.7-1 2.6-.9 2.7-1 2.7-1 2.7-.9 2.7-1 2.7-1 2.7-1 2.7-.9 2.7-1 2.7-1 2.7-.9 2.7-1 2.7-1 2.7-.9 2.7-1 2.7M106.7 415.4l-.9 2.7-.9 2.8-1 2.7-.9 2.7-1 2.8-.9 2.7-.9 2.8-1 2.7-.9 2.8-1 2.7-.9 2.7-.9 2.8-1 2.7-.9 2.8-1 2.7-.9 2.7-.9 2.8-1 2.7-.9 2.8-1 2.7-.9 2.8-.9 2.7-1 2.7-.9 2.8-1 2.7-.9 2.8-1 2.7-.9 2.7-.9 2.8-1 2.7-.9 2.8-1 2.7-.9 2.8-.9 2.7-1 2.7M107.7 416.4l-.9 2.8-.9 2.8-.9 2.8-.9 2.7-.9 2.8-.9 2.8-.9 2.8-.9 2.8-.9 2.8-.9 2.8-.9 2.7-.9 2.8-.9 2.8-.9 2.8-.9 2.8-.9 2.8-.9 2.8-.9 2.7-.9 2.8-.9 2.8-.9 2.8-.9 2.8-.9 2.8-.9 2.8-.9 2.7-.9 2.8-.9 2.8-.9 2.8-.9 2.8-.9 2.8-.9 2.7-.9 2.8-.9 2.8-.9 2.8-.9 2.8M108.9 417.4l-.9 2.8-.8 2.8-.9 2.9-.8 2.8-.9 2.8-.8 2.8-.9 2.9-.8 2.8-.9 2.8-.9 2.8-.8 2.9-.9 2.8-.8 2.8-.9 2.9-.8 2.8-.9 2.8-.8 2.8-.9 2.9-.8 2.8-.9 2.8-.8 2.8-.9 2.9-.8 2.8-.9 2.8-.8 2.8-.9 2.9-.8 2.8-.9 2.8-.8 2.9-.9 2.8-.8 2.8-.9 2.8-.8 2.9-.9 2.8-.8 2.8M110.2 418.3l-.8 2.9-.7 2.8-.8 2.9-.8 2.9-.8 2.8-.8 2.9-.8 2.9-.8 2.8-.8 2.9-.8 2.9-.8 2.8-.8 2.9-.7 2.8-.8 2.9-.8 2.9-.8 2.8-.8 2.9-.8 2.9-.8 2.8-.8 2.9-.8 2.9-.8 2.8-.8 2.9-.7 2.9-.8 2.8-.8 2.9-.8 2.9-.8 2.8-.8 2.9-.8 2.9-.8 2.8-.8 2.9-.8 2.9-.8 2.8-.8 2.9M111.8 419.1l-.7 2.9-.7 2.9-.7 2.9-.8 2.9-.7 2.9-.7 2.9-.7 2.9-.8 3-.7 2.9-.7 2.9-.7 2.9-.7 2.9-.8 2.9-.7 2.9-.7 2.9-.7 2.9-.8 2.9-.7 2.9-.7 2.9-.7 2.9-.8 2.9-.7 2.9-.7 2.9-.7 2.9-.8 2.9-.7 2.9-.7 2.9-.7 2.9-.7 2.9-.8 2.9-.7 2.9-.7 2.9-.7 2.9-.8 2.9-.7 2.9M113.6 419.9l-.6 2.9-.7 3-.6 2.9-.7 2.9-.6 3-.7 2.9-.6 2.9-.7 3-.6 2.9-.7 2.9-.6 3-.7 2.9-.6 3-.7 2.9-.6 2.9-.7 3-.6 2.9-.6 2.9-.7 3-.6 2.9-.7 2.9-.6 3-.7 2.9-.6 2.9-.7 3-.6 2.9-.7 2.9-.6 3-.7 2.9-.6 2.9-.7 3-.6 2.9-.7 2.9-.6 3-.7 2.9M115.5 420.6l-.5 2.9-.6 3-.6 3-.5 2.9-.6 3-.5 3-.6 2.9-.6 3-.5 3-.6 2.9-.6 3-.5 2.9-.6 3-.6 3-.5 2.9-.6 3-.6 3-.5 2.9-.6 3-.5 3-.6 2.9-.6 3-.5 2.9-.6 3-.6 3-.5 2.9-.6 3-.6 3-.5 2.9-.6 3-.5 3-.6 2.9-.6 3-.5 2.9-.6 3M117.6 421.2l-.5 2.9-.4 3-.5 3-.5 3-.5 3-.4 3-.5 3-.5 3-.5 3-.4 2.9-.5 3-.5 3-.5 3-.4 3-.5 3-.5 3-.5 3-.4 3-.5 2.9-.5 3-.5 3-.4 3-.5 3-.5 3-.5 3-.4 3-.5 3-.5 2.9-.5 3-.4 3-.5 3-.5 3-.5 3-.4 3-.5 3M119.8 421.6l-.4 3.1-.3 3-.4 3-.4 3-.4 3-.4 3-.3 3-.4 3-.4 3-.4 3-.4 3-.3 3.1-.4 3-.4 3-.4 3-.4 3-.3 3-.4 3-.4 3-.4 3-.4 3-.3 3.1-.4 3-.4 3-.4 3-.4 3-.3 3-.4 3-.4 3-.4 3-.4 3-.4 3-.3 3.1-.4 3-.4 3M122.1 422l-.3 3-.2 3.1-.3 3-.3 3-.3 3-.3 3.1-.2 3-.3 3-.3 3-.3 3.1-.3 3-.3 3-.2 3.1-.3 3-.3 3-.3 3-.3 3.1-.2 3-.3 3-.3 3-.3 3.1-.3 3-.3 3-.2 3-.3 3.1-.3 3-.3 3-.3 3-.2 3.1-.3 3-.3 3-.3 3-.3 3.1-.3 3-.2 3M124.5 422.3l-.2 3-.2 3.1-.1 3-.2 3-.2 3.1-.2 3-.2 3-.1 3.1-.2 3-.2 3.1-.2 3-.2 3-.1 3.1-.2 3-.2 3-.2 3.1-.2 3-.1 3-.2 3.1-.2 3-.2 3.1-.2 3-.1 3-.2 3.1-.2 3-.2 3-.2 3.1-.1 3-.2 3.1-.2 3-.2 3-.2 3.1-.1 3-.2 3-.2 3.1M126.9 422.4l-.1 3.1 0 3-.1 3.1-.1 3-.1 3.1 0 3-.1 3-.1 3.1-.1 3 0 3.1-.1 3-.1 3.1-.1 3-.1 3 0 3.1-.1 3-.1 3.1-.1 3 0 3.1-.1 3-.1 3.1-.1 3 0 3-.1 3.1-.1 3-.1 3.1 0 3-.1 3.1-.1 3-.1 3-.1 3.1 0 3-.1 3.1-.1 3-.1 3.1M129.4 422.5l0 3 0 3.1 0 3 .1 3.1 0 3 0 3 0 3.1 .1 3 0 3.1 0 3 .1 3.1 0 3 0 3.1 0 3 .1 3.1 0 3 0 3 .1 3.1 0 3 0 3.1 0 3 .1 3.1 0 3 0 3.1 .1 3 0 3 0 3.1 0 3 .1 3.1 0 3 0 3.1 .1 3 0 3.1 0 3 0 3.1M131.8 422.4l.1 3 .1 3.1 .2 3 .1 3.1 .1 3 .2 3 .1 3.1 .1 3 .2 3.1 .1 3 .1 3.1 .2 3 .1 3 .1 3.1 .2 3 .1 3.1 .1 3 .2 3 .1 3.1 .1 3 .2 3.1 .1 3 .1 3.1 .2 3 .1 3 .1 3.1 .2 3 .1 3.1 .1 3 .2 3.1 .1 3 .1 3 .1 3.1 .2 3 .1 3.1M134.2 422.2l.2 3 .3 3.1 .2 3 .2 3 .3 3.1 .2 3 .2 3 .3 3.1 .2 3 .2 3 .3 3.1 .2 3 .2 3 .3 3.1 .2 3 .2 3 .3 3.1 .2 3 .2 3 .3 3.1 .2 3 .3 3 .2 3.1 .2 3 .3 3 .2 3.1 .2 3 .3 3 .2 3.1 .2 3 .3 3 .2 3.1 .2 3 .3 3 .2 3.1M136.5 421.9l.4 3 .3 3 .3 3.1 .4 3 .3 3 .3 3 .4 3 .3 3.1 .3 3 .4 3 .3 3 .3 3 .4 3.1 .3 3 .3 3 .4 3 .3 3 .4 3.1 .3 3 .3 3 .4 3 .3 3.1 .3 3 .4 3 .3 3 .3 3 .4 3.1 .3 3 .3 3 .4 3 .3 3 .3 3.1 .4 3 .3 3 .3 3M138.8 421.5l.4 3 .4 3 .5 3 .4 3 .4 3 .5 3 .4 3 .4 3 .5 3 .4 3 .4 3 .5 3 .4 3 .4 3 .4 3 .5 3 .4 3 .4 3 .5 3 .4 3 .4 3 .5 3 .4 3.1 .4 3 .5 3 .4 3 .4 3 .5 3 .4 3 .4 3 .5 3 .4 3 .4 3 .4 3 .5 3M140.9 421l.5 2.9 .6 3 .5 3 .5 3 .5 3 .6 3 .5 2.9 .5 3 .5 3 .5 3 .6 3 .5 2.9 .5 3 .5 3 .6 3 .5 3 .5 2.9 .5 3 .6 3 .5 3 .5 3 .5 2.9 .6 3 .5 3 .5 3 .5 3 .5 2.9 .6 3 .5 3 .5 3 .5 3 .6 2.9 .5 3 .5 3 .5 3M142.9 420.4l.6 2.9 .6 3 .6 2.9 .7 3 .6 2.9 .6 3 .6 2.9 .6 3 .6 2.9 .6 3 .6 2.9 .6 3 .6 3 .7 2.9 .6 3 .6 2.9 .6 3 .6 2.9 .6 3 .6 2.9 .6 3 .6 2.9 .6 3 .6 3 .7 2.9 .6 3 .6 2.9 .6 3 .6 2.9 .6 3 .6 2.9 .6 3 .6 2.9 .6 3 .6 3M144.8 419.6l.7 3 .6 2.9 .7 2.9 .7 2.9 .7 3 .7 2.9 .7 2.9 .7 2.9 .7 3 .7 2.9 .6 2.9 .7 2.9 .7 3 .7 2.9 .7 2.9 .7 2.9 .7 2.9 .7 3 .7 2.9 .6 2.9 .7 2.9 .7 3 .7 2.9 .7 2.9 .7 2.9 .7 3 .7 2.9 .7 2.9 .6 2.9 .7 3 .7 2.9 .7 2.9 .7 2.9 .7 3 .7 2.9M146.4 418.8l.8 2.9 .8 2.9 .7 2.9 .8 2.9 .8 2.9 .7 2.9 .8 2.9 .7 2.9 .8 2.9 .8 2.8 .7 2.9 .8 2.9 .7 2.9 .8 2.9 .8 2.9 .7 2.9 .8 2.9 .7 2.9 .8 2.9 .8 2.8 .7 2.9 .8 2.9 .7 2.9 .8 2.9 .8 2.9 .7 2.9 .8 2.9 .7 2.9 .8 2.9 .8 2.8 .7 2.9 .8 2.9 .7 2.9 .8 2.9 .8 2.9M147.9 418l.9 2.8 .8 2.9 .8 2.8 .8 2.9 .8 2.8 .9 2.9 .8 2.8 .8 2.9 .8 2.9 .9 2.8 .8 2.9 .8 2.8 .8 2.9 .9 2.8 .8 2.9 .8 2.8 .8 2.9 .9 2.8 .8 2.9 .8 2.8 .8 2.9 .9 2.8 .8 2.9 .8 2.8 .8 2.9 .9 2.8 .8 2.9 .8 2.9 .8 2.8 .9 2.9 .8 2.8 .8 2.9 .8 2.8 .8 2.9 .9 2.8M149.2 417l.9 2.9 .9 2.8 .8 2.8 .9 2.8 .9 2.8 .9 2.8 .8 2.8 .9 2.8 .9 2.9 .9 2.8 .9 2.8 .8 2.8 .9 2.8 .9 2.8 .9 2.8 .9 2.8 .8 2.9 .9 2.8 .9 2.8 .9 2.8 .8 2.8 .9 2.8 .9 2.8 .9 2.8 .9 2.9 .8 2.8 .9 2.8 .9 2.8 .9 2.8 .9 2.8 .8 2.8 .9 2.8 .9 2.9 .9 2.8 .8 2.8M150.2 416.1l1 2.7 .9 2.8 .9 2.8 .9 2.7 1 2.8 .9 2.8 .9 2.7 .9 2.8 1 2.8 .9 2.8 .9 2.7 .9 2.8 .9 2.8 1 2.7 .9 2.8 .9 2.8 .9 2.7 1 2.8 .9 2.8 .9 2.8 .9 2.7 1 2.8 .9 2.8 .9 2.7 .9 2.8 1 2.8 .9 2.7 .9 2.8 .9 2.8 .9 2.8 1 2.7 .9 2.8 .9 2.8 .9 2.7 1 2.8M151.1 415l.9 2.7 1 2.8 .9 2.7 1 2.7 .9 2.7 1 2.8 1 2.7 .9 2.7 1 2.8 .9 2.7 1 2.7 1 2.7 .9 2.8 1 2.7 .9 2.7 1 2.7 .9 2.8 1 2.7 1 2.7 .9 2.7 1 2.8 .9 2.7 1 2.7 .9 2.7 1 2.8 1 2.7 .9 2.7 1 2.7 .9 2.8 1 2.7 1 2.7 .9 2.7 1 2.8 .9 2.7 1 2.7M151.6 414l1 2.6 1 2.7 1 2.7 .9 2.7 1 2.7 1 2.6 1 2.7 1 2.7 1 2.7 .9 2.7 1 2.6 1 2.7 1 2.7 1 2.7 1 2.7 .9 2.6 1 2.7 1 2.7 1 2.7 1 2.7 .9 2.6 1 2.7 1 2.7 1 2.7 1 2.7 1 2.6 .9 2.7 1 2.7 1 2.7 1 2.7 1 2.6 1 2.7 .9 2.7 1 2.7 1 2.7M151.9 412.9l1 2.6 1 2.6 1 2.7 1 2.6 1 2.6 1 2.7 1 2.6 1 2.6 1 2.7 1 2.6 1 2.6 1 2.7 1 2.6 1 2.6 1 2.7 1 2.6 1 2.6 1 2.7 1 2.6 .9 2.6 1 2.7 1 2.6 1 2.6 1 2.7 1 2.6 1 2.6 1 2.7 1 2.6 1 2.6 1 2.7 1 2.6 1 2.6 1 2.7 1 2.6 1 2.6M152 411.8l1 2.5 1 2.6 1 2.6 1 2.6 1 2.6 1 2.6 1 2.6 1 2.5 1 2.6 1 2.6 1 2.6 1 2.6 1 2.6 1 2.6 1 2.5 1 2.6 1 2.6 1 2.6 1 2.6 1 2.6 1 2.6 1 2.6 1 2.5 1 2.6 .9 2.6 1 2.6 1 2.6 1 2.6 1 2.6 1 2.5 1 2.6 1 2.6 1 2.6 1 2.6 1 2.6M151.8 410.7l1 2.5 1 2.5 1 2.6 1 2.5 .9 2.6 1 2.5 1 2.5 1 2.6 1 2.5 1 2.5 1 2.6 1 2.5 1 2.6 1 2.5 .9 2.5 1 2.6 1 2.5 1 2.6 1 2.5 1 2.5 1 2.6 1 2.5 1 2.6 1 2.5 .9 2.5 1 2.6 1 2.5 1 2.6 1 2.5 1 2.5 1 2.6 1 2.5 1 2.5 1 2.6 .9 2.5"/></g>
</g>
<g font-family="Liberation Serif, serif" fill="#222">
<text x="40.4" y="500.4" font-size="15" text-anchor="end" >0</text>
<text x="40.4" y="464.08" font-size="15" text-anchor="end" >0.2</text>
<text x="40.4" y="409.6" font-size="15" text-anchor="end" >0.5</text>
<text x="130.5" y="557.5" font-size="15" text-anchor="middle" >-1</text>
<text x="174.5" y="541.25" font-size="15" text-anchor="middle" >0</text>
<text x="220.5" y="525.7" font-size="15" text-anchor="middle" >1</text>
<text x="104.7" y="556.7" font-size="15" text-anchor="middle" >-1</text>
<text x="71.55" y="535.5" font-size="15" text-anchor="middle" >0</text>
<text x="36.4" y="514.3" font-size="15" text-anchor="middle" >1</text>
</g>
<g font-family="Liberation Serif, serif" fill="#222" font-style="italic" letter-spacing="1.3">
<text x="185.8" y="549.1" font-size="16" letter-spacing="1.6">x/x<tspan font-size="11.5" dy="3">0</tspan></text>
<text x="26" y="540.5" font-size="16" letter-spacing="1.4">y/y<tspan font-size="11.5" dy="3">0</tspan></text>
<text transform="translate(12.4,472.3) rotate(-90)" font-size="16" letter-spacing="1.4">B<tspan font-size="11" dy="3">z</tspan><tspan dy="-3">/B</tspan><tspan font-size="11" dy="3">0</tspan></text>
</g>
<text x="49.2" y="392.5" font-family="Liberation Serif, serif" font-size="18.5" fill="#222">(e)</text>
<g>
<circle cx="304.3" cy="269.5" r="81.6" fill="#f5e41d" stroke="#000" stroke-width="0"/>
<circle cx="304.3" cy="269.5" r="76.57" fill="#fad32a" stroke="#000" stroke-width="0.62"/>
<circle cx="304.3" cy="269.5" r="73.12" fill="#fec832" stroke="#000" stroke-width="0.62"/>
<circle cx="304.3" cy="269.5" r="69.57" fill="#f8bb44" stroke="#000" stroke-width="0.62"/>
<circle cx="304.3" cy="269.5" r="65.92" fill="#e1b952" stroke="#000" stroke-width="0.62"/>
<circle cx="304.3" cy="269.5" r="62.19" fill="#d1bb59" stroke="#000" stroke-width="0.62"/>
<circle cx="304.3" cy="269.5" r="58.36" fill="#b7bd64" stroke="#000" stroke-width="0.62"/>
<circle cx="304.3" cy="269.5" r="54.43" fill="#a5be6b" stroke="#000" stroke-width="0.62"/>
<circle cx="304.3" cy="269.5" r="50.41" fill="#87bf77" stroke="#000" stroke-width="0.62"/>
<circle cx="304.3" cy="269.5" r="46.3" fill="#65be86" stroke="#000" stroke-width="0.62"/>
<circle cx="304.3" cy="269.5" r="42.09" fill="#4dbc92" stroke="#000" stroke-width="0.62"/>
<circle cx="304.3" cy="269.5" r="37.79" fill="#2eb7a4" stroke="#000" stroke-width="0.62"/>
<circle cx="304.3" cy="269.5" r="33.4" fill="#15b1b4" stroke="#000" stroke-width="0.62"/>
<circle cx="304.3" cy="269.5" r="28.91" fill="#0aacbe" stroke="#000" stroke-width="0.62"/>
<circle cx="304.3" cy="269.5" r="24.32" fill="#06a4ca" stroke="#000" stroke-width="0.62"/>
<circle cx="304.3" cy="269.5" r="19.65" fill="#0998d1" stroke="#000" stroke-width="0.62"/>
<circle cx="304.3" cy="269.5" r="14.88" fill="#108ed2" stroke="#000" stroke-width="0.62"/>
<circle cx="304.3" cy="269.5" r="10.01" fill="#1481d6" stroke="#000" stroke-width="0.62"/>
<circle cx="304.3" cy="269.5" r="5.05" fill="#0d75dc" stroke="#000" stroke-width="0.62"/>
</g>
<text x="227.5" y="204.2" font-family="Liberation Serif, serif" font-size="18.5" fill="#222">(d)</text>
<g>
<circle cx="304.1" cy="81.9" r="81.6" fill="#38b99e" stroke="#000" stroke-width="0"/>
<circle cx="304.1" cy="81.9" r="80.11" fill="#25b5a9" stroke="#000" stroke-width="0.62"/>
<circle cx="304.1" cy="81.9" r="77.82" fill="#15b1b4" stroke="#000" stroke-width="0.62"/>
<circle cx="304.1" cy="81.9" r="75.53" fill="#0faeb9" stroke="#000" stroke-width="0.62"/>
<circle cx="304.1" cy="81.9" r="73.24" fill="#07a9c2" stroke="#000" stroke-width="0.62"/>
<circle cx="304.1" cy="81.9" r="70.95" fill="#06a7c6" stroke="#000" stroke-width="0.62"/>
<circle cx="304.1" cy="81.9" r="68.66" fill="#06a0cd" stroke="#000" stroke-width="0.62"/>
<circle cx="304.1" cy="81.9" r="66.37" fill="#0998d1" stroke="#000" stroke-width="0.62"/>
<circle cx="304.1" cy="81.9" r="64.08" fill="#0c93d2" stroke="#000" stroke-width="0.62"/>
<circle cx="304.1" cy="81.9" r="61.79" fill="#1389d3" stroke="#000" stroke-width="0.62"/>
<circle cx="304.1" cy="81.9" r="59.5" fill="#1485d4" stroke="#000" stroke-width="0.62"/>
<circle cx="304.1" cy="81.9" r="57.21" fill="#127dd8" stroke="#000" stroke-width="0.62"/>
<circle cx="304.1" cy="81.9" r="54.92" fill="#0d75dc" stroke="#000" stroke-width="0.62"/>
<circle cx="304.1" cy="81.9" r="52.63" fill="#0871de" stroke="#000" stroke-width="0.62"/>
<circle cx="304.1" cy="81.9" r="50.34" fill="#0268e1" stroke="#000" stroke-width="0.62"/>
<circle cx="304.1" cy="81.9" r="48.05" fill="#0363e1" stroke="#000" stroke-width="0.62"/>
<circle cx="304.1" cy="81.9" r="45.76" fill="#2053d4" stroke="#000" stroke-width="0.62"/>
<circle cx="304.1" cy="81.9" r="43.47" fill="#3243ba" stroke="#000" stroke-width="0.62"/>
<circle cx="304.1" cy="81.9" r="41.18" fill="#353dad" stroke="#000" stroke-width="0.62"/>
<circle cx="304.1" cy="81.9" r="38.89" fill="#363093" stroke="#000" stroke-width="0.62"/>
<circle cx="304.1" cy="81.9" r="36.6" fill="#000000" stroke="#000" stroke-width="0.62"/>
</g>
<text x="227.6" y="16.8" font-family="Liberation Serif, serif" font-size="19.5" fill="#222">(b)</text>
<g>
<circle cx="304.3" cy="457.1" r="81.6" fill="#000000" stroke="#000" stroke-width="0"/>
<circle cx="304.3" cy="457.1" r="79.1" fill="#353dad" stroke="#000" stroke-width="0.62"/>
<circle cx="304.3" cy="457.1" r="76.54" fill="#3243ba" stroke="#000" stroke-width="0.62"/>
<circle cx="304.3" cy="457.1" r="73.97" fill="#2053d4" stroke="#000" stroke-width="0.62"/>
<circle cx="304.3" cy="457.1" r="71.41" fill="#0363e1" stroke="#000" stroke-width="0.62"/>
<circle cx="304.3" cy="457.1" r="68.84" fill="#0268e1" stroke="#000" stroke-width="0.62"/>
<circle cx="304.3" cy="457.1" r="66.28" fill="#0871de" stroke="#000" stroke-width="0.62"/>
<circle cx="304.3" cy="457.1" r="63.72" fill="#0d75dc" stroke="#000" stroke-width="0.62"/>
<circle cx="304.3" cy="457.1" r="61.15" fill="#127dd8" stroke="#000" stroke-width="0.62"/>
<circle cx="304.3" cy="457.1" r="58.59" fill="#1485d4" stroke="#000" stroke-width="0.62"/>
<circle cx="304.3" cy="457.1" r="56.02" fill="#1389d3" stroke="#000" stroke-width="0.62"/>
<circle cx="304.3" cy="457.1" r="53.45" fill="#0c93d2" stroke="#000" stroke-width="0.62"/>
<circle cx="304.3" cy="457.1" r="50.89" fill="#0998d1" stroke="#000" stroke-width="0.62"/>
<circle cx="304.3" cy="457.1" r="48.33" fill="#06a0cd" stroke="#000" stroke-width="0.62"/>
<circle cx="304.3" cy="457.1" r="45.76" fill="#06a7c6" stroke="#000" stroke-width="0.62"/>
<circle cx="304.3" cy="457.1" r="43.2" fill="#07a9c2" stroke="#000" stroke-width="0.62"/>
<circle cx="304.3" cy="457.1" r="40.63" fill="#0faeb9" stroke="#000" stroke-width="0.62"/>
<circle cx="304.3" cy="457.1" r="38.06" fill="#15b1b4" stroke="#000" stroke-width="0.62"/>
<circle cx="304.3" cy="457.1" r="35.5" fill="#25b5a9" stroke="#000" stroke-width="0.62"/>
<circle cx="304.3" cy="457.1" r="28.67" fill="#15b1b4" stroke="#000" stroke-width="0.62"/>
<circle cx="304.3" cy="457.1" r="25.84" fill="#0faeb9" stroke="#000" stroke-width="0.62"/>
<circle cx="304.3" cy="457.1" r="23.01" fill="#07a9c2" stroke="#000" stroke-width="0.62"/>
<circle cx="304.3" cy="457.1" r="20.18" fill="#06a7c6" stroke="#000" stroke-width="0.62"/>
<circle cx="304.3" cy="457.1" r="17.35" fill="#06a0cd" stroke="#000" stroke-width="0.62"/>
<circle cx="304.3" cy="457.1" r="14.52" fill="#0998d1" stroke="#000" stroke-width="0.62"/>
<circle cx="304.3" cy="457.1" r="11.69" fill="#0c93d2" stroke="#000" stroke-width="0.62"/>
<circle cx="304.3" cy="457.1" r="8.86" fill="#1389d3" stroke="#000" stroke-width="0.62"/>
<circle cx="304.3" cy="457.1" r="6.03" fill="#1485d4" stroke="#000" stroke-width="0.62"/>
<circle cx="304.3" cy="457.1" r="3.2" fill="#127dd8" stroke="#000" stroke-width="0.62"/>
</g>
<text x="227.5" y="392" font-family="Liberation Serif, serif" font-size="18.5" fill="#222">(f)</text>
<circle cx="304.3" cy="457.1" r="81.19999999999999" fill="none" stroke="#000" stroke-width="0.8"/>
<rect x="392.2" y="496.18" width="12.2" height="7.82" fill="#000000" shape-rendering="crispEdges"/>
<rect x="392.2" y="488.87" width="12.2" height="7.82" fill="#363093" shape-rendering="crispEdges"/>
<rect x="392.2" y="481.55" width="12.2" height="7.82" fill="#3637a0" shape-rendering="crispEdges"/>
<rect x="392.2" y="474.24" width="12.2" height="7.82" fill="#353dad" shape-rendering="crispEdges"/>
<rect x="392.2" y="466.92" width="12.2" height="7.82" fill="#3243ba" shape-rendering="crispEdges"/>
<rect x="392.2" y="459.61" width="12.2" height="7.82" fill="#2c4ac7" shape-rendering="crispEdges"/>
<rect x="392.2" y="452.29" width="12.2" height="7.82" fill="#2053d4" shape-rendering="crispEdges"/>
<rect x="392.2" y="444.98" width="12.2" height="7.82" fill="#0f5cdd" shape-rendering="crispEdges"/>
<rect x="392.2" y="437.66" width="12.2" height="7.82" fill="#0363e1" shape-rendering="crispEdges"/>
<rect x="392.2" y="430.34" width="12.2" height="7.82" fill="#0268e1" shape-rendering="crispEdges"/>
<rect x="392.2" y="423.03" width="12.2" height="7.82" fill="#046de0" shape-rendering="crispEdges"/>
<rect x="392.2" y="415.71" width="12.2" height="7.82" fill="#0871de" shape-rendering="crispEdges"/>
<rect x="392.2" y="408.4" width="12.2" height="7.82" fill="#0d75dc" shape-rendering="crispEdges"/>
<rect x="392.2" y="401.08" width="12.2" height="7.82" fill="#1079da" shape-rendering="crispEdges"/>
<rect x="392.2" y="393.77" width="12.2" height="7.82" fill="#127dd8" shape-rendering="crispEdges"/>
<rect x="392.2" y="386.45" width="12.2" height="7.82" fill="#1481d6" shape-rendering="crispEdges"/>
<rect x="392.2" y="379.13" width="12.2" height="7.82" fill="#1485d4" shape-rendering="crispEdges"/>
<rect x="392.2" y="371.82" width="12.2" height="7.82" fill="#1389d3" shape-rendering="crispEdges"/>
<rect x="392.2" y="364.5" width="12.2" height="7.82" fill="#108ed2" shape-rendering="crispEdges"/>
<rect x="392.2" y="357.19" width="12.2" height="7.82" fill="#0c93d2" shape-rendering="crispEdges"/>
<rect x="392.2" y="349.87" width="12.2" height="7.82" fill="#0998d1" shape-rendering="crispEdges"/>
<rect x="392.2" y="342.56" width="12.2" height="7.82" fill="#079ccf" shape-rendering="crispEdges"/>
<rect x="392.2" y="335.24" width="12.2" height="7.82" fill="#06a0cd" shape-rendering="crispEdges"/>
<rect x="392.2" y="327.93" width="12.2" height="7.82" fill="#06a4ca" shape-rendering="crispEdges"/>
<rect x="392.2" y="320.61" width="12.2" height="7.82" fill="#06a7c6" shape-rendering="crispEdges"/>
<rect x="392.2" y="313.29" width="12.2" height="7.82" fill="#07a9c2" shape-rendering="crispEdges"/>
<rect x="392.2" y="305.98" width="12.2" height="7.82" fill="#0aacbe" shape-rendering="crispEdges"/>
<rect x="392.2" y="298.66" width="12.2" height="7.82" fill="#0faeb9" shape-rendering="crispEdges"/>
<rect x="392.2" y="291.35" width="12.2" height="7.82" fill="#15b1b4" shape-rendering="crispEdges"/>
<rect x="392.2" y="284.03" width="12.2" height="7.82" fill="#1db3af" shape-rendering="crispEdges"/>
<rect x="392.2" y="276.72" width="12.2" height="7.82" fill="#25b5a9" shape-rendering="crispEdges"/>
<rect x="392.2" y="269.4" width="12.2" height="7.82" fill="#2eb7a4" shape-rendering="crispEdges"/>
<rect x="392.2" y="262.08" width="12.2" height="7.82" fill="#38b99e" shape-rendering="crispEdges"/>
<rect x="392.2" y="254.77" width="12.2" height="7.82" fill="#42bb98" shape-rendering="crispEdges"/>
<rect x="392.2" y="247.45" width="12.2" height="7.82" fill="#4dbc92" shape-rendering="crispEdges"/>
<rect x="392.2" y="240.14" width="12.2" height="7.82" fill="#59bd8c" shape-rendering="crispEdges"/>
<rect x="392.2" y="232.82" width="12.2" height="7.82" fill="#65be86" shape-rendering="crispEdges"/>
<rect x="392.2" y="225.51" width="12.2" height="7.82" fill="#71bf80" shape-rendering="crispEdges"/>
<rect x="392.2" y="218.19" width="12.2" height="7.82" fill="#7cbf7b" shape-rendering="crispEdges"/>
<rect x="392.2" y="210.88" width="12.2" height="7.82" fill="#87bf77" shape-rendering="crispEdges"/>
<rect x="392.2" y="203.56" width="12.2" height="7.82" fill="#92bf73" shape-rendering="crispEdges"/>
<rect x="392.2" y="196.24" width="12.2" height="7.82" fill="#9cbf6f" shape-rendering="crispEdges"/>
<rect x="392.2" y="188.93" width="12.2" height="7.82" fill="#a5be6b" shape-rendering="crispEdges"/>
<rect x="392.2" y="181.61" width="12.2" height="7.82" fill="#aebe67" shape-rendering="crispEdges"/>
<rect x="392.2" y="174.3" width="12.2" height="7.82" fill="#b7bd64" shape-rendering="crispEdges"/>
<rect x="392.2" y="166.98" width="12.2" height="7.82" fill="#c0bc60" shape-rendering="crispEdges"/>
<rect x="392.2" y="159.67" width="12.2" height="7.82" fill="#c8bc5d" shape-rendering="crispEdges"/>
<rect x="392.2" y="152.35" width="12.2" height="7.82" fill="#d1bb59" shape-rendering="crispEdges"/>
<rect x="392.2" y="145.03" width="12.2" height="7.82" fill="#d9ba56" shape-rendering="crispEdges"/>
<rect x="392.2" y="137.72" width="12.2" height="7.82" fill="#e1b952" shape-rendering="crispEdges"/>
<rect x="392.2" y="130.4" width="12.2" height="7.82" fill="#e9b94e" shape-rendering="crispEdges"/>
<rect x="392.2" y="123.09" width="12.2" height="7.82" fill="#f1b94a" shape-rendering="crispEdges"/>
<rect x="392.2" y="115.77" width="12.2" height="7.82" fill="#f8bb44" shape-rendering="crispEdges"/>
<rect x="392.2" y="108.46" width="12.2" height="7.82" fill="#fdbe3d" shape-rendering="crispEdges"/>
<rect x="392.2" y="101.14" width="12.2" height="7.82" fill="#ffc337" shape-rendering="crispEdges"/>
<rect x="392.2" y="93.82" width="12.2" height="7.82" fill="#fec832" shape-rendering="crispEdges"/>
<rect x="392.2" y="86.51" width="12.2" height="7.82" fill="#fcce2e" shape-rendering="crispEdges"/>
<rect x="392.2" y="79.19" width="12.2" height="7.82" fill="#fad32a" shape-rendering="crispEdges"/>
<rect x="392.2" y="71.88" width="12.2" height="7.82" fill="#f7d826" shape-rendering="crispEdges"/>
<rect x="392.2" y="64.56" width="12.2" height="7.82" fill="#f5de21" shape-rendering="crispEdges"/>
<rect x="392.2" y="57.25" width="12.2" height="7.82" fill="#f5e41d" shape-rendering="crispEdges"/>
<rect x="392.2" y="49.93" width="12.2" height="7.82" fill="#f5eb18" shape-rendering="crispEdges"/>
<rect x="392.2" y="42.62" width="12.2" height="7.82" fill="#f6f313" shape-rendering="crispEdges"/>
<rect x="392.2" y="35.3" width="12.2" height="7.82" fill="#f9fb0e" shape-rendering="crispEdges"/>
<rect x="392.2" y="35.3" width="12.2" height="468.2" fill="none" stroke="#262626" stroke-width="0.6"/>
<g font-family="Liberation Serif, serif" fill="#222" font-size="15">
<text x="409" y="508.9">0</text>
<line x1="392.2" y1="456.68" x2="394.7" y2="456.68" stroke="#262626" stroke-width="0.6" />
<line x1="401.9" y1="456.68" x2="404.4" y2="456.68" stroke="#262626" stroke-width="0.6" />
<text x="409" y="462.08">0.1</text>
<line x1="392.2" y1="409.86" x2="394.7" y2="409.86" stroke="#262626" stroke-width="0.6" />
<line x1="401.9" y1="409.86" x2="404.4" y2="409.86" stroke="#262626" stroke-width="0.6" />
<text x="409" y="415.26">0.2</text>
<line x1="392.2" y1="363.04" x2="394.7" y2="363.04" stroke="#262626" stroke-width="0.6" />
<line x1="401.9" y1="363.04" x2="404.4" y2="363.04" stroke="#262626" stroke-width="0.6" />
<text x="409" y="368.44">0.3</text>
<line x1="392.2" y1="316.22" x2="394.7" y2="316.22" stroke="#262626" stroke-width="0.6" />
<line x1="401.9" y1="316.22" x2="404.4" y2="316.22" stroke="#262626" stroke-width="0.6" />
<text x="409" y="321.62">0.4</text>
<line x1="392.2" y1="269.4" x2="394.7" y2="269.4" stroke="#262626" stroke-width="0.6" />
<line x1="401.9" y1="269.4" x2="404.4" y2="269.4" stroke="#262626" stroke-width="0.6" />
<text x="409" y="274.8">0.5</text>
<line x1="392.2" y1="222.58" x2="394.7" y2="222.58" stroke="#262626" stroke-width="0.6" />
<line x1="401.9" y1="222.58" x2="404.4" y2="222.58" stroke="#262626" stroke-width="0.6" />
<text x="409" y="227.98">0.6</text>
<line x1="392.2" y1="175.76" x2="394.7" y2="175.76" stroke="#262626" stroke-width="0.6" />
<line x1="401.9" y1="175.76" x2="404.4" y2="175.76" stroke="#262626" stroke-width="0.6" />
<text x="409" y="181.16">0.7</text>
<line x1="392.2" y1="128.94" x2="394.7" y2="128.94" stroke="#262626" stroke-width="0.6" />
<line x1="401.9" y1="128.94" x2="404.4" y2="128.94" stroke="#262626" stroke-width="0.6" />
<text x="409" y="134.34">0.8</text>
<line x1="392.2" y1="82.12" x2="394.7" y2="82.12" stroke="#262626" stroke-width="0.6" />
<line x1="401.9" y1="82.12" x2="404.4" y2="82.12" stroke="#262626" stroke-width="0.6" />
<text x="409" y="87.52">0.9</text>
<text x="409" y="40.7">1</text>
</g>
<text transform="translate(442.8,295.3) rotate(-90)" font-family="Liberation Serif, serif" font-style="italic" fill="#222" font-size="17.3" letter-spacing="1.6">B<tspan font-size="13" dy="3.5">z</tspan><tspan dy="-3.5">/B</tspan><tspan font-size="13" dy="3.5">0</tspan></text>
</svg>
</body></html>
